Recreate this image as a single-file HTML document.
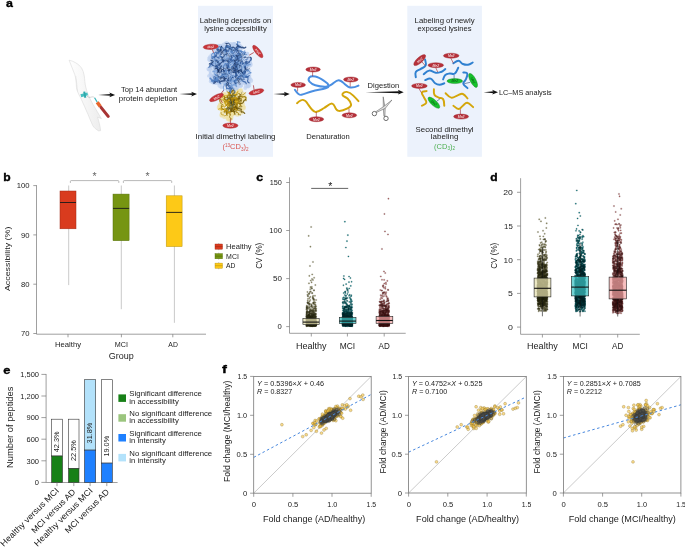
<!DOCTYPE html>
<html lang="en"><head><meta charset="utf-8"><title>Figure</title>
<style>html,body{margin:0;padding:0;background:#fff}svg{display:block}text{font-family:"Liberation Sans",Arial,sans-serif}</style>
</head><body>
<svg width="685" height="547" viewBox="0 0 685 547">
<rect width="685" height="547" fill="#fff"/>
<g id="panelA">
<rect x="198" y="5.8" width="75" height="151" fill="#ECF2FC"/>
<rect x="407.3" y="5.8" width="74.6" height="151" fill="#ECF2FC"/>
<text x="6.10" y="6.70" font-size="10.9" text-anchor="start" fill="#000" font-weight="bold" textLength="6.9" lengthAdjust="spacingAndGlyphs"  stroke="#000" stroke-width="0.35">a</text>
<defs><linearGradient id="armg" x1="0" y1="0" x2="1" y2="0"><stop offset="0" stop-color="#FFFFFF"/><stop offset="1" stop-color="#EDEDED"/></linearGradient></defs>
<path d="M69.1,60.2 C73,61 78.5,63.5 81.6,68 C84.2,72.5 84.6,78 84.8,81.3 C85.4,86 86.2,89.5 87.4,92.8 C89,97 91,101 93,104.4 C95,108 97.5,112 99.6,115.6 L101.4,118.6 L97.6,117.2 C98.8,121 100.2,126 100.6,130.6 L98.7,130.9 C96,129.5 94.5,128 92.9,125.8 C91,122 89.5,118 88,114.3 C85.5,109 83.5,104 81.4,99.4 C79,95 77,91 76.5,87.9 C76.3,83 76,78.5 74.8,74.7 C73,70 71,65 69.1,60.2 Z" fill="url(#armg)" stroke="#D6D6D6" stroke-width="0.55"/>
<path d="M75.8,76 C76.8,81 76.8,86 77.6,91.5" fill="none" stroke="#DDDDDD" stroke-width="0.5"/>
<path d="M80.4,94.2 L87.3,92.4 L88,95.2 L81.2,97.2 Z" fill="#45BFC0"/>
<path d="M83.2,91.8 L85.2,91.4 L86.3,97.6 L84.4,98 Z" fill="#2FA9AC"/>
<path d="M87,96 C90,99.5 92,95 94.6,97.8" fill="none" stroke="#9A9A9A" stroke-width="0.4"/>
<line x1="94.6" y1="97.8" x2="97.3" y2="102.2" stroke="#38B5B8" stroke-width="1.2"/>
<line x1="97.2" y1="102.3" x2="100.3" y2="106.5" stroke="#E8652B" stroke-width="3.6"/>
<line x1="101" y1="107.4" x2="108.2" y2="116.4" stroke="#A83434" stroke-width="3.1" stroke-linecap="round"/>
<path d="M98.2,94.90 L110.9,93.95 L110.9,95.85 Z" fill="#111"/>
<path d="M115.1,94.90 L109.3,92.50 L110.7,94.90 L109.3,97.30 Z" fill="#111"/>
<path d="M179.3,94.10 L192.8,93.15 L192.8,95.05 Z" fill="#111"/>
<path d="M197.0,94.10 L191.2,91.70 L192.6,94.10 L191.2,96.50 Z" fill="#111"/>
<path d="M273.3,94.10 L285.5,93.15 L285.5,95.05 Z" fill="#111"/>
<path d="M289.7,94.10 L283.9,91.70 L285.3,94.10 L283.9,96.50 Z" fill="#111"/>
<path d="M365.3,92.20 L399.5,91.25 L399.5,93.15 Z" fill="#111"/>
<path d="M403.7,92.20 L397.9,89.80 L399.3,92.20 L397.9,94.60 Z" fill="#111"/>
<path d="M483.6,92.20 L493.8,91.25 L493.8,93.15 Z" fill="#111"/>
<path d="M498.0,92.20 L492.2,89.80 L493.6,92.20 L492.2,94.60 Z" fill="#111"/>
<text x="149.10" y="91.70" font-size="7.5" text-anchor="middle" fill="#222" textLength="56.2" lengthAdjust="spacingAndGlyphs" >Top 14 abundant</text>
<text x="148.10" y="100.50" font-size="7.5" text-anchor="middle" fill="#222" textLength="58.6" lengthAdjust="spacingAndGlyphs" >protein depletion</text>
<text x="235.50" y="22.70" font-size="7.5" text-anchor="middle" fill="#222" textLength="71.5" lengthAdjust="spacingAndGlyphs" >Labeling depends on</text>
<text x="235.50" y="30.80" font-size="7.5" text-anchor="middle" fill="#222" textLength="62.5" lengthAdjust="spacingAndGlyphs" >lysine accessibility</text>
<text x="235.50" y="138.80" font-size="7.5" text-anchor="middle" fill="#222" textLength="80.0" lengthAdjust="spacingAndGlyphs" >Initial dimethyl labeling</text>
<text x="235.5" y="149.2" font-size="7.5" text-anchor="middle" fill="#D9534F">(<tspan font-size="4.6" dy="-2.6">13</tspan><tspan dy="2.6">CD</tspan><tspan font-size="4.6" dy="1.6">3</tspan><tspan dy="-1.6">)</tspan><tspan font-size="4.6" dy="1.6">2</tspan></text>
<text x="328.00" y="139.00" font-size="7.5" text-anchor="middle" fill="#222" textLength="43.5" lengthAdjust="spacingAndGlyphs" >Denaturation</text>
<text x="383.40" y="87.50" font-size="7.5" text-anchor="middle" fill="#222" textLength="31.6" lengthAdjust="spacingAndGlyphs" >Digestion</text>
<text x="444.60" y="22.70" font-size="7.5" text-anchor="middle" fill="#222" textLength="60.0" lengthAdjust="spacingAndGlyphs" >Labeling of newly</text>
<text x="444.60" y="30.80" font-size="7.5" text-anchor="middle" fill="#222" textLength="54.0" lengthAdjust="spacingAndGlyphs" >exposed lysines</text>
<text x="444.60" y="132.00" font-size="7.5" text-anchor="middle" fill="#222" textLength="58.0" lengthAdjust="spacingAndGlyphs" >Second dimethyl</text>
<text x="444.60" y="138.60" font-size="7.5" text-anchor="middle" fill="#222" textLength="27.5" lengthAdjust="spacingAndGlyphs" >labeling</text>
<text x="444.6" y="148.6" font-size="7.5" text-anchor="middle" fill="#4CAF50">(CD<tspan font-size="4.6" dy="1.6">3</tspan><tspan dy="-1.6">)</tspan><tspan font-size="4.6" dy="1.6">2</tspan></text>
<text x="498.90" y="95.00" font-size="7.5" text-anchor="start" fill="#222" textLength="52.8" lengthAdjust="spacingAndGlyphs" >LC–MS analysis</text>
<circle cx="222.7" cy="103.7" r="2.8" fill="#EFE2A6" fill-opacity="0.75"/>
<circle cx="223.3" cy="102.7" r="2.4" fill="#EFE2A6" fill-opacity="0.75"/>
<circle cx="231.1" cy="114.8" r="2.4" fill="#EFE2A6" fill-opacity="0.75"/>
<circle cx="234.7" cy="99.3" r="2.0" fill="#EFE2A6" fill-opacity="0.75"/>
<circle cx="237.4" cy="114.3" r="2.5" fill="#EFE2A6" fill-opacity="0.75"/>
<circle cx="241.1" cy="111.7" r="2.9" fill="#EFE2A6" fill-opacity="0.75"/>
<circle cx="231.0" cy="91.6" r="1.8" fill="#EFE2A6" fill-opacity="0.75"/>
<circle cx="239.6" cy="107.8" r="1.7" fill="#EFE2A6" fill-opacity="0.75"/>
<circle cx="231.2" cy="111.3" r="1.6" fill="#EFE2A6" fill-opacity="0.75"/>
<circle cx="223.9" cy="102.9" r="2.7" fill="#EFE2A6" fill-opacity="0.75"/>
<circle cx="223.8" cy="98.5" r="2.2" fill="#EFE2A6" fill-opacity="0.75"/>
<circle cx="231.6" cy="93.1" r="2.0" fill="#EFE2A6" fill-opacity="0.75"/>
<circle cx="243.2" cy="107.8" r="2.7" fill="#EFE2A6" fill-opacity="0.75"/>
<circle cx="233.7" cy="94.5" r="1.9" fill="#EFE2A6" fill-opacity="0.75"/>
<circle cx="229.7" cy="107.1" r="2.6" fill="#EFE2A6" fill-opacity="0.75"/>
<circle cx="220.4" cy="108.4" r="2.1" fill="#EFE2A6" fill-opacity="0.75"/>
<circle cx="243.4" cy="103.8" r="1.6" fill="#EFE2A6" fill-opacity="0.75"/>
<circle cx="228.9" cy="118.7" r="2.2" fill="#EFE2A6" fill-opacity="0.75"/>
<circle cx="239.4" cy="105.1" r="1.7" fill="#EFE2A6" fill-opacity="0.75"/>
<circle cx="229.2" cy="91.0" r="2.0" fill="#EFE2A6" fill-opacity="0.75"/>
<circle cx="235.6" cy="110.3" r="2.9" fill="#EFE2A6" fill-opacity="0.75"/>
<circle cx="234.3" cy="98.3" r="1.9" fill="#EFE2A6" fill-opacity="0.75"/>
<circle cx="233.3" cy="106.6" r="2.6" fill="#EFE2A6" fill-opacity="0.75"/>
<circle cx="231.5" cy="115.3" r="2.2" fill="#EFE2A6" fill-opacity="0.75"/>
<circle cx="230.5" cy="117.1" r="1.8" fill="#EFE2A6" fill-opacity="0.75"/>
<circle cx="231.3" cy="98.4" r="2.1" fill="#EFE2A6" fill-opacity="0.75"/>
<circle cx="230.2" cy="111.8" r="2.9" fill="#EFE2A6" fill-opacity="0.75"/>
<circle cx="237.2" cy="96.4" r="2.8" fill="#EFE2A6" fill-opacity="0.75"/>
<circle cx="229.9" cy="113.5" r="2.7" fill="#EFE2A6" fill-opacity="0.75"/>
<circle cx="231.3" cy="98.8" r="2.9" fill="#EFE2A6" fill-opacity="0.75"/>
<circle cx="230.2" cy="111.6" r="2.6" fill="#EFE2A6" fill-opacity="0.75"/>
<circle cx="226.2" cy="109.7" r="1.7" fill="#EFE2A6" fill-opacity="0.75"/>
<circle cx="236.6" cy="112.7" r="1.9" fill="#EFE2A6" fill-opacity="0.75"/>
<circle cx="228.8" cy="95.8" r="2.2" fill="#EFE2A6" fill-opacity="0.75"/>
<circle cx="240.6" cy="103.8" r="2.3" fill="#EFE2A6" fill-opacity="0.75"/>
<circle cx="237.1" cy="99.9" r="1.8" fill="#EFE2A6" fill-opacity="0.75"/>
<circle cx="243.5" cy="99.4" r="1.9" fill="#EFE2A6" fill-opacity="0.75"/>
<circle cx="230.6" cy="117.2" r="2.8" fill="#EFE2A6" fill-opacity="0.75"/>
<circle cx="229.9" cy="119.0" r="2.7" fill="#EFE2A6" fill-opacity="0.75"/>
<circle cx="228.7" cy="95.2" r="1.7" fill="#EFE2A6" fill-opacity="0.75"/>
<circle cx="241.1" cy="111.4" r="1.9" fill="#EFE2A6" fill-opacity="0.75"/>
<circle cx="233.4" cy="95.4" r="2.7" fill="#EFE2A6" fill-opacity="0.75"/>
<circle cx="229.0" cy="96.8" r="1.8" fill="#EFE2A6" fill-opacity="0.75"/>
<circle cx="233.1" cy="99.3" r="1.9" fill="#EFE2A6" fill-opacity="0.75"/>
<circle cx="224.5" cy="94.5" r="2.4" fill="#EFE2A6" fill-opacity="0.75"/>
<circle cx="224.2" cy="117.1" r="1.9" fill="#EFE2A6" fill-opacity="0.75"/>
<circle cx="237.4" cy="106.6" r="2.2" fill="#EFE2A6" fill-opacity="0.75"/>
<circle cx="235.4" cy="107.6" r="2.1" fill="#EFE2A6" fill-opacity="0.75"/>
<circle cx="229.4" cy="99.6" r="2.1" fill="#EFE2A6" fill-opacity="0.75"/>
<circle cx="244.4" cy="97.4" r="2.5" fill="#EFE2A6" fill-opacity="0.75"/>
<circle cx="233.3" cy="91.4" r="1.8" fill="#EFE2A6" fill-opacity="0.75"/>
<circle cx="233.3" cy="104.5" r="2.8" fill="#EFE2A6" fill-opacity="0.75"/>
<circle cx="234.5" cy="87.9" r="1.6" fill="#EFE2A6" fill-opacity="0.75"/>
<circle cx="230.2" cy="93.4" r="2.5" fill="#EFE2A6" fill-opacity="0.75"/>
<circle cx="221.7" cy="115.5" r="1.7" fill="#EFE2A6" fill-opacity="0.75"/>
<circle cx="224.4" cy="96.1" r="2.8" fill="#EFE2A6" fill-opacity="0.75"/>
<circle cx="236.4" cy="90.4" r="2.6" fill="#EFE2A6" fill-opacity="0.75"/>
<circle cx="239.5" cy="101.2" r="2.5" fill="#EFE2A6" fill-opacity="0.75"/>
<circle cx="243.8" cy="98.6" r="2.1" fill="#EFE2A6" fill-opacity="0.75"/>
<circle cx="240.2" cy="90.8" r="2.3" fill="#EFE2A6" fill-opacity="0.75"/>
<circle cx="229.8" cy="94.8" r="2.4" fill="#EFE2A6" fill-opacity="0.75"/>
<circle cx="230.7" cy="99.8" r="2.4" fill="#EFE2A6" fill-opacity="0.75"/>
<circle cx="242.7" cy="107.1" r="2.5" fill="#EFE2A6" fill-opacity="0.75"/>
<circle cx="221.3" cy="109.0" r="2.4" fill="#EFE2A6" fill-opacity="0.75"/>
<circle cx="220.4" cy="104.8" r="1.7" fill="#EFE2A6" fill-opacity="0.75"/>
<circle cx="233.1" cy="100.9" r="2.4" fill="#EFE2A6" fill-opacity="0.75"/>
<circle cx="226.3" cy="102.2" r="2.5" fill="#EFE2A6" fill-opacity="0.75"/>
<circle cx="223.2" cy="100.2" r="2.8" fill="#EFE2A6" fill-opacity="0.75"/>
<circle cx="231.3" cy="105.1" r="2.0" fill="#EFE2A6" fill-opacity="0.75"/>
<circle cx="232.3" cy="96.4" r="1.8" fill="#EFE2A6" fill-opacity="0.75"/>
<circle cx="242.3" cy="99.6" r="2.2" fill="#EFE2A6" fill-opacity="0.75"/>
<circle cx="239.2" cy="100.0" r="2.5" fill="#EFE2A6" fill-opacity="0.75"/>
<circle cx="230.5" cy="114.0" r="2.6" fill="#EFE2A6" fill-opacity="0.75"/>
<circle cx="243.9" cy="99.8" r="2.1" fill="#EFE2A6" fill-opacity="0.75"/>
<circle cx="228.3" cy="97.0" r="1.8" fill="#EFE2A6" fill-opacity="0.75"/>
<circle cx="221.7" cy="99.7" r="2.7" fill="#EFE2A6" fill-opacity="0.75"/>
<circle cx="235.2" cy="88.0" r="2.0" fill="#EFE2A6" fill-opacity="0.75"/>
<circle cx="232.0" cy="113.9" r="2.0" fill="#EFE2A6" fill-opacity="0.75"/>
<circle cx="229.7" cy="113.7" r="2.4" fill="#EFE2A6" fill-opacity="0.75"/>
<circle cx="225.6" cy="101.3" r="2.7" fill="#EFE2A6" fill-opacity="0.75"/>
<circle cx="239.9" cy="105.3" r="1.7" fill="#EFE2A6" fill-opacity="0.75"/>
<circle cx="241.1" cy="110.4" r="1.7" fill="#EFE2A6" fill-opacity="0.75"/>
<circle cx="234.4" cy="91.5" r="2.0" fill="#EFE2A6" fill-opacity="0.75"/>
<circle cx="233.2" cy="101.6" r="1.8" fill="#EFE2A6" fill-opacity="0.75"/>
<circle cx="230.0" cy="103.5" r="2.7" fill="#EFE2A6" fill-opacity="0.75"/>
<circle cx="230.0" cy="109.4" r="1.7" fill="#EFE2A6" fill-opacity="0.75"/>
<circle cx="229.9" cy="94.0" r="2.4" fill="#EFE2A6" fill-opacity="0.75"/>
<circle cx="231.0" cy="89.9" r="2.8" fill="#EFE2A6" fill-opacity="0.75"/>
<circle cx="232.5" cy="96.4" r="2.2" fill="#EFE2A6" fill-opacity="0.75"/>
<circle cx="231.9" cy="105.1" r="2.2" fill="#EFE2A6" fill-opacity="0.75"/>
<circle cx="233.5" cy="96.8" r="2.0" fill="#EFE2A6" fill-opacity="0.75"/>
<circle cx="222.5" cy="111.9" r="2.3" fill="#EFE2A6" fill-opacity="0.75"/>
<circle cx="228.3" cy="91.8" r="2.1" fill="#EFE2A6" fill-opacity="0.75"/>
<circle cx="240.4" cy="90.6" r="1.7" fill="#EFE2A6" fill-opacity="0.75"/>
<circle cx="242.8" cy="101.6" r="1.8" fill="#EFE2A6" fill-opacity="0.75"/>
<circle cx="222.2" cy="103.6" r="2.8" fill="#EFE2A6" fill-opacity="0.75"/>
<circle cx="222.7" cy="109.1" r="2.7" fill="#EFE2A6" fill-opacity="0.75"/>
<circle cx="240.9" cy="90.5" r="2.2" fill="#EFE2A6" fill-opacity="0.75"/>
<circle cx="231.4" cy="96.7" r="2.5" fill="#EFE2A6" fill-opacity="0.75"/>
<circle cx="240.2" cy="93.9" r="2.5" fill="#EFE2A6" fill-opacity="0.75"/>
<circle cx="228.7" cy="118.6" r="2.9" fill="#EFE2A6" fill-opacity="0.75"/>
<circle cx="240.7" cy="105.2" r="2.6" fill="#EFE2A6" fill-opacity="0.75"/>
<circle cx="222.1" cy="114.9" r="2.7" fill="#EFE2A6" fill-opacity="0.75"/>
<circle cx="228.7" cy="106.3" r="2.2" fill="#EFE2A6" fill-opacity="0.75"/>
<circle cx="224.4" cy="95.6" r="2.2" fill="#EFE2A6" fill-opacity="0.75"/>
<circle cx="240.9" cy="109.9" r="1.7" fill="#EFE2A6" fill-opacity="0.75"/>
<circle cx="235.9" cy="98.0" r="2.0" fill="#EFE2A6" fill-opacity="0.75"/>
<circle cx="235.2" cy="98.3" r="1.8" fill="#EFE2A6" fill-opacity="0.75"/>
<circle cx="223.1" cy="98.3" r="2.7" fill="#EFE2A6" fill-opacity="0.75"/>
<circle cx="233.6" cy="88.1" r="2.2" fill="#EFE2A6" fill-opacity="0.75"/>
<circle cx="235.7" cy="103.3" r="1.9" fill="#EFE2A6" fill-opacity="0.75"/>
<circle cx="226.6" cy="99.7" r="2.5" fill="#EFE2A6" fill-opacity="0.75"/>
<circle cx="230.3" cy="92.9" r="2.7" fill="#EFE2A6" fill-opacity="0.75"/>
<circle cx="227.5" cy="98.0" r="2.1" fill="#EFE2A6" fill-opacity="0.75"/>
<circle cx="242.8" cy="93.9" r="1.9" fill="#EFE2A6" fill-opacity="0.75"/>
<circle cx="243.4" cy="94.0" r="2.3" fill="#EFE2A6" fill-opacity="0.75"/>
<circle cx="228.8" cy="98.7" r="2.3" fill="#EFE2A6" fill-opacity="0.75"/>
<circle cx="223.4" cy="99.8" r="1.6" fill="#EFE2A6" fill-opacity="0.75"/>
<circle cx="240.7" cy="104.6" r="2.1" fill="#EFE2A6" fill-opacity="0.75"/>
<circle cx="239.0" cy="93.7" r="2.2" fill="#EFE2A6" fill-opacity="0.75"/>
<circle cx="232.4" cy="99.4" r="2.3" fill="#EFE2A6" fill-opacity="0.75"/>
<circle cx="219.6" cy="107.4" r="2.8" fill="#EFE2A6" fill-opacity="0.75"/>
<circle cx="226.9" cy="113.6" r="1.8" fill="#EFE2A6" fill-opacity="0.75"/>
<circle cx="220.6" cy="105.4" r="2.8" fill="#EFE2A6" fill-opacity="0.75"/>
<circle cx="225.3" cy="102.3" r="1.8" fill="#EFE2A6" fill-opacity="0.75"/>
<circle cx="228.1" cy="90.4" r="1.8" fill="#EFE2A6" fill-opacity="0.75"/>
<circle cx="233.2" cy="101.4" r="1.9" fill="#EFE2A6" fill-opacity="0.75"/>
<circle cx="228.2" cy="116.6" r="2.0" fill="#EFE2A6" fill-opacity="0.75"/>
<circle cx="222.8" cy="110.8" r="1.7" fill="#EFE2A6" fill-opacity="0.75"/>
<circle cx="233.7" cy="98.0" r="2.3" fill="#EFE2A6" fill-opacity="0.75"/>
<circle cx="229.2" cy="110.3" r="2.3" fill="#EFE2A6" fill-opacity="0.75"/>
<circle cx="224.2" cy="104.6" r="2.1" fill="#EFE2A6" fill-opacity="0.75"/>
<circle cx="228.1" cy="100.6" r="1.9" fill="#EFE2A6" fill-opacity="0.75"/>
<circle cx="229.6" cy="92.1" r="2.3" fill="#EFE2A6" fill-opacity="0.75"/>
<circle cx="241.1" cy="96.0" r="2.7" fill="#EFE2A6" fill-opacity="0.75"/>
<circle cx="227.8" cy="117.0" r="2.7" fill="#EFE2A6" fill-opacity="0.75"/>
<circle cx="239.1" cy="100.6" r="2.0" fill="#EFE2A6" fill-opacity="0.75"/>
<circle cx="237.9" cy="102.0" r="2.9" fill="#EFE2A6" fill-opacity="0.75"/>
<circle cx="236.6" cy="101.1" r="1.9" fill="#EFE2A6" fill-opacity="0.75"/>
<circle cx="234.3" cy="95.5" r="1.7" fill="#EFE2A6" fill-opacity="0.75"/>
<circle cx="239.1" cy="96.3" r="2.6" fill="#EFE2A6" fill-opacity="0.75"/>
<circle cx="234.2" cy="112.4" r="2.5" fill="#EFE2A6" fill-opacity="0.75"/>
<circle cx="236.6" cy="106.3" r="2.5" fill="#EFE2A6" fill-opacity="0.75"/>
<circle cx="244.5" cy="99.3" r="1.8" fill="#EFE2A6" fill-opacity="0.75"/>
<circle cx="222.5" cy="99.1" r="2.3" fill="#EFE2A6" fill-opacity="0.75"/>
<circle cx="232.6" cy="96.6" r="1.7" fill="#EFE2A6" fill-opacity="0.75"/>
<circle cx="233.0" cy="106.0" r="2.3" fill="#EFE2A6" fill-opacity="0.75"/>
<circle cx="224.1" cy="99.1" r="1.8" fill="#EFE2A6" fill-opacity="0.75"/>
<circle cx="231.5" cy="110.6" r="2.7" fill="#EFE2A6" fill-opacity="0.75"/>
<circle cx="243.1" cy="106.9" r="1.7" fill="#EFE2A6" fill-opacity="0.75"/>
<path d="M225.2,102.1 Q223.5,100.4 222.4,99.9 Q220.4,100.8 219.5,98.2" fill="none" stroke="#A27C07" stroke-width="0.78" stroke-linecap="round" stroke-opacity="0.9"/>
<path d="M228.4,103.7 Q229.5,104.0 230.2,103.0 Q231.8,104.7 233.3,103.8" fill="none" stroke="#A27C07" stroke-width="0.82" stroke-linecap="round" stroke-opacity="0.9"/>
<path d="M237.2,104.5 Q236.6,104.9 235.7,105.5 Q237.2,106.8 236.0,108.4 Q235.1,109.1 234.2,109.9 Q234.3,110.3 232.5,111.4" fill="none" stroke="#9A7808" stroke-width="1.24" stroke-linecap="round" stroke-opacity="0.9"/>
<path d="M232.2,95.7 Q232.4,97.0 231.5,97.7 Q230.7,99.0 231.6,100.4 Q233.6,100.8 233.1,103.4 Q233.5,104.3 232.9,105.0" fill="none" stroke="#A27C07" stroke-width="0.82" stroke-linecap="round" stroke-opacity="0.9"/>
<path d="M234.3,107.5 Q234.7,108.9 232.6,109.7 Q233.0,110.7 233.2,111.7 Q234.9,113.6 234.3,115.0" fill="none" stroke="#D1A512" stroke-width="0.80" stroke-linecap="round" stroke-opacity="0.9"/>
<path d="M234.7,97.4 Q234.3,96.4 236.0,94.5 Q235.6,93.3 236.9,92.7 Q238.0,92.4 237.9,91.1" fill="none" stroke="#D1A512" stroke-width="1.05" stroke-linecap="round" stroke-opacity="0.9"/>
<path d="M229.1,112.2 Q227.8,112.4 226.7,113.9 Q226.9,115.4 224.7,115.8 Q223.1,114.4 222.1,114.8 Q220.5,114.5 221.0,112.4" fill="none" stroke="#B8900A" stroke-width="0.77" stroke-linecap="round" stroke-opacity="0.9"/>
<path d="M237.9,99.3 Q237.9,100.2 238.1,100.9 Q237.7,101.4 236.2,101.5 Q237.0,102.9 236.3,103.9" fill="none" stroke="#D1A512" stroke-width="1.05" stroke-linecap="round" stroke-opacity="0.9"/>
<path d="M228.4,105.3 Q230.3,105.6 230.9,103.4 Q232.2,101.5 233.6,101.7" fill="none" stroke="#D1A512" stroke-width="0.80" stroke-linecap="round" stroke-opacity="0.9"/>
<path d="M226.7,113.6 Q226.8,112.6 226.7,111.8 Q226.1,110.9 226.0,109.9 Q225.4,108.8 226.4,108.2" fill="none" stroke="#9A7808" stroke-width="1.12" stroke-linecap="round" stroke-opacity="0.9"/>
<path d="M232.1,91.3 Q232.5,92.1 232.6,94.1 Q231.5,95.2 232.4,96.5" fill="none" stroke="#9A7808" stroke-width="0.70" stroke-linecap="round" stroke-opacity="0.9"/>
<path d="M227.4,107.0 Q228.9,108.5 229.5,108.5 Q231.0,108.6 232.0,108.7 Q232.4,108.4 233.9,110.3" fill="none" stroke="#9A7808" stroke-width="0.92" stroke-linecap="round" stroke-opacity="0.9"/>
<path d="M234.1,91.7 Q232.5,89.9 231.3,89.5 Q229.5,89.2 228.3,89.0 Q227.6,89.9 226.2,89.6" fill="none" stroke="#A27C07" stroke-width="0.77" stroke-linecap="round" stroke-opacity="0.9"/>
<path d="M226.9,101.2 Q225.3,99.7 224.5,99.8 Q223.9,98.7 225.0,97.7 Q226.6,97.0 227.7,97.1" fill="none" stroke="#A27C07" stroke-width="1.06" stroke-linecap="round" stroke-opacity="0.9"/>
<path d="M224.7,110.7 Q224.7,109.6 223.6,109.2 Q222.5,108.6 221.6,109.8 Q220.2,108.1 218.6,109.1" fill="none" stroke="#D1A512" stroke-width="1.12" stroke-linecap="round" stroke-opacity="0.9"/>
<path d="M236.9,98.8 Q237.8,98.3 238.3,99.4 Q239.4,98.4 239.8,98.3 Q239.3,97.4 239.7,96.4 Q240.3,95.4 240.1,94.7" fill="none" stroke="#6E560A" stroke-width="0.75" stroke-linecap="round" stroke-opacity="0.9"/>
<path d="M234.7,104.3 Q233.2,104.9 232.3,104.9 Q230.7,106.1 230.0,106.1 Q230.0,104.7 228.3,104.2" fill="none" stroke="#6E560A" stroke-width="1.00" stroke-linecap="round" stroke-opacity="0.9"/>
<path d="M237.3,103.1 Q238.5,103.7 239.3,103.0 Q241.3,105.1 241.0,106.0" fill="none" stroke="#A27C07" stroke-width="1.04" stroke-linecap="round" stroke-opacity="0.9"/>
<path d="M240.4,103.4 Q241.7,102.0 241.1,100.7 Q241.7,99.8 241.5,98.6" fill="none" stroke="#9A7808" stroke-width="0.91" stroke-linecap="round" stroke-opacity="0.9"/>
<path d="M231.9,96.0 Q232.2,96.7 231.5,98.3 Q232.3,100.0 230.1,100.8 Q228.5,101.8 228.8,103.5 Q227.9,104.4 228.9,105.8" fill="none" stroke="#6E560A" stroke-width="0.89" stroke-linecap="round" stroke-opacity="0.9"/>
<path d="M239.3,98.6 Q237.9,99.6 237.0,98.8 Q235.1,99.8 233.5,98.8" fill="none" stroke="#6E560A" stroke-width="1.24" stroke-linecap="round" stroke-opacity="0.9"/>
<path d="M233.7,111.2 Q232.1,111.4 231.0,110.9 Q229.8,111.9 229.0,112.0 Q228.4,112.9 226.8,113.2" fill="none" stroke="#9A7808" stroke-width="1.22" stroke-linecap="round" stroke-opacity="0.9"/>
<path d="M230.3,94.6 Q230.8,93.3 230.4,92.4 Q229.2,90.8 230.6,89.5" fill="none" stroke="#B8900A" stroke-width="1.18" stroke-linecap="round" stroke-opacity="0.9"/>
<path d="M231.8,111.5 Q232.7,111.8 233.9,110.4 Q234.5,109.4 234.4,108.5 Q235.9,107.2 235.6,106.3" fill="none" stroke="#6E560A" stroke-width="0.92" stroke-linecap="round" stroke-opacity="0.9"/>
<path d="M226.9,102.8 Q226.0,102.0 224.6,101.5 Q224.4,100.4 223.2,99.1" fill="none" stroke="#D1A512" stroke-width="0.78" stroke-linecap="round" stroke-opacity="0.9"/>
<path d="M235.8,109.8 Q234.0,108.3 232.4,109.2 Q231.3,109.5 230.3,109.3 Q230.9,110.2 230.2,110.9 Q230.5,111.2 231.7,111.8" fill="none" stroke="#6E560A" stroke-width="0.87" stroke-linecap="round" stroke-opacity="0.9"/>
<path d="M233.6,107.1 Q234.7,107.5 237.0,107.6 Q238.0,107.9 238.8,107.1 Q240.4,107.0 241.9,106.7" fill="none" stroke="#6E560A" stroke-width="0.76" stroke-linecap="round" stroke-opacity="0.9"/>
<path d="M231.0,98.4 Q231.2,97.8 229.4,97.0 Q229.7,96.5 229.8,95.4 Q231.4,93.8 230.0,92.3 Q229.8,91.4 229.7,90.8" fill="none" stroke="#9A7808" stroke-width="0.71" stroke-linecap="round" stroke-opacity="0.9"/>
<path d="M237.1,95.0 Q235.8,94.5 234.7,95.3 Q232.9,94.1 231.6,95.5 Q230.3,96.0 229.6,94.5" fill="none" stroke="#B8900A" stroke-width="1.15" stroke-linecap="round" stroke-opacity="0.9"/>
<path d="M234.2,112.4 Q235.8,110.3 236.8,110.0 Q237.4,109.4 239.9,110.9" fill="none" stroke="#6E560A" stroke-width="0.71" stroke-linecap="round" stroke-opacity="0.9"/>
<path d="M232.5,110.9 Q231.5,110.7 229.7,109.3 Q228.6,108.7 229.2,106.9 Q228.4,105.6 229.6,104.7" fill="none" stroke="#6E560A" stroke-width="0.90" stroke-linecap="round" stroke-opacity="0.9"/>
<path d="M235.4,106.3 Q237.3,108.4 237.9,108.7 Q239.4,108.3 241.3,109.2 Q240.6,110.7 241.4,112.1 Q243.2,111.5 244.7,113.3" fill="none" stroke="#6E560A" stroke-width="1.25" stroke-linecap="round" stroke-opacity="0.9"/>
<path d="M236.7,104.2 Q237.6,105.3 237.0,107.6 Q235.0,108.1 233.7,108.2" fill="none" stroke="#9A7808" stroke-width="1.17" stroke-linecap="round" stroke-opacity="0.9"/>
<path d="M230.1,93.2 Q231.5,92.3 232.5,90.7 Q234.1,90.8 234.4,88.2 Q236.0,87.4 237.2,88.8" fill="none" stroke="#6E560A" stroke-width="1.09" stroke-linecap="round" stroke-opacity="0.9"/>
<path d="M234.7,103.7 Q233.2,102.4 231.9,103.9 Q230.5,103.5 229.7,102.7" fill="none" stroke="#9A7808" stroke-width="0.79" stroke-linecap="round" stroke-opacity="0.9"/>
<path d="M238.4,96.6 Q239.6,96.0 241.0,96.6 Q242.1,97.3 242.8,97.1 Q244.6,95.9 246.1,97.8 Q245.4,99.4 246.0,100.6" fill="none" stroke="#9A7808" stroke-width="1.21" stroke-linecap="round" stroke-opacity="0.9"/>
<path d="M239.6,103.6 Q241.2,103.9 242.3,103.3 Q243.2,103.1 243.7,101.4 Q243.4,100.5 245.6,99.5" fill="none" stroke="#6E560A" stroke-width="1.16" stroke-linecap="round" stroke-opacity="0.9"/>
<path d="M232.8,107.9 Q232.0,108.6 232.6,109.5 Q232.1,110.5 231.2,110.6 Q229.2,112.1 229.0,113.3 Q229.9,114.4 230.0,114.8" fill="none" stroke="#6E560A" stroke-width="0.71" stroke-linecap="round" stroke-opacity="0.9"/>
<path d="M224.0,111.9 Q225.2,110.4 226.5,110.1 Q227.8,108.2 228.1,107.1" fill="none" stroke="#B8900A" stroke-width="1.18" stroke-linecap="round" stroke-opacity="0.9"/>
<path d="M223.0,105.0 Q220.9,104.4 220.4,102.6 Q219.1,100.6 219.7,99.3 Q218.9,99.0 219.3,97.8" fill="none" stroke="#9A7808" stroke-width="0.94" stroke-linecap="round" stroke-opacity="0.9"/>
<path d="M226.3,100.8 Q228.2,99.9 229.3,101.8 Q228.8,103.5 229.2,105.4 Q227.2,105.1 225.9,105.3" fill="none" stroke="#9A7808" stroke-width="0.73" stroke-linecap="round" stroke-opacity="0.9"/>
<path d="M237.0,99.3 Q235.9,97.8 233.5,98.7 Q232.6,99.1 231.9,99.0 Q231.8,100.0 230.3,100.3" fill="none" stroke="#B8900A" stroke-width="0.76" stroke-linecap="round" stroke-opacity="0.9"/>
<path d="M227.3,104.5 Q229.0,103.9 229.9,102.8 Q228.3,102.6 228.2,100.0" fill="none" stroke="#9A7808" stroke-width="0.71" stroke-linecap="round" stroke-opacity="0.9"/>
<path d="M223.8,109.4 Q222.1,109.7 221.6,107.7 Q221.4,106.8 221.3,105.5" fill="none" stroke="#9A7808" stroke-width="1.10" stroke-linecap="round" stroke-opacity="0.9"/>
<path d="M229.4,105.8 Q228.4,104.8 228.9,104.2 Q227.3,103.6 225.9,104.5 Q225.5,103.5 225.5,102.7" fill="none" stroke="#B8900A" stroke-width="0.88" stroke-linecap="round" stroke-opacity="0.9"/>
<path d="M233.3,110.6 Q233.5,111.6 234.7,111.5 Q234.4,113.1 235.0,114.2" fill="none" stroke="#6E560A" stroke-width="1.02" stroke-linecap="round" stroke-opacity="0.9"/>
<path d="M228.3,98.8 Q226.8,100.3 226.5,100.5 Q224.7,99.0 224.1,98.4 Q224.9,97.5 224.3,96.4 Q223.1,95.8 221.7,96.1" fill="none" stroke="#9A7808" stroke-width="1.24" stroke-linecap="round" stroke-opacity="0.9"/>
<path d="M233.8,92.7 Q232.3,94.6 231.6,95.2 Q232.8,96.5 232.4,97.5 Q233.7,99.5 233.1,100.8 Q232.0,101.6 230.8,101.5" fill="none" stroke="#6E560A" stroke-width="0.94" stroke-linecap="round" stroke-opacity="0.9"/>
<path d="M236.0,109.2 Q236.1,111.2 236.4,112.5 Q237.0,111.8 238.3,113.0 Q238.5,114.0 238.3,114.8 Q239.4,114.5 240.7,114.9" fill="none" stroke="#9A7808" stroke-width="0.89" stroke-linecap="round" stroke-opacity="0.9"/>
<path d="M230.5,111.0 Q231.0,112.4 229.9,113.2 Q230.7,114.3 230.4,114.9 Q228.7,116.6 230.2,118.2 Q231.2,119.1 231.8,119.1" fill="none" stroke="#9A7808" stroke-width="0.94" stroke-linecap="round" stroke-opacity="0.9"/>
<path d="M235.2,95.5 Q235.7,96.8 236.5,97.8 Q235.8,98.9 236.3,99.6 Q235.9,101.5 234.4,102.2" fill="none" stroke="#A27C07" stroke-width="0.93" stroke-linecap="round" stroke-opacity="0.9"/>
<path d="M231.1,99.3 Q231.0,100.6 231.6,101.8 Q232.0,102.6 233.1,102.2 Q234.8,102.9 235.9,102.4" fill="none" stroke="#B8900A" stroke-width="1.05" stroke-linecap="round" stroke-opacity="0.9"/>
<path d="M235.9,105.1 Q236.1,104.7 236.4,103.3 Q237.3,103.1 237.2,102.0 Q238.8,100.3 237.7,99.0 Q239.0,99.5 240.4,98.8" fill="none" stroke="#D1A512" stroke-width="0.76" stroke-linecap="round" stroke-opacity="0.9"/>
<path d="M229.4,107.0 Q230.7,108.4 232.2,107.0 Q231.0,105.3 232.7,103.9 Q230.9,103.5 230.0,102.1" fill="none" stroke="#B8900A" stroke-width="1.08" stroke-linecap="round" stroke-opacity="0.9"/>
<path d="M234.5,100.1 Q232.8,100.1 231.7,99.7 Q230.4,97.9 231.3,96.7 Q232.9,95.2 233.6,95.2 Q233.3,93.4 234.7,92.0" fill="none" stroke="#9A7808" stroke-width="1.18" stroke-linecap="round" stroke-opacity="0.9"/>
<path d="M238.4,97.7 Q238.8,98.8 236.6,99.9 Q235.1,101.0 234.0,100.0" fill="none" stroke="#6E560A" stroke-width="1.25" stroke-linecap="round" stroke-opacity="0.9"/>
<path d="M231.4,111.5 Q230.9,110.2 231.8,108.5 Q233.2,107.7 233.9,107.5 Q235.2,106.8 236.1,107.1 Q236.5,108.6 237.4,109.6" fill="none" stroke="#6E560A" stroke-width="1.22" stroke-linecap="round" stroke-opacity="0.9"/>
<path d="M229.6,98.6 Q230.5,99.3 231.3,98.9 Q232.1,99.0 233.1,98.5 Q233.9,97.5 234.3,97.3 Q236.1,97.8 237.0,98.7" fill="none" stroke="#B8900A" stroke-width="1.23" stroke-linecap="round" stroke-opacity="0.9"/>
<path d="M239.2,93.7 Q240.4,94.8 241.0,94.7 Q242.2,95.1 243.1,94.9 Q243.9,94.4 244.3,93.7 Q245.4,92.9 245.8,92.6" fill="none" stroke="#A27C07" stroke-width="0.72" stroke-linecap="round" stroke-opacity="0.9"/>
<path d="M227.0,100.2 Q227.7,99.3 228.8,99.5 Q229.9,100.2 230.9,99.1 Q231.5,100.0 233.0,100.3 Q234.6,102.2 233.5,103.7" fill="none" stroke="#6E560A" stroke-width="0.91" stroke-linecap="round" stroke-opacity="0.9"/>
<path d="M230.2,92.5 Q229.2,92.4 228.6,92.9 Q226.9,91.3 227.1,90.5" fill="none" stroke="#A27C07" stroke-width="1.14" stroke-linecap="round" stroke-opacity="0.9"/>
<path d="M240.4,98.7 Q239.9,99.7 237.0,100.0 Q235.7,100.2 234.5,100.3 Q234.7,101.8 232.4,102.3 Q231.8,102.8 230.0,102.9" fill="none" stroke="#6E560A" stroke-width="0.99" stroke-linecap="round" stroke-opacity="0.9"/>
<path d="M234.5,95.2 Q235.8,95.8 237.0,94.3 Q238.4,93.1 239.3,93.6 Q240.1,95.0 241.2,95.4 Q241.8,96.0 242.5,96.7" fill="none" stroke="#9A7808" stroke-width="0.73" stroke-linecap="round" stroke-opacity="0.9"/>
<path d="M228.8,100.6 Q228.2,101.5 227.8,101.8 Q228.9,103.1 228.0,104.1" fill="none" stroke="#A27C07" stroke-width="1.02" stroke-linecap="round" stroke-opacity="0.9"/>
<path d="M227.1,115.2 Q226.5,113.5 226.3,112.5 Q227.0,111.4 227.9,110.5" fill="none" stroke="#9A7808" stroke-width="1.22" stroke-linecap="round" stroke-opacity="0.9"/>
<path d="M230.2,105.2 Q231.2,104.9 232.2,103.4 Q233.0,103.4 233.6,102.9 Q235.4,102.9 235.8,100.6 Q236.2,98.9 236.1,97.7" fill="none" stroke="#D1A512" stroke-width="0.93" stroke-linecap="round" stroke-opacity="0.9"/>
<path d="M224.6,106.8 Q223.1,105.5 222.0,106.4 Q220.8,107.1 221.2,108.4" fill="none" stroke="#B8900A" stroke-width="0.98" stroke-linecap="round" stroke-opacity="0.9"/>
<path d="M232.3,102.4 Q231.0,101.1 231.3,100.4 Q229.2,99.2 227.7,100.7 Q225.8,102.2 224.4,101.3 Q224.3,102.0 224.6,103.2" fill="none" stroke="#B8900A" stroke-width="0.90" stroke-linecap="round" stroke-opacity="0.9"/>
<path d="M232.6,99.1 Q232.7,101.0 231.3,102.0 Q232.8,103.5 231.0,105.3 Q232.9,106.9 234.3,106.6" fill="none" stroke="#A27C07" stroke-width="1.10" stroke-linecap="round" stroke-opacity="0.9"/>
<path d="M224.8,112.8 Q224.6,111.8 225.5,111.0 Q225.8,111.5 228.3,109.6 Q228.1,108.3 227.9,107.0 Q227.7,106.5 226.3,105.1" fill="none" stroke="#9A7808" stroke-width="0.98" stroke-linecap="round" stroke-opacity="0.9"/>
<path d="M236.0,98.5 Q237.1,99.3 237.9,98.5 Q237.9,97.2 239.8,97.3" fill="none" stroke="#A27C07" stroke-width="0.72" stroke-linecap="round" stroke-opacity="0.9"/>
<path d="M228.0,106.3 Q228.7,104.7 227.7,103.6 Q227.1,102.9 228.5,100.8 Q229.1,99.8 228.0,99.1" fill="none" stroke="#D1A512" stroke-width="1.04" stroke-linecap="round" stroke-opacity="0.9"/>
<path d="M228.9,98.5 Q228.7,97.6 227.3,97.5 Q227.1,96.4 227.9,95.5 Q229.1,95.5 229.2,94.1 Q230.1,93.8 230.1,92.6" fill="none" stroke="#9A7808" stroke-width="1.22" stroke-linecap="round" stroke-opacity="0.9"/>
<path d="M227.9,95.0 Q227.3,95.6 226.2,95.5 Q225.1,95.9 224.4,95.7 Q222.5,97.2 222.0,98.0" fill="none" stroke="#D1A512" stroke-width="0.87" stroke-linecap="round" stroke-opacity="0.9"/>
<path d="M235.3,109.4 Q235.7,109.8 237.1,109.9 Q237.8,110.7 238.8,110.4" fill="none" stroke="#D1A512" stroke-width="0.78" stroke-linecap="round" stroke-opacity="0.9"/>
<path d="M238.3,97.8 Q238.9,98.6 238.2,99.4 Q236.2,100.4 235.1,101.0" fill="none" stroke="#D1A512" stroke-width="0.78" stroke-linecap="round" stroke-opacity="0.9"/>
<path d="M232.2,100.2 Q230.8,98.7 229.5,99.6 Q228.5,98.1 229.9,96.6 Q230.1,95.7 230.3,94.8 Q229.4,94.5 228.6,93.9" fill="none" stroke="#B8900A" stroke-width="0.80" stroke-linecap="round" stroke-opacity="0.9"/>
<path d="M241.1,100.4 Q240.4,99.8 238.4,102.2 Q236.4,103.1 236.6,104.9" fill="none" stroke="#9A7808" stroke-width="1.12" stroke-linecap="round" stroke-opacity="0.9"/>
<path d="M232.6,97.1 Q231.4,96.3 230.5,96.9 Q229.5,98.5 229.8,99.6" fill="none" stroke="#A27C07" stroke-width="1.21" stroke-linecap="round" stroke-opacity="0.9"/>
<path d="M239.0,106.8 Q239.9,106.2 240.4,106.1 Q239.3,104.1 240.1,102.7 Q239.1,101.8 238.9,101.4 Q237.4,100.0 238.1,98.4" fill="none" stroke="#9A7808" stroke-width="0.99" stroke-linecap="round" stroke-opacity="0.9"/>
<path d="M235.0,94.5 Q234.4,94.2 233.5,94.7 Q232.1,95.8 232.1,96.6" fill="none" stroke="#D1A512" stroke-width="1.16" stroke-linecap="round" stroke-opacity="0.9"/>
<path d="M229.7,100.0 Q227.7,100.3 226.3,100.3 Q226.9,101.7 225.4,102.9 Q225.0,104.1 225.8,104.9 Q225.8,105.9 225.3,106.9" fill="none" stroke="#D1A512" stroke-width="0.82" stroke-linecap="round" stroke-opacity="0.9"/>
<path d="M227.1,104.4 Q227.8,102.6 228.1,101.4 Q227.6,100.5 226.6,100.7" fill="none" stroke="#A27C07" stroke-width="0.78" stroke-linecap="round" stroke-opacity="0.9"/>
<path d="M231.6,102.2 Q230.8,103.9 232.9,105.4 Q233.8,104.8 234.7,105.0 Q235.6,104.1 234.8,102.8 Q233.7,102.8 233.7,101.1" fill="none" stroke="#6E560A" stroke-width="1.09" stroke-linecap="round" stroke-opacity="0.9"/>
<path d="M229.8,112.6 Q228.5,112.7 228.0,111.2 Q226.7,109.9 226.8,109.4 Q225.6,109.7 224.8,108.5" fill="none" stroke="#D1A512" stroke-width="1.22" stroke-linecap="round" stroke-opacity="0.9"/>
<path d="M228.0,112.0 Q229.2,110.4 228.2,109.1 Q228.0,108.2 226.9,108.2" fill="none" stroke="#1F4C66" stroke-width="0.49" stroke-linecap="round" stroke-opacity="0.7"/>
<path d="M237.8,96.8 Q237.6,97.7 238.4,98.3 Q239.8,97.8 240.7,99.2 Q241.3,100.2 240.6,101.5" fill="none" stroke="#3A3420" stroke-width="0.53" stroke-linecap="round" stroke-opacity="0.7"/>
<path d="M238.5,99.0 Q240.4,97.7 239.8,96.1 Q239.6,95.0 241.5,93.6 Q241.3,92.6 242.3,91.8" fill="none" stroke="#3A3420" stroke-width="0.47" stroke-linecap="round" stroke-opacity="0.7"/>
<path d="M229.4,108.7 Q229.7,107.6 230.9,107.4 Q231.5,107.2 231.5,105.9 Q233.0,104.7 231.7,102.9 Q231.0,101.6 228.9,101.4" fill="none" stroke="#1F4C66" stroke-width="0.55" stroke-linecap="round" stroke-opacity="0.7"/>
<path d="M233.9,97.3 Q232.1,95.6 231.4,95.3 Q229.3,95.3 228.2,96.9 Q227.7,98.5 227.8,99.6" fill="none" stroke="#3A3420" stroke-width="0.52" stroke-linecap="round" stroke-opacity="0.7"/>
<path d="M230.2,99.9 Q231.7,101.9 230.8,103.3 Q229.9,104.2 230.4,106.4 Q228.8,108.0 227.8,107.6 Q226.4,108.7 226.5,109.6" fill="none" stroke="#1F4C66" stroke-width="0.59" stroke-linecap="round" stroke-opacity="0.7"/>
<path d="M226.3,99.1 Q227.6,98.7 228.8,98.3 Q230.0,96.6 231.5,97.2 Q233.5,95.7 234.6,95.9" fill="none" stroke="#1F4C66" stroke-width="0.45" stroke-linecap="round" stroke-opacity="0.7"/>
<path d="M229.9,98.1 Q230.6,99.5 230.7,100.9 Q231.6,101.8 231.3,102.4 Q231.3,103.0 231.1,104.5" fill="none" stroke="#3A3420" stroke-width="0.47" stroke-linecap="round" stroke-opacity="0.7"/>
<path d="M228.0,109.6 Q229.2,108.3 231.0,108.4 Q231.1,107.6 232.2,107.4" fill="none" stroke="#3A3420" stroke-width="0.52" stroke-linecap="round" stroke-opacity="0.7"/>
<path d="M229.6,97.8 Q231.1,99.6 231.2,100.5 Q232.3,101.1 231.9,102.1 Q231.2,103.1 230.7,103.4" fill="none" stroke="#3A3420" stroke-width="0.45" stroke-linecap="round" stroke-opacity="0.7"/>
<path d="M233.5,101.1 Q233.8,103.1 233.6,104.5 Q231.8,106.3 232.4,107.6" fill="none" stroke="#1F4C66" stroke-width="0.59" stroke-linecap="round" stroke-opacity="0.7"/>
<path d="M235.0,96.4 Q233.7,96.5 233.5,94.8 Q233.3,95.2 231.2,96.7" fill="none" stroke="#1F4C66" stroke-width="0.60" stroke-linecap="round" stroke-opacity="0.7"/>
<circle cx="238.3" cy="83.3" r="2.4" fill="#BFD2EF" fill-opacity="0.7"/>
<circle cx="218.9" cy="67.9" r="2.6" fill="#BFD2EF" fill-opacity="0.7"/>
<circle cx="234.6" cy="50.8" r="2.3" fill="#BFD2EF" fill-opacity="0.7"/>
<circle cx="229.1" cy="67.8" r="2.1" fill="#BFD2EF" fill-opacity="0.7"/>
<circle cx="224.0" cy="63.3" r="2.6" fill="#BFD2EF" fill-opacity="0.7"/>
<circle cx="230.2" cy="77.8" r="1.7" fill="#BFD2EF" fill-opacity="0.7"/>
<circle cx="247.9" cy="66.2" r="2.7" fill="#BFD2EF" fill-opacity="0.7"/>
<circle cx="226.0" cy="63.6" r="2.0" fill="#BFD2EF" fill-opacity="0.7"/>
<circle cx="221.5" cy="66.6" r="2.8" fill="#BFD2EF" fill-opacity="0.7"/>
<circle cx="223.1" cy="73.3" r="2.7" fill="#BFD2EF" fill-opacity="0.7"/>
<circle cx="244.0" cy="82.5" r="2.2" fill="#BFD2EF" fill-opacity="0.7"/>
<circle cx="216.8" cy="62.1" r="2.2" fill="#BFD2EF" fill-opacity="0.7"/>
<circle cx="230.6" cy="70.7" r="2.7" fill="#BFD2EF" fill-opacity="0.7"/>
<circle cx="230.8" cy="87.2" r="1.9" fill="#BFD2EF" fill-opacity="0.7"/>
<circle cx="249.4" cy="62.2" r="2.6" fill="#BFD2EF" fill-opacity="0.7"/>
<circle cx="230.3" cy="48.6" r="2.5" fill="#BFD2EF" fill-opacity="0.7"/>
<circle cx="239.9" cy="77.8" r="2.7" fill="#BFD2EF" fill-opacity="0.7"/>
<circle cx="235.4" cy="88.0" r="2.8" fill="#BFD2EF" fill-opacity="0.7"/>
<circle cx="217.8" cy="74.1" r="2.2" fill="#BFD2EF" fill-opacity="0.7"/>
<circle cx="212.5" cy="81.9" r="2.1" fill="#BFD2EF" fill-opacity="0.7"/>
<circle cx="235.6" cy="67.7" r="2.5" fill="#BFD2EF" fill-opacity="0.7"/>
<circle cx="244.5" cy="65.8" r="2.2" fill="#BFD2EF" fill-opacity="0.7"/>
<circle cx="210.9" cy="60.2" r="1.9" fill="#BFD2EF" fill-opacity="0.7"/>
<circle cx="216.3" cy="55.4" r="2.4" fill="#BFD2EF" fill-opacity="0.7"/>
<circle cx="232.8" cy="75.3" r="2.1" fill="#BFD2EF" fill-opacity="0.7"/>
<circle cx="240.6" cy="60.4" r="2.4" fill="#BFD2EF" fill-opacity="0.7"/>
<circle cx="226.5" cy="73.6" r="1.7" fill="#BFD2EF" fill-opacity="0.7"/>
<circle cx="236.6" cy="47.4" r="2.1" fill="#BFD2EF" fill-opacity="0.7"/>
<circle cx="221.6" cy="48.8" r="2.8" fill="#BFD2EF" fill-opacity="0.7"/>
<circle cx="242.6" cy="62.6" r="2.9" fill="#BFD2EF" fill-opacity="0.7"/>
<circle cx="245.4" cy="62.2" r="2.7" fill="#BFD2EF" fill-opacity="0.7"/>
<circle cx="215.5" cy="67.3" r="1.9" fill="#BFD2EF" fill-opacity="0.7"/>
<circle cx="235.3" cy="59.9" r="1.7" fill="#BFD2EF" fill-opacity="0.7"/>
<circle cx="235.6" cy="47.1" r="2.2" fill="#BFD2EF" fill-opacity="0.7"/>
<circle cx="231.6" cy="61.9" r="1.9" fill="#BFD2EF" fill-opacity="0.7"/>
<circle cx="225.5" cy="81.2" r="1.8" fill="#BFD2EF" fill-opacity="0.7"/>
<circle cx="240.6" cy="72.3" r="2.8" fill="#BFD2EF" fill-opacity="0.7"/>
<circle cx="247.9" cy="64.4" r="2.2" fill="#BFD2EF" fill-opacity="0.7"/>
<circle cx="228.7" cy="89.5" r="2.3" fill="#BFD2EF" fill-opacity="0.7"/>
<circle cx="228.5" cy="62.6" r="1.9" fill="#BFD2EF" fill-opacity="0.7"/>
<circle cx="239.3" cy="48.7" r="2.7" fill="#BFD2EF" fill-opacity="0.7"/>
<circle cx="217.5" cy="57.4" r="2.4" fill="#BFD2EF" fill-opacity="0.7"/>
<circle cx="236.1" cy="55.9" r="2.3" fill="#BFD2EF" fill-opacity="0.7"/>
<circle cx="225.9" cy="86.8" r="1.6" fill="#BFD2EF" fill-opacity="0.7"/>
<circle cx="220.5" cy="45.4" r="1.6" fill="#BFD2EF" fill-opacity="0.7"/>
<circle cx="214.3" cy="56.0" r="2.7" fill="#BFD2EF" fill-opacity="0.7"/>
<circle cx="219.4" cy="60.5" r="2.1" fill="#BFD2EF" fill-opacity="0.7"/>
<circle cx="249.2" cy="60.8" r="1.8" fill="#BFD2EF" fill-opacity="0.7"/>
<circle cx="234.6" cy="70.5" r="1.6" fill="#BFD2EF" fill-opacity="0.7"/>
<circle cx="221.2" cy="69.4" r="2.7" fill="#BFD2EF" fill-opacity="0.7"/>
<circle cx="224.6" cy="59.6" r="2.3" fill="#BFD2EF" fill-opacity="0.7"/>
<circle cx="222.0" cy="81.2" r="1.9" fill="#BFD2EF" fill-opacity="0.7"/>
<circle cx="233.7" cy="75.2" r="2.1" fill="#BFD2EF" fill-opacity="0.7"/>
<circle cx="224.9" cy="49.6" r="1.7" fill="#BFD2EF" fill-opacity="0.7"/>
<circle cx="224.0" cy="45.2" r="2.6" fill="#BFD2EF" fill-opacity="0.7"/>
<circle cx="229.5" cy="64.5" r="2.2" fill="#BFD2EF" fill-opacity="0.7"/>
<circle cx="246.7" cy="74.5" r="1.8" fill="#BFD2EF" fill-opacity="0.7"/>
<circle cx="226.3" cy="55.0" r="2.5" fill="#BFD2EF" fill-opacity="0.7"/>
<circle cx="227.2" cy="70.9" r="2.1" fill="#BFD2EF" fill-opacity="0.7"/>
<circle cx="221.4" cy="87.3" r="2.0" fill="#BFD2EF" fill-opacity="0.7"/>
<circle cx="212.7" cy="66.2" r="2.8" fill="#BFD2EF" fill-opacity="0.7"/>
<circle cx="242.9" cy="77.1" r="2.3" fill="#BFD2EF" fill-opacity="0.7"/>
<circle cx="226.9" cy="43.5" r="2.0" fill="#BFD2EF" fill-opacity="0.7"/>
<circle cx="224.0" cy="50.3" r="2.3" fill="#BFD2EF" fill-opacity="0.7"/>
<circle cx="247.3" cy="74.8" r="2.9" fill="#BFD2EF" fill-opacity="0.7"/>
<circle cx="221.4" cy="77.0" r="2.9" fill="#BFD2EF" fill-opacity="0.7"/>
<circle cx="233.7" cy="70.6" r="1.7" fill="#BFD2EF" fill-opacity="0.7"/>
<circle cx="236.5" cy="47.7" r="2.2" fill="#BFD2EF" fill-opacity="0.7"/>
<circle cx="226.8" cy="64.2" r="2.4" fill="#BFD2EF" fill-opacity="0.7"/>
<circle cx="214.2" cy="72.5" r="2.1" fill="#BFD2EF" fill-opacity="0.7"/>
<circle cx="220.5" cy="73.0" r="1.7" fill="#BFD2EF" fill-opacity="0.7"/>
<circle cx="219.0" cy="71.2" r="2.5" fill="#BFD2EF" fill-opacity="0.7"/>
<circle cx="236.7" cy="48.3" r="2.2" fill="#BFD2EF" fill-opacity="0.7"/>
<circle cx="230.2" cy="81.0" r="2.2" fill="#BFD2EF" fill-opacity="0.7"/>
<circle cx="214.4" cy="49.5" r="1.7" fill="#BFD2EF" fill-opacity="0.7"/>
<circle cx="213.7" cy="68.6" r="2.5" fill="#BFD2EF" fill-opacity="0.7"/>
<circle cx="244.0" cy="53.3" r="2.4" fill="#BFD2EF" fill-opacity="0.7"/>
<circle cx="230.0" cy="47.3" r="2.7" fill="#BFD2EF" fill-opacity="0.7"/>
<circle cx="223.3" cy="48.1" r="1.9" fill="#BFD2EF" fill-opacity="0.7"/>
<circle cx="240.8" cy="59.2" r="2.4" fill="#BFD2EF" fill-opacity="0.7"/>
<circle cx="238.8" cy="45.9" r="2.9" fill="#BFD2EF" fill-opacity="0.7"/>
<circle cx="241.3" cy="67.0" r="2.0" fill="#BFD2EF" fill-opacity="0.7"/>
<circle cx="222.5" cy="72.2" r="2.3" fill="#BFD2EF" fill-opacity="0.7"/>
<circle cx="239.6" cy="72.7" r="2.8" fill="#BFD2EF" fill-opacity="0.7"/>
<circle cx="228.3" cy="50.5" r="1.7" fill="#BFD2EF" fill-opacity="0.7"/>
<circle cx="246.8" cy="61.1" r="1.9" fill="#BFD2EF" fill-opacity="0.7"/>
<circle cx="220.0" cy="82.7" r="2.5" fill="#BFD2EF" fill-opacity="0.7"/>
<circle cx="227.5" cy="89.4" r="2.0" fill="#BFD2EF" fill-opacity="0.7"/>
<circle cx="228.5" cy="88.1" r="1.8" fill="#BFD2EF" fill-opacity="0.7"/>
<circle cx="224.9" cy="57.0" r="2.4" fill="#BFD2EF" fill-opacity="0.7"/>
<circle cx="226.7" cy="80.8" r="2.8" fill="#BFD2EF" fill-opacity="0.7"/>
<circle cx="214.8" cy="69.7" r="2.4" fill="#BFD2EF" fill-opacity="0.7"/>
<circle cx="227.2" cy="76.1" r="2.1" fill="#BFD2EF" fill-opacity="0.7"/>
<circle cx="227.7" cy="76.6" r="2.8" fill="#BFD2EF" fill-opacity="0.7"/>
<circle cx="248.3" cy="71.0" r="2.8" fill="#BFD2EF" fill-opacity="0.7"/>
<circle cx="228.1" cy="63.4" r="2.3" fill="#BFD2EF" fill-opacity="0.7"/>
<circle cx="245.6" cy="71.0" r="2.5" fill="#BFD2EF" fill-opacity="0.7"/>
<circle cx="229.1" cy="68.5" r="2.3" fill="#BFD2EF" fill-opacity="0.7"/>
<circle cx="239.1" cy="73.8" r="2.2" fill="#BFD2EF" fill-opacity="0.7"/>
<circle cx="239.5" cy="57.7" r="1.8" fill="#BFD2EF" fill-opacity="0.7"/>
<circle cx="234.2" cy="45.9" r="2.3" fill="#BFD2EF" fill-opacity="0.7"/>
<circle cx="238.1" cy="69.6" r="2.1" fill="#BFD2EF" fill-opacity="0.7"/>
<circle cx="219.1" cy="62.9" r="2.6" fill="#BFD2EF" fill-opacity="0.7"/>
<circle cx="240.7" cy="47.7" r="2.7" fill="#BFD2EF" fill-opacity="0.7"/>
<circle cx="245.7" cy="68.5" r="1.7" fill="#BFD2EF" fill-opacity="0.7"/>
<circle cx="244.4" cy="54.5" r="2.6" fill="#BFD2EF" fill-opacity="0.7"/>
<circle cx="231.0" cy="71.8" r="2.7" fill="#BFD2EF" fill-opacity="0.7"/>
<circle cx="215.4" cy="55.0" r="2.2" fill="#BFD2EF" fill-opacity="0.7"/>
<circle cx="233.0" cy="53.5" r="2.0" fill="#BFD2EF" fill-opacity="0.7"/>
<circle cx="221.8" cy="76.7" r="2.4" fill="#BFD2EF" fill-opacity="0.7"/>
<circle cx="233.5" cy="62.5" r="1.7" fill="#BFD2EF" fill-opacity="0.7"/>
<circle cx="210.9" cy="65.1" r="1.8" fill="#BFD2EF" fill-opacity="0.7"/>
<circle cx="228.3" cy="72.2" r="1.6" fill="#BFD2EF" fill-opacity="0.7"/>
<circle cx="210.9" cy="67.1" r="2.4" fill="#BFD2EF" fill-opacity="0.7"/>
<circle cx="232.9" cy="72.9" r="2.8" fill="#BFD2EF" fill-opacity="0.7"/>
<circle cx="215.4" cy="62.9" r="2.5" fill="#BFD2EF" fill-opacity="0.7"/>
<circle cx="226.8" cy="49.6" r="1.7" fill="#BFD2EF" fill-opacity="0.7"/>
<circle cx="233.7" cy="56.9" r="1.7" fill="#BFD2EF" fill-opacity="0.7"/>
<circle cx="219.4" cy="80.2" r="2.4" fill="#BFD2EF" fill-opacity="0.7"/>
<circle cx="237.5" cy="84.1" r="2.2" fill="#BFD2EF" fill-opacity="0.7"/>
<circle cx="239.7" cy="84.9" r="2.6" fill="#BFD2EF" fill-opacity="0.7"/>
<circle cx="244.1" cy="55.7" r="1.9" fill="#BFD2EF" fill-opacity="0.7"/>
<circle cx="232.6" cy="44.5" r="2.3" fill="#BFD2EF" fill-opacity="0.7"/>
<circle cx="247.2" cy="53.9" r="2.1" fill="#BFD2EF" fill-opacity="0.7"/>
<circle cx="248.9" cy="58.4" r="2.6" fill="#BFD2EF" fill-opacity="0.7"/>
<circle cx="242.0" cy="67.5" r="2.4" fill="#BFD2EF" fill-opacity="0.7"/>
<circle cx="214.1" cy="53.8" r="2.4" fill="#BFD2EF" fill-opacity="0.7"/>
<circle cx="240.2" cy="85.8" r="2.3" fill="#BFD2EF" fill-opacity="0.7"/>
<circle cx="236.4" cy="59.3" r="2.9" fill="#BFD2EF" fill-opacity="0.7"/>
<circle cx="210.8" cy="59.5" r="2.6" fill="#BFD2EF" fill-opacity="0.7"/>
<circle cx="238.8" cy="57.0" r="1.7" fill="#BFD2EF" fill-opacity="0.7"/>
<circle cx="221.3" cy="72.0" r="2.3" fill="#BFD2EF" fill-opacity="0.7"/>
<circle cx="234.3" cy="53.5" r="1.8" fill="#BFD2EF" fill-opacity="0.7"/>
<circle cx="243.1" cy="69.1" r="2.4" fill="#BFD2EF" fill-opacity="0.7"/>
<circle cx="246.7" cy="69.7" r="1.9" fill="#BFD2EF" fill-opacity="0.7"/>
<circle cx="245.6" cy="80.6" r="2.3" fill="#BFD2EF" fill-opacity="0.7"/>
<circle cx="241.5" cy="56.2" r="1.8" fill="#BFD2EF" fill-opacity="0.7"/>
<circle cx="229.9" cy="81.8" r="2.4" fill="#BFD2EF" fill-opacity="0.7"/>
<circle cx="231.5" cy="46.3" r="2.4" fill="#BFD2EF" fill-opacity="0.7"/>
<circle cx="228.7" cy="81.9" r="2.1" fill="#BFD2EF" fill-opacity="0.7"/>
<circle cx="217.7" cy="67.3" r="2.3" fill="#BFD2EF" fill-opacity="0.7"/>
<circle cx="225.0" cy="67.6" r="2.7" fill="#BFD2EF" fill-opacity="0.7"/>
<circle cx="212.1" cy="55.6" r="2.6" fill="#BFD2EF" fill-opacity="0.7"/>
<circle cx="226.4" cy="43.2" r="2.1" fill="#BFD2EF" fill-opacity="0.7"/>
<circle cx="227.9" cy="67.4" r="2.5" fill="#BFD2EF" fill-opacity="0.7"/>
<circle cx="214.4" cy="57.8" r="2.9" fill="#BFD2EF" fill-opacity="0.7"/>
<circle cx="232.4" cy="77.1" r="2.6" fill="#BFD2EF" fill-opacity="0.7"/>
<circle cx="234.8" cy="51.4" r="1.7" fill="#BFD2EF" fill-opacity="0.7"/>
<circle cx="215.3" cy="82.0" r="2.2" fill="#BFD2EF" fill-opacity="0.7"/>
<circle cx="215.7" cy="70.0" r="2.4" fill="#BFD2EF" fill-opacity="0.7"/>
<circle cx="214.1" cy="55.2" r="2.7" fill="#BFD2EF" fill-opacity="0.7"/>
<circle cx="229.1" cy="52.1" r="1.9" fill="#BFD2EF" fill-opacity="0.7"/>
<circle cx="232.9" cy="46.0" r="2.8" fill="#BFD2EF" fill-opacity="0.7"/>
<circle cx="235.4" cy="87.0" r="2.8" fill="#BFD2EF" fill-opacity="0.7"/>
<circle cx="239.8" cy="72.6" r="2.4" fill="#BFD2EF" fill-opacity="0.7"/>
<circle cx="241.2" cy="83.5" r="1.9" fill="#BFD2EF" fill-opacity="0.7"/>
<circle cx="224.1" cy="54.9" r="1.9" fill="#BFD2EF" fill-opacity="0.7"/>
<circle cx="233.1" cy="82.5" r="2.5" fill="#BFD2EF" fill-opacity="0.7"/>
<circle cx="232.7" cy="85.6" r="2.0" fill="#BFD2EF" fill-opacity="0.7"/>
<circle cx="221.1" cy="55.0" r="1.9" fill="#BFD2EF" fill-opacity="0.7"/>
<circle cx="232.3" cy="70.9" r="2.5" fill="#BFD2EF" fill-opacity="0.7"/>
<circle cx="222.4" cy="70.8" r="2.7" fill="#BFD2EF" fill-opacity="0.7"/>
<circle cx="227.2" cy="63.7" r="2.5" fill="#BFD2EF" fill-opacity="0.7"/>
<circle cx="216.9" cy="57.7" r="2.3" fill="#BFD2EF" fill-opacity="0.7"/>
<circle cx="242.1" cy="63.1" r="2.4" fill="#BFD2EF" fill-opacity="0.7"/>
<circle cx="220.2" cy="55.8" r="2.1" fill="#BFD2EF" fill-opacity="0.7"/>
<circle cx="229.5" cy="47.8" r="2.2" fill="#BFD2EF" fill-opacity="0.7"/>
<circle cx="218.6" cy="65.5" r="2.6" fill="#BFD2EF" fill-opacity="0.7"/>
<circle cx="246.5" cy="68.8" r="2.2" fill="#BFD2EF" fill-opacity="0.7"/>
<circle cx="232.0" cy="84.2" r="2.4" fill="#BFD2EF" fill-opacity="0.7"/>
<circle cx="242.2" cy="75.0" r="1.8" fill="#BFD2EF" fill-opacity="0.7"/>
<circle cx="232.8" cy="53.7" r="2.0" fill="#BFD2EF" fill-opacity="0.7"/>
<circle cx="230.0" cy="71.5" r="1.8" fill="#BFD2EF" fill-opacity="0.7"/>
<circle cx="239.1" cy="81.6" r="2.7" fill="#BFD2EF" fill-opacity="0.7"/>
<circle cx="230.3" cy="74.2" r="2.3" fill="#BFD2EF" fill-opacity="0.7"/>
<circle cx="239.5" cy="76.4" r="2.6" fill="#BFD2EF" fill-opacity="0.7"/>
<circle cx="234.3" cy="85.3" r="2.3" fill="#BFD2EF" fill-opacity="0.7"/>
<circle cx="238.3" cy="72.4" r="2.4" fill="#BFD2EF" fill-opacity="0.7"/>
<circle cx="237.2" cy="72.5" r="2.3" fill="#BFD2EF" fill-opacity="0.7"/>
<circle cx="235.6" cy="51.1" r="2.5" fill="#BFD2EF" fill-opacity="0.7"/>
<circle cx="241.1" cy="67.2" r="2.0" fill="#BFD2EF" fill-opacity="0.7"/>
<circle cx="240.3" cy="59.2" r="2.6" fill="#BFD2EF" fill-opacity="0.7"/>
<circle cx="244.2" cy="70.0" r="2.8" fill="#BFD2EF" fill-opacity="0.7"/>
<circle cx="231.2" cy="48.8" r="1.8" fill="#BFD2EF" fill-opacity="0.7"/>
<circle cx="234.6" cy="63.5" r="2.9" fill="#BFD2EF" fill-opacity="0.7"/>
<circle cx="232.1" cy="46.8" r="2.3" fill="#BFD2EF" fill-opacity="0.7"/>
<circle cx="235.6" cy="78.3" r="2.5" fill="#BFD2EF" fill-opacity="0.7"/>
<circle cx="221.4" cy="54.3" r="2.6" fill="#BFD2EF" fill-opacity="0.7"/>
<circle cx="240.1" cy="70.6" r="1.7" fill="#BFD2EF" fill-opacity="0.7"/>
<circle cx="220.1" cy="85.2" r="2.6" fill="#BFD2EF" fill-opacity="0.7"/>
<circle cx="236.2" cy="77.0" r="1.7" fill="#BFD2EF" fill-opacity="0.7"/>
<circle cx="221.3" cy="53.2" r="1.9" fill="#BFD2EF" fill-opacity="0.7"/>
<circle cx="214.6" cy="82.0" r="2.2" fill="#BFD2EF" fill-opacity="0.7"/>
<circle cx="222.7" cy="49.2" r="2.2" fill="#BFD2EF" fill-opacity="0.7"/>
<circle cx="216.6" cy="61.6" r="1.9" fill="#BFD2EF" fill-opacity="0.7"/>
<circle cx="216.9" cy="67.0" r="2.0" fill="#BFD2EF" fill-opacity="0.7"/>
<circle cx="237.2" cy="87.2" r="2.2" fill="#BFD2EF" fill-opacity="0.7"/>
<circle cx="230.2" cy="70.5" r="1.9" fill="#BFD2EF" fill-opacity="0.7"/>
<circle cx="237.7" cy="56.5" r="2.5" fill="#BFD2EF" fill-opacity="0.7"/>
<circle cx="231.2" cy="85.3" r="2.2" fill="#BFD2EF" fill-opacity="0.7"/>
<circle cx="227.6" cy="49.5" r="2.1" fill="#BFD2EF" fill-opacity="0.7"/>
<circle cx="225.8" cy="84.3" r="2.7" fill="#BFD2EF" fill-opacity="0.7"/>
<circle cx="223.5" cy="51.3" r="2.0" fill="#BFD2EF" fill-opacity="0.7"/>
<circle cx="244.7" cy="52.9" r="1.8" fill="#BFD2EF" fill-opacity="0.7"/>
<circle cx="220.7" cy="47.9" r="2.5" fill="#BFD2EF" fill-opacity="0.7"/>
<circle cx="249.1" cy="61.6" r="1.9" fill="#BFD2EF" fill-opacity="0.7"/>
<circle cx="241.6" cy="66.2" r="2.1" fill="#BFD2EF" fill-opacity="0.7"/>
<circle cx="237.9" cy="65.1" r="2.1" fill="#BFD2EF" fill-opacity="0.7"/>
<circle cx="220.9" cy="57.8" r="1.9" fill="#BFD2EF" fill-opacity="0.7"/>
<circle cx="233.7" cy="48.8" r="2.6" fill="#BFD2EF" fill-opacity="0.7"/>
<circle cx="234.1" cy="45.2" r="2.8" fill="#BFD2EF" fill-opacity="0.7"/>
<circle cx="238.7" cy="45.7" r="2.2" fill="#BFD2EF" fill-opacity="0.7"/>
<circle cx="224.3" cy="50.4" r="2.9" fill="#BFD2EF" fill-opacity="0.7"/>
<circle cx="220.9" cy="53.7" r="2.5" fill="#BFD2EF" fill-opacity="0.7"/>
<circle cx="226.8" cy="74.6" r="2.1" fill="#BFD2EF" fill-opacity="0.7"/>
<circle cx="229.9" cy="67.6" r="1.7" fill="#BFD2EF" fill-opacity="0.7"/>
<circle cx="210.6" cy="72.3" r="1.7" fill="#BFD2EF" fill-opacity="0.7"/>
<circle cx="224.2" cy="60.6" r="2.3" fill="#BFD2EF" fill-opacity="0.7"/>
<circle cx="224.8" cy="81.5" r="2.5" fill="#BFD2EF" fill-opacity="0.7"/>
<circle cx="217.2" cy="74.1" r="2.5" fill="#BFD2EF" fill-opacity="0.7"/>
<circle cx="238.7" cy="75.7" r="2.5" fill="#BFD2EF" fill-opacity="0.7"/>
<circle cx="240.1" cy="46.5" r="1.9" fill="#BFD2EF" fill-opacity="0.7"/>
<circle cx="220.3" cy="57.2" r="2.5" fill="#BFD2EF" fill-opacity="0.7"/>
<circle cx="233.6" cy="59.4" r="2.0" fill="#BFD2EF" fill-opacity="0.7"/>
<circle cx="241.0" cy="61.1" r="2.4" fill="#BFD2EF" fill-opacity="0.7"/>
<circle cx="233.8" cy="55.2" r="2.6" fill="#BFD2EF" fill-opacity="0.7"/>
<circle cx="241.8" cy="66.8" r="1.8" fill="#BFD2EF" fill-opacity="0.7"/>
<circle cx="223.2" cy="75.4" r="1.6" fill="#BFD2EF" fill-opacity="0.7"/>
<circle cx="232.0" cy="57.3" r="2.3" fill="#BFD2EF" fill-opacity="0.7"/>
<circle cx="209.9" cy="59.3" r="2.7" fill="#BFD2EF" fill-opacity="0.7"/>
<circle cx="222.5" cy="59.8" r="2.6" fill="#BFD2EF" fill-opacity="0.7"/>
<circle cx="246.3" cy="79.5" r="2.0" fill="#BFD2EF" fill-opacity="0.7"/>
<circle cx="228.8" cy="77.4" r="2.1" fill="#BFD2EF" fill-opacity="0.7"/>
<circle cx="234.2" cy="45.5" r="2.6" fill="#BFD2EF" fill-opacity="0.7"/>
<circle cx="227.6" cy="55.0" r="2.0" fill="#BFD2EF" fill-opacity="0.7"/>
<circle cx="224.2" cy="81.1" r="2.7" fill="#BFD2EF" fill-opacity="0.7"/>
<circle cx="235.4" cy="66.3" r="2.9" fill="#BFD2EF" fill-opacity="0.7"/>
<circle cx="242.0" cy="58.7" r="2.5" fill="#BFD2EF" fill-opacity="0.7"/>
<circle cx="231.0" cy="56.6" r="2.4" fill="#BFD2EF" fill-opacity="0.7"/>
<circle cx="249.5" cy="64.0" r="2.8" fill="#BFD2EF" fill-opacity="0.7"/>
<circle cx="245.0" cy="76.6" r="2.2" fill="#BFD2EF" fill-opacity="0.7"/>
<circle cx="236.6" cy="61.3" r="2.3" fill="#BFD2EF" fill-opacity="0.7"/>
<circle cx="243.3" cy="81.0" r="2.5" fill="#BFD2EF" fill-opacity="0.7"/>
<circle cx="241.0" cy="69.0" r="1.8" fill="#BFD2EF" fill-opacity="0.7"/>
<circle cx="217.5" cy="52.5" r="1.7" fill="#BFD2EF" fill-opacity="0.7"/>
<circle cx="249.6" cy="59.5" r="2.2" fill="#BFD2EF" fill-opacity="0.7"/>
<circle cx="217.2" cy="60.1" r="2.4" fill="#BFD2EF" fill-opacity="0.7"/>
<circle cx="217.3" cy="75.8" r="2.6" fill="#BFD2EF" fill-opacity="0.7"/>
<circle cx="233.7" cy="78.3" r="2.6" fill="#BFD2EF" fill-opacity="0.7"/>
<circle cx="229.9" cy="72.6" r="2.8" fill="#BFD2EF" fill-opacity="0.7"/>
<circle cx="236.6" cy="79.2" r="2.0" fill="#BFD2EF" fill-opacity="0.7"/>
<circle cx="228.0" cy="80.4" r="2.3" fill="#BFD2EF" fill-opacity="0.7"/>
<circle cx="241.0" cy="77.9" r="1.7" fill="#BFD2EF" fill-opacity="0.7"/>
<circle cx="237.7" cy="71.5" r="1.9" fill="#BFD2EF" fill-opacity="0.7"/>
<circle cx="222.5" cy="77.1" r="2.7" fill="#BFD2EF" fill-opacity="0.7"/>
<circle cx="220.7" cy="53.0" r="2.6" fill="#BFD2EF" fill-opacity="0.7"/>
<circle cx="224.2" cy="54.4" r="2.4" fill="#BFD2EF" fill-opacity="0.7"/>
<circle cx="228.5" cy="49.3" r="2.6" fill="#BFD2EF" fill-opacity="0.7"/>
<circle cx="214.8" cy="49.7" r="1.9" fill="#BFD2EF" fill-opacity="0.7"/>
<circle cx="218.7" cy="46.0" r="2.3" fill="#BFD2EF" fill-opacity="0.7"/>
<circle cx="234.6" cy="62.4" r="2.5" fill="#BFD2EF" fill-opacity="0.7"/>
<circle cx="227.2" cy="86.8" r="2.2" fill="#BFD2EF" fill-opacity="0.7"/>
<circle cx="218.3" cy="63.9" r="1.9" fill="#BFD2EF" fill-opacity="0.7"/>
<circle cx="240.7" cy="52.4" r="2.4" fill="#BFD2EF" fill-opacity="0.7"/>
<circle cx="237.9" cy="75.0" r="2.9" fill="#BFD2EF" fill-opacity="0.7"/>
<circle cx="233.7" cy="83.0" r="2.5" fill="#BFD2EF" fill-opacity="0.7"/>
<circle cx="212.7" cy="65.3" r="2.9" fill="#BFD2EF" fill-opacity="0.7"/>
<circle cx="231.1" cy="55.3" r="2.2" fill="#BFD2EF" fill-opacity="0.7"/>
<circle cx="213.1" cy="75.9" r="2.5" fill="#BFD2EF" fill-opacity="0.7"/>
<circle cx="227.7" cy="86.0" r="2.2" fill="#BFD2EF" fill-opacity="0.7"/>
<circle cx="240.8" cy="67.7" r="2.1" fill="#BFD2EF" fill-opacity="0.7"/>
<circle cx="234.9" cy="84.7" r="2.9" fill="#BFD2EF" fill-opacity="0.7"/>
<circle cx="244.9" cy="58.7" r="2.7" fill="#BFD2EF" fill-opacity="0.7"/>
<circle cx="212.2" cy="67.4" r="2.8" fill="#BFD2EF" fill-opacity="0.7"/>
<circle cx="241.3" cy="71.7" r="2.1" fill="#BFD2EF" fill-opacity="0.7"/>
<circle cx="221.2" cy="79.4" r="1.7" fill="#BFD2EF" fill-opacity="0.7"/>
<circle cx="219.7" cy="45.8" r="1.9" fill="#BFD2EF" fill-opacity="0.7"/>
<circle cx="234.0" cy="79.0" r="2.6" fill="#BFD2EF" fill-opacity="0.7"/>
<circle cx="231.8" cy="86.9" r="1.8" fill="#BFD2EF" fill-opacity="0.7"/>
<circle cx="213.6" cy="55.3" r="2.5" fill="#BFD2EF" fill-opacity="0.7"/>
<circle cx="247.6" cy="78.1" r="2.7" fill="#BFD2EF" fill-opacity="0.7"/>
<circle cx="208.8" cy="69.1" r="2.4" fill="#BFD2EF" fill-opacity="0.7"/>
<circle cx="235.8" cy="79.4" r="2.7" fill="#BFD2EF" fill-opacity="0.7"/>
<circle cx="224.6" cy="67.6" r="1.8" fill="#BFD2EF" fill-opacity="0.7"/>
<circle cx="235.6" cy="83.1" r="2.4" fill="#BFD2EF" fill-opacity="0.7"/>
<circle cx="215.8" cy="71.3" r="2.9" fill="#BFD2EF" fill-opacity="0.7"/>
<circle cx="219.1" cy="82.6" r="1.9" fill="#BFD2EF" fill-opacity="0.7"/>
<circle cx="219.7" cy="65.6" r="1.7" fill="#BFD2EF" fill-opacity="0.7"/>
<circle cx="225.1" cy="73.3" r="2.1" fill="#BFD2EF" fill-opacity="0.7"/>
<circle cx="219.7" cy="52.2" r="2.6" fill="#BFD2EF" fill-opacity="0.7"/>
<circle cx="222.7" cy="67.5" r="2.5" fill="#BFD2EF" fill-opacity="0.7"/>
<circle cx="213.4" cy="78.3" r="2.9" fill="#BFD2EF" fill-opacity="0.7"/>
<circle cx="218.1" cy="64.7" r="2.1" fill="#BFD2EF" fill-opacity="0.7"/>
<circle cx="216.6" cy="66.6" r="1.7" fill="#BFD2EF" fill-opacity="0.7"/>
<circle cx="214.7" cy="77.8" r="2.7" fill="#BFD2EF" fill-opacity="0.7"/>
<circle cx="230.5" cy="44.5" r="2.6" fill="#BFD2EF" fill-opacity="0.7"/>
<circle cx="214.0" cy="76.5" r="1.7" fill="#BFD2EF" fill-opacity="0.7"/>
<circle cx="234.1" cy="47.5" r="1.9" fill="#BFD2EF" fill-opacity="0.7"/>
<circle cx="217.7" cy="68.6" r="2.6" fill="#BFD2EF" fill-opacity="0.7"/>
<circle cx="211.6" cy="75.7" r="2.8" fill="#BFD2EF" fill-opacity="0.7"/>
<circle cx="231.3" cy="52.2" r="2.0" fill="#BFD2EF" fill-opacity="0.7"/>
<circle cx="248.7" cy="59.0" r="1.8" fill="#BFD2EF" fill-opacity="0.7"/>
<circle cx="216.3" cy="82.4" r="2.6" fill="#BFD2EF" fill-opacity="0.7"/>
<circle cx="226.0" cy="81.9" r="2.9" fill="#BFD2EF" fill-opacity="0.7"/>
<circle cx="238.7" cy="73.1" r="2.5" fill="#BFD2EF" fill-opacity="0.7"/>
<circle cx="246.9" cy="53.9" r="2.2" fill="#BFD2EF" fill-opacity="0.7"/>
<circle cx="234.4" cy="44.1" r="2.0" fill="#BFD2EF" fill-opacity="0.7"/>
<circle cx="230.6" cy="78.4" r="2.6" fill="#BFD2EF" fill-opacity="0.7"/>
<circle cx="239.4" cy="79.9" r="2.8" fill="#BFD2EF" fill-opacity="0.7"/>
<circle cx="234.3" cy="84.3" r="2.3" fill="#BFD2EF" fill-opacity="0.7"/>
<circle cx="244.4" cy="63.0" r="2.2" fill="#BFD2EF" fill-opacity="0.7"/>
<circle cx="244.7" cy="54.9" r="1.8" fill="#BFD2EF" fill-opacity="0.7"/>
<circle cx="233.6" cy="52.5" r="2.9" fill="#BFD2EF" fill-opacity="0.7"/>
<circle cx="244.0" cy="62.7" r="2.1" fill="#BFD2EF" fill-opacity="0.7"/>
<circle cx="230.7" cy="78.7" r="1.9" fill="#BFD2EF" fill-opacity="0.7"/>
<circle cx="238.2" cy="84.0" r="1.7" fill="#BFD2EF" fill-opacity="0.7"/>
<circle cx="215.2" cy="55.9" r="2.6" fill="#BFD2EF" fill-opacity="0.7"/>
<circle cx="209.7" cy="57.2" r="2.0" fill="#BFD2EF" fill-opacity="0.7"/>
<circle cx="243.0" cy="76.4" r="2.0" fill="#BFD2EF" fill-opacity="0.7"/>
<circle cx="250.1" cy="64.8" r="2.5" fill="#BFD2EF" fill-opacity="0.7"/>
<circle cx="234.5" cy="56.5" r="2.2" fill="#BFD2EF" fill-opacity="0.7"/>
<circle cx="219.4" cy="75.8" r="2.1" fill="#BFD2EF" fill-opacity="0.7"/>
<circle cx="211.4" cy="69.1" r="1.6" fill="#BFD2EF" fill-opacity="0.7"/>
<circle cx="221.4" cy="64.4" r="2.9" fill="#BFD2EF" fill-opacity="0.7"/>
<circle cx="213.0" cy="60.7" r="2.0" fill="#BFD2EF" fill-opacity="0.7"/>
<circle cx="223.9" cy="47.5" r="2.8" fill="#BFD2EF" fill-opacity="0.7"/>
<circle cx="219.0" cy="60.6" r="2.4" fill="#BFD2EF" fill-opacity="0.7"/>
<circle cx="247.0" cy="72.8" r="2.0" fill="#BFD2EF" fill-opacity="0.7"/>
<circle cx="227.5" cy="58.1" r="2.4" fill="#BFD2EF" fill-opacity="0.7"/>
<circle cx="231.0" cy="70.4" r="1.9" fill="#BFD2EF" fill-opacity="0.7"/>
<circle cx="237.0" cy="54.6" r="2.3" fill="#BFD2EF" fill-opacity="0.7"/>
<circle cx="234.5" cy="44.0" r="1.9" fill="#BFD2EF" fill-opacity="0.7"/>
<circle cx="222.3" cy="47.0" r="2.6" fill="#BFD2EF" fill-opacity="0.7"/>
<circle cx="220.3" cy="79.8" r="2.6" fill="#BFD2EF" fill-opacity="0.7"/>
<circle cx="228.9" cy="82.9" r="2.4" fill="#BFD2EF" fill-opacity="0.7"/>
<circle cx="235.5" cy="57.2" r="2.5" fill="#BFD2EF" fill-opacity="0.7"/>
<circle cx="230.8" cy="75.6" r="2.2" fill="#BFD2EF" fill-opacity="0.7"/>
<circle cx="218.5" cy="51.4" r="2.8" fill="#BFD2EF" fill-opacity="0.7"/>
<circle cx="237.2" cy="81.2" r="2.2" fill="#BFD2EF" fill-opacity="0.7"/>
<circle cx="227.8" cy="89.0" r="1.8" fill="#BFD2EF" fill-opacity="0.7"/>
<circle cx="242.9" cy="75.9" r="1.8" fill="#BFD2EF" fill-opacity="0.7"/>
<circle cx="241.5" cy="78.7" r="2.5" fill="#BFD2EF" fill-opacity="0.7"/>
<circle cx="243.1" cy="78.2" r="2.4" fill="#BFD2EF" fill-opacity="0.7"/>
<circle cx="236.6" cy="79.9" r="2.7" fill="#BFD2EF" fill-opacity="0.7"/>
<circle cx="248.1" cy="79.5" r="2.6" fill="#BFD2EF" fill-opacity="0.7"/>
<circle cx="244.8" cy="71.4" r="1.6" fill="#BFD2EF" fill-opacity="0.7"/>
<circle cx="246.5" cy="78.4" r="1.8" fill="#BFD2EF" fill-opacity="0.7"/>
<circle cx="237.0" cy="75.3" r="2.7" fill="#BFD2EF" fill-opacity="0.7"/>
<circle cx="238.2" cy="86.2" r="1.6" fill="#BFD2EF" fill-opacity="0.7"/>
<circle cx="247.2" cy="79.0" r="2.3" fill="#BFD2EF" fill-opacity="0.7"/>
<circle cx="244.2" cy="81.3" r="1.6" fill="#BFD2EF" fill-opacity="0.7"/>
<circle cx="238.2" cy="76.0" r="2.6" fill="#BFD2EF" fill-opacity="0.7"/>
<circle cx="246.1" cy="75.3" r="2.6" fill="#BFD2EF" fill-opacity="0.7"/>
<circle cx="245.3" cy="88.0" r="1.9" fill="#BFD2EF" fill-opacity="0.7"/>
<circle cx="247.6" cy="77.9" r="2.1" fill="#BFD2EF" fill-opacity="0.7"/>
<circle cx="241.1" cy="79.7" r="1.7" fill="#BFD2EF" fill-opacity="0.7"/>
<circle cx="236.5" cy="77.9" r="1.7" fill="#BFD2EF" fill-opacity="0.7"/>
<circle cx="238.9" cy="83.0" r="2.5" fill="#BFD2EF" fill-opacity="0.7"/>
<circle cx="245.4" cy="79.8" r="2.3" fill="#BFD2EF" fill-opacity="0.7"/>
<circle cx="248.6" cy="84.9" r="2.7" fill="#BFD2EF" fill-opacity="0.7"/>
<circle cx="241.4" cy="73.4" r="1.6" fill="#BFD2EF" fill-opacity="0.7"/>
<circle cx="246.2" cy="82.5" r="1.7" fill="#BFD2EF" fill-opacity="0.7"/>
<circle cx="248.2" cy="86.6" r="2.0" fill="#BFD2EF" fill-opacity="0.7"/>
<circle cx="248.8" cy="75.7" r="2.5" fill="#BFD2EF" fill-opacity="0.7"/>
<circle cx="248.7" cy="76.1" r="2.0" fill="#BFD2EF" fill-opacity="0.7"/>
<circle cx="238.1" cy="81.1" r="1.6" fill="#BFD2EF" fill-opacity="0.7"/>
<circle cx="248.8" cy="81.9" r="2.2" fill="#BFD2EF" fill-opacity="0.7"/>
<circle cx="249.2" cy="78.8" r="2.6" fill="#BFD2EF" fill-opacity="0.7"/>
<circle cx="237.0" cy="81.0" r="2.6" fill="#BFD2EF" fill-opacity="0.7"/>
<circle cx="244.1" cy="80.3" r="2.1" fill="#BFD2EF" fill-opacity="0.7"/>
<circle cx="241.6" cy="85.7" r="1.7" fill="#BFD2EF" fill-opacity="0.7"/>
<circle cx="244.2" cy="82.5" r="2.3" fill="#BFD2EF" fill-opacity="0.7"/>
<circle cx="244.1" cy="80.3" r="2.4" fill="#BFD2EF" fill-opacity="0.7"/>
<circle cx="241.9" cy="80.6" r="2.7" fill="#BFD2EF" fill-opacity="0.7"/>
<circle cx="235.3" cy="80.5" r="2.4" fill="#BFD2EF" fill-opacity="0.7"/>
<circle cx="238.2" cy="78.4" r="1.7" fill="#BFD2EF" fill-opacity="0.7"/>
<circle cx="248.2" cy="78.7" r="2.0" fill="#BFD2EF" fill-opacity="0.7"/>
<circle cx="246.8" cy="85.5" r="2.8" fill="#BFD2EF" fill-opacity="0.7"/>
<circle cx="237.1" cy="84.7" r="2.4" fill="#BFD2EF" fill-opacity="0.7"/>
<circle cx="236.6" cy="79.3" r="2.5" fill="#BFD2EF" fill-opacity="0.7"/>
<circle cx="244.5" cy="79.2" r="1.8" fill="#BFD2EF" fill-opacity="0.7"/>
<circle cx="243.1" cy="82.3" r="1.9" fill="#BFD2EF" fill-opacity="0.7"/>
<circle cx="239.6" cy="81.7" r="2.2" fill="#BFD2EF" fill-opacity="0.7"/>
<circle cx="250.6" cy="80.4" r="2.5" fill="#BFD2EF" fill-opacity="0.7"/>
<circle cx="245.9" cy="82.5" r="2.5" fill="#BFD2EF" fill-opacity="0.7"/>
<circle cx="247.3" cy="86.0" r="1.6" fill="#BFD2EF" fill-opacity="0.7"/>
<circle cx="238.2" cy="74.9" r="2.2" fill="#BFD2EF" fill-opacity="0.7"/>
<circle cx="245.1" cy="71.6" r="2.8" fill="#BFD2EF" fill-opacity="0.7"/>
<circle cx="248.3" cy="82.1" r="1.7" fill="#BFD2EF" fill-opacity="0.7"/>
<circle cx="242.9" cy="75.9" r="1.8" fill="#BFD2EF" fill-opacity="0.7"/>
<circle cx="211.0" cy="67.9" r="2.7" fill="#BFD2EF" fill-opacity="0.7"/>
<circle cx="214.5" cy="76.2" r="2.6" fill="#BFD2EF" fill-opacity="0.7"/>
<circle cx="212.2" cy="78.8" r="2.6" fill="#BFD2EF" fill-opacity="0.7"/>
<circle cx="216.3" cy="81.8" r="2.2" fill="#BFD2EF" fill-opacity="0.7"/>
<circle cx="219.2" cy="77.7" r="2.3" fill="#BFD2EF" fill-opacity="0.7"/>
<circle cx="218.8" cy="77.9" r="2.5" fill="#BFD2EF" fill-opacity="0.7"/>
<circle cx="213.7" cy="66.7" r="2.8" fill="#BFD2EF" fill-opacity="0.7"/>
<circle cx="219.9" cy="74.7" r="2.4" fill="#BFD2EF" fill-opacity="0.7"/>
<circle cx="213.9" cy="81.0" r="2.0" fill="#BFD2EF" fill-opacity="0.7"/>
<circle cx="211.0" cy="67.9" r="2.2" fill="#BFD2EF" fill-opacity="0.7"/>
<circle cx="217.1" cy="77.3" r="2.0" fill="#BFD2EF" fill-opacity="0.7"/>
<circle cx="214.0" cy="65.3" r="2.5" fill="#BFD2EF" fill-opacity="0.7"/>
<circle cx="211.6" cy="73.3" r="2.4" fill="#BFD2EF" fill-opacity="0.7"/>
<circle cx="213.4" cy="82.9" r="1.8" fill="#BFD2EF" fill-opacity="0.7"/>
<circle cx="214.7" cy="73.8" r="2.5" fill="#BFD2EF" fill-opacity="0.7"/>
<circle cx="211.4" cy="79.6" r="2.1" fill="#BFD2EF" fill-opacity="0.7"/>
<circle cx="212.6" cy="79.6" r="2.6" fill="#BFD2EF" fill-opacity="0.7"/>
<circle cx="211.8" cy="78.3" r="2.5" fill="#BFD2EF" fill-opacity="0.7"/>
<circle cx="215.6" cy="78.8" r="2.2" fill="#BFD2EF" fill-opacity="0.7"/>
<circle cx="211.5" cy="73.6" r="2.5" fill="#BFD2EF" fill-opacity="0.7"/>
<circle cx="212.2" cy="74.2" r="2.0" fill="#BFD2EF" fill-opacity="0.7"/>
<circle cx="217.3" cy="75.9" r="1.7" fill="#BFD2EF" fill-opacity="0.7"/>
<circle cx="213.9" cy="80.7" r="2.4" fill="#BFD2EF" fill-opacity="0.7"/>
<circle cx="212.7" cy="79.8" r="2.2" fill="#BFD2EF" fill-opacity="0.7"/>
<circle cx="209.1" cy="69.6" r="1.9" fill="#BFD2EF" fill-opacity="0.7"/>
<circle cx="214.7" cy="67.4" r="2.7" fill="#BFD2EF" fill-opacity="0.7"/>
<circle cx="213.9" cy="73.5" r="1.7" fill="#BFD2EF" fill-opacity="0.7"/>
<circle cx="215.0" cy="69.3" r="2.3" fill="#BFD2EF" fill-opacity="0.7"/>
<circle cx="217.7" cy="77.9" r="2.1" fill="#BFD2EF" fill-opacity="0.7"/>
<circle cx="213.7" cy="74.1" r="2.7" fill="#BFD2EF" fill-opacity="0.7"/>
<circle cx="216.9" cy="67.6" r="2.3" fill="#BFD2EF" fill-opacity="0.7"/>
<circle cx="214.4" cy="77.9" r="2.6" fill="#BFD2EF" fill-opacity="0.7"/>
<circle cx="212.2" cy="78.9" r="2.7" fill="#BFD2EF" fill-opacity="0.7"/>
<circle cx="210.6" cy="81.4" r="1.8" fill="#BFD2EF" fill-opacity="0.7"/>
<circle cx="215.9" cy="70.1" r="1.8" fill="#BFD2EF" fill-opacity="0.7"/>
<circle cx="208.7" cy="75.9" r="1.7" fill="#BFD2EF" fill-opacity="0.7"/>
<circle cx="209.4" cy="69.3" r="1.6" fill="#BFD2EF" fill-opacity="0.7"/>
<circle cx="210.7" cy="74.3" r="2.2" fill="#BFD2EF" fill-opacity="0.7"/>
<circle cx="215.9" cy="68.8" r="2.0" fill="#BFD2EF" fill-opacity="0.7"/>
<circle cx="215.6" cy="81.8" r="1.8" fill="#BFD2EF" fill-opacity="0.7"/>
<circle cx="218.0" cy="78.6" r="3.8" fill="#9DBAE3" fill-opacity="0.5"/>
<circle cx="232.3" cy="82.9" r="3.5" fill="#9DBAE3" fill-opacity="0.5"/>
<circle cx="244.1" cy="71.1" r="2.9" fill="#9DBAE3" fill-opacity="0.5"/>
<circle cx="225.4" cy="77.5" r="3.4" fill="#9DBAE3" fill-opacity="0.5"/>
<circle cx="238.4" cy="77.0" r="3.7" fill="#9DBAE3" fill-opacity="0.5"/>
<circle cx="214.8" cy="65.3" r="3.4" fill="#9DBAE3" fill-opacity="0.5"/>
<circle cx="232.1" cy="59.7" r="3.0" fill="#9DBAE3" fill-opacity="0.5"/>
<circle cx="223.9" cy="67.6" r="4.0" fill="#9DBAE3" fill-opacity="0.5"/>
<circle cx="225.7" cy="62.2" r="3.4" fill="#9DBAE3" fill-opacity="0.5"/>
<circle cx="223.0" cy="70.5" r="2.7" fill="#9DBAE3" fill-opacity="0.5"/>
<circle cx="224.9" cy="67.7" r="3.3" fill="#9DBAE3" fill-opacity="0.5"/>
<circle cx="223.3" cy="65.9" r="3.8" fill="#9DBAE3" fill-opacity="0.5"/>
<circle cx="235.4" cy="68.4" r="3.7" fill="#9DBAE3" fill-opacity="0.5"/>
<circle cx="230.9" cy="78.0" r="3.3" fill="#9DBAE3" fill-opacity="0.5"/>
<circle cx="218.7" cy="71.5" r="3.3" fill="#9DBAE3" fill-opacity="0.5"/>
<circle cx="225.2" cy="67.0" r="3.7" fill="#9DBAE3" fill-opacity="0.5"/>
<circle cx="228.3" cy="70.3" r="3.1" fill="#9DBAE3" fill-opacity="0.5"/>
<circle cx="234.0" cy="53.4" r="3.2" fill="#9DBAE3" fill-opacity="0.5"/>
<circle cx="221.6" cy="67.7" r="3.4" fill="#9DBAE3" fill-opacity="0.5"/>
<circle cx="226.6" cy="70.2" r="2.7" fill="#9DBAE3" fill-opacity="0.5"/>
<circle cx="240.1" cy="74.7" r="3.8" fill="#9DBAE3" fill-opacity="0.5"/>
<circle cx="229.3" cy="58.1" r="2.7" fill="#9DBAE3" fill-opacity="0.5"/>
<circle cx="238.3" cy="63.1" r="2.8" fill="#9DBAE3" fill-opacity="0.5"/>
<circle cx="217.7" cy="60.4" r="3.3" fill="#9DBAE3" fill-opacity="0.5"/>
<circle cx="220.6" cy="69.5" r="3.2" fill="#9DBAE3" fill-opacity="0.5"/>
<circle cx="216.3" cy="70.4" r="3.2" fill="#9DBAE3" fill-opacity="0.5"/>
<circle cx="219.3" cy="80.6" r="2.7" fill="#9DBAE3" fill-opacity="0.5"/>
<circle cx="229.4" cy="54.9" r="3.7" fill="#9DBAE3" fill-opacity="0.5"/>
<circle cx="225.9" cy="53.4" r="3.4" fill="#9DBAE3" fill-opacity="0.5"/>
<circle cx="229.3" cy="68.8" r="3.6" fill="#9DBAE3" fill-opacity="0.5"/>
<circle cx="228.7" cy="72.5" r="3.7" fill="#9DBAE3" fill-opacity="0.5"/>
<circle cx="226.6" cy="64.7" r="3.3" fill="#9DBAE3" fill-opacity="0.5"/>
<circle cx="236.7" cy="80.8" r="2.9" fill="#9DBAE3" fill-opacity="0.5"/>
<circle cx="240.6" cy="61.3" r="2.6" fill="#9DBAE3" fill-opacity="0.5"/>
<circle cx="215.8" cy="76.1" r="3.6" fill="#9DBAE3" fill-opacity="0.5"/>
<circle cx="234.5" cy="75.5" r="2.9" fill="#9DBAE3" fill-opacity="0.5"/>
<circle cx="239.3" cy="74.2" r="3.5" fill="#9DBAE3" fill-opacity="0.5"/>
<circle cx="231.5" cy="79.6" r="3.8" fill="#9DBAE3" fill-opacity="0.5"/>
<circle cx="234.2" cy="61.8" r="2.6" fill="#9DBAE3" fill-opacity="0.5"/>
<circle cx="236.8" cy="61.1" r="2.7" fill="#9DBAE3" fill-opacity="0.5"/>
<circle cx="231.5" cy="57.7" r="3.6" fill="#9DBAE3" fill-opacity="0.5"/>
<circle cx="225.9" cy="57.4" r="3.2" fill="#9DBAE3" fill-opacity="0.5"/>
<circle cx="225.5" cy="82.2" r="2.9" fill="#9DBAE3" fill-opacity="0.5"/>
<circle cx="226.8" cy="83.0" r="2.9" fill="#9DBAE3" fill-opacity="0.5"/>
<circle cx="218.4" cy="71.5" r="2.5" fill="#9DBAE3" fill-opacity="0.5"/>
<circle cx="225.8" cy="81.6" r="4.0" fill="#9DBAE3" fill-opacity="0.5"/>
<circle cx="223.0" cy="76.9" r="2.6" fill="#9DBAE3" fill-opacity="0.5"/>
<circle cx="219.4" cy="67.3" r="3.3" fill="#9DBAE3" fill-opacity="0.5"/>
<circle cx="226.3" cy="76.1" r="3.9" fill="#9DBAE3" fill-opacity="0.5"/>
<circle cx="230.6" cy="55.9" r="2.6" fill="#9DBAE3" fill-opacity="0.5"/>
<circle cx="233.7" cy="68.3" r="2.7" fill="#9DBAE3" fill-opacity="0.5"/>
<circle cx="219.0" cy="60.1" r="2.7" fill="#9DBAE3" fill-opacity="0.5"/>
<circle cx="238.4" cy="56.3" r="3.6" fill="#9DBAE3" fill-opacity="0.5"/>
<circle cx="236.1" cy="60.3" r="3.9" fill="#9DBAE3" fill-opacity="0.5"/>
<circle cx="244.1" cy="63.9" r="2.6" fill="#9DBAE3" fill-opacity="0.5"/>
<circle cx="238.4" cy="52.1" r="2.7" fill="#9DBAE3" fill-opacity="0.5"/>
<circle cx="238.6" cy="54.3" r="2.5" fill="#9DBAE3" fill-opacity="0.5"/>
<circle cx="225.3" cy="51.4" r="3.6" fill="#9DBAE3" fill-opacity="0.5"/>
<circle cx="243.7" cy="72.8" r="2.6" fill="#9DBAE3" fill-opacity="0.5"/>
<circle cx="242.4" cy="75.4" r="3.2" fill="#9DBAE3" fill-opacity="0.5"/>
<path d="M235.8,64.0 Q236.7,63.1 237.0,62.7 Q237.3,62.7 238.8,63.4 Q239.8,65.5 241.4,65.7" fill="none" stroke="#3B66A8" stroke-width="1.37" stroke-linecap="round" stroke-opacity="0.9"/>
<path d="M226.6,64.6 Q227.9,66.6 229.1,66.7 Q228.9,68.6 229.2,70.2 Q228.1,71.4 228.6,72.1" fill="none" stroke="#3B66A8" stroke-width="1.13" stroke-linecap="round" stroke-opacity="0.9"/>
<path d="M227.2,76.3 Q226.6,75.4 224.6,77.0 Q223.2,76.8 222.1,77.5 Q221.3,76.3 221.2,75.6" fill="none" stroke="#5585C6" stroke-width="1.17" stroke-linecap="round" stroke-opacity="0.9"/>
<path d="M216.3,60.5 Q216.0,59.9 216.0,58.8 Q217.0,57.8 217.1,57.6 Q216.9,56.9 216.9,56.1 Q215.8,55.1 214.6,56.2" fill="none" stroke="#3B66A8" stroke-width="0.92" stroke-linecap="round" stroke-opacity="0.9"/>
<path d="M242.4,69.4 Q242.9,67.9 244.9,68.0 Q244.9,67.5 244.6,66.2 Q243.1,66.6 241.7,65.6 Q240.3,65.8 239.4,63.3" fill="none" stroke="#3B66A8" stroke-width="1.03" stroke-linecap="round" stroke-opacity="0.9"/>
<path d="M232.6,48.1 Q231.4,49.5 231.0,50.0 Q231.8,51.3 232.0,52.8" fill="none" stroke="#4270B3" stroke-width="0.85" stroke-linecap="round" stroke-opacity="0.9"/>
<path d="M234.7,81.5 Q234.9,79.6 236.9,79.1 Q235.6,78.1 235.6,77.0 Q237.2,75.4 236.3,73.6 Q234.6,72.2 235.7,70.4" fill="none" stroke="#25457C" stroke-width="1.21" stroke-linecap="round" stroke-opacity="0.9"/>
<path d="M243.9,71.1 Q244.2,72.1 243.4,73.0 Q242.3,73.5 242.1,74.3 Q242.7,74.4 243.6,76.4" fill="none" stroke="#25457C" stroke-width="1.26" stroke-linecap="round" stroke-opacity="0.9"/>
<path d="M226.2,83.5 Q225.2,84.7 224.7,84.7 Q223.0,86.4 223.4,87.8 Q224.4,89.2 223.4,90.7" fill="none" stroke="#7AA2D8" stroke-width="1.16" stroke-linecap="round" stroke-opacity="0.9"/>
<path d="M217.8,80.2 Q216.9,80.4 215.7,81.9 Q215.5,82.8 213.8,83.5" fill="none" stroke="#25457C" stroke-width="1.06" stroke-linecap="round" stroke-opacity="0.9"/>
<path d="M240.6,53.4 Q240.4,53.1 238.2,55.2 Q237.7,55.6 237.5,56.7 Q237.0,56.7 238.7,58.6 Q240.4,59.4 241.5,60.0" fill="none" stroke="#4270B3" stroke-width="1.32" stroke-linecap="round" stroke-opacity="0.9"/>
<path d="M231.7,60.3 Q232.6,60.9 233.7,59.6 Q235.3,58.9 236.3,59.3" fill="none" stroke="#3B66A8" stroke-width="1.41" stroke-linecap="round" stroke-opacity="0.9"/>
<path d="M226.4,47.0 Q227.6,46.4 229.3,47.6 Q230.5,47.4 230.4,45.7 Q230.3,43.7 228.2,43.1 Q227.1,44.1 226.2,43.5" fill="none" stroke="#25457C" stroke-width="1.00" stroke-linecap="round" stroke-opacity="0.9"/>
<path d="M211.9,61.1 Q213.1,62.5 213.2,63.3 Q215.1,63.0 216.3,62.4 Q217.0,61.3 218.1,61.5" fill="none" stroke="#7AA2D8" stroke-width="1.11" stroke-linecap="round" stroke-opacity="0.9"/>
<path d="M233.3,52.4 Q234.3,52.7 234.8,51.5 Q235.8,50.4 236.8,49.8 Q238.2,50.8 239.0,50.7" fill="none" stroke="#4270B3" stroke-width="0.87" stroke-linecap="round" stroke-opacity="0.9"/>
<path d="M238.1,51.4 Q239.4,50.5 240.7,52.5 Q241.0,54.0 240.1,55.2 Q239.2,56.9 237.7,57.6 Q236.9,57.3 236.1,58.7" fill="none" stroke="#7AA2D8" stroke-width="1.32" stroke-linecap="round" stroke-opacity="0.9"/>
<path d="M214.2,74.1 Q215.3,74.9 216.5,75.2 Q217.3,75.7 218.0,76.5" fill="none" stroke="#5585C6" stroke-width="1.44" stroke-linecap="round" stroke-opacity="0.9"/>
<path d="M240.7,78.3 Q242.5,80.0 242.3,80.8 Q244.1,82.1 245.2,82.0 Q246.3,82.9 246.2,83.7" fill="none" stroke="#3B66A8" stroke-width="1.28" stroke-linecap="round" stroke-opacity="0.9"/>
<path d="M236.7,66.7 Q237.6,64.6 238.2,63.5 Q237.1,63.4 236.5,62.0 Q235.8,63.0 234.4,63.4" fill="none" stroke="#25457C" stroke-width="1.01" stroke-linecap="round" stroke-opacity="0.9"/>
<path d="M231.3,54.8 Q232.1,54.2 232.9,55.1 Q232.1,56.7 233.7,57.6 Q234.3,57.8 235.6,59.1 Q236.6,60.5 235.3,61.5" fill="none" stroke="#7AA2D8" stroke-width="0.98" stroke-linecap="round" stroke-opacity="0.9"/>
<path d="M227.3,54.5 Q226.0,54.6 225.0,52.7 Q225.9,50.8 226.7,49.8" fill="none" stroke="#4270B3" stroke-width="1.03" stroke-linecap="round" stroke-opacity="0.9"/>
<path d="M241.9,68.4 Q242.8,70.2 241.5,71.6 Q240.6,72.5 240.6,72.9" fill="none" stroke="#335B9C" stroke-width="1.10" stroke-linecap="round" stroke-opacity="0.9"/>
<path d="M230.3,68.4 Q231.9,68.5 232.9,69.7 Q234.2,70.3 234.4,71.3 Q236.5,72.9 236.4,74.3" fill="none" stroke="#335B9C" stroke-width="0.85" stroke-linecap="round" stroke-opacity="0.9"/>
<path d="M237.0,59.6 Q237.1,60.7 239.5,61.6 Q240.9,62.4 240.7,63.9 Q241.3,64.8 240.4,65.4 Q239.6,65.7 239.6,67.3" fill="none" stroke="#25457C" stroke-width="0.91" stroke-linecap="round" stroke-opacity="0.9"/>
<path d="M228.0,85.3 Q228.9,83.9 228.3,82.9 Q227.4,82.5 227.3,81.5 Q227.9,80.2 227.5,79.3 Q226.2,78.1 225.5,78.6" fill="none" stroke="#335B9C" stroke-width="1.21" stroke-linecap="round" stroke-opacity="0.9"/>
<path d="M236.1,74.5 Q236.4,75.5 235.0,76.1 Q234.2,76.2 233.6,77.1" fill="none" stroke="#4270B3" stroke-width="1.28" stroke-linecap="round" stroke-opacity="0.9"/>
<path d="M243.9,68.1 Q242.9,66.6 241.3,66.8 Q240.5,68.1 239.6,68.0 Q238.6,67.6 237.2,67.4" fill="none" stroke="#5585C6" stroke-width="0.95" stroke-linecap="round" stroke-opacity="0.9"/>
<path d="M239.2,77.2 Q238.2,78.1 237.6,77.7 Q236.6,76.6 236.4,75.5 Q235.4,74.1 235.3,73.2 Q234.5,71.8 235.1,70.9" fill="none" stroke="#335B9C" stroke-width="0.86" stroke-linecap="round" stroke-opacity="0.9"/>
<path d="M224.9,81.0 Q224.6,80.1 225.0,79.0 Q225.6,78.2 223.1,76.5 Q221.5,76.3 220.4,77.9" fill="none" stroke="#25457C" stroke-width="1.16" stroke-linecap="round" stroke-opacity="0.9"/>
<path d="M237.0,82.1 Q236.8,83.7 235.1,84.6 Q235.1,85.6 236.5,86.4" fill="none" stroke="#7AA2D8" stroke-width="1.43" stroke-linecap="round" stroke-opacity="0.9"/>
<path d="M212.9,71.3 Q214.4,71.8 215.7,70.4 Q217.4,71.7 218.6,70.0" fill="none" stroke="#7AA2D8" stroke-width="1.35" stroke-linecap="round" stroke-opacity="0.9"/>
<path d="M240.6,62.7 Q240.6,64.5 242.1,65.7 Q242.2,66.9 241.5,68.4 Q239.8,69.0 239.5,70.7" fill="none" stroke="#4270B3" stroke-width="1.11" stroke-linecap="round" stroke-opacity="0.9"/>
<path d="M244.8,60.2 Q245.4,59.1 247.2,59.6 Q247.7,58.6 248.0,57.8" fill="none" stroke="#4270B3" stroke-width="0.82" stroke-linecap="round" stroke-opacity="0.9"/>
<path d="M229.4,52.9 Q229.1,53.0 228.0,51.8 Q226.5,53.2 226.1,53.5 Q225.8,52.5 224.1,52.6 Q225.4,50.8 224.3,49.0" fill="none" stroke="#7AA2D8" stroke-width="0.91" stroke-linecap="round" stroke-opacity="0.9"/>
<path d="M213.3,66.0 Q214.4,66.5 215.2,65.8 Q216.4,65.5 217.4,66.0" fill="none" stroke="#25457C" stroke-width="1.24" stroke-linecap="round" stroke-opacity="0.9"/>
<path d="M229.1,85.5 Q229.8,87.1 230.9,87.6 Q231.3,88.6 231.2,89.3 Q231.6,90.7 229.7,91.5" fill="none" stroke="#3B66A8" stroke-width="1.42" stroke-linecap="round" stroke-opacity="0.9"/>
<path d="M211.2,62.2 Q212.1,63.9 210.3,65.1 Q210.2,66.7 208.8,67.4" fill="none" stroke="#4270B3" stroke-width="1.05" stroke-linecap="round" stroke-opacity="0.9"/>
<path d="M238.3,62.7 Q238.3,64.3 237.9,65.4 Q237.2,64.8 235.8,66.1" fill="none" stroke="#3B66A8" stroke-width="0.83" stroke-linecap="round" stroke-opacity="0.9"/>
<path d="M227.8,70.1 Q229.1,70.9 230.3,70.4 Q231.7,70.5 232.9,69.3 Q233.6,68.0 233.3,66.4 Q235.4,64.4 235.8,64.1" fill="none" stroke="#25457C" stroke-width="1.38" stroke-linecap="round" stroke-opacity="0.9"/>
<path d="M216.9,67.1 Q215.6,66.2 215.7,63.9 Q217.1,62.8 218.4,61.8 Q218.6,60.7 218.6,59.6 Q218.2,58.3 217.0,57.9" fill="none" stroke="#3B66A8" stroke-width="1.25" stroke-linecap="round" stroke-opacity="0.9"/>
<path d="M215.2,77.3 Q215.5,78.7 215.3,80.1 Q216.1,80.0 216.9,80.6 Q217.6,81.0 219.3,80.7 Q218.7,82.4 220.7,83.6" fill="none" stroke="#5585C6" stroke-width="1.25" stroke-linecap="round" stroke-opacity="0.9"/>
<path d="M225.3,56.8 Q227.2,58.5 227.2,59.2 Q227.2,60.0 226.8,60.7" fill="none" stroke="#7AA2D8" stroke-width="0.85" stroke-linecap="round" stroke-opacity="0.9"/>
<path d="M239.7,61.0 Q241.2,59.9 242.0,60.1 Q243.6,60.2 244.1,58.6 Q244.7,57.4 243.8,56.0" fill="none" stroke="#7AA2D8" stroke-width="1.01" stroke-linecap="round" stroke-opacity="0.9"/>
<path d="M224.5,71.6 Q224.8,71.1 227.3,69.3 Q227.0,69.1 228.4,67.6 Q229.9,67.0 230.9,68.1" fill="none" stroke="#335B9C" stroke-width="0.91" stroke-linecap="round" stroke-opacity="0.9"/>
<path d="M212.2,56.9 Q213.0,57.4 213.7,57.1 Q215.1,55.4 214.5,54.2 Q214.0,53.7 215.7,52.2" fill="none" stroke="#5585C6" stroke-width="1.30" stroke-linecap="round" stroke-opacity="0.9"/>
<path d="M228.9,66.6 Q229.5,65.4 230.3,65.2 Q232.2,63.6 233.5,64.2 Q235.2,66.1 235.1,66.9 Q233.2,67.1 232.7,69.2" fill="none" stroke="#7AA2D8" stroke-width="1.17" stroke-linecap="round" stroke-opacity="0.9"/>
<path d="M232.3,66.4 Q232.2,66.2 234.7,68.8 Q235.3,68.8 236.8,66.8" fill="none" stroke="#25457C" stroke-width="1.44" stroke-linecap="round" stroke-opacity="0.9"/>
<path d="M212.3,56.7 Q213.7,56.0 214.8,56.7 Q215.4,55.9 216.4,56.4" fill="none" stroke="#5585C6" stroke-width="0.84" stroke-linecap="round" stroke-opacity="0.9"/>
<path d="M234.1,55.4 Q235.1,56.7 235.9,57.6 Q237.1,58.7 237.8,58.3 Q237.7,57.2 238.7,56.5" fill="none" stroke="#4270B3" stroke-width="1.06" stroke-linecap="round" stroke-opacity="0.9"/>
<path d="M228.6,67.6 Q229.3,67.9 230.3,67.5 Q232.4,68.7 231.9,70.5" fill="none" stroke="#5585C6" stroke-width="1.42" stroke-linecap="round" stroke-opacity="0.9"/>
<path d="M214.0,72.1 Q215.2,72.1 215.8,70.9 Q216.2,72.1 217.2,72.4 Q218.2,72.4 218.9,72.0 Q219.0,71.0 220.8,70.0" fill="none" stroke="#7AA2D8" stroke-width="1.29" stroke-linecap="round" stroke-opacity="0.9"/>
<path d="M211.5,63.6 Q212.8,62.8 213.0,61.5 Q211.4,60.5 210.8,60.0" fill="none" stroke="#25457C" stroke-width="1.17" stroke-linecap="round" stroke-opacity="0.9"/>
<path d="M238.1,77.2 Q237.3,79.0 236.8,80.2 Q235.1,81.5 233.9,80.7" fill="none" stroke="#4270B3" stroke-width="0.99" stroke-linecap="round" stroke-opacity="0.9"/>
<path d="M227.7,63.9 Q226.4,63.8 225.3,63.5 Q224.5,65.3 223.5,66.1 Q223.5,67.5 222.1,68.4 Q221.5,69.2 221.6,69.8" fill="none" stroke="#5585C6" stroke-width="1.06" stroke-linecap="round" stroke-opacity="0.9"/>
<path d="M240.8,81.5 Q241.0,80.5 241.7,80.1 Q242.2,80.6 244.6,79.2" fill="none" stroke="#7AA2D8" stroke-width="1.10" stroke-linecap="round" stroke-opacity="0.9"/>
<path d="M215.1,55.8 Q215.5,55.6 216.3,54.4 Q215.9,53.4 217.0,52.9" fill="none" stroke="#3B66A8" stroke-width="0.82" stroke-linecap="round" stroke-opacity="0.9"/>
<path d="M212.0,58.7 Q213.7,57.2 214.5,57.5 Q213.9,59.5 216.4,60.4" fill="none" stroke="#3B66A8" stroke-width="1.15" stroke-linecap="round" stroke-opacity="0.9"/>
<path d="M231.1,56.4 Q230.2,58.0 228.8,58.2 Q227.3,57.0 226.3,58.5 Q224.5,57.9 223.2,59.2 Q221.5,58.8 220.1,60.7" fill="none" stroke="#7AA2D8" stroke-width="0.98" stroke-linecap="round" stroke-opacity="0.9"/>
<path d="M217.7,71.1 Q219.1,69.0 218.1,67.7 Q216.5,66.1 215.5,66.3" fill="none" stroke="#25457C" stroke-width="1.39" stroke-linecap="round" stroke-opacity="0.9"/>
<path d="M233.0,75.1 Q232.1,76.8 232.6,78.2 Q233.5,79.4 233.4,80.1 Q233.5,81.8 235.5,82.1" fill="none" stroke="#4270B3" stroke-width="1.30" stroke-linecap="round" stroke-opacity="0.9"/>
<path d="M230.3,81.3 Q231.5,80.3 232.2,80.8 Q233.5,81.3 234.3,79.9 Q234.9,81.3 236.2,81.7" fill="none" stroke="#7AA2D8" stroke-width="1.44" stroke-linecap="round" stroke-opacity="0.9"/>
<path d="M224.0,57.2 Q224.6,58.4 223.4,59.4 Q224.5,60.7 223.6,61.5 Q222.3,62.3 221.2,62.2 Q221.3,63.4 220.1,64.1" fill="none" stroke="#3B66A8" stroke-width="1.04" stroke-linecap="round" stroke-opacity="0.9"/>
<path d="M238.7,56.2 Q238.1,55.3 239.6,54.2 Q240.2,53.2 239.9,52.5 Q241.1,51.8 241.7,51.6" fill="none" stroke="#5585C6" stroke-width="1.36" stroke-linecap="round" stroke-opacity="0.9"/>
<path d="M234.6,61.3 Q233.6,60.7 232.9,61.1 Q232.0,59.8 230.8,58.9 Q229.8,58.9 228.3,61.2 Q227.2,60.0 225.9,60.2" fill="none" stroke="#4270B3" stroke-width="1.16" stroke-linecap="round" stroke-opacity="0.9"/>
<path d="M237.5,56.5 Q236.5,55.7 235.1,56.3 Q234.9,56.5 233.8,55.5 Q233.8,56.8 232.6,57.3 Q231.4,57.8 231.3,59.6" fill="none" stroke="#3B66A8" stroke-width="1.35" stroke-linecap="round" stroke-opacity="0.9"/>
<path d="M243.3,77.6 Q244.1,76.5 244.2,76.0 Q245.1,76.2 245.6,76.7 Q246.7,76.0 248.7,76.9" fill="none" stroke="#5585C6" stroke-width="1.10" stroke-linecap="round" stroke-opacity="0.9"/>
<path d="M243.8,67.4 Q244.1,65.4 245.9,64.6 Q247.0,63.3 248.0,63.9" fill="none" stroke="#335B9C" stroke-width="1.24" stroke-linecap="round" stroke-opacity="0.9"/>
<path d="M227.8,67.3 Q228.1,66.5 228.7,65.9 Q230.0,65.3 230.8,64.0" fill="none" stroke="#4270B3" stroke-width="0.80" stroke-linecap="round" stroke-opacity="0.9"/>
<path d="M240.8,60.1 Q241.2,59.1 241.7,57.4 Q240.6,55.9 240.4,55.3 Q239.0,54.3 236.9,54.9" fill="none" stroke="#7AA2D8" stroke-width="0.90" stroke-linecap="round" stroke-opacity="0.9"/>
<path d="M237.7,63.8 Q237.0,64.7 236.5,64.8 Q236.8,65.7 237.3,66.3" fill="none" stroke="#5585C6" stroke-width="0.91" stroke-linecap="round" stroke-opacity="0.9"/>
<path d="M217.5,61.0 Q217.7,62.3 218.5,63.3 Q219.4,64.2 220.0,63.5" fill="none" stroke="#335B9C" stroke-width="1.35" stroke-linecap="round" stroke-opacity="0.9"/>
<path d="M236.6,49.6 Q237.1,49.6 238.4,47.4 Q239.4,45.6 237.1,44.3 Q238.0,43.1 237.5,41.8 Q238.6,42.2 240.0,42.2" fill="none" stroke="#5585C6" stroke-width="1.08" stroke-linecap="round" stroke-opacity="0.9"/>
<path d="M218.1,49.9 Q216.5,48.4 216.4,47.9 Q215.2,46.9 215.1,46.2 Q213.4,46.4 212.1,47.6 Q211.7,48.7 211.1,49.1" fill="none" stroke="#3B66A8" stroke-width="0.82" stroke-linecap="round" stroke-opacity="0.9"/>
<path d="M242.9,78.0 Q244.3,77.7 245.2,77.1 Q246.5,77.9 247.4,76.9 Q248.3,77.5 247.9,79.7 Q246.7,81.8 249.3,82.9" fill="none" stroke="#335B9C" stroke-width="1.04" stroke-linecap="round" stroke-opacity="0.9"/>
<path d="M227.6,51.0 Q229.5,50.4 230.8,51.5 Q231.7,52.2 232.4,51.5 Q233.6,49.9 235.4,49.7" fill="none" stroke="#3B66A8" stroke-width="1.00" stroke-linecap="round" stroke-opacity="0.9"/>
<path d="M226.6,76.9 Q227.7,76.7 228.3,77.7 Q230.0,77.0 230.6,76.0 Q231.9,74.5 230.8,73.4" fill="none" stroke="#3B66A8" stroke-width="1.35" stroke-linecap="round" stroke-opacity="0.9"/>
<path d="M237.8,62.1 Q236.4,62.1 235.1,62.1 Q233.9,61.9 233.1,62.9 Q234.8,64.6 234.0,65.6 Q232.7,67.2 232.7,68.8" fill="none" stroke="#3B66A8" stroke-width="0.97" stroke-linecap="round" stroke-opacity="0.9"/>
<path d="M236.5,69.3 Q238.6,69.3 238.8,72.0 Q240.3,70.5 241.0,70.7 Q241.8,70.7 243.0,72.3 Q242.7,73.2 241.4,74.2" fill="none" stroke="#4270B3" stroke-width="1.04" stroke-linecap="round" stroke-opacity="0.9"/>
<path d="M235.4,56.7 Q234.7,54.9 233.4,54.5 Q232.1,55.3 231.2,55.5 Q229.7,53.6 229.6,52.5" fill="none" stroke="#7AA2D8" stroke-width="1.01" stroke-linecap="round" stroke-opacity="0.9"/>
<path d="M240.3,75.2 Q241.5,75.0 242.1,74.3 Q242.2,73.1 244.4,72.7 Q245.6,71.0 246.3,70.6 Q247.0,71.3 248.1,70.7" fill="none" stroke="#3B66A8" stroke-width="1.07" stroke-linecap="round" stroke-opacity="0.9"/>
<path d="M229.6,53.3 Q231.1,51.4 229.6,50.1 Q228.8,49.2 229.6,48.5" fill="none" stroke="#5585C6" stroke-width="1.35" stroke-linecap="round" stroke-opacity="0.9"/>
<path d="M218.4,76.2 Q219.4,77.6 220.3,77.7 Q221.3,76.6 221.7,76.5 Q221.7,75.0 222.9,74.2 Q221.2,72.3 221.1,71.5" fill="none" stroke="#25457C" stroke-width="1.18" stroke-linecap="round" stroke-opacity="0.9"/>
<path d="M238.8,64.7 Q239.0,63.8 239.5,63.3 Q240.7,62.2 240.9,61.8" fill="none" stroke="#335B9C" stroke-width="1.10" stroke-linecap="round" stroke-opacity="0.9"/>
<path d="M245.8,66.6 Q244.6,66.9 244.6,68.4 Q244.7,69.2 246.5,70.2 Q247.4,69.1 248.9,70.8 Q248.8,72.3 251.1,72.8" fill="none" stroke="#5585C6" stroke-width="1.01" stroke-linecap="round" stroke-opacity="0.9"/>
<path d="M216.3,60.3 Q214.8,59.8 213.6,60.2 Q214.1,61.3 212.7,61.8 Q214.2,62.5 213.8,64.3 Q214.5,64.9 214.9,67.3" fill="none" stroke="#7AA2D8" stroke-width="0.87" stroke-linecap="round" stroke-opacity="0.9"/>
<path d="M231.9,67.4 Q230.1,67.0 229.6,69.7 Q228.6,68.6 228.0,68.7 Q227.0,68.2 226.8,66.2 Q225.9,65.5 225.9,65.0" fill="none" stroke="#25457C" stroke-width="0.92" stroke-linecap="round" stroke-opacity="0.9"/>
<path d="M228.0,69.2 Q227.5,68.4 227.3,67.9 Q229.1,66.1 228.2,64.7 Q228.0,62.8 229.0,61.5" fill="none" stroke="#335B9C" stroke-width="1.37" stroke-linecap="round" stroke-opacity="0.9"/>
<path d="M220.7,68.7 Q222.3,69.0 223.3,67.8 Q224.0,66.9 225.5,66.6" fill="none" stroke="#7AA2D8" stroke-width="0.82" stroke-linecap="round" stroke-opacity="0.9"/>
<path d="M237.0,63.0 Q237.1,63.3 236.2,65.0 Q234.7,66.2 233.7,65.6 Q231.8,66.4 231.3,67.9" fill="none" stroke="#3B66A8" stroke-width="1.14" stroke-linecap="round" stroke-opacity="0.9"/>
<path d="M231.4,85.7 Q231.7,86.5 233.0,88.0 Q232.3,87.8 230.0,89.9 Q230.4,91.4 230.6,93.3" fill="none" stroke="#5585C6" stroke-width="1.02" stroke-linecap="round" stroke-opacity="0.9"/>
<path d="M241.8,76.0 Q242.4,76.9 243.4,76.6 Q245.2,74.8 246.2,75.0" fill="none" stroke="#3B66A8" stroke-width="0.83" stroke-linecap="round" stroke-opacity="0.9"/>
<path d="M228.9,46.0 Q229.9,47.0 229.7,47.9 Q231.0,47.2 232.5,47.3 Q233.2,46.6 235.5,48.9" fill="none" stroke="#25457C" stroke-width="1.18" stroke-linecap="round" stroke-opacity="0.9"/>
<path d="M215.2,57.9 Q216.6,57.3 217.7,58.6 Q217.6,58.5 219.0,57.2 Q218.8,55.5 220.0,54.5 Q220.7,53.0 218.7,52.3" fill="none" stroke="#5585C6" stroke-width="1.44" stroke-linecap="round" stroke-opacity="0.9"/>
<path d="M238.0,53.4 Q237.9,53.7 236.6,54.2 Q235.9,54.5 235.1,53.5 Q234.1,51.9 235.0,50.7" fill="none" stroke="#3B66A8" stroke-width="0.82" stroke-linecap="round" stroke-opacity="0.9"/>
<path d="M223.2,68.9 Q223.6,70.4 224.5,71.0 Q223.0,72.3 224.2,73.8 Q225.8,74.0 226.9,74.0" fill="none" stroke="#3B66A8" stroke-width="1.22" stroke-linecap="round" stroke-opacity="0.9"/>
<path d="M235.9,83.8 Q234.7,83.1 234.6,81.3 Q234.7,79.9 236.0,78.8 Q237.7,77.6 239.2,79.3" fill="none" stroke="#3B66A8" stroke-width="1.34" stroke-linecap="round" stroke-opacity="0.9"/>
<path d="M234.5,50.1 Q234.7,49.2 236.0,49.1 Q236.9,49.5 237.4,48.2 Q238.3,47.5 239.0,48.3 Q240.3,46.7 239.7,45.6" fill="none" stroke="#5585C6" stroke-width="0.85" stroke-linecap="round" stroke-opacity="0.9"/>
<path d="M216.1,77.5 Q215.1,79.2 214.6,80.2 Q214.8,81.3 213.9,82.2" fill="none" stroke="#25457C" stroke-width="1.37" stroke-linecap="round" stroke-opacity="0.9"/>
<path d="M216.0,52.1 Q217.3,52.2 217.9,53.3 Q218.4,52.6 218.9,52.2 Q220.6,50.2 221.3,49.9 Q220.8,49.0 222.0,48.5" fill="none" stroke="#4270B3" stroke-width="1.24" stroke-linecap="round" stroke-opacity="0.9"/>
<path d="M224.1,78.8 Q224.4,79.8 223.9,80.8 Q222.3,81.1 221.2,81.2 Q219.9,82.3 219.2,81.9" fill="none" stroke="#25457C" stroke-width="1.41" stroke-linecap="round" stroke-opacity="0.9"/>
<path d="M226.8,53.0 Q227.7,53.9 228.2,53.4 Q229.1,53.6 230.3,53.7" fill="none" stroke="#3B66A8" stroke-width="0.91" stroke-linecap="round" stroke-opacity="0.9"/>
<path d="M210.4,67.1 Q211.8,67.1 211.9,65.3 Q212.3,66.1 213.2,66.4" fill="none" stroke="#7AA2D8" stroke-width="0.93" stroke-linecap="round" stroke-opacity="0.9"/>
<path d="M243.6,64.7 Q245.5,66.6 245.7,67.3 Q245.3,68.0 245.5,69.7 Q245.4,71.2 245.3,72.8 Q243.5,74.5 243.7,75.4" fill="none" stroke="#335B9C" stroke-width="1.34" stroke-linecap="round" stroke-opacity="0.9"/>
<path d="M227.9,81.2 Q228.8,80.0 229.0,79.0 Q228.0,77.6 228.4,76.3" fill="none" stroke="#25457C" stroke-width="1.12" stroke-linecap="round" stroke-opacity="0.9"/>
<path d="M237.4,63.9 Q238.8,64.0 239.5,64.8 Q238.3,65.8 238.8,68.0 Q237.9,69.0 237.3,68.9" fill="none" stroke="#335B9C" stroke-width="1.31" stroke-linecap="round" stroke-opacity="0.9"/>
<path d="M228.7,61.8 Q228.1,60.5 227.8,59.0 Q226.3,59.5 225.2,59.4 Q224.5,58.5 223.4,58.8 Q222.6,58.7 221.7,58.3" fill="none" stroke="#335B9C" stroke-width="0.90" stroke-linecap="round" stroke-opacity="0.9"/>
<path d="M220.1,54.5 Q220.3,53.0 221.4,52.5 Q222.7,51.1 223.5,50.4 Q224.6,50.7 225.2,49.5" fill="none" stroke="#335B9C" stroke-width="1.29" stroke-linecap="round" stroke-opacity="0.9"/>
<path d="M229.5,71.7 Q230.4,70.6 231.0,70.6 Q230.2,68.9 230.4,67.6 Q231.6,65.8 233.3,66.2" fill="none" stroke="#4270B3" stroke-width="1.17" stroke-linecap="round" stroke-opacity="0.9"/>
<path d="M229.4,60.6 Q229.5,62.5 229.7,63.8 Q229.9,65.0 231.0,65.9 Q230.4,67.3 230.5,68.1" fill="none" stroke="#7AA2D8" stroke-width="1.35" stroke-linecap="round" stroke-opacity="0.9"/>
<path d="M217.7,68.1 Q218.8,69.4 218.6,70.1 Q218.6,71.0 218.4,71.6" fill="none" stroke="#335B9C" stroke-width="0.97" stroke-linecap="round" stroke-opacity="0.9"/>
<path d="M229.4,47.3 Q230.4,47.0 230.9,48.8 Q231.8,50.4 232.3,50.9 Q231.9,52.4 232.1,53.6" fill="none" stroke="#5585C6" stroke-width="1.44" stroke-linecap="round" stroke-opacity="0.9"/>
<path d="M218.7,71.9 Q218.2,70.4 219.0,69.4 Q219.6,68.6 219.8,68.0 Q221.1,66.7 219.8,65.3 Q218.1,64.1 217.2,64.2" fill="none" stroke="#25457C" stroke-width="0.86" stroke-linecap="round" stroke-opacity="0.9"/>
<path d="M242.5,74.3 Q242.8,73.2 243.7,72.7 Q243.7,72.1 244.6,69.8" fill="none" stroke="#5585C6" stroke-width="0.97" stroke-linecap="round" stroke-opacity="0.9"/>
<path d="M239.4,50.4 Q240.4,50.7 240.9,51.0 Q241.1,52.9 239.8,54.1 Q241.7,55.5 240.5,57.5 Q239.1,57.7 238.3,57.9" fill="none" stroke="#7AA2D8" stroke-width="1.01" stroke-linecap="round" stroke-opacity="0.9"/>
<path d="M217.4,81.9 Q217.1,81.3 215.6,80.9 Q214.6,81.5 213.7,80.7 Q213.4,80.5 212.1,80.0" fill="none" stroke="#335B9C" stroke-width="1.20" stroke-linecap="round" stroke-opacity="0.9"/>
<path d="M240.2,72.7 Q238.5,72.8 237.5,71.7 Q235.8,72.0 234.9,70.8" fill="none" stroke="#25457C" stroke-width="1.11" stroke-linecap="round" stroke-opacity="0.9"/>
<path d="M218.1,77.3 Q217.4,77.5 216.5,77.2 Q215.6,78.3 216.3,79.1 Q216.7,80.4 218.3,79.9" fill="none" stroke="#5585C6" stroke-width="1.40" stroke-linecap="round" stroke-opacity="0.9"/>
<path d="M238.5,56.6 Q238.2,57.2 237.3,57.9 Q236.4,59.2 237.6,60.2 Q236.1,62.0 236.0,62.6 Q234.9,61.8 233.1,63.5" fill="none" stroke="#7AA2D8" stroke-width="1.38" stroke-linecap="round" stroke-opacity="0.9"/>
<path d="M238.0,61.8 Q239.1,61.8 239.3,63.1 Q239.2,65.0 241.7,65.5 Q242.5,63.8 244.1,64.0" fill="none" stroke="#4270B3" stroke-width="1.02" stroke-linecap="round" stroke-opacity="0.9"/>
<path d="M225.3,69.3 Q226.9,71.2 226.2,72.6 Q225.7,74.3 224.1,74.5 Q223.5,75.0 221.4,73.6" fill="none" stroke="#5585C6" stroke-width="1.22" stroke-linecap="round" stroke-opacity="0.9"/>
<path d="M221.3,59.2 Q221.0,60.3 219.1,60.6 Q217.8,59.0 217.2,58.5" fill="none" stroke="#7AA2D8" stroke-width="0.84" stroke-linecap="round" stroke-opacity="0.9"/>
<path d="M246.3,61.0 Q246.1,62.1 245.1,62.5 Q244.3,63.4 243.5,63.0" fill="none" stroke="#25457C" stroke-width="1.09" stroke-linecap="round" stroke-opacity="0.9"/>
<path d="M239.4,53.0 Q240.6,52.4 240.9,51.3 Q241.9,51.4 242.6,51.7 Q244.6,53.1 244.4,54.6 Q245.1,53.9 246.6,55.0" fill="none" stroke="#5585C6" stroke-width="1.13" stroke-linecap="round" stroke-opacity="0.9"/>
<path d="M241.8,68.9 Q241.6,70.6 239.1,70.6 Q238.2,70.8 237.9,71.7" fill="none" stroke="#25457C" stroke-width="1.39" stroke-linecap="round" stroke-opacity="0.9"/>
<path d="M218.3,52.6 Q218.1,51.8 218.7,50.8 Q217.8,50.5 217.3,50.2 Q218.1,49.3 217.4,48.6" fill="none" stroke="#4270B3" stroke-width="1.37" stroke-linecap="round" stroke-opacity="0.9"/>
<path d="M230.6,85.9 Q230.4,86.9 229.3,89.0 Q228.0,88.0 226.6,88.6 Q226.9,86.7 226.3,85.4 Q225.4,84.7 226.6,83.4" fill="none" stroke="#4270B3" stroke-width="1.04" stroke-linecap="round" stroke-opacity="0.9"/>
<path d="M212.3,58.6 Q214.3,57.4 215.2,56.9 Q215.5,55.8 216.4,53.6 Q218.0,54.8 219.4,53.6 Q220.9,53.1 222.0,52.5" fill="none" stroke="#3B66A8" stroke-width="0.99" stroke-linecap="round" stroke-opacity="0.9"/>
<path d="M238.0,73.9 Q239.8,72.0 240.3,71.3 Q239.8,71.1 241.3,69.3 Q243.4,67.7 244.8,69.4" fill="none" stroke="#4270B3" stroke-width="0.92" stroke-linecap="round" stroke-opacity="0.9"/>
<path d="M235.8,75.1 Q235.5,73.7 236.3,72.7 Q235.2,71.6 236.3,70.3 Q236.9,68.5 238.6,67.5" fill="none" stroke="#4270B3" stroke-width="1.07" stroke-linecap="round" stroke-opacity="0.9"/>
<path d="M241.5,54.9 Q240.6,55.1 239.8,54.6 Q239.6,54.9 237.5,57.2 Q236.5,57.6 236.0,58.2 Q235.0,59.4 235.8,60.3" fill="none" stroke="#4270B3" stroke-width="0.84" stroke-linecap="round" stroke-opacity="0.9"/>
<path d="M214.8,53.1 Q213.7,53.2 212.9,53.3 Q211.7,53.6 211.6,55.1 Q212.0,56.1 211.7,57.9" fill="none" stroke="#5585C6" stroke-width="0.85" stroke-linecap="round" stroke-opacity="0.9"/>
<path d="M230.0,48.9 Q228.6,50.7 228.6,51.6 Q227.4,50.9 226.6,51.4 Q225.7,51.2 225.2,50.5 Q223.6,50.9 222.8,48.6" fill="none" stroke="#4270B3" stroke-width="1.05" stroke-linecap="round" stroke-opacity="0.9"/>
<path d="M215.4,68.2 Q216.3,67.9 217.0,68.5 Q217.7,69.8 219.4,70.8 Q220.7,71.2 221.6,70.9" fill="none" stroke="#25457C" stroke-width="1.22" stroke-linecap="round" stroke-opacity="0.9"/>
<path d="M243.2,75.6 Q243.4,75.7 241.5,73.9 Q240.9,73.0 240.7,70.4 Q239.7,69.4 239.7,68.7" fill="none" stroke="#25457C" stroke-width="1.25" stroke-linecap="round" stroke-opacity="0.9"/>
<path d="M224.8,84.4 Q225.7,84.4 227.1,84.2 Q227.1,85.9 229.1,86.5 Q230.9,86.7 232.1,85.8 Q233.8,84.3 234.4,84.1" fill="none" stroke="#7AA2D8" stroke-width="0.83" stroke-linecap="round" stroke-opacity="0.9"/>
<path d="M231.6,49.3 Q231.2,48.4 230.0,48.8 Q230.1,48.1 228.5,46.5 Q227.4,47.9 226.2,47.6 Q224.4,49.5 224.5,50.7" fill="none" stroke="#5585C6" stroke-width="1.42" stroke-linecap="round" stroke-opacity="0.9"/>
<path d="M218.2,61.5 Q218.4,61.1 217.2,60.3 Q215.7,61.3 214.7,60.3" fill="none" stroke="#335B9C" stroke-width="1.13" stroke-linecap="round" stroke-opacity="0.9"/>
<path d="M213.6,57.4 Q215.6,57.1 216.6,55.9 Q217.6,57.3 218.6,57.9 Q220.3,59.7 221.3,59.4 Q223.3,61.4 223.6,61.9" fill="none" stroke="#335B9C" stroke-width="1.36" stroke-linecap="round" stroke-opacity="0.9"/>
<path d="M241.6,75.3 Q242.5,75.0 242.8,73.5 Q242.8,72.3 241.5,71.8" fill="none" stroke="#25457C" stroke-width="1.01" stroke-linecap="round" stroke-opacity="0.9"/>
<path d="M228.0,74.2 Q227.7,73.4 228.9,72.9 Q228.9,70.9 230.8,70.0" fill="none" stroke="#5585C6" stroke-width="0.93" stroke-linecap="round" stroke-opacity="0.9"/>
<path d="M232.9,77.9 Q230.8,77.4 230.2,80.2 Q229.2,81.2 229.3,81.6" fill="none" stroke="#25457C" stroke-width="1.04" stroke-linecap="round" stroke-opacity="0.9"/>
<path d="M225.5,59.5 Q224.5,60.4 224.5,61.0 Q224.3,60.4 223.0,60.2 Q222.1,59.8 221.8,59.1" fill="none" stroke="#335B9C" stroke-width="1.20" stroke-linecap="round" stroke-opacity="0.9"/>
<path d="M236.3,47.7 Q237.8,46.2 237.6,45.6 Q239.4,47.2 240.5,46.9 Q241.5,47.9 242.7,47.4 Q244.0,48.5 245.7,47.2" fill="none" stroke="#25457C" stroke-width="1.43" stroke-linecap="round" stroke-opacity="0.9"/>
<path d="M216.0,76.1 Q214.6,76.2 213.8,76.6 Q213.7,78.1 214.2,80.1" fill="none" stroke="#3B66A8" stroke-width="0.87" stroke-linecap="round" stroke-opacity="0.9"/>
<path d="M232.9,56.9 Q231.7,57.2 231.0,55.9 Q230.8,55.0 231.6,53.9 Q232.6,53.9 233.5,53.7" fill="none" stroke="#25457C" stroke-width="0.96" stroke-linecap="round" stroke-opacity="0.9"/>
<path d="M237.4,68.8 Q236.7,68.9 236.0,69.5 Q233.9,69.7 233.5,72.0" fill="none" stroke="#3B66A8" stroke-width="1.13" stroke-linecap="round" stroke-opacity="0.9"/>
<path d="M236.0,79.5 Q238.0,77.6 238.7,77.6 Q240.0,77.2 239.9,74.8 Q241.9,73.6 243.0,75.8 Q244.8,77.1 246.1,75.9" fill="none" stroke="#5585C6" stroke-width="1.44" stroke-linecap="round" stroke-opacity="0.9"/>
<path d="M221.2,57.8 Q222.7,59.2 223.9,58.2 Q225.9,56.1 226.4,55.9 Q227.2,54.2 226.7,52.7" fill="none" stroke="#5585C6" stroke-width="1.14" stroke-linecap="round" stroke-opacity="0.9"/>
<path d="M222.9,76.0 Q221.9,75.5 220.8,76.2 Q218.8,78.2 218.2,78.4 Q217.0,79.2 216.2,79.8" fill="none" stroke="#5585C6" stroke-width="1.31" stroke-linecap="round" stroke-opacity="0.9"/>
<path d="M232.9,56.8 Q234.4,57.7 235.2,59.2 Q234.0,60.5 233.7,60.8 Q232.9,62.1 232.5,63.0 Q230.6,61.7 229.0,62.9" fill="none" stroke="#7AA2D8" stroke-width="1.43" stroke-linecap="round" stroke-opacity="0.9"/>
<path d="M236.0,55.2 Q236.8,56.6 237.1,57.3 Q238.0,58.9 236.4,60.5 Q235.1,61.5 234.2,60.6" fill="none" stroke="#25457C" stroke-width="0.89" stroke-linecap="round" stroke-opacity="0.9"/>
<path d="M244.1,72.2 Q245.1,71.4 245.9,70.8 Q245.0,69.6 245.5,68.8 Q244.6,67.2 244.5,66.3 Q244.1,65.9 245.3,64.8" fill="none" stroke="#335B9C" stroke-width="0.90" stroke-linecap="round" stroke-opacity="0.9"/>
<path d="M239.8,57.0 Q240.6,57.4 242.5,56.4 Q243.5,55.6 242.3,53.9 Q243.6,53.5 245.1,52.6" fill="none" stroke="#335B9C" stroke-width="1.30" stroke-linecap="round" stroke-opacity="0.9"/>
<path d="M245.8,64.4 Q244.5,63.5 243.6,65.0 Q243.1,63.1 242.0,62.2 Q242.5,61.2 241.7,60.5" fill="none" stroke="#335B9C" stroke-width="1.04" stroke-linecap="round" stroke-opacity="0.9"/>
<path d="M226.5,59.6 Q227.2,59.7 227.9,59.1 Q228.1,59.2 230.0,57.8" fill="none" stroke="#5585C6" stroke-width="1.01" stroke-linecap="round" stroke-opacity="0.9"/>
<path d="M239.3,53.4 Q237.8,52.1 236.6,53.1 Q237.4,52.0 235.9,51.0 Q236.6,49.1 235.4,47.8" fill="none" stroke="#3B66A8" stroke-width="0.92" stroke-linecap="round" stroke-opacity="0.9"/>
<path d="M219.0,70.0 Q219.1,70.2 218.3,71.7 Q220.0,73.2 220.8,73.1" fill="none" stroke="#25457C" stroke-width="0.91" stroke-linecap="round" stroke-opacity="0.9"/>
<path d="M238.0,54.2 Q238.7,52.8 238.1,51.8 Q237.5,50.3 236.8,49.4 Q237.7,48.4 237.0,47.6" fill="none" stroke="#335B9C" stroke-width="1.26" stroke-linecap="round" stroke-opacity="0.9"/>
<path d="M223.1,76.1 Q223.2,75.1 222.9,74.2 Q223.4,73.9 223.5,72.7 Q224.6,72.6 224.6,70.9" fill="none" stroke="#335B9C" stroke-width="0.97" stroke-linecap="round" stroke-opacity="0.9"/>
<path d="M213.2,57.9 Q213.0,59.2 214.8,60.9 Q215.6,62.7 216.5,63.4 Q217.6,64.2 218.4,63.1 Q219.4,62.4 220.1,62.5" fill="none" stroke="#7AA2D8" stroke-width="1.21" stroke-linecap="round" stroke-opacity="0.9"/>
<path d="M241.2,61.1 Q242.5,62.0 242.4,63.4 Q243.8,64.2 244.5,64.7 Q244.7,64.0 245.9,63.8 Q245.2,62.6 246.0,61.8" fill="none" stroke="#3B66A8" stroke-width="1.27" stroke-linecap="round" stroke-opacity="0.9"/>
<path d="M240.5,72.3 Q241.4,73.3 241.7,73.5 Q241.8,74.7 241.6,75.5" fill="none" stroke="#7AA2D8" stroke-width="1.29" stroke-linecap="round" stroke-opacity="0.9"/>
<path d="M224.0,72.6 Q224.8,71.6 224.2,70.8 Q222.6,69.5 223.4,68.0" fill="none" stroke="#335B9C" stroke-width="1.35" stroke-linecap="round" stroke-opacity="0.9"/>
<path d="M220.6,56.6 Q221.9,57.8 222.3,57.8 Q221.5,59.5 222.1,60.9" fill="none" stroke="#4270B3" stroke-width="1.32" stroke-linecap="round" stroke-opacity="0.9"/>
<path d="M233.3,49.4 Q231.7,48.8 230.9,47.8 Q229.4,48.6 228.5,47.7 Q227.7,47.6 227.5,46.0" fill="none" stroke="#5585C6" stroke-width="1.35" stroke-linecap="round" stroke-opacity="0.9"/>
<path d="M219.8,64.7 Q217.7,65.4 217.3,67.2 Q215.6,65.4 214.5,65.7 Q213.2,66.1 212.4,64.8 Q210.5,63.5 209.5,63.8" fill="none" stroke="#335B9C" stroke-width="1.31" stroke-linecap="round" stroke-opacity="0.9"/>
<path d="M225.2,72.4 Q226.8,74.1 227.4,74.2 Q228.3,75.7 227.3,77.0 Q228.3,76.8 229.3,77.3" fill="none" stroke="#7AA2D8" stroke-width="1.28" stroke-linecap="round" stroke-opacity="0.9"/>
<path d="M230.1,62.6 Q230.7,62.2 231.9,61.3 Q233.4,60.1 234.4,60.8 Q235.6,61.5 236.0,63.0 Q237.4,61.9 238.0,61.7" fill="none" stroke="#335B9C" stroke-width="0.91" stroke-linecap="round" stroke-opacity="0.9"/>
<path d="M221.6,65.9 Q220.3,67.3 220.0,67.5 Q219.4,68.8 221.3,69.5 Q221.8,70.5 220.7,71.8 Q219.3,72.1 219.2,73.7" fill="none" stroke="#25457C" stroke-width="1.32" stroke-linecap="round" stroke-opacity="0.9"/>
<path d="M231.2,81.5 Q231.7,82.6 230.8,83.3 Q231.5,83.9 231.5,85.3 Q232.5,85.3 233.3,84.9 Q234.9,84.0 236.4,85.7" fill="none" stroke="#7AA2D8" stroke-width="1.24" stroke-linecap="round" stroke-opacity="0.9"/>
<path d="M216.9,80.7 Q215.4,80.1 214.6,79.6 Q214.3,79.9 213.2,81.8 Q212.4,81.8 211.6,81.1 Q212.4,79.9 210.1,78.1" fill="none" stroke="#5585C6" stroke-width="1.35" stroke-linecap="round" stroke-opacity="0.9"/>
<path d="M235.7,78.6 Q235.0,77.0 235.1,75.9 Q235.6,75.4 237.3,74.8 Q237.3,76.3 239.8,76.6 Q241.9,76.0 243.3,75.8" fill="none" stroke="#4270B3" stroke-width="0.83" stroke-linecap="round" stroke-opacity="0.9"/>
<path d="M218.3,60.7 Q219.5,60.5 220.1,59.5 Q221.7,60.7 222.8,59.8" fill="none" stroke="#7AA2D8" stroke-width="1.12" stroke-linecap="round" stroke-opacity="0.9"/>
<path d="M220.7,50.0 Q222.0,51.0 222.0,52.4 Q222.1,53.2 221.4,53.9" fill="none" stroke="#25457C" stroke-width="1.43" stroke-linecap="round" stroke-opacity="0.9"/>
<path d="M241.7,52.5 Q240.6,53.2 239.7,54.1 Q240.8,55.6 241.0,56.4 Q239.9,58.1 238.9,58.3" fill="none" stroke="#3B66A8" stroke-width="0.83" stroke-linecap="round" stroke-opacity="0.9"/>
<path d="M241.0,50.6 Q239.1,51.6 239.2,53.5 Q240.4,55.6 241.1,56.4" fill="none" stroke="#5585C6" stroke-width="1.07" stroke-linecap="round" stroke-opacity="0.9"/>
<path d="M239.3,68.9 Q238.7,67.3 238.1,65.6 Q239.2,65.0 239.3,62.5 Q240.4,61.8 239.9,60.4 Q241.5,59.9 241.9,58.6" fill="none" stroke="#7AA2D8" stroke-width="1.12" stroke-linecap="round" stroke-opacity="0.9"/>
<path d="M244.9,64.6 Q246.0,62.9 247.0,61.8 Q247.9,62.0 249.1,62.4 Q249.5,61.0 250.5,60.5 Q252.0,58.6 250.6,57.4" fill="none" stroke="#335B9C" stroke-width="1.37" stroke-linecap="round" stroke-opacity="0.9"/>
<path d="M227.3,51.2 Q225.7,49.6 225.2,49.2 Q225.6,47.7 226.0,46.0 Q227.1,45.2 227.9,45.9" fill="none" stroke="#3B66A8" stroke-width="1.38" stroke-linecap="round" stroke-opacity="0.9"/>
<path d="M230.2,58.8 Q230.9,59.8 230.3,61.1 Q229.2,61.4 228.3,61.3 Q226.4,60.4 225.1,61.1 Q223.7,59.8 222.7,60.6" fill="none" stroke="#335B9C" stroke-width="1.01" stroke-linecap="round" stroke-opacity="0.9"/>
<path d="M239.6,66.2 Q238.6,67.1 238.0,66.8 Q237.7,67.0 236.2,69.5" fill="none" stroke="#7AA2D8" stroke-width="0.81" stroke-linecap="round" stroke-opacity="0.9"/>
<path d="M227.8,84.4 Q229.0,85.0 229.0,87.5 Q231.0,89.3 232.1,88.6 Q234.2,89.7 234.9,90.7 Q235.6,92.6 233.8,94.0" fill="none" stroke="#3B66A8" stroke-width="0.95" stroke-linecap="round" stroke-opacity="0.9"/>
<path d="M227.6,53.2 Q225.9,54.3 225.1,54.4 Q224.9,55.3 224.7,56.0 Q224.3,57.4 223.2,57.7 Q221.5,56.8 220.4,56.1" fill="none" stroke="#4270B3" stroke-width="1.43" stroke-linecap="round" stroke-opacity="0.9"/>
<path d="M230.5,80.8 Q231.1,79.6 231.4,78.8 Q230.6,76.8 230.8,75.5" fill="none" stroke="#4270B3" stroke-width="1.36" stroke-linecap="round" stroke-opacity="0.9"/>
<path d="M231.5,57.3 Q231.7,56.2 232.9,55.2 Q234.3,56.3 235.0,56.0 Q236.6,55.7 237.7,57.6 Q237.6,58.8 238.6,60.2" fill="none" stroke="#335B9C" stroke-width="1.27" stroke-linecap="round" stroke-opacity="0.9"/>
<path d="M231.3,75.6 Q232.5,77.1 230.2,78.9 Q229.5,80.7 229.5,82.0 Q228.8,82.3 227.5,82.0 Q227.2,81.1 226.6,80.5" fill="none" stroke="#7AA2D8" stroke-width="0.97" stroke-linecap="round" stroke-opacity="0.9"/>
<path d="M227.0,76.2 Q225.1,75.4 223.4,75.8 Q222.5,75.7 222.0,74.6 Q222.3,73.1 222.3,71.6 Q223.2,72.1 224.0,71.1" fill="none" stroke="#5585C6" stroke-width="0.86" stroke-linecap="round" stroke-opacity="0.9"/>
<path d="M229.4,73.7 Q230.5,72.8 230.8,72.3 Q232.3,71.2 233.4,72.6 Q234.6,72.0 235.4,72.5" fill="none" stroke="#335B9C" stroke-width="1.07" stroke-linecap="round" stroke-opacity="0.9"/>
<path d="M218.3,68.5 Q219.7,67.0 220.4,66.9 Q221.3,68.2 222.6,67.9" fill="none" stroke="#7AA2D8" stroke-width="0.98" stroke-linecap="round" stroke-opacity="0.9"/>
<path d="M244.4,76.1 Q245.9,75.4 247.2,76.8 Q248.3,76.6 249.2,75.5" fill="none" stroke="#3B66A8" stroke-width="1.18" stroke-linecap="round" stroke-opacity="0.9"/>
<path d="M219.2,50.3 Q218.3,49.1 218.0,48.8 Q217.9,48.2 219.6,46.4 Q220.6,47.0 221.8,47.4 Q223.6,48.5 224.8,48.1" fill="none" stroke="#5585C6" stroke-width="1.13" stroke-linecap="round" stroke-opacity="0.9"/>
<path d="M236.5,63.7 Q237.2,65.1 235.8,66.7 Q236.4,67.8 235.4,69.4" fill="none" stroke="#335B9C" stroke-width="1.40" stroke-linecap="round" stroke-opacity="0.9"/>
<path d="M241.3,75.6 Q239.6,75.2 238.6,76.7 Q237.8,75.7 237.2,75.9 Q237.5,74.7 235.8,73.7" fill="none" stroke="#335B9C" stroke-width="0.85" stroke-linecap="round" stroke-opacity="0.9"/>
<path d="M224.9,50.1 Q223.8,49.3 221.8,50.2 Q220.0,50.5 218.5,49.5 Q217.5,50.2 216.7,49.7" fill="none" stroke="#25457C" stroke-width="0.84" stroke-linecap="round" stroke-opacity="0.9"/>
<path d="M243.4,54.1 Q243.3,53.8 244.0,52.5 Q243.8,51.7 244.7,50.9" fill="none" stroke="#7AA2D8" stroke-width="1.33" stroke-linecap="round" stroke-opacity="0.9"/>
<path d="M242.6,69.3 Q243.6,68.6 243.3,67.5 Q243.2,65.7 244.9,64.7 Q246.6,65.5 247.6,65.7 Q249.3,64.1 250.2,64.6" fill="none" stroke="#7AA2D8" stroke-width="1.44" stroke-linecap="round" stroke-opacity="0.9"/>
<path d="M245.8,57.1 Q244.8,57.2 244.0,56.6 Q242.9,56.5 242.9,54.9" fill="none" stroke="#3B66A8" stroke-width="1.32" stroke-linecap="round" stroke-opacity="0.9"/>
<path d="M243.9,78.2 Q244.6,77.2 243.9,75.8 Q245.0,76.3 245.5,74.9 Q247.3,75.8 248.2,73.7 Q248.9,72.7 250.4,73.4" fill="none" stroke="#7AA2D8" stroke-width="1.06" stroke-linecap="round" stroke-opacity="0.9"/>
<path d="M221.7,51.2 Q220.8,49.6 220.1,49.1 Q219.9,48.9 221.6,46.4" fill="none" stroke="#25457C" stroke-width="1.14" stroke-linecap="round" stroke-opacity="0.9"/>
<path d="M235.4,58.6 Q235.3,57.7 235.7,57.1 Q235.6,56.6 234.7,54.9 Q233.2,53.8 232.2,54.4 Q231.0,54.6 229.7,52.4" fill="none" stroke="#7AA2D8" stroke-width="1.45" stroke-linecap="round" stroke-opacity="0.9"/>
<path d="M244.2,57.9 Q243.2,57.1 242.9,56.1 Q241.9,55.0 243.0,54.1" fill="none" stroke="#DCE8F8" stroke-width="0.44" stroke-linecap="round" stroke-opacity="0.8"/>
<path d="M241.3,64.5 Q242.6,65.8 242.7,66.2 Q243.0,67.7 243.9,68.8 Q245.5,70.3 246.2,70.9 Q247.4,72.1 246.9,72.9" fill="none" stroke="#BFD3F0" stroke-width="0.64" stroke-linecap="round" stroke-opacity="0.8"/>
<path d="M215.7,70.8 Q216.2,72.5 216.7,73.5 Q218.1,74.6 219.0,73.3" fill="none" stroke="#BFD3F0" stroke-width="0.73" stroke-linecap="round" stroke-opacity="0.8"/>
<path d="M223.8,75.8 Q222.6,76.8 221.4,75.9 Q220.7,75.6 219.7,75.4 Q218.7,76.3 218.0,75.8" fill="none" stroke="#BFD3F0" stroke-width="0.47" stroke-linecap="round" stroke-opacity="0.8"/>
<path d="M233.1,65.3 Q234.1,66.3 233.2,67.3 Q232.2,68.1 232.1,68.5" fill="none" stroke="#DCE8F8" stroke-width="0.54" stroke-linecap="round" stroke-opacity="0.8"/>
<path d="M239.6,64.2 Q240.5,64.8 242.0,65.4 Q243.0,65.5 243.6,65.0" fill="none" stroke="#DCE8F8" stroke-width="0.50" stroke-linecap="round" stroke-opacity="0.8"/>
<path d="M214.4,74.2 Q213.1,73.7 212.0,73.9 Q212.5,73.0 211.4,72.4 Q211.7,70.8 212.3,69.9" fill="none" stroke="#DCE8F8" stroke-width="0.73" stroke-linecap="round" stroke-opacity="0.8"/>
<path d="M239.8,75.2 Q239.0,75.2 237.5,76.0 Q237.6,76.1 235.5,78.2 Q235.6,77.8 233.0,76.3 Q232.5,75.8 231.4,76.1" fill="none" stroke="#BFD3F0" stroke-width="0.48" stroke-linecap="round" stroke-opacity="0.8"/>
<path d="M225.9,59.0 Q224.8,57.7 224.9,56.9 Q225.8,56.2 227.7,55.6 Q227.3,53.7 229.0,52.3" fill="none" stroke="#BFD3F0" stroke-width="0.55" stroke-linecap="round" stroke-opacity="0.8"/>
<path d="M240.7,67.4 Q240.7,67.7 239.8,69.4 Q240.1,70.6 239.9,71.7 Q240.9,73.1 240.3,74.4 Q241.4,75.2 242.3,74.6" fill="none" stroke="#BFD3F0" stroke-width="0.44" stroke-linecap="round" stroke-opacity="0.8"/>
<path d="M223.1,67.5 Q222.3,68.4 222.5,68.9 Q221.0,69.7 219.9,69.8 Q219.9,70.9 220.1,71.7" fill="none" stroke="#DCE8F8" stroke-width="0.47" stroke-linecap="round" stroke-opacity="0.8"/>
<path d="M215.4,65.2 Q213.6,66.9 212.7,66.5 Q211.3,67.8 213.1,69.6" fill="none" stroke="#DCE8F8" stroke-width="0.77" stroke-linecap="round" stroke-opacity="0.8"/>
<path d="M224.4,82.7 Q222.8,83.7 221.8,83.5 Q221.0,84.4 221.5,85.1" fill="none" stroke="#BFD3F0" stroke-width="0.80" stroke-linecap="round" stroke-opacity="0.8"/>
<path d="M229.4,57.3 Q228.0,55.9 228.1,55.0 Q229.0,54.5 228.8,52.7 Q230.1,51.4 230.3,51.0" fill="none" stroke="#DCE8F8" stroke-width="0.60" stroke-linecap="round" stroke-opacity="0.8"/>
<path d="M224.3,72.8 Q223.4,73.3 221.9,72.8 Q220.0,73.5 218.8,73.4" fill="none" stroke="#DCE8F8" stroke-width="0.78" stroke-linecap="round" stroke-opacity="0.8"/>
<path d="M238.3,68.2 Q239.4,68.1 241.0,67.9 Q242.2,69.2 243.3,68.6 Q243.1,70.0 242.6,71.4" fill="none" stroke="#DCE8F8" stroke-width="0.56" stroke-linecap="round" stroke-opacity="0.8"/>
<path d="M225.9,69.0 Q228.0,70.3 229.3,68.0 Q231.0,69.8 231.1,70.5 Q230.9,72.0 230.5,73.6" fill="none" stroke="#DCE8F8" stroke-width="0.57" stroke-linecap="round" stroke-opacity="0.8"/>
<path d="M222.3,49.2 Q223.7,47.9 224.2,46.9 Q225.1,45.9 223.6,44.7" fill="none" stroke="#BFD3F0" stroke-width="0.57" stroke-linecap="round" stroke-opacity="0.8"/>
<path d="M243.4,56.7 Q244.1,55.8 243.7,55.1 Q244.7,55.9 245.5,54.9 Q245.8,56.0 247.1,55.6" fill="none" stroke="#DCE8F8" stroke-width="0.78" stroke-linecap="round" stroke-opacity="0.8"/>
<path d="M215.2,57.7 Q216.7,58.7 218.3,59.3 Q219.5,59.3 220.9,58.6" fill="none" stroke="#DCE8F8" stroke-width="0.77" stroke-linecap="round" stroke-opacity="0.8"/>
<path d="M221.3,53.2 Q220.6,52.9 219.3,53.3 Q220.6,54.5 218.0,56.6" fill="none" stroke="#DCE8F8" stroke-width="0.63" stroke-linecap="round" stroke-opacity="0.8"/>
<path d="M215.0,58.8 Q214.0,58.3 213.5,59.2 Q212.5,59.4 210.0,59.6" fill="none" stroke="#BFD3F0" stroke-width="0.53" stroke-linecap="round" stroke-opacity="0.8"/>
<path d="M222.5,53.4 Q221.0,52.0 222.1,50.1 Q222.4,50.2 224.4,48.4" fill="none" stroke="#DCE8F8" stroke-width="0.72" stroke-linecap="round" stroke-opacity="0.8"/>
<path d="M216.3,64.1 Q216.7,63.2 216.5,62.1 Q218.6,60.0 219.0,59.6" fill="none" stroke="#BFD3F0" stroke-width="0.54" stroke-linecap="round" stroke-opacity="0.8"/>
<path d="M232.4,78.5 Q233.2,79.0 234.0,79.5 Q235.5,78.5 236.5,78.6" fill="none" stroke="#DCE8F8" stroke-width="0.71" stroke-linecap="round" stroke-opacity="0.8"/>
<path d="M228.4,58.8 Q227.6,59.8 227.7,60.3 Q226.5,59.6 225.5,59.9 Q225.1,58.7 223.9,58.6 Q224.0,57.6 223.9,56.9" fill="none" stroke="#DCE8F8" stroke-width="0.47" stroke-linecap="round" stroke-opacity="0.8"/>
<path d="M241.4,53.8 Q241.7,54.8 242.6,55.0 Q241.6,57.1 244.0,58.2 Q243.4,58.8 242.5,59.2" fill="none" stroke="#BFD3F0" stroke-width="0.67" stroke-linecap="round" stroke-opacity="0.8"/>
<path d="M233.0,74.6 Q232.1,74.7 231.5,74.1 Q231.2,74.4 230.2,76.3 Q228.8,77.2 227.4,76.7 Q227.9,77.3 226.8,79.4" fill="none" stroke="#BFD3F0" stroke-width="0.76" stroke-linecap="round" stroke-opacity="0.8"/>
<path d="M235.7,53.6 Q236.9,54.1 237.4,52.5 Q238.6,51.2 241.0,52.7 Q241.6,53.5 243.2,54.9 Q243.1,54.9 244.8,57.0" fill="none" stroke="#BFD3F0" stroke-width="0.76" stroke-linecap="round" stroke-opacity="0.8"/>
<path d="M216.4,57.4 Q217.0,57.3 217.6,56.2 Q218.2,55.1 218.1,54.5" fill="none" stroke="#BFD3F0" stroke-width="0.77" stroke-linecap="round" stroke-opacity="0.8"/>
<path d="M236.9,66.0 Q236.4,64.1 237.3,62.9 Q239.2,63.1 239.9,61.2 Q241.1,60.5 242.3,62.4" fill="none" stroke="#BFD3F0" stroke-width="0.41" stroke-linecap="round" stroke-opacity="0.8"/>
<path d="M219.0,78.4 Q218.9,77.4 218.1,76.9 Q216.3,77.0 215.1,75.9" fill="none" stroke="#BFD3F0" stroke-width="0.63" stroke-linecap="round" stroke-opacity="0.8"/>
<path d="M229.9,49.5 Q228.2,51.4 229.9,52.8 Q230.1,54.6 232.4,54.4 Q231.8,55.5 232.1,56.2 Q233.8,56.2 233.8,58.9" fill="none" stroke="#BFD3F0" stroke-width="0.61" stroke-linecap="round" stroke-opacity="0.8"/>
<path d="M214.2,75.2 Q213.6,75.0 213.1,74.1 Q212.8,73.3 212.9,72.6" fill="none" stroke="#DCE8F8" stroke-width="0.61" stroke-linecap="round" stroke-opacity="0.8"/>
<path d="M224.9,52.7 Q225.9,53.9 226.6,53.6 Q226.3,53.5 227.3,52.1" fill="none" stroke="#DCE8F8" stroke-width="0.74" stroke-linecap="round" stroke-opacity="0.8"/>
<path d="M225.0,54.5 Q226.4,55.9 224.6,57.7 Q224.1,58.3 223.7,58.9 Q222.8,59.0 222.2,58.6" fill="none" stroke="#DCE8F8" stroke-width="0.53" stroke-linecap="round" stroke-opacity="0.8"/>
<path d="M240.4,60.3 Q242.3,59.1 243.6,60.8 Q243.8,62.0 245.1,63.7 Q244.1,63.6 242.7,65.1 Q241.7,66.0 242.4,67.1" fill="none" stroke="#BFD3F0" stroke-width="0.56" stroke-linecap="round" stroke-opacity="0.8"/>
<path d="M215.9,59.3 Q217.0,57.7 219.1,58.1 Q220.7,59.0 221.7,58.8" fill="none" stroke="#BFD3F0" stroke-width="0.51" stroke-linecap="round" stroke-opacity="0.8"/>
<path d="M224.9,69.7 Q223.0,68.2 222.0,68.4 Q220.1,70.2 220.3,70.9" fill="none" stroke="#DCE8F8" stroke-width="0.48" stroke-linecap="round" stroke-opacity="0.8"/>
<path d="M232.7,71.7 Q233.5,71.0 230.9,68.7 Q230.5,67.8 231.1,67.1 Q230.2,66.3 229.9,65.6" fill="none" stroke="#DCE8F8" stroke-width="0.63" stroke-linecap="round" stroke-opacity="0.8"/>
<path d="M225.2,49.6 Q226.6,50.7 228.1,50.1 Q229.7,49.4 229.9,47.7" fill="none" stroke="#1B2E52" stroke-width="0.47" stroke-linecap="round" stroke-opacity="0.75"/>
<path d="M226.5,51.6 Q226.5,53.3 226.3,54.6 Q225.4,54.0 224.6,54.7" fill="none" stroke="#16264A" stroke-width="0.52" stroke-linecap="round" stroke-opacity="0.75"/>
<path d="M233.6,64.8 Q234.1,64.4 235.6,62.0 Q235.2,61.0 234.5,60.7 Q236.3,58.6 235.4,57.3 Q235.9,56.2 238.4,55.5" fill="none" stroke="#16264A" stroke-width="0.51" stroke-linecap="round" stroke-opacity="0.75"/>
<path d="M225.5,73.3 Q224.5,73.3 223.8,72.2 Q223.1,71.3 223.7,70.5" fill="none" stroke="#16264A" stroke-width="0.45" stroke-linecap="round" stroke-opacity="0.75"/>
<path d="M232.1,54.8 Q231.3,55.8 231.1,56.4 Q229.8,57.1 229.1,55.9 Q227.8,55.2 226.9,55.8" fill="none" stroke="#16264A" stroke-width="0.37" stroke-linecap="round" stroke-opacity="0.75"/>
<path d="M223.7,76.4 Q222.7,77.6 221.7,77.6 Q221.6,78.0 220.9,79.5 Q220.2,80.6 218.1,80.1" fill="none" stroke="#16264A" stroke-width="0.52" stroke-linecap="round" stroke-opacity="0.75"/>
<path d="M216.8,73.1 Q217.8,73.1 219.0,71.1 Q217.5,69.1 216.6,68.6 Q216.0,68.6 214.7,69.1" fill="none" stroke="#16264A" stroke-width="0.59" stroke-linecap="round" stroke-opacity="0.75"/>
<path d="M239.6,78.5 Q241.3,77.8 242.2,76.2 Q242.2,75.8 240.3,73.3" fill="none" stroke="#16264A" stroke-width="0.38" stroke-linecap="round" stroke-opacity="0.75"/>
<path d="M231.8,50.2 Q230.0,48.8 229.3,48.5 Q227.7,46.8 226.7,47.3 Q226.1,45.7 226.7,44.0 Q226.5,44.0 225.1,43.2" fill="none" stroke="#16264A" stroke-width="0.51" stroke-linecap="round" stroke-opacity="0.75"/>
<path d="M232.6,70.4 Q234.7,69.9 236.0,71.2 Q237.2,70.2 236.8,69.4 Q237.8,68.4 237.6,67.4 Q236.6,66.4 236.5,66.2" fill="none" stroke="#16264A" stroke-width="0.35" stroke-linecap="round" stroke-opacity="0.75"/>
<path d="M227.0,78.5 Q225.9,77.6 224.9,78.7 Q222.9,77.9 221.4,78.4 Q219.3,78.8 218.1,77.3 Q217.6,75.5 217.3,73.9" fill="none" stroke="#16264A" stroke-width="0.44" stroke-linecap="round" stroke-opacity="0.75"/>
<path d="M235.4,55.6 Q236.2,55.6 237.4,55.6 Q238.4,57.4 237.8,58.9 Q236.8,60.4 235.6,60.5" fill="none" stroke="#16264A" stroke-width="0.44" stroke-linecap="round" stroke-opacity="0.75"/>
<path d="M242.3,61.3 Q240.9,62.1 239.6,60.8 Q238.8,61.4 237.2,60.2" fill="none" stroke="#16264A" stroke-width="0.45" stroke-linecap="round" stroke-opacity="0.75"/>
<path d="M245.0,67.7 Q244.9,69.5 247.4,69.7 Q248.2,69.4 249.7,68.6" fill="none" stroke="#16264A" stroke-width="0.50" stroke-linecap="round" stroke-opacity="0.75"/>
<path d="M223.0,57.3 Q224.7,55.5 223.7,54.2 Q223.8,53.9 221.9,52.6 Q220.6,51.7 220.1,51.2 Q218.8,50.6 217.6,51.1" fill="none" stroke="#16264A" stroke-width="0.60" stroke-linecap="round" stroke-opacity="0.75"/>
<path d="M237.1,80.3 Q238.0,80.7 238.9,80.8 Q238.5,81.8 239.8,82.6 Q240.7,83.2 240.1,84.7" fill="none" stroke="#1B2E52" stroke-width="0.50" stroke-linecap="round" stroke-opacity="0.75"/>
<path d="M233.9,71.3 Q234.1,70.0 236.1,69.5 Q236.3,70.4 238.0,70.4 Q239.1,70.0 239.8,71.1" fill="none" stroke="#16264A" stroke-width="0.53" stroke-linecap="round" stroke-opacity="0.75"/>
<path d="M219.9,64.7 Q218.7,63.3 218.3,62.5 Q216.7,60.9 215.8,61.2" fill="none" stroke="#16264A" stroke-width="0.56" stroke-linecap="round" stroke-opacity="0.75"/>
<path d="M236.8,64.3 Q237.2,65.0 236.9,66.1 Q234.9,65.7 233.7,67.8 Q232.8,69.1 231.2,68.1" fill="none" stroke="#1B2E52" stroke-width="0.60" stroke-linecap="round" stroke-opacity="0.75"/>
<path d="M218.0,72.6 Q219.2,70.5 219.4,69.3 Q220.5,70.6 222.8,69.5 Q224.0,68.8 223.6,67.2" fill="none" stroke="#16264A" stroke-width="0.49" stroke-linecap="round" stroke-opacity="0.75"/>
<path d="M243.6,57.6 Q244.3,57.7 245.1,57.2 Q246.7,58.6 248.5,57.2 Q250.0,57.2 251.2,57.9" fill="none" stroke="#1B2E52" stroke-width="0.54" stroke-linecap="round" stroke-opacity="0.75"/>
<path d="M223.0,52.7 Q222.1,51.9 224.0,49.3 Q223.0,48.8 223.0,47.8 Q222.9,47.8 221.3,46.2" fill="none" stroke="#1B2E52" stroke-width="0.45" stroke-linecap="round" stroke-opacity="0.75"/>
<path d="M244.7,71.3 Q244.2,70.5 245.1,69.2 Q246.3,69.0 247.1,68.6 Q247.2,67.6 247.8,66.9" fill="none" stroke="#16264A" stroke-width="0.37" stroke-linecap="round" stroke-opacity="0.75"/>
<path d="M240.3,55.2 Q241.3,55.1 242.2,54.9 Q243.8,55.8 244.9,54.1" fill="none" stroke="#1B2E52" stroke-width="0.52" stroke-linecap="round" stroke-opacity="0.75"/>
<path d="M233.9,82.8 Q233.9,82.7 235.3,83.7 Q237.1,82.0 238.1,82.3 Q239.0,81.4 237.9,80.1" fill="none" stroke="#1B2E52" stroke-width="0.37" stroke-linecap="round" stroke-opacity="0.75"/>
<path d="M231.9,69.3 Q230.6,68.5 229.1,70.6 Q229.0,70.3 227.4,67.7 Q225.7,69.4 224.3,68.7" fill="none" stroke="#16264A" stroke-width="0.50" stroke-linecap="round" stroke-opacity="0.75"/>
<path d="M228.0,83.5 Q228.2,84.5 226.8,84.8 Q226.0,85.0 225.8,86.2" fill="none" stroke="#1B2E52" stroke-width="0.56" stroke-linecap="round" stroke-opacity="0.75"/>
<path d="M221.1,57.3 Q221.9,58.3 222.0,58.9 Q221.9,59.3 223.6,61.3" fill="none" stroke="#1B2E52" stroke-width="0.42" stroke-linecap="round" stroke-opacity="0.75"/>
<path d="M224.7,74.4 Q226.3,73.1 227.5,74.3 Q228.3,75.2 228.3,75.6 Q227.3,76.7 228.1,77.5" fill="none" stroke="#16264A" stroke-width="0.41" stroke-linecap="round" stroke-opacity="0.75"/>
<path d="M229.8,63.1 Q229.2,62.6 228.3,62.4 Q226.8,62.1 226.8,60.1" fill="none" stroke="#16264A" stroke-width="0.49" stroke-linecap="round" stroke-opacity="0.75"/>
<path d="M240.0,67.6 Q241.1,66.8 238.9,64.6 Q237.9,64.1 237.4,64.0" fill="none" stroke="#1B2E52" stroke-width="0.53" stroke-linecap="round" stroke-opacity="0.75"/>
<path d="M239.2,80.1 Q238.3,81.1 238.8,82.1 Q238.8,83.2 239.1,84.1" fill="none" stroke="#1B2E52" stroke-width="0.59" stroke-linecap="round" stroke-opacity="0.75"/>
<path d="M230.2,48.4 Q231.6,48.9 232.9,50.7 Q233.6,50.4 235.5,49.6 Q237.5,51.3 239.1,49.6" fill="none" stroke="#1B2E52" stroke-width="0.43" stroke-linecap="round" stroke-opacity="0.75"/>
<path d="M234.0,61.4 Q234.8,62.4 234.9,62.8 Q234.5,64.5 233.9,65.5 Q232.6,67.0 233.6,68.1 Q233.5,69.5 235.0,70.4" fill="none" stroke="#16264A" stroke-width="0.50" stroke-linecap="round" stroke-opacity="0.75"/>
<path d="M239.0,60.8 Q240.3,61.0 241.1,60.1 Q242.7,58.3 242.1,56.9" fill="none" stroke="#1B2E52" stroke-width="0.48" stroke-linecap="round" stroke-opacity="0.75"/>
<path d="M226.9,53.4 Q227.7,53.4 228.2,54.1 Q229.3,55.4 229.1,56.1 Q229.7,57.1 228.8,58.9 Q227.3,60.4 227.5,61.1" fill="none" stroke="#1B2E52" stroke-width="0.43" stroke-linecap="round" stroke-opacity="0.75"/>
<path d="M220.6,63.3 Q221.7,63.1 223.2,60.9 Q223.0,60.0 222.6,59.3 Q221.7,58.4 222.3,57.3" fill="none" stroke="#16264A" stroke-width="0.60" stroke-linecap="round" stroke-opacity="0.75"/>
<path d="M227.6,82.0 Q226.6,82.9 226.4,84.0 Q226.8,85.3 227.9,85.9" fill="none" stroke="#1B2E52" stroke-width="0.54" stroke-linecap="round" stroke-opacity="0.75"/>
<path d="M237.6,70.9 Q238.6,71.8 239.6,70.5 Q240.8,71.3 241.6,71.1 Q241.8,72.0 242.4,73.1" fill="none" stroke="#16264A" stroke-width="0.38" stroke-linecap="round" stroke-opacity="0.75"/>
<path d="M236.0,75.6 Q234.7,77.5 236.7,78.8 Q238.5,77.6 239.8,79.4 Q241.0,80.1 242.5,79.9 Q242.8,79.0 244.1,79.2" fill="none" stroke="#1B2E52" stroke-width="0.54" stroke-linecap="round" stroke-opacity="0.75"/>
<path d="M223.6,70.5 Q223.0,68.8 221.1,69.0 Q221.5,68.0 220.1,66.6" fill="none" stroke="#1B2E52" stroke-width="0.54" stroke-linecap="round" stroke-opacity="0.75"/>
<path d="M238.8,50.8 Q237.7,52.5 239.7,53.6 Q240.2,54.7 238.8,56.0" fill="none" stroke="#1B2E52" stroke-width="0.58" stroke-linecap="round" stroke-opacity="0.75"/>
<path d="M224.3,79.3 Q226.0,80.6 226.6,81.0 Q226.5,82.1 227.9,82.7 Q229.7,82.9 230.9,83.6" fill="none" stroke="#1B2E52" stroke-width="0.38" stroke-linecap="round" stroke-opacity="0.75"/>
<path d="M230.1,69.4 Q231.4,70.7 232.0,71.0 Q233.3,72.2 233.6,72.7 Q234.8,72.6 236.0,72.8 Q236.5,72.0 237.0,71.5" fill="none" stroke="#16264A" stroke-width="0.52" stroke-linecap="round" stroke-opacity="0.75"/>
<path d="M212.6,59.7 Q212.4,61.1 213.8,61.7 Q212.5,61.5 212.1,63.1 Q211.2,62.3 209.8,63.1 Q208.5,64.2 209.6,65.6" fill="none" stroke="#1B2E52" stroke-width="0.37" stroke-linecap="round" stroke-opacity="0.75"/>
<line x1="212.1" y1="49.2" x2="213.7" y2="52.8" stroke="#A02328" stroke-width="0.7"/>
<g transform="translate(210.8 46.8) rotate(-4)"><ellipse rx="7.6" ry="2.6" fill="#C8353A" stroke="#A02328" stroke-width="0.4"/><text x="0" y="1.3" font-size="3.4" text-anchor="middle" fill="#fff" font-style="italic">Me2</text></g>
<line x1="253.8" y1="52.5" x2="249.2" y2="55.2" stroke="#A02328" stroke-width="0.7"/>
<g transform="translate(257.8 51.5) rotate(52)"><ellipse rx="7.6" ry="2.6" fill="#C8353A" stroke="#A02328" stroke-width="0.4"/><text x="0" y="1.3" font-size="3.4" text-anchor="middle" fill="#fff" font-style="italic">Me2</text></g>
<line x1="254.1" y1="89.8" x2="253.4" y2="85.3" stroke="#A02328" stroke-width="0.7"/>
<g transform="translate(256.4 91.9) rotate(-14)"><ellipse rx="7.6" ry="2.6" fill="#C8353A" stroke="#A02328" stroke-width="0.4"/><text x="0" y="1.3" font-size="3.4" text-anchor="middle" fill="#fff" font-style="italic">Me2</text></g>
<line x1="220" y1="95" x2="223.4" y2="90.5" stroke="#A02328" stroke-width="0.7"/>
<line x1="220.5" y1="99.6" x2="222.4" y2="102.9" stroke="#A02328" stroke-width="0.7"/>
<g transform="translate(216.5 97.5) rotate(-27)"><ellipse rx="7.6" ry="2.6" fill="#C8353A" stroke="#A02328" stroke-width="0.4"/><text x="0" y="1.3" font-size="3.4" text-anchor="middle" fill="#fff" font-style="italic">Me2</text></g>
<line x1="230.4" y1="122.9" x2="230.4" y2="118.8" stroke="#A02328" stroke-width="0.7"/>
<g transform="translate(230.4 125.6) rotate(0)"><ellipse rx="7.6" ry="2.6" fill="#C8353A" stroke="#A02328" stroke-width="0.4"/><text x="0" y="1.3" font-size="3.4" text-anchor="middle" fill="#fff" font-style="italic">Me2</text></g>
<path d="M294.9,89.7 C297,93 299,95.3 301.4,94.8 C305,94 308,92.3 312.4,91.2 C317,90 322,89.3 325.6,88.2 C328,87.5 329,87 328.5,85.6 C328,83.5 326.5,82.3 324.1,80.9 C321,78.8 318,77 315.3,76.5 C313,76.1 310.5,76.2 309.5,77.3 C308.3,78.6 308.5,80.4 309.5,81.7 C311,83.5 313,84.7 315.3,85.3 C319,86.4 322.5,86.9 325.6,86.8 C328,86.7 329.8,85.6 331.4,84.6 C334,83 336,80.2 338.7,80.2 C341,80.2 343,82.5 344.6,83.9 C346.5,85.6 348.4,87.2 350.4,87.5 C353.5,87.9 356,86.8 358.5,85.6" fill="none" stroke="#4A8FE2" stroke-width="1.95" stroke-linecap="round"/>
<path d="M297,103.2 C299,101.5 301,99.7 302.9,99.9 C305,100.1 306.8,102.3 308,104.3 C310.5,108 312.8,111.6 315.3,111.9 C318.5,112.2 321,109.8 324.1,108 C327,106.3 330,103.3 332.1,103.6 C333.8,103.9 334.4,105.8 335.1,107.3 C336,109.2 337,110.7 338.7,110.9 C342,111.2 345,109.7 347.5,108.4 C349.5,107.4 351.3,106.3 351.1,104.3 C350.8,102 349,100 347.5,98.5 C346,97 342.6,96.5 342.4,94.8 C342.2,93 344.8,91.7 346.8,91.9 C349.5,92.2 351.5,93.8 353.3,95.6 C355.2,97.5 357,99.4 358.5,101.1" fill="none" stroke="#D4A60A" stroke-width="1.95" stroke-linecap="round"/>
<line x1="312.6" y1="71.8" x2="312.6" y2="76.3" stroke="#98242C" stroke-width="0.6"/>
<line x1="297.6" y1="87.2" x2="297.6" y2="91.4" stroke="#98242C" stroke-width="0.6"/>
<line x1="350.2" y1="81.8" x2="350.2" y2="86.6" stroke="#98242C" stroke-width="0.6"/>
<line x1="349.0" y1="108.8" x2="349.0" y2="113.2" stroke="#98242C" stroke-width="0.6"/>
<line x1="316.3" y1="112" x2="316.3" y2="117" stroke="#98242C" stroke-width="0.6"/>
<g transform="translate(313.1 69.5) rotate(0)"><ellipse rx="7.3" ry="2.5" fill="#B5303A" stroke="#A02328" stroke-width="0.4"/><text x="0" y="1.3" font-size="3.4" text-anchor="middle" fill="#fff" font-style="italic">Me2</text></g>
<g transform="translate(298.2 84.9) rotate(0)"><ellipse rx="7.3" ry="2.5" fill="#B5303A" stroke="#A02328" stroke-width="0.4"/><text x="0" y="1.3" font-size="3.4" text-anchor="middle" fill="#fff" font-style="italic">Me2</text></g>
<g transform="translate(350.8 79.5) rotate(0)"><ellipse rx="7.3" ry="2.5" fill="#B5303A" stroke="#A02328" stroke-width="0.4"/><text x="0" y="1.3" font-size="3.4" text-anchor="middle" fill="#fff" font-style="italic">Me2</text></g>
<g transform="translate(349.4 115.3) rotate(0)"><ellipse rx="7.3" ry="2.5" fill="#B5303A" stroke="#A02328" stroke-width="0.4"/><text x="0" y="1.3" font-size="3.4" text-anchor="middle" fill="#fff" font-style="italic">Me2</text></g>
<g transform="translate(316.4 119.2) rotate(0)"><ellipse rx="7.3" ry="2.5" fill="#B5303A" stroke="#A02328" stroke-width="0.4"/><text x="0" y="1.3" font-size="3.4" text-anchor="middle" fill="#fff" font-style="italic">Me2</text></g>
<g stroke-linejoin="round"><path d="M383.2,96.8 L385.2,108.5 L384.9,116.2 L383.9,116.2 L383.3,108.5 Z" fill="#D8D8D8" stroke="#555" stroke-width="0.5"/><path d="M391.9,100 L385.3,108.3 L376.6,112.4 L376.1,111.5 L383.6,106.6 Z" fill="#E2E2E2" stroke="#555" stroke-width="0.5"/><circle cx="374.4" cy="113.6" r="2.2" fill="none" stroke="#444" stroke-width="0.75"/><circle cx="386" cy="118.4" r="2.2" fill="none" stroke="#444" stroke-width="0.75"/></g>
<path d="M425.1,59.6 C425.2,60.9 426.6,63.4 425.6,65.5 C424.6,67.6 422.6,67.7 420.5,69.1 C418.4,70.5 416.8,70.2 415.8,72 C414.8,73.8 415.8,76.1 415.8,77.2" fill="none" stroke="#2F80D0" stroke-width="1.95" stroke-linecap="round"/>
<path d="M423.7,74.2 C424.9,73.4 426.6,70.9 429.2,70.6 C431.8,70.3 433.3,72.5 435.8,72.8 C438.3,73.1 438.8,72.8 440.9,72 C443.0,71.2 444.3,69.7 445.3,69.1" fill="none" stroke="#2F80D0" stroke-width="1.95" stroke-linecap="round"/>
<path d="M425.1,80.1 C426.3,79.8 428.5,77.9 430.7,78.6 C432.9,79.3 433.2,82.0 435.1,83.3 C437.0,84.6 437.5,84.8 439.5,84.8 C441.5,84.8 443.3,83.6 444.3,83.3" fill="none" stroke="#2F80D0" stroke-width="1.95" stroke-linecap="round"/>
<path d="M453.4,63.3 C454.5,62.8 456.4,60.6 458.5,60.8 C460.6,61.0 460.8,63.2 462.9,64 C465.0,64.8 465.9,65.0 468,64.7 C470.1,64.4 471.7,63.0 472.7,62.5" fill="none" stroke="#2F80D0" stroke-width="1.95" stroke-linecap="round"/>
<path d="M443.1,79.4 C443.6,78.4 443.9,76.3 445.3,75 C446.7,73.7 447.6,73.8 449.7,73.5 C451.8,73.2 453.0,74.8 454.8,73.5 C456.6,72.2 457.5,69.0 458.2,67.7" fill="none" stroke="#2F80D0" stroke-width="1.95" stroke-linecap="round"/>
<path d="M463.3,72.5 C464.2,72.7 466.8,72.0 467.3,73.5 C467.8,75.0 466.7,77.2 465.8,79.4 C464.9,81.6 462.9,81.8 463.3,83.7 C463.7,85.6 466.6,87.1 467.5,88.1" fill="none" stroke="#2F80D0" stroke-width="1.95" stroke-linecap="round"/>
<path d="M426.6,91.1 C425.6,91.4 422.4,91.1 421.9,92.5 C421.4,93.9 423.1,95.4 424.1,97.6 C425.1,99.8 426.8,100.9 426.3,102.7 C425.8,104.5 422.9,105.0 421.9,105.7" fill="none" stroke="#D4A60A" stroke-width="1.95" stroke-linecap="round"/>
<path d="M433.9,89.3 C434.0,90.5 433.4,92.9 434.4,94.7 C435.4,96.5 436.8,96.6 438.7,97.6 C440.6,98.6 441.9,97.3 443.1,99.1 C444.3,100.9 444.0,104.3 444.3,105.7" fill="none" stroke="#D4A60A" stroke-width="1.95" stroke-linecap="round"/>
<path d="M445.6,93.2 C446.8,94.2 448.6,97.1 451.2,97.6 C453.8,98.1 455.2,96.2 457.7,95.4 C460.2,94.6 460.8,93.3 462.9,94 C465.0,94.7 466.5,97.4 467.5,98.4" fill="none" stroke="#D4A60A" stroke-width="1.95" stroke-linecap="round"/>
<path d="M453.4,105.7 C454.5,106.4 456.4,108.9 458.5,108.9 C460.6,108.9 461.0,107.0 462.9,105.7 C464.8,104.4 465.1,102.4 467.3,102.7 C469.5,103.0 471.8,106.1 473.1,107.1" fill="none" stroke="#D4A60A" stroke-width="1.95" stroke-linecap="round"/>
<line x1="421.9" y1="61.8" x2="425.1" y2="65.5" stroke="#98242C" stroke-width="0.6"/>
<line x1="435.8" y1="67.7" x2="437.7" y2="72" stroke="#98242C" stroke-width="0.6"/>
<line x1="450.9" y1="58.2" x2="453.4" y2="63.3" stroke="#98242C" stroke-width="0.6"/>
<line x1="419" y1="88.4" x2="421.2" y2="92.5" stroke="#98242C" stroke-width="0.6"/>
<line x1="460.4" y1="109.3" x2="460.4" y2="114.4" stroke="#98242C" stroke-width="0.6"/>
<line x1="454.1" y1="75" x2="454.1" y2="78.9" stroke="#274A7A" stroke-width="0.6"/>
<line x1="464.3" y1="83.7" x2="470.2" y2="82.3" stroke="#274A7A" stroke-width="0.6"/>
<line x1="436.5" y1="101.3" x2="439.8" y2="99.1" stroke="#274A7A" stroke-width="0.6"/>
<g transform="translate(419.7 60.1) rotate(-42)"><ellipse rx="7.6" ry="2.8" fill="#B5303A" stroke="#A02328" stroke-width="0.4"/><text x="0" y="1.3" font-size="3.4" text-anchor="middle" fill="#fff" font-style="italic">Me2</text></g>
<g transform="translate(435.8 65.2) rotate(0)"><ellipse rx="7.8" ry="2.5" fill="#B5303A" stroke="#A02328" stroke-width="0.4"/><text x="0" y="1.3" font-size="3.4" text-anchor="middle" fill="#fff" font-style="italic">Me2</text></g>
<g transform="translate(451.2 55.7) rotate(0)"><ellipse rx="7.8" ry="2.5" fill="#B5303A" stroke="#A02328" stroke-width="0.4"/><text x="0" y="1.3" font-size="3.4" text-anchor="middle" fill="#fff" font-style="italic">Me2</text></g>
<g transform="translate(419.4 85.9) rotate(0)"><ellipse rx="7.8" ry="2.5" fill="#B5303A" stroke="#A02328" stroke-width="0.4"/><text x="0" y="1.3" font-size="3.4" text-anchor="middle" fill="#fff" font-style="italic">Me2</text></g>
<g transform="translate(461.1 116.6) rotate(0)"><ellipse rx="7.5" ry="2.5" fill="#B5303A" stroke="#A02328" stroke-width="0.4"/><text x="0" y="1.3" font-size="3.4" text-anchor="middle" fill="#fff" font-style="italic">Me2</text></g>
<g transform="translate(454.8 81.1) rotate(0)"><ellipse rx="7.8" ry="2.5" fill="#16C22B" stroke="#0F7A1C" stroke-width="0.4"/><text x="0" y="1.3" font-size="3.4" text-anchor="middle" fill="#0A4A12" font-style="italic">Me2</text></g>
<g transform="translate(473.1 80.4) rotate(62)"><ellipse rx="7.8" ry="2.8" fill="#16C22B" stroke="#0F7A1C" stroke-width="0.4"/><text x="0" y="1.3" font-size="3.4" text-anchor="middle" fill="#0A4A12" font-style="italic">Me2</text></g>
<g transform="translate(433.9 102.7) rotate(43)"><ellipse rx="7.6" ry="2.8" fill="#16C22B" stroke="#0F7A1C" stroke-width="0.4"/><text x="0" y="1.3" font-size="3.4" text-anchor="middle" fill="#0A4A12" font-style="italic">Me2</text></g>
</g>
<g id="panelB">
<text x="3.30" y="181.10" font-size="10.9" text-anchor="start" fill="#000" font-weight="bold" textLength="7.4" lengthAdjust="spacingAndGlyphs"  stroke="#000" stroke-width="0.35">b</text>
<path d="M36.5,185.2 V334.2 H206" fill="none" stroke="#777" stroke-width="0.7"/>
<line x1="33.3" x2="36.5" y1="185.6" y2="185.6" stroke="#777" stroke-width="0.7"/>
<text x="29.50" y="188.20" font-size="7.7" text-anchor="end" fill="#222" >100</text>
<line x1="33.3" x2="36.5" y1="234.9" y2="234.9" stroke="#777" stroke-width="0.7"/>
<text x="29.50" y="237.50" font-size="7.7" text-anchor="end" fill="#222" >90</text>
<line x1="33.3" x2="36.5" y1="284.2" y2="284.2" stroke="#777" stroke-width="0.7"/>
<text x="29.50" y="286.80" font-size="7.7" text-anchor="end" fill="#222" >80</text>
<line x1="33.3" x2="36.5" y1="333.5" y2="333.5" stroke="#777" stroke-width="0.7"/>
<text x="29.50" y="336.10" font-size="7.7" text-anchor="end" fill="#222" >70</text>
<line x1="68.0" x2="68.0" y1="334.2" y2="337.3" stroke="#777" stroke-width="0.7"/>
<text x="68.00" y="346.80" font-size="7.1" text-anchor="middle" fill="#222" textLength="26.0" lengthAdjust="spacingAndGlyphs" >Healthy</text>
<line x1="121.4" x2="121.4" y1="334.2" y2="337.3" stroke="#777" stroke-width="0.7"/>
<text x="121.40" y="346.80" font-size="7.1" text-anchor="middle" fill="#222" textLength="13.2" lengthAdjust="spacingAndGlyphs" >MCI</text>
<line x1="172.8" x2="172.8" y1="334.2" y2="337.3" stroke="#777" stroke-width="0.7"/>
<text x="173.10" y="346.80" font-size="7.1" text-anchor="middle" fill="#222" textLength="9.5" lengthAdjust="spacingAndGlyphs" >AD</text>
<text x="121.30" y="358.60" font-size="8.3" text-anchor="middle" fill="#222" textLength="25.0" lengthAdjust="spacingAndGlyphs" >Group</text>
<text x="9.90" y="258.85" font-size="8.1" text-anchor="middle" fill="#222" transform="rotate(-90 9.90 258.85)" textLength="64.5" lengthAdjust="spacingAndGlyphs" >Accessibility (%)</text>
<line x1="68.7" x2="68.7" y1="185.5" y2="285.1" stroke="#BBBBBB" stroke-width="0.8"/>
<rect x="60" y="191" width="16.0" height="37.8" fill="#D93B1E" stroke="#A12A14" stroke-width="0.5"/>
<line x1="60" x2="76" y1="202.5" y2="202.5" stroke="#1a1a1a" stroke-width="0.9"/>
<line x1="121.3" x2="121.3" y1="185.5" y2="309.2" stroke="#BBBBBB" stroke-width="0.8"/>
<rect x="113" y="194.1" width="16.1" height="46.6" fill="#769512" stroke="#56700B" stroke-width="0.5"/>
<line x1="113" x2="129.1" y1="208.4" y2="208.4" stroke="#1a1a1a" stroke-width="0.9"/>
<line x1="174.4" x2="174.4" y1="185.5" y2="322.8" stroke="#BBBBBB" stroke-width="0.8"/>
<rect x="166.2" y="195.8" width="15.9" height="50.8" fill="#FDC917" stroke="#B8930F" stroke-width="0.5"/>
<line x1="166.2" x2="182.1" y1="212.4" y2="212.4" stroke="#1a1a1a" stroke-width="0.9"/>
<path d="M70.4,182.9 V181.4 Q70.4,180.6 71.2,180.6 H118 Q118.8,180.6 118.8,181.4 V182.9" fill="none" stroke="#888" stroke-width="0.6"/>
<path d="M123.4,182.9 V181.4 Q123.4,180.6 124.2,180.6 H170.9 Q171.7,180.6 171.7,181.4 V182.9" fill="none" stroke="#888" stroke-width="0.6"/>
<text x="94.60" y="180.40" font-size="10.5" text-anchor="middle" fill="#666" >*</text>
<text x="147.60" y="180.40" font-size="10.5" text-anchor="middle" fill="#666" >*</text>
<line x1="218.7" x2="218.7" y1="243.0" y2="250.2" stroke="#999" stroke-width="0.5"/>
<rect x="215" y="244.0" width="7.5" height="5.2" fill="#D93B1E" stroke="#A12A14" stroke-width="0.4"/>
<line x1="215" x2="222.5" y1="246.6" y2="246.6" stroke="#A12A14" stroke-width="0.6"/>
<text x="226.10" y="249.00" font-size="7.1" text-anchor="start" fill="#222" textLength="25.5" lengthAdjust="spacingAndGlyphs" >Healthy</text>
<line x1="218.7" x2="218.7" y1="252.6" y2="259.8" stroke="#999" stroke-width="0.5"/>
<rect x="215" y="253.6" width="7.5" height="5.2" fill="#769512" stroke="#56700B" stroke-width="0.4"/>
<line x1="215" x2="222.5" y1="256.2" y2="256.2" stroke="#56700B" stroke-width="0.6"/>
<text x="226.10" y="258.50" font-size="7.1" text-anchor="start" fill="#222" textLength="12.8" lengthAdjust="spacingAndGlyphs" >MCI</text>
<line x1="218.7" x2="218.7" y1="262.09999999999997" y2="269.3" stroke="#999" stroke-width="0.5"/>
<rect x="215" y="263.1" width="7.5" height="5.2" fill="#FDC917" stroke="#B8930F" stroke-width="0.4"/>
<line x1="215" x2="222.5" y1="265.7" y2="265.7" stroke="#B8930F" stroke-width="0.6"/>
<text x="226.10" y="267.90" font-size="7.1" text-anchor="start" fill="#222" textLength="9.4" lengthAdjust="spacingAndGlyphs" >AD</text>
</g>
<g id="panelC">
<text x="256.30" y="181.10" font-size="10.9" text-anchor="start" fill="#000" font-weight="bold" textLength="6.9" lengthAdjust="spacingAndGlyphs"  stroke="#000" stroke-width="0.35">c</text>
<path d="M289.5,177.3 V333.3 H405.7" fill="none" stroke="#777" stroke-width="0.7"/>
<line x1="286.2" x2="289.5" y1="326.6" y2="326.6" stroke="#777" stroke-width="0.7"/>
<text x="281.90" y="329.40" font-size="7.7" text-anchor="end" fill="#222" >0</text>
<line x1="286.2" x2="289.5" y1="278.6" y2="278.6" stroke="#777" stroke-width="0.7"/>
<text x="281.90" y="281.35" font-size="7.7" text-anchor="end" fill="#222" textLength="8.9" lengthAdjust="spacingAndGlyphs" >50</text>
<line x1="286.2" x2="289.5" y1="230.5" y2="230.5" stroke="#777" stroke-width="0.7"/>
<text x="281.90" y="233.30" font-size="7.7" text-anchor="end" fill="#222" textLength="12.6" lengthAdjust="spacingAndGlyphs" >100</text>
<line x1="286.2" x2="289.5" y1="182.5" y2="182.5" stroke="#777" stroke-width="0.7"/>
<text x="281.90" y="185.25" font-size="7.7" text-anchor="end" fill="#222" textLength="12.2" lengthAdjust="spacingAndGlyphs" >150</text>
<text x="262.50" y="255.70" font-size="8.6" text-anchor="middle" fill="#222" transform="rotate(-90 262.50 255.70)" textLength="26.0" lengthAdjust="spacingAndGlyphs" >CV (%)</text>
<line x1="311.3" x2="311.3" y1="333.3" y2="336.5" stroke="#777" stroke-width="0.7"/>
<text x="311.30" y="348.80" font-size="8.6" text-anchor="middle" fill="#222" textLength="30.7" lengthAdjust="spacingAndGlyphs" >Healthy</text>
<path d="M313.4 316.4h1.1v1.1h-1.1zM312.8 314.5h1.1v1.1h-1.1zM313.7 321.4h1.1v1.1h-1.1zM311.1 324.1h1.1v1.1h-1.1zM306.3 313.4h1.1v1.1h-1.1zM315.0 317.6h1.1v1.1h-1.1zM308.9 314.7h1.1v1.1h-1.1zM313.4 322.1h1.1v1.1h-1.1zM307.7 319.9h1.1v1.1h-1.1zM309.3 317.0h1.1v1.1h-1.1zM307.9 325.1h1.1v1.1h-1.1zM315.2 325.1h1.1v1.1h-1.1zM313.9 325.2h1.1v1.1h-1.1zM307.4 323.4h1.1v1.1h-1.1zM305.9 322.1h1.1v1.1h-1.1zM309.7 322.5h1.1v1.1h-1.1zM307.7 319.9h1.1v1.1h-1.1zM314.1 324.4h1.1v1.1h-1.1zM310.2 316.8h1.1v1.1h-1.1zM312.1 322.4h1.1v1.1h-1.1zM311.3 318.4h1.1v1.1h-1.1zM315.3 322.1h1.1v1.1h-1.1zM313.4 324.4h1.1v1.1h-1.1zM310.8 324.0h1.1v1.1h-1.1zM311.0 322.2h1.1v1.1h-1.1zM309.2 309.0h1.1v1.1h-1.1zM310.6 317.2h1.1v1.1h-1.1zM313.3 323.5h1.1v1.1h-1.1zM312.2 315.0h1.1v1.1h-1.1zM308.3 325.2h1.1v1.1h-1.1zM312.9 309.5h1.1v1.1h-1.1zM313.4 325.1h1.1v1.1h-1.1zM311.6 324.3h1.1v1.1h-1.1zM307.3 321.3h1.1v1.1h-1.1zM307.5 323.8h1.1v1.1h-1.1zM313.2 325.0h1.1v1.1h-1.1zM306.3 321.5h1.1v1.1h-1.1zM311.7 322.7h1.1v1.1h-1.1zM311.9 320.0h1.1v1.1h-1.1zM312.2 314.8h1.1v1.1h-1.1zM309.1 320.9h1.1v1.1h-1.1zM306.0 324.5h1.1v1.1h-1.1zM311.0 317.9h1.1v1.1h-1.1zM312.9 318.3h1.1v1.1h-1.1zM315.0 319.5h1.1v1.1h-1.1zM309.8 313.5h1.1v1.1h-1.1zM312.3 322.2h1.1v1.1h-1.1zM310.5 324.6h1.1v1.1h-1.1zM307.4 324.7h1.1v1.1h-1.1zM313.7 322.6h1.1v1.1h-1.1zM307.8 319.7h1.1v1.1h-1.1zM308.3 321.8h1.1v1.1h-1.1zM312.1 318.2h1.1v1.1h-1.1zM307.1 319.2h1.1v1.1h-1.1zM309.9 286.6h1.1v1.1h-1.1zM311.1 313.2h1.1v1.1h-1.1zM310.3 323.8h1.1v1.1h-1.1zM307.8 320.1h1.1v1.1h-1.1zM307.3 323.2h1.1v1.1h-1.1zM307.9 322.3h1.1v1.1h-1.1zM311.7 325.2h1.1v1.1h-1.1zM315.5 310.3h1.1v1.1h-1.1zM312.8 323.1h1.1v1.1h-1.1zM307.7 318.2h1.1v1.1h-1.1zM308.5 313.1h1.1v1.1h-1.1zM308.5 320.9h1.1v1.1h-1.1zM315.6 323.5h1.1v1.1h-1.1zM311.2 286.3h1.1v1.1h-1.1zM306.6 320.8h1.1v1.1h-1.1zM308.8 320.2h1.1v1.1h-1.1zM314.2 323.7h1.1v1.1h-1.1zM313.9 324.2h1.1v1.1h-1.1zM310.2 323.8h1.1v1.1h-1.1zM313.0 310.4h1.1v1.1h-1.1zM306.1 311.8h1.1v1.1h-1.1zM311.7 273.9h1.1v1.1h-1.1zM307.3 324.1h1.1v1.1h-1.1zM314.6 306.6h1.1v1.1h-1.1zM312.7 302.8h1.1v1.1h-1.1zM310.8 320.7h1.1v1.1h-1.1zM310.2 318.2h1.1v1.1h-1.1zM307.9 314.5h1.1v1.1h-1.1zM311.2 312.8h1.1v1.1h-1.1zM308.5 302.8h1.1v1.1h-1.1zM307.2 324.0h1.1v1.1h-1.1zM311.6 324.0h1.1v1.1h-1.1zM308.8 322.5h1.1v1.1h-1.1zM314.3 321.9h1.1v1.1h-1.1zM309.7 323.1h1.1v1.1h-1.1zM310.3 322.2h1.1v1.1h-1.1zM306.7 322.8h1.1v1.1h-1.1zM306.3 325.2h1.1v1.1h-1.1zM307.4 321.7h1.1v1.1h-1.1zM306.9 320.5h1.1v1.1h-1.1zM306.8 310.5h1.1v1.1h-1.1zM311.4 315.8h1.1v1.1h-1.1zM313.3 317.5h1.1v1.1h-1.1zM311.6 321.4h1.1v1.1h-1.1zM313.1 310.7h1.1v1.1h-1.1zM309.7 288.7h1.1v1.1h-1.1zM314.0 318.8h1.1v1.1h-1.1zM314.1 322.1h1.1v1.1h-1.1zM313.5 302.2h1.1v1.1h-1.1zM314.8 305.8h1.1v1.1h-1.1zM313.5 322.2h1.1v1.1h-1.1zM309.3 303.3h1.1v1.1h-1.1zM310.8 320.0h1.1v1.1h-1.1zM311.2 320.7h1.1v1.1h-1.1zM306.4 313.0h1.1v1.1h-1.1zM310.5 313.0h1.1v1.1h-1.1zM306.3 323.3h1.1v1.1h-1.1zM314.7 321.1h1.1v1.1h-1.1zM306.1 315.2h1.1v1.1h-1.1zM311.0 324.1h1.1v1.1h-1.1zM312.6 302.1h1.1v1.1h-1.1zM306.2 322.4h1.1v1.1h-1.1zM315.5 323.2h1.1v1.1h-1.1zM306.0 322.3h1.1v1.1h-1.1zM307.0 318.9h1.1v1.1h-1.1zM309.1 292.5h1.1v1.1h-1.1zM312.7 323.4h1.1v1.1h-1.1zM314.4 295.2h1.1v1.1h-1.1zM309.2 320.1h1.1v1.1h-1.1zM313.4 318.5h1.1v1.1h-1.1zM312.8 325.0h1.1v1.1h-1.1zM306.7 324.8h1.1v1.1h-1.1zM308.5 322.0h1.1v1.1h-1.1zM312.4 316.9h1.1v1.1h-1.1zM306.0 324.8h1.1v1.1h-1.1zM314.8 317.2h1.1v1.1h-1.1zM314.1 314.6h1.1v1.1h-1.1zM306.3 307.2h1.1v1.1h-1.1zM305.9 325.6h1.1v1.1h-1.1zM310.7 323.4h1.1v1.1h-1.1zM307.8 323.7h1.1v1.1h-1.1zM307.6 318.2h1.1v1.1h-1.1zM308.7 321.2h1.1v1.1h-1.1zM314.7 316.2h1.1v1.1h-1.1zM306.1 315.8h1.1v1.1h-1.1zM308.5 321.9h1.1v1.1h-1.1zM312.3 318.6h1.1v1.1h-1.1zM306.8 322.7h1.1v1.1h-1.1zM311.9 322.3h1.1v1.1h-1.1zM309.5 317.9h1.1v1.1h-1.1zM309.8 319.9h1.1v1.1h-1.1zM306.1 324.3h1.1v1.1h-1.1zM310.7 320.1h1.1v1.1h-1.1zM315.5 321.9h1.1v1.1h-1.1zM315.0 319.6h1.1v1.1h-1.1zM308.4 323.8h1.1v1.1h-1.1zM312.9 324.2h1.1v1.1h-1.1zM308.7 323.2h1.1v1.1h-1.1zM314.9 323.3h1.1v1.1h-1.1zM313.1 317.6h1.1v1.1h-1.1zM311.9 323.8h1.1v1.1h-1.1zM308.3 306.2h1.1v1.1h-1.1zM307.9 322.6h1.1v1.1h-1.1zM306.6 320.8h1.1v1.1h-1.1zM314.0 310.3h1.1v1.1h-1.1zM314.0 316.4h1.1v1.1h-1.1zM309.1 318.1h1.1v1.1h-1.1zM312.4 279.5h1.1v1.1h-1.1zM312.6 323.9h1.1v1.1h-1.1zM314.6 323.2h1.1v1.1h-1.1zM314.3 322.4h1.1v1.1h-1.1zM313.2 324.2h1.1v1.1h-1.1zM309.8 325.2h1.1v1.1h-1.1zM306.9 294.2h1.1v1.1h-1.1zM311.0 281.8h1.1v1.1h-1.1zM313.2 322.9h1.1v1.1h-1.1zM313.6 321.5h1.1v1.1h-1.1zM312.0 322.6h1.1v1.1h-1.1zM308.6 311.6h1.1v1.1h-1.1zM313.4 321.9h1.1v1.1h-1.1zM306.3 325.2h1.1v1.1h-1.1zM312.6 323.2h1.1v1.1h-1.1zM306.7 317.6h1.1v1.1h-1.1zM310.7 322.3h1.1v1.1h-1.1zM311.0 323.6h1.1v1.1h-1.1zM309.2 324.3h1.1v1.1h-1.1zM310.8 323.4h1.1v1.1h-1.1zM309.7 325.7h1.1v1.1h-1.1zM311.4 316.9h1.1v1.1h-1.1zM314.1 321.4h1.1v1.1h-1.1zM312.5 318.4h1.1v1.1h-1.1zM310.3 324.9h1.1v1.1h-1.1zM310.0 320.6h1.1v1.1h-1.1zM310.3 320.9h1.1v1.1h-1.1zM307.8 321.6h1.1v1.1h-1.1zM310.2 323.6h1.1v1.1h-1.1zM314.4 323.6h1.1v1.1h-1.1zM310.5 323.8h1.1v1.1h-1.1zM309.7 318.6h1.1v1.1h-1.1zM306.1 307.6h1.1v1.1h-1.1zM312.1 322.4h1.1v1.1h-1.1zM314.7 319.3h1.1v1.1h-1.1zM307.3 322.0h1.1v1.1h-1.1zM314.0 325.5h1.1v1.1h-1.1zM310.5 320.6h1.1v1.1h-1.1zM307.5 323.4h1.1v1.1h-1.1zM309.7 322.6h1.1v1.1h-1.1zM309.7 311.3h1.1v1.1h-1.1zM307.0 322.3h1.1v1.1h-1.1zM311.4 324.7h1.1v1.1h-1.1zM313.2 320.6h1.1v1.1h-1.1zM306.1 321.9h1.1v1.1h-1.1zM306.0 323.7h1.1v1.1h-1.1zM306.6 318.4h1.1v1.1h-1.1zM310.9 322.4h1.1v1.1h-1.1zM307.4 323.3h1.1v1.1h-1.1zM313.2 325.0h1.1v1.1h-1.1zM309.4 324.8h1.1v1.1h-1.1zM308.6 314.2h1.1v1.1h-1.1zM310.0 321.9h1.1v1.1h-1.1zM308.7 313.2h1.1v1.1h-1.1zM311.2 321.3h1.1v1.1h-1.1zM312.8 324.2h1.1v1.1h-1.1zM312.4 324.4h1.1v1.1h-1.1zM315.5 323.8h1.1v1.1h-1.1zM310.7 317.3h1.1v1.1h-1.1zM306.0 320.5h1.1v1.1h-1.1zM309.7 323.9h1.1v1.1h-1.1zM307.9 324.0h1.1v1.1h-1.1zM307.4 321.5h1.1v1.1h-1.1zM311.0 305.6h1.1v1.1h-1.1zM313.8 318.0h1.1v1.1h-1.1zM313.6 311.9h1.1v1.1h-1.1zM314.7 324.4h1.1v1.1h-1.1zM314.6 303.7h1.1v1.1h-1.1zM309.3 323.9h1.1v1.1h-1.1zM313.4 289.8h1.1v1.1h-1.1zM314.2 321.1h1.1v1.1h-1.1zM310.9 321.0h1.1v1.1h-1.1zM315.0 324.5h1.1v1.1h-1.1zM315.0 322.2h1.1v1.1h-1.1zM308.5 307.2h1.1v1.1h-1.1zM310.2 318.0h1.1v1.1h-1.1zM310.8 316.0h1.1v1.1h-1.1zM307.3 320.5h1.1v1.1h-1.1zM310.5 315.8h1.1v1.1h-1.1zM307.5 317.1h1.1v1.1h-1.1zM312.1 315.9h1.1v1.1h-1.1zM315.6 322.9h1.1v1.1h-1.1zM308.6 322.8h1.1v1.1h-1.1zM311.4 316.1h1.1v1.1h-1.1zM311.6 322.7h1.1v1.1h-1.1zM313.6 323.6h1.1v1.1h-1.1zM312.0 322.6h1.1v1.1h-1.1zM308.6 324.1h1.1v1.1h-1.1zM309.8 322.5h1.1v1.1h-1.1zM315.6 321.5h1.1v1.1h-1.1zM313.0 324.8h1.1v1.1h-1.1zM308.6 314.3h1.1v1.1h-1.1zM315.6 321.1h1.1v1.1h-1.1zM314.4 324.3h1.1v1.1h-1.1zM307.1 317.1h1.1v1.1h-1.1zM307.8 315.0h1.1v1.1h-1.1zM306.5 315.6h1.1v1.1h-1.1zM310.3 322.1h1.1v1.1h-1.1zM312.1 324.4h1.1v1.1h-1.1zM309.1 322.3h1.1v1.1h-1.1zM312.2 313.7h1.1v1.1h-1.1zM311.2 324.4h1.1v1.1h-1.1zM311.4 319.0h1.1v1.1h-1.1zM314.8 301.9h1.1v1.1h-1.1zM306.5 317.9h1.1v1.1h-1.1zM313.1 321.1h1.1v1.1h-1.1zM306.0 324.5h1.1v1.1h-1.1zM311.3 310.0h1.1v1.1h-1.1zM306.9 319.4h1.1v1.1h-1.1zM314.6 320.5h1.1v1.1h-1.1zM313.7 322.6h1.1v1.1h-1.1zM308.7 322.2h1.1v1.1h-1.1zM311.8 325.2h1.1v1.1h-1.1zM307.6 302.4h1.1v1.1h-1.1zM306.3 319.6h1.1v1.1h-1.1zM312.2 320.7h1.1v1.1h-1.1zM315.3 322.3h1.1v1.1h-1.1zM313.3 324.4h1.1v1.1h-1.1zM313.1 322.2h1.1v1.1h-1.1zM315.5 322.2h1.1v1.1h-1.1zM313.0 320.9h1.1v1.1h-1.1zM308.3 324.7h1.1v1.1h-1.1zM308.1 319.8h1.1v1.1h-1.1zM311.4 313.3h1.1v1.1h-1.1zM306.8 319.6h1.1v1.1h-1.1zM305.9 318.6h1.1v1.1h-1.1zM313.8 314.1h1.1v1.1h-1.1zM311.4 311.1h1.1v1.1h-1.1zM308.9 297.6h1.1v1.1h-1.1zM306.4 309.4h1.1v1.1h-1.1zM309.1 316.9h1.1v1.1h-1.1zM312.5 296.8h1.1v1.1h-1.1zM311.6 321.0h1.1v1.1h-1.1zM314.4 324.4h1.1v1.1h-1.1zM306.8 324.2h1.1v1.1h-1.1zM311.4 288.0h1.1v1.1h-1.1zM309.1 324.9h1.1v1.1h-1.1zM306.2 314.5h1.1v1.1h-1.1zM312.5 319.2h1.1v1.1h-1.1zM314.4 324.5h1.1v1.1h-1.1zM308.9 323.8h1.1v1.1h-1.1zM311.3 320.9h1.1v1.1h-1.1zM306.5 324.9h1.1v1.1h-1.1zM310.4 314.9h1.1v1.1h-1.1zM314.2 323.9h1.1v1.1h-1.1zM312.4 319.8h1.1v1.1h-1.1zM312.9 320.0h1.1v1.1h-1.1zM313.4 324.4h1.1v1.1h-1.1zM313.9 321.9h1.1v1.1h-1.1zM310.8 323.9h1.1v1.1h-1.1zM307.5 324.5h1.1v1.1h-1.1zM307.5 320.4h1.1v1.1h-1.1zM311.4 322.1h1.1v1.1h-1.1zM308.8 324.6h1.1v1.1h-1.1zM310.7 304.4h1.1v1.1h-1.1zM309.4 316.0h1.1v1.1h-1.1zM312.9 299.3h1.1v1.1h-1.1zM307.0 321.3h1.1v1.1h-1.1zM315.3 324.1h1.1v1.1h-1.1zM307.4 298.3h1.1v1.1h-1.1zM310.1 318.4h1.1v1.1h-1.1zM311.6 324.0h1.1v1.1h-1.1zM312.5 318.8h1.1v1.1h-1.1zM309.5 321.6h1.1v1.1h-1.1zM307.7 322.2h1.1v1.1h-1.1zM315.5 310.1h1.1v1.1h-1.1zM307.9 321.9h1.1v1.1h-1.1zM309.1 322.7h1.1v1.1h-1.1zM307.7 324.2h1.1v1.1h-1.1zM310.7 324.9h1.1v1.1h-1.1zM310.9 324.5h1.1v1.1h-1.1zM309.3 315.9h1.1v1.1h-1.1zM314.5 322.0h1.1v1.1h-1.1zM312.3 319.6h1.1v1.1h-1.1zM310.6 320.2h1.1v1.1h-1.1zM308.6 312.0h1.1v1.1h-1.1zM312.3 323.4h1.1v1.1h-1.1zM307.8 324.5h1.1v1.1h-1.1zM306.5 318.0h1.1v1.1h-1.1zM307.3 303.0h1.1v1.1h-1.1zM306.9 324.0h1.1v1.1h-1.1zM310.2 315.8h1.1v1.1h-1.1zM314.2 324.6h1.1v1.1h-1.1zM314.8 315.6h1.1v1.1h-1.1zM313.8 325.0h1.1v1.1h-1.1zM306.8 306.7h1.1v1.1h-1.1zM314.6 320.8h1.1v1.1h-1.1zM310.1 317.0h1.1v1.1h-1.1zM312.6 324.4h1.1v1.1h-1.1zM315.3 322.6h1.1v1.1h-1.1zM306.2 306.1h1.1v1.1h-1.1zM307.6 324.6h1.1v1.1h-1.1zM309.3 311.1h1.1v1.1h-1.1zM308.4 317.6h1.1v1.1h-1.1zM309.8 324.3h1.1v1.1h-1.1zM315.6 323.5h1.1v1.1h-1.1zM308.3 314.2h1.1v1.1h-1.1zM310.6 323.8h1.1v1.1h-1.1zM312.0 296.6h1.1v1.1h-1.1zM307.6 319.1h1.1v1.1h-1.1zM307.2 322.3h1.1v1.1h-1.1zM308.2 320.0h1.1v1.1h-1.1zM314.8 319.1h1.1v1.1h-1.1zM310.9 310.0h1.1v1.1h-1.1zM313.2 323.8h1.1v1.1h-1.1zM313.0 315.4h1.1v1.1h-1.1zM307.1 321.8h1.1v1.1h-1.1zM312.0 323.8h1.1v1.1h-1.1zM307.9 314.9h1.1v1.1h-1.1zM309.4 322.8h1.1v1.1h-1.1zM313.7 319.1h1.1v1.1h-1.1zM311.7 320.6h1.1v1.1h-1.1zM307.7 314.3h1.1v1.1h-1.1zM308.8 316.6h1.1v1.1h-1.1zM309.0 323.1h1.1v1.1h-1.1zM309.8 324.1h1.1v1.1h-1.1zM309.9 319.1h1.1v1.1h-1.1zM314.3 320.2h1.1v1.1h-1.1zM314.0 318.9h1.1v1.1h-1.1zM315.3 321.1h1.1v1.1h-1.1zM307.1 324.3h1.1v1.1h-1.1zM311.1 287.8h1.1v1.1h-1.1zM311.2 315.9h1.1v1.1h-1.1zM312.3 324.8h1.1v1.1h-1.1zM313.1 321.6h1.1v1.1h-1.1zM312.4 325.0h1.1v1.1h-1.1zM314.0 321.5h1.1v1.1h-1.1zM310.2 320.5h1.1v1.1h-1.1zM312.4 322.8h1.1v1.1h-1.1zM311.7 321.9h1.1v1.1h-1.1zM314.5 324.1h1.1v1.1h-1.1zM308.8 320.1h1.1v1.1h-1.1zM307.3 315.4h1.1v1.1h-1.1zM315.5 324.1h1.1v1.1h-1.1zM311.0 323.5h1.1v1.1h-1.1zM311.7 320.7h1.1v1.1h-1.1zM307.2 318.1h1.1v1.1h-1.1zM313.8 315.7h1.1v1.1h-1.1zM308.7 314.9h1.1v1.1h-1.1zM315.3 321.1h1.1v1.1h-1.1zM313.7 319.1h1.1v1.1h-1.1zM315.1 322.4h1.1v1.1h-1.1zM311.8 321.2h1.1v1.1h-1.1zM311.3 322.4h1.1v1.1h-1.1zM309.9 324.7h1.1v1.1h-1.1zM308.5 320.7h1.1v1.1h-1.1zM311.4 322.6h1.1v1.1h-1.1zM311.4 324.2h1.1v1.1h-1.1zM306.9 319.2h1.1v1.1h-1.1zM312.4 320.6h1.1v1.1h-1.1zM312.1 320.4h1.1v1.1h-1.1zM309.1 316.6h1.1v1.1h-1.1zM313.6 320.5h1.1v1.1h-1.1zM310.3 321.0h1.1v1.1h-1.1zM311.5 323.2h1.1v1.1h-1.1zM307.9 320.0h1.1v1.1h-1.1zM313.4 323.1h1.1v1.1h-1.1zM308.3 322.1h1.1v1.1h-1.1zM310.2 323.6h1.1v1.1h-1.1zM313.6 307.8h1.1v1.1h-1.1zM307.9 319.2h1.1v1.1h-1.1zM306.4 306.9h1.1v1.1h-1.1zM313.3 324.5h1.1v1.1h-1.1zM308.1 319.6h1.1v1.1h-1.1zM310.6 324.5h1.1v1.1h-1.1zM315.3 308.9h1.1v1.1h-1.1zM313.9 322.5h1.1v1.1h-1.1zM310.5 324.8h1.1v1.1h-1.1zM307.2 324.1h1.1v1.1h-1.1zM308.9 323.2h1.1v1.1h-1.1zM306.7 321.8h1.1v1.1h-1.1zM315.6 325.0h1.1v1.1h-1.1zM313.3 322.0h1.1v1.1h-1.1zM308.1 322.3h1.1v1.1h-1.1zM311.9 324.9h1.1v1.1h-1.1zM309.6 309.7h1.1v1.1h-1.1zM313.0 323.5h1.1v1.1h-1.1zM308.1 315.5h1.1v1.1h-1.1zM309.3 323.4h1.1v1.1h-1.1zM307.9 321.3h1.1v1.1h-1.1zM315.3 323.2h1.1v1.1h-1.1zM313.7 318.2h1.1v1.1h-1.1zM312.3 320.2h1.1v1.1h-1.1zM307.6 301.8h1.1v1.1h-1.1zM313.1 324.8h1.1v1.1h-1.1zM306.4 321.7h1.1v1.1h-1.1zM313.4 305.8h1.1v1.1h-1.1zM310.3 318.6h1.1v1.1h-1.1zM312.3 307.2h1.1v1.1h-1.1zM308.8 321.7h1.1v1.1h-1.1zM308.4 320.2h1.1v1.1h-1.1zM313.4 319.2h1.1v1.1h-1.1zM307.2 320.9h1.1v1.1h-1.1zM311.3 323.5h1.1v1.1h-1.1zM306.2 307.7h1.1v1.1h-1.1zM312.2 321.6h1.1v1.1h-1.1zM310.9 315.0h1.1v1.1h-1.1zM310.2 321.6h1.1v1.1h-1.1zM310.4 320.6h1.1v1.1h-1.1zM307.3 315.2h1.1v1.1h-1.1zM309.6 313.0h1.1v1.1h-1.1zM306.7 316.6h1.1v1.1h-1.1zM311.4 316.4h1.1v1.1h-1.1zM308.9 325.2h1.1v1.1h-1.1zM307.0 324.6h1.1v1.1h-1.1zM308.2 324.5h1.1v1.1h-1.1zM315.2 313.9h1.1v1.1h-1.1zM306.9 321.1h1.1v1.1h-1.1zM311.5 306.7h1.1v1.1h-1.1zM308.6 320.2h1.1v1.1h-1.1zM311.4 324.3h1.1v1.1h-1.1zM313.1 315.4h1.1v1.1h-1.1zM311.1 321.0h1.1v1.1h-1.1zM314.2 315.2h1.1v1.1h-1.1zM306.1 321.2h1.1v1.1h-1.1zM309.1 319.2h1.1v1.1h-1.1zM308.1 321.4h1.1v1.1h-1.1zM307.9 322.4h1.1v1.1h-1.1zM311.4 292.5h1.1v1.1h-1.1zM313.3 322.0h1.1v1.1h-1.1zM315.3 321.8h1.1v1.1h-1.1zM308.8 323.2h1.1v1.1h-1.1zM311.5 321.2h1.1v1.1h-1.1zM308.7 303.1h1.1v1.1h-1.1zM307.2 322.4h1.1v1.1h-1.1zM309.0 321.4h1.1v1.1h-1.1zM313.8 324.3h1.1v1.1h-1.1zM313.4 323.1h1.1v1.1h-1.1zM313.6 303.8h1.1v1.1h-1.1zM314.6 320.7h1.1v1.1h-1.1zM308.6 310.9h1.1v1.1h-1.1zM312.1 319.3h1.1v1.1h-1.1zM310.6 319.9h1.1v1.1h-1.1zM311.5 322.6h1.1v1.1h-1.1zM310.0 325.4h1.1v1.1h-1.1zM306.4 311.4h1.1v1.1h-1.1zM308.5 324.0h1.1v1.1h-1.1zM315.6 322.9h1.1v1.1h-1.1zM306.3 322.6h1.1v1.1h-1.1zM309.8 296.3h1.1v1.1h-1.1zM309.4 324.6h1.1v1.1h-1.1zM315.6 323.2h1.1v1.1h-1.1zM312.2 322.3h1.1v1.1h-1.1zM311.6 323.5h1.1v1.1h-1.1zM311.8 321.2h1.1v1.1h-1.1zM313.0 321.7h1.1v1.1h-1.1zM306.7 324.9h1.1v1.1h-1.1zM313.6 324.0h1.1v1.1h-1.1zM308.1 320.2h1.1v1.1h-1.1zM308.9 322.2h1.1v1.1h-1.1zM315.0 315.8h1.1v1.1h-1.1zM309.5 291.2h1.1v1.1h-1.1zM310.2 325.1h1.1v1.1h-1.1zM310.3 308.3h1.1v1.1h-1.1zM309.4 318.2h1.1v1.1h-1.1zM312.5 325.6h1.1v1.1h-1.1zM313.7 321.0h1.1v1.1h-1.1zM311.5 324.8h1.1v1.1h-1.1zM312.2 316.9h1.1v1.1h-1.1zM310.6 321.8h1.1v1.1h-1.1zM306.3 323.2h1.1v1.1h-1.1zM314.7 307.3h1.1v1.1h-1.1zM314.5 320.0h1.1v1.1h-1.1zM309.2 322.9h1.1v1.1h-1.1zM313.8 321.1h1.1v1.1h-1.1zM313.2 322.1h1.1v1.1h-1.1zM310.8 323.6h1.1v1.1h-1.1zM307.0 317.6h1.1v1.1h-1.1zM311.9 310.7h1.1v1.1h-1.1zM311.4 321.5h1.1v1.1h-1.1zM315.2 315.5h1.1v1.1h-1.1zM315.6 308.0h1.1v1.1h-1.1zM315.6 324.0h1.1v1.1h-1.1zM313.6 318.5h1.1v1.1h-1.1zM314.4 323.2h1.1v1.1h-1.1zM308.9 324.6h1.1v1.1h-1.1zM307.7 322.8h1.1v1.1h-1.1zM311.7 315.8h1.1v1.1h-1.1zM308.7 307.5h1.1v1.1h-1.1zM309.9 320.4h1.1v1.1h-1.1zM307.9 311.6h1.1v1.1h-1.1zM306.3 305.0h1.1v1.1h-1.1zM308.8 320.4h1.1v1.1h-1.1zM315.6 322.0h1.1v1.1h-1.1zM312.8 316.8h1.1v1.1h-1.1zM311.3 312.1h1.1v1.1h-1.1zM306.3 324.9h1.1v1.1h-1.1zM309.0 322.0h1.1v1.1h-1.1zM314.7 309.2h1.1v1.1h-1.1zM313.0 319.0h1.1v1.1h-1.1zM311.2 310.2h1.1v1.1h-1.1zM306.4 320.9h1.1v1.1h-1.1zM307.0 325.0h1.1v1.1h-1.1zM307.0 320.2h1.1v1.1h-1.1zM308.7 316.3h1.1v1.1h-1.1zM307.5 323.9h1.1v1.1h-1.1zM311.3 318.4h1.1v1.1h-1.1zM315.5 322.9h1.1v1.1h-1.1zM312.4 323.0h1.1v1.1h-1.1zM313.3 311.9h1.1v1.1h-1.1zM312.1 322.4h1.1v1.1h-1.1zM309.8 316.1h1.1v1.1h-1.1zM314.9 322.8h1.1v1.1h-1.1zM308.4 320.9h1.1v1.1h-1.1zM306.3 312.4h1.1v1.1h-1.1zM311.3 320.2h1.1v1.1h-1.1zM311.1 321.0h1.1v1.1h-1.1zM312.6 295.2h1.1v1.1h-1.1zM310.7 325.4h1.1v1.1h-1.1zM312.1 317.5h1.1v1.1h-1.1zM308.9 322.4h1.1v1.1h-1.1zM311.7 319.1h1.1v1.1h-1.1zM308.5 321.6h1.1v1.1h-1.1zM313.0 317.1h1.1v1.1h-1.1zM305.9 321.7h1.1v1.1h-1.1zM312.1 320.6h1.1v1.1h-1.1zM313.6 313.5h1.1v1.1h-1.1zM309.1 322.8h1.1v1.1h-1.1zM307.0 320.0h1.1v1.1h-1.1zM310.4 316.7h1.1v1.1h-1.1zM312.9 323.7h1.1v1.1h-1.1zM309.8 323.5h1.1v1.1h-1.1zM311.7 323.8h1.1v1.1h-1.1zM308.6 304.4h1.1v1.1h-1.1zM308.8 318.5h1.1v1.1h-1.1zM310.2 280.0h1.1v1.1h-1.1zM306.2 313.1h1.1v1.1h-1.1zM313.9 299.3h1.1v1.1h-1.1zM307.1 321.3h1.1v1.1h-1.1zM311.4 319.1h1.1v1.1h-1.1zM313.0 302.7h1.1v1.1h-1.1zM314.6 322.6h1.1v1.1h-1.1zM314.4 324.6h1.1v1.1h-1.1zM311.0 322.2h1.1v1.1h-1.1zM310.8 322.5h1.1v1.1h-1.1zM311.1 325.4h1.1v1.1h-1.1zM314.4 313.8h1.1v1.1h-1.1zM306.6 308.0h1.1v1.1h-1.1zM311.9 324.2h1.1v1.1h-1.1zM306.9 324.0h1.1v1.1h-1.1zM305.9 309.0h1.1v1.1h-1.1zM312.2 322.8h1.1v1.1h-1.1zM306.9 324.6h1.1v1.1h-1.1zM314.3 324.3h1.1v1.1h-1.1zM311.2 325.0h1.1v1.1h-1.1zM315.0 324.4h1.1v1.1h-1.1zM313.6 301.2h1.1v1.1h-1.1zM309.9 322.6h1.1v1.1h-1.1zM313.2 320.2h1.1v1.1h-1.1zM309.2 319.8h1.1v1.1h-1.1zM313.5 313.7h1.1v1.1h-1.1zM308.5 322.8h1.1v1.1h-1.1zM315.1 310.6h1.1v1.1h-1.1zM309.7 317.4h1.1v1.1h-1.1zM313.0 298.3h1.1v1.1h-1.1zM307.9 318.4h1.1v1.1h-1.1zM307.8 321.6h1.1v1.1h-1.1zM308.6 317.7h1.1v1.1h-1.1zM311.1 303.8h1.1v1.1h-1.1zM308.8 314.9h1.1v1.1h-1.1zM312.9 314.6h1.1v1.1h-1.1zM310.6 322.1h1.1v1.1h-1.1zM308.3 318.9h1.1v1.1h-1.1zM311.8 311.6h1.1v1.1h-1.1zM313.3 320.5h1.1v1.1h-1.1zM309.8 321.0h1.1v1.1h-1.1zM309.1 322.0h1.1v1.1h-1.1zM308.1 314.5h1.1v1.1h-1.1zM311.4 324.3h1.1v1.1h-1.1zM312.1 316.9h1.1v1.1h-1.1zM311.4 324.6h1.1v1.1h-1.1zM310.2 290.9h1.1v1.1h-1.1zM315.3 321.5h1.1v1.1h-1.1zM310.2 317.2h1.1v1.1h-1.1zM306.2 323.6h1.1v1.1h-1.1zM309.1 319.8h1.1v1.1h-1.1zM314.6 322.5h1.1v1.1h-1.1zM311.2 317.1h1.1v1.1h-1.1zM309.2 322.2h1.1v1.1h-1.1zM312.2 321.8h1.1v1.1h-1.1zM312.7 324.2h1.1v1.1h-1.1zM305.9 314.2h1.1v1.1h-1.1zM308.7 321.2h1.1v1.1h-1.1zM306.2 318.8h1.1v1.1h-1.1zM308.2 320.7h1.1v1.1h-1.1zM310.1 322.5h1.1v1.1h-1.1zM313.5 322.0h1.1v1.1h-1.1zM312.9 323.8h1.1v1.1h-1.1zM314.6 322.2h1.1v1.1h-1.1zM313.2 314.3h1.1v1.1h-1.1zM312.9 322.8h1.1v1.1h-1.1zM312.5 322.0h1.1v1.1h-1.1zM306.3 317.1h1.1v1.1h-1.1zM311.1 316.2h1.1v1.1h-1.1zM307.8 323.7h1.1v1.1h-1.1zM307.4 315.6h1.1v1.1h-1.1zM314.3 324.5h1.1v1.1h-1.1zM306.3 313.4h1.1v1.1h-1.1zM311.0 324.1h1.1v1.1h-1.1zM314.6 308.0h1.1v1.1h-1.1zM314.3 324.3h1.1v1.1h-1.1zM310.8 314.2h1.1v1.1h-1.1zM307.1 319.6h1.1v1.1h-1.1zM311.6 319.7h1.1v1.1h-1.1zM309.9 317.0h1.1v1.1h-1.1zM306.4 321.7h1.1v1.1h-1.1zM306.0 321.4h1.1v1.1h-1.1zM312.7 315.7h1.1v1.1h-1.1zM314.7 319.5h1.1v1.1h-1.1zM314.8 323.7h1.1v1.1h-1.1zM308.8 314.7h1.1v1.1h-1.1zM313.6 324.2h1.1v1.1h-1.1zM314.7 324.8h1.1v1.1h-1.1zM308.8 275.3h1.1v1.1h-1.1zM308.7 319.1h1.1v1.1h-1.1zM309.5 322.1h1.1v1.1h-1.1zM312.4 310.0h1.1v1.1h-1.1zM313.2 324.0h1.1v1.1h-1.1zM307.3 323.6h1.1v1.1h-1.1zM313.3 320.5h1.1v1.1h-1.1zM307.9 323.5h1.1v1.1h-1.1zM315.5 316.1h1.1v1.1h-1.1zM309.2 320.6h1.1v1.1h-1.1zM308.2 320.0h1.1v1.1h-1.1zM314.1 321.2h1.1v1.1h-1.1zM310.3 318.9h1.1v1.1h-1.1zM306.5 320.3h1.1v1.1h-1.1zM314.0 324.7h1.1v1.1h-1.1zM309.6 322.6h1.1v1.1h-1.1zM309.0 300.8h1.1v1.1h-1.1zM307.2 318.4h1.1v1.1h-1.1zM311.0 320.1h1.1v1.1h-1.1zM314.4 319.5h1.1v1.1h-1.1zM309.1 322.2h1.1v1.1h-1.1zM307.4 316.9h1.1v1.1h-1.1zM307.8 323.1h1.1v1.1h-1.1zM306.4 306.0h1.1v1.1h-1.1zM310.5 324.2h1.1v1.1h-1.1zM311.4 323.3h1.1v1.1h-1.1zM312.0 323.9h1.1v1.1h-1.1zM306.0 319.0h1.1v1.1h-1.1zM306.3 319.1h1.1v1.1h-1.1zM307.7 323.2h1.1v1.1h-1.1zM312.2 314.3h1.1v1.1h-1.1zM313.1 324.2h1.1v1.1h-1.1zM315.6 322.6h1.1v1.1h-1.1zM308.8 304.0h1.1v1.1h-1.1zM312.2 298.0h1.1v1.1h-1.1zM315.0 325.1h1.1v1.1h-1.1zM307.4 308.3h1.1v1.1h-1.1zM309.7 310.2h1.1v1.1h-1.1zM312.8 319.4h1.1v1.1h-1.1zM312.8 323.4h1.1v1.1h-1.1zM312.4 325.0h1.1v1.1h-1.1zM313.0 311.5h1.1v1.1h-1.1zM312.3 319.1h1.1v1.1h-1.1zM315.2 320.8h1.1v1.1h-1.1zM312.4 324.5h1.1v1.1h-1.1zM307.3 295.6h1.1v1.1h-1.1zM314.9 323.0h1.1v1.1h-1.1zM314.6 313.7h1.1v1.1h-1.1zM308.5 312.1h1.1v1.1h-1.1zM313.9 323.5h1.1v1.1h-1.1zM313.6 324.0h1.1v1.1h-1.1zM313.7 320.2h1.1v1.1h-1.1zM307.0 317.5h1.1v1.1h-1.1zM311.0 320.4h1.1v1.1h-1.1zM313.6 321.2h1.1v1.1h-1.1zM311.0 314.4h1.1v1.1h-1.1zM309.1 316.4h1.1v1.1h-1.1zM306.6 323.0h1.1v1.1h-1.1zM307.8 322.1h1.1v1.1h-1.1zM308.4 320.6h1.1v1.1h-1.1zM306.4 325.2h1.1v1.1h-1.1zM315.6 323.9h1.1v1.1h-1.1zM309.3 312.4h1.1v1.1h-1.1zM307.0 325.0h1.1v1.1h-1.1zM314.8 318.2h1.1v1.1h-1.1zM309.7 299.5h1.1v1.1h-1.1zM313.3 323.6h1.1v1.1h-1.1zM308.8 323.7h1.1v1.1h-1.1zM314.3 324.8h1.1v1.1h-1.1zM313.5 321.3h1.1v1.1h-1.1zM309.4 324.1h1.1v1.1h-1.1zM312.1 308.9h1.1v1.1h-1.1zM311.6 324.5h1.1v1.1h-1.1zM310.9 324.7h1.1v1.1h-1.1zM309.7 319.8h1.1v1.1h-1.1zM311.2 320.4h1.1v1.1h-1.1zM310.3 309.6h1.1v1.1h-1.1zM314.7 319.5h1.1v1.1h-1.1zM315.1 320.9h1.1v1.1h-1.1zM312.7 323.5h1.1v1.1h-1.1zM307.2 300.1h1.1v1.1h-1.1zM309.2 322.2h1.1v1.1h-1.1zM311.7 319.8h1.1v1.1h-1.1zM311.8 322.1h1.1v1.1h-1.1zM315.2 325.2h1.1v1.1h-1.1zM314.2 324.2h1.1v1.1h-1.1zM308.5 316.4h1.1v1.1h-1.1zM312.2 318.0h1.1v1.1h-1.1zM310.9 321.0h1.1v1.1h-1.1zM309.0 319.2h1.1v1.1h-1.1zM310.8 324.0h1.1v1.1h-1.1zM313.4 289.8h1.1v1.1h-1.1zM313.3 319.5h1.1v1.1h-1.1zM315.3 323.0h1.1v1.1h-1.1zM306.6 320.5h1.1v1.1h-1.1zM309.3 317.0h1.1v1.1h-1.1zM314.7 324.5h1.1v1.1h-1.1zM314.9 321.4h1.1v1.1h-1.1zM315.1 321.5h1.1v1.1h-1.1zM308.5 322.4h1.1v1.1h-1.1zM309.1 323.2h1.1v1.1h-1.1zM306.7 319.0h1.1v1.1h-1.1zM311.9 313.5h1.1v1.1h-1.1zM308.0 318.6h1.1v1.1h-1.1zM314.9 323.5h1.1v1.1h-1.1zM310.3 316.4h1.1v1.1h-1.1zM306.4 315.4h1.1v1.1h-1.1zM313.5 322.2h1.1v1.1h-1.1zM308.7 324.5h1.1v1.1h-1.1zM313.1 313.3h1.1v1.1h-1.1zM310.7 324.2h1.1v1.1h-1.1zM309.4 323.3h1.1v1.1h-1.1zM315.6 323.8h1.1v1.1h-1.1zM307.4 321.1h1.1v1.1h-1.1zM306.3 315.4h1.1v1.1h-1.1zM308.1 322.1h1.1v1.1h-1.1zM313.6 277.2h1.1v1.1h-1.1zM309.4 323.4h1.1v1.1h-1.1zM311.7 323.1h1.1v1.1h-1.1zM312.0 325.5h1.1v1.1h-1.1zM306.9 291.4h1.1v1.1h-1.1zM306.3 311.2h1.1v1.1h-1.1zM307.1 301.9h1.1v1.1h-1.1zM309.2 325.2h1.1v1.1h-1.1zM309.5 310.8h1.1v1.1h-1.1zM313.5 319.3h1.1v1.1h-1.1zM309.0 324.7h1.1v1.1h-1.1zM308.3 318.0h1.1v1.1h-1.1zM313.0 298.1h1.1v1.1h-1.1zM311.2 318.9h1.1v1.1h-1.1zM308.4 323.6h1.1v1.1h-1.1zM309.2 322.2h1.1v1.1h-1.1zM311.6 322.0h1.1v1.1h-1.1zM311.5 322.9h1.1v1.1h-1.1zM311.7 324.3h1.1v1.1h-1.1zM315.6 299.4h1.1v1.1h-1.1zM312.9 318.8h1.1v1.1h-1.1zM308.2 293.0h1.1v1.1h-1.1zM308.6 324.8h1.1v1.1h-1.1zM309.7 320.5h1.1v1.1h-1.1zM308.5 321.1h1.1v1.1h-1.1zM310.0 323.7h1.1v1.1h-1.1zM314.0 318.9h1.1v1.1h-1.1zM314.6 322.9h1.1v1.1h-1.1zM311.5 324.7h1.1v1.1h-1.1zM312.6 312.5h1.1v1.1h-1.1zM306.1 316.1h1.1v1.1h-1.1zM311.3 322.0h1.1v1.1h-1.1zM308.4 293.7h1.1v1.1h-1.1zM314.5 322.8h1.1v1.1h-1.1zM306.4 311.9h1.1v1.1h-1.1zM307.2 323.3h1.1v1.1h-1.1zM306.1 320.8h1.1v1.1h-1.1zM314.1 324.0h1.1v1.1h-1.1zM306.8 321.2h1.1v1.1h-1.1zM310.6 318.3h1.1v1.1h-1.1zM309.8 317.2h1.1v1.1h-1.1zM314.2 324.8h1.1v1.1h-1.1zM311.9 323.2h1.1v1.1h-1.1zM312.0 322.3h1.1v1.1h-1.1zM315.0 325.0h1.1v1.1h-1.1zM310.6 325.0h1.1v1.1h-1.1zM308.2 325.1h1.1v1.1h-1.1zM309.6 316.4h1.1v1.1h-1.1zM311.2 323.5h1.1v1.1h-1.1zM313.1 323.4h1.1v1.1h-1.1zM310.2 323.8h1.1v1.1h-1.1zM307.8 318.9h1.1v1.1h-1.1zM315.0 323.1h1.1v1.1h-1.1zM310.1 322.5h1.1v1.1h-1.1zM305.9 316.3h1.1v1.1h-1.1zM315.2 318.6h1.1v1.1h-1.1zM310.9 316.3h1.1v1.1h-1.1zM310.4 322.2h1.1v1.1h-1.1zM311.6 321.0h1.1v1.1h-1.1zM314.3 322.6h1.1v1.1h-1.1zM312.6 321.7h1.1v1.1h-1.1zM313.5 319.1h1.1v1.1h-1.1zM307.0 323.3h1.1v1.1h-1.1zM305.9 316.6h1.1v1.1h-1.1zM313.4 312.7h1.1v1.1h-1.1zM312.3 319.9h1.1v1.1h-1.1zM315.1 304.7h1.1v1.1h-1.1zM311.1 321.5h1.1v1.1h-1.1zM311.5 278.4h1.1v1.1h-1.1zM314.7 318.5h1.1v1.1h-1.1zM310.7 324.6h1.1v1.1h-1.1zM314.8 323.6h1.1v1.1h-1.1zM311.9 319.3h1.1v1.1h-1.1zM308.2 324.4h1.1v1.1h-1.1zM308.9 318.7h1.1v1.1h-1.1zM308.4 282.8h1.1v1.1h-1.1zM313.5 321.7h1.1v1.1h-1.1zM311.8 314.4h1.1v1.1h-1.1zM311.3 324.5h1.1v1.1h-1.1zM311.9 325.1h1.1v1.1h-1.1zM314.4 324.1h1.1v1.1h-1.1zM310.6 321.0h1.1v1.1h-1.1zM312.8 320.7h1.1v1.1h-1.1zM311.9 325.5h1.1v1.1h-1.1zM309.0 322.7h1.1v1.1h-1.1zM315.1 321.9h1.1v1.1h-1.1zM309.2 312.7h1.1v1.1h-1.1zM312.6 324.1h1.1v1.1h-1.1zM315.1 312.8h1.1v1.1h-1.1zM315.3 313.5h1.1v1.1h-1.1zM310.6 318.5h1.1v1.1h-1.1zM308.3 323.1h1.1v1.1h-1.1zM315.5 306.0h1.1v1.1h-1.1zM309.1 323.7h1.1v1.1h-1.1zM311.3 325.1h1.1v1.1h-1.1zM308.3 316.4h1.1v1.1h-1.1zM306.0 319.7h1.1v1.1h-1.1zM307.5 320.0h1.1v1.1h-1.1zM315.6 323.4h1.1v1.1h-1.1zM306.4 311.1h1.1v1.1h-1.1zM313.3 320.0h1.1v1.1h-1.1zM312.5 320.6h1.1v1.1h-1.1zM314.3 323.8h1.1v1.1h-1.1zM307.7 315.0h1.1v1.1h-1.1zM313.4 317.5h1.1v1.1h-1.1zM314.7 322.3h1.1v1.1h-1.1zM309.1 315.7h1.1v1.1h-1.1zM315.0 319.4h1.1v1.1h-1.1zM311.0 305.4h1.1v1.1h-1.1zM306.9 302.1h1.1v1.1h-1.1zM306.2 319.6h1.1v1.1h-1.1zM312.6 323.5h1.1v1.1h-1.1zM315.1 325.4h1.1v1.1h-1.1zM314.5 316.1h1.1v1.1h-1.1zM314.8 313.3h1.1v1.1h-1.1zM312.1 319.6h1.1v1.1h-1.1zM314.9 324.4h1.1v1.1h-1.1zM315.0 320.3h1.1v1.1h-1.1zM311.2 325.6h1.1v1.1h-1.1zM314.8 284.5h1.1v1.1h-1.1zM313.2 325.4h1.1v1.1h-1.1zM315.3 323.9h1.1v1.1h-1.1zM311.6 324.1h1.1v1.1h-1.1zM307.7 322.0h1.1v1.1h-1.1zM310.6 318.8h1.1v1.1h-1.1zM306.8 321.0h1.1v1.1h-1.1zM310.4 318.0h1.1v1.1h-1.1zM308.5 323.7h1.1v1.1h-1.1zM315.2 317.2h1.1v1.1h-1.1zM313.5 325.2h1.1v1.1h-1.1zM308.7 316.5h1.1v1.1h-1.1zM307.5 295.6h1.1v1.1h-1.1zM308.7 320.5h1.1v1.1h-1.1zM307.5 318.6h1.1v1.1h-1.1zM308.0 321.5h1.1v1.1h-1.1zM306.7 311.4h1.1v1.1h-1.1zM306.7 320.8h1.1v1.1h-1.1zM313.8 324.6h1.1v1.1h-1.1zM314.7 317.1h1.1v1.1h-1.1zM311.8 292.6h1.1v1.1h-1.1zM308.2 321.2h1.1v1.1h-1.1zM307.4 321.2h1.1v1.1h-1.1zM312.1 321.8h1.1v1.1h-1.1zM314.8 324.1h1.1v1.1h-1.1zM309.8 306.2h1.1v1.1h-1.1zM313.0 320.8h1.1v1.1h-1.1zM313.3 308.2h1.1v1.1h-1.1zM308.2 323.9h1.1v1.1h-1.1zM313.3 320.0h1.1v1.1h-1.1zM309.0 310.9h1.1v1.1h-1.1zM314.9 320.1h1.1v1.1h-1.1zM314.6 325.2h1.1v1.1h-1.1zM311.4 305.6h1.1v1.1h-1.1zM313.4 319.8h1.1v1.1h-1.1zM315.2 322.8h1.1v1.1h-1.1zM309.4 322.6h1.1v1.1h-1.1zM310.6 226.4h1.1v1.1h-1.1zM308.1 235.3h1.1v1.1h-1.1zM309.9 246.1h1.1v1.1h-1.1zM312.4 261.4h1.1v1.1h-1.1zM309.4 265.4h1.1v1.1h-1.1z" fill="#BDB78A" stroke="#2E2C18" stroke-width="0.32" stroke-opacity="0.78"/>
<rect x="302.9" y="318.4" width="16.3" height="6.1" fill="#E6E0B0" fill-opacity="0.72" stroke="#222" stroke-width="0.6"/>
<line x1="302.9" x2="319.2" y1="322.1" y2="322.1" stroke="#111" stroke-width="1.1"/>
<line x1="347.4" x2="347.4" y1="333.3" y2="336.5" stroke="#777" stroke-width="0.7"/>
<text x="347.40" y="348.80" font-size="8.6" text-anchor="middle" fill="#222" textLength="15.4" lengthAdjust="spacingAndGlyphs" >MCI</text>
<path d="M351.4 322.7h1.1v1.1h-1.1zM351.0 321.8h1.1v1.1h-1.1zM344.1 324.5h1.1v1.1h-1.1zM344.1 318.6h1.1v1.1h-1.1zM344.0 322.0h1.1v1.1h-1.1zM351.5 303.7h1.1v1.1h-1.1zM342.8 316.3h1.1v1.1h-1.1zM349.5 318.7h1.1v1.1h-1.1zM345.1 323.2h1.1v1.1h-1.1zM348.2 313.8h1.1v1.1h-1.1zM346.2 322.7h1.1v1.1h-1.1zM344.9 317.9h1.1v1.1h-1.1zM348.6 304.9h1.1v1.1h-1.1zM348.5 309.0h1.1v1.1h-1.1zM345.7 314.8h1.1v1.1h-1.1zM346.1 323.0h1.1v1.1h-1.1zM342.0 324.2h1.1v1.1h-1.1zM346.5 313.8h1.1v1.1h-1.1zM342.2 323.6h1.1v1.1h-1.1zM348.9 321.3h1.1v1.1h-1.1zM343.5 307.5h1.1v1.1h-1.1zM342.3 320.0h1.1v1.1h-1.1zM343.4 319.5h1.1v1.1h-1.1zM348.7 318.3h1.1v1.1h-1.1zM348.3 321.0h1.1v1.1h-1.1zM346.6 323.7h1.1v1.1h-1.1zM345.0 325.2h1.1v1.1h-1.1zM350.5 320.3h1.1v1.1h-1.1zM342.0 322.6h1.1v1.1h-1.1zM342.8 324.5h1.1v1.1h-1.1zM351.2 313.0h1.1v1.1h-1.1zM350.5 319.3h1.1v1.1h-1.1zM348.9 318.8h1.1v1.1h-1.1zM349.5 322.2h1.1v1.1h-1.1zM343.3 315.8h1.1v1.1h-1.1zM343.7 324.8h1.1v1.1h-1.1zM350.7 317.6h1.1v1.1h-1.1zM346.3 324.7h1.1v1.1h-1.1zM351.3 317.7h1.1v1.1h-1.1zM350.6 321.9h1.1v1.1h-1.1zM347.3 321.3h1.1v1.1h-1.1zM348.7 318.4h1.1v1.1h-1.1zM344.7 321.3h1.1v1.1h-1.1zM350.0 318.7h1.1v1.1h-1.1zM344.8 290.9h1.1v1.1h-1.1zM344.0 307.8h1.1v1.1h-1.1zM350.2 285.3h1.1v1.1h-1.1zM345.3 295.7h1.1v1.1h-1.1zM350.6 308.9h1.1v1.1h-1.1zM342.1 314.0h1.1v1.1h-1.1zM346.4 324.4h1.1v1.1h-1.1zM347.5 324.6h1.1v1.1h-1.1zM344.6 318.9h1.1v1.1h-1.1zM348.4 323.1h1.1v1.1h-1.1zM345.2 324.1h1.1v1.1h-1.1zM351.1 322.1h1.1v1.1h-1.1zM350.7 322.0h1.1v1.1h-1.1zM345.9 304.2h1.1v1.1h-1.1zM342.6 315.6h1.1v1.1h-1.1zM343.4 319.0h1.1v1.1h-1.1zM345.6 315.6h1.1v1.1h-1.1zM346.3 315.9h1.1v1.1h-1.1zM348.7 323.2h1.1v1.1h-1.1zM345.5 324.3h1.1v1.1h-1.1zM343.2 323.0h1.1v1.1h-1.1zM347.3 323.9h1.1v1.1h-1.1zM349.2 322.9h1.1v1.1h-1.1zM344.3 306.1h1.1v1.1h-1.1zM344.9 323.8h1.1v1.1h-1.1zM342.3 317.6h1.1v1.1h-1.1zM349.2 312.3h1.1v1.1h-1.1zM344.6 324.4h1.1v1.1h-1.1zM348.9 316.6h1.1v1.1h-1.1zM346.5 300.4h1.1v1.1h-1.1zM351.6 322.5h1.1v1.1h-1.1zM346.0 318.5h1.1v1.1h-1.1zM346.4 321.2h1.1v1.1h-1.1zM343.4 321.4h1.1v1.1h-1.1zM349.3 306.1h1.1v1.1h-1.1zM348.7 319.1h1.1v1.1h-1.1zM344.6 321.7h1.1v1.1h-1.1zM351.5 323.8h1.1v1.1h-1.1zM349.8 324.1h1.1v1.1h-1.1zM343.4 323.5h1.1v1.1h-1.1zM348.9 306.0h1.1v1.1h-1.1zM344.3 323.0h1.1v1.1h-1.1zM344.1 317.9h1.1v1.1h-1.1zM344.2 319.7h1.1v1.1h-1.1zM343.8 322.2h1.1v1.1h-1.1zM347.7 313.3h1.1v1.1h-1.1zM348.5 306.3h1.1v1.1h-1.1zM342.3 313.3h1.1v1.1h-1.1zM343.8 322.9h1.1v1.1h-1.1zM351.0 324.7h1.1v1.1h-1.1zM347.0 321.2h1.1v1.1h-1.1zM351.1 319.3h1.1v1.1h-1.1zM345.2 306.8h1.1v1.1h-1.1zM347.5 291.5h1.1v1.1h-1.1zM346.7 323.6h1.1v1.1h-1.1zM342.4 318.3h1.1v1.1h-1.1zM347.9 318.2h1.1v1.1h-1.1zM347.9 323.2h1.1v1.1h-1.1zM351.7 325.7h1.1v1.1h-1.1zM342.5 322.3h1.1v1.1h-1.1zM344.8 318.5h1.1v1.1h-1.1zM344.9 325.6h1.1v1.1h-1.1zM344.3 322.7h1.1v1.1h-1.1zM347.4 321.2h1.1v1.1h-1.1zM343.4 323.7h1.1v1.1h-1.1zM349.4 306.3h1.1v1.1h-1.1zM351.1 325.0h1.1v1.1h-1.1zM344.9 321.0h1.1v1.1h-1.1zM350.7 319.1h1.1v1.1h-1.1zM343.4 323.0h1.1v1.1h-1.1zM343.6 319.7h1.1v1.1h-1.1zM350.6 325.2h1.1v1.1h-1.1zM349.4 313.6h1.1v1.1h-1.1zM349.6 320.2h1.1v1.1h-1.1zM344.1 322.9h1.1v1.1h-1.1zM350.7 321.6h1.1v1.1h-1.1zM343.2 320.6h1.1v1.1h-1.1zM348.3 324.2h1.1v1.1h-1.1zM348.6 323.4h1.1v1.1h-1.1zM351.1 324.2h1.1v1.1h-1.1zM348.0 307.3h1.1v1.1h-1.1zM343.1 292.5h1.1v1.1h-1.1zM348.5 321.5h1.1v1.1h-1.1zM345.6 308.4h1.1v1.1h-1.1zM350.3 314.2h1.1v1.1h-1.1zM343.0 277.9h1.1v1.1h-1.1zM342.5 315.5h1.1v1.1h-1.1zM351.6 316.9h1.1v1.1h-1.1zM350.1 320.3h1.1v1.1h-1.1zM348.7 316.6h1.1v1.1h-1.1zM349.7 321.8h1.1v1.1h-1.1zM351.5 320.9h1.1v1.1h-1.1zM349.1 323.3h1.1v1.1h-1.1zM345.8 321.9h1.1v1.1h-1.1zM349.4 323.2h1.1v1.1h-1.1zM351.0 324.1h1.1v1.1h-1.1zM346.1 321.0h1.1v1.1h-1.1zM347.1 319.3h1.1v1.1h-1.1zM348.9 321.5h1.1v1.1h-1.1zM344.8 302.7h1.1v1.1h-1.1zM348.1 319.8h1.1v1.1h-1.1zM351.2 322.1h1.1v1.1h-1.1zM344.3 322.0h1.1v1.1h-1.1zM342.6 315.2h1.1v1.1h-1.1zM342.9 314.0h1.1v1.1h-1.1zM347.3 320.2h1.1v1.1h-1.1zM350.6 322.3h1.1v1.1h-1.1zM350.1 324.9h1.1v1.1h-1.1zM343.6 316.9h1.1v1.1h-1.1zM350.4 302.4h1.1v1.1h-1.1zM350.3 314.1h1.1v1.1h-1.1zM351.3 321.6h1.1v1.1h-1.1zM349.2 324.1h1.1v1.1h-1.1zM342.5 319.4h1.1v1.1h-1.1zM349.2 325.3h1.1v1.1h-1.1zM344.5 321.1h1.1v1.1h-1.1zM349.0 320.8h1.1v1.1h-1.1zM344.8 324.3h1.1v1.1h-1.1zM347.5 321.5h1.1v1.1h-1.1zM347.3 289.5h1.1v1.1h-1.1zM349.1 325.1h1.1v1.1h-1.1zM347.4 317.3h1.1v1.1h-1.1zM350.0 318.7h1.1v1.1h-1.1zM346.8 317.8h1.1v1.1h-1.1zM344.9 318.0h1.1v1.1h-1.1zM346.1 318.1h1.1v1.1h-1.1zM349.7 317.4h1.1v1.1h-1.1zM342.7 313.6h1.1v1.1h-1.1zM344.4 301.5h1.1v1.1h-1.1zM345.1 320.7h1.1v1.1h-1.1zM343.5 320.9h1.1v1.1h-1.1zM343.5 318.9h1.1v1.1h-1.1zM348.7 287.9h1.1v1.1h-1.1zM350.4 315.9h1.1v1.1h-1.1zM345.1 322.1h1.1v1.1h-1.1zM345.4 319.3h1.1v1.1h-1.1zM350.6 324.3h1.1v1.1h-1.1zM347.6 321.7h1.1v1.1h-1.1zM344.8 323.4h1.1v1.1h-1.1zM351.5 322.6h1.1v1.1h-1.1zM344.0 278.9h1.1v1.1h-1.1zM342.1 306.1h1.1v1.1h-1.1zM343.0 323.3h1.1v1.1h-1.1zM350.5 325.1h1.1v1.1h-1.1zM344.4 314.0h1.1v1.1h-1.1zM344.0 325.3h1.1v1.1h-1.1zM343.0 314.6h1.1v1.1h-1.1zM350.5 324.3h1.1v1.1h-1.1zM350.5 314.5h1.1v1.1h-1.1zM343.2 316.0h1.1v1.1h-1.1zM347.8 320.1h1.1v1.1h-1.1zM348.0 325.0h1.1v1.1h-1.1zM348.0 308.0h1.1v1.1h-1.1zM350.7 321.6h1.1v1.1h-1.1zM350.4 322.9h1.1v1.1h-1.1zM343.6 314.5h1.1v1.1h-1.1zM342.5 324.7h1.1v1.1h-1.1zM343.9 323.9h1.1v1.1h-1.1zM350.5 309.1h1.1v1.1h-1.1zM346.7 312.3h1.1v1.1h-1.1zM343.4 324.2h1.1v1.1h-1.1zM346.8 319.1h1.1v1.1h-1.1zM349.4 322.7h1.1v1.1h-1.1zM350.6 322.4h1.1v1.1h-1.1zM345.1 322.6h1.1v1.1h-1.1zM348.8 323.7h1.1v1.1h-1.1zM342.3 316.9h1.1v1.1h-1.1zM349.8 323.2h1.1v1.1h-1.1zM345.5 323.5h1.1v1.1h-1.1zM342.5 325.4h1.1v1.1h-1.1zM349.7 324.1h1.1v1.1h-1.1zM344.6 323.4h1.1v1.1h-1.1zM344.1 319.4h1.1v1.1h-1.1zM351.4 318.1h1.1v1.1h-1.1zM347.0 322.7h1.1v1.1h-1.1zM347.6 322.1h1.1v1.1h-1.1zM350.6 298.8h1.1v1.1h-1.1zM342.2 312.5h1.1v1.1h-1.1zM343.7 308.8h1.1v1.1h-1.1zM344.7 323.2h1.1v1.1h-1.1zM347.5 317.5h1.1v1.1h-1.1zM346.9 320.5h1.1v1.1h-1.1zM349.6 323.9h1.1v1.1h-1.1zM342.2 316.9h1.1v1.1h-1.1zM344.3 324.3h1.1v1.1h-1.1zM345.2 306.3h1.1v1.1h-1.1zM350.5 307.4h1.1v1.1h-1.1zM343.3 275.5h1.1v1.1h-1.1zM342.1 322.7h1.1v1.1h-1.1zM344.1 321.1h1.1v1.1h-1.1zM344.8 322.0h1.1v1.1h-1.1zM347.6 324.1h1.1v1.1h-1.1zM342.9 314.3h1.1v1.1h-1.1zM350.0 317.4h1.1v1.1h-1.1zM345.2 324.1h1.1v1.1h-1.1zM346.0 310.9h1.1v1.1h-1.1zM347.3 323.0h1.1v1.1h-1.1zM349.5 322.0h1.1v1.1h-1.1zM342.1 316.2h1.1v1.1h-1.1zM346.7 318.6h1.1v1.1h-1.1zM343.5 312.7h1.1v1.1h-1.1zM347.1 314.5h1.1v1.1h-1.1zM349.9 321.9h1.1v1.1h-1.1zM351.4 300.7h1.1v1.1h-1.1zM350.4 325.2h1.1v1.1h-1.1zM345.2 317.2h1.1v1.1h-1.1zM343.5 321.8h1.1v1.1h-1.1zM348.0 320.3h1.1v1.1h-1.1zM348.9 324.7h1.1v1.1h-1.1zM349.0 321.9h1.1v1.1h-1.1zM344.2 294.5h1.1v1.1h-1.1zM342.5 301.6h1.1v1.1h-1.1zM342.3 321.9h1.1v1.1h-1.1zM349.0 315.1h1.1v1.1h-1.1zM351.1 307.5h1.1v1.1h-1.1zM343.9 317.0h1.1v1.1h-1.1zM342.8 322.3h1.1v1.1h-1.1zM345.7 323.4h1.1v1.1h-1.1zM350.0 315.6h1.1v1.1h-1.1zM350.4 324.4h1.1v1.1h-1.1zM349.4 324.1h1.1v1.1h-1.1zM347.2 323.8h1.1v1.1h-1.1zM346.5 320.8h1.1v1.1h-1.1zM348.6 323.7h1.1v1.1h-1.1zM344.4 324.9h1.1v1.1h-1.1zM343.2 323.8h1.1v1.1h-1.1zM343.0 322.2h1.1v1.1h-1.1zM348.8 325.3h1.1v1.1h-1.1zM342.5 315.0h1.1v1.1h-1.1zM347.9 305.7h1.1v1.1h-1.1zM342.0 323.3h1.1v1.1h-1.1zM346.7 321.9h1.1v1.1h-1.1zM343.2 313.8h1.1v1.1h-1.1zM348.2 323.7h1.1v1.1h-1.1zM346.8 323.8h1.1v1.1h-1.1zM350.1 322.3h1.1v1.1h-1.1zM350.5 321.2h1.1v1.1h-1.1zM344.3 311.6h1.1v1.1h-1.1zM344.8 324.4h1.1v1.1h-1.1zM350.4 299.8h1.1v1.1h-1.1zM351.1 316.6h1.1v1.1h-1.1zM350.2 324.6h1.1v1.1h-1.1zM343.1 323.9h1.1v1.1h-1.1zM350.8 294.7h1.1v1.1h-1.1zM349.0 313.6h1.1v1.1h-1.1zM350.4 323.2h1.1v1.1h-1.1zM344.7 323.0h1.1v1.1h-1.1zM342.5 298.9h1.1v1.1h-1.1zM349.0 316.2h1.1v1.1h-1.1zM346.2 321.7h1.1v1.1h-1.1zM344.6 322.1h1.1v1.1h-1.1zM345.2 316.1h1.1v1.1h-1.1zM343.5 324.8h1.1v1.1h-1.1zM347.9 322.8h1.1v1.1h-1.1zM351.2 313.1h1.1v1.1h-1.1zM348.1 321.5h1.1v1.1h-1.1zM346.1 317.0h1.1v1.1h-1.1zM347.3 320.8h1.1v1.1h-1.1zM349.9 324.6h1.1v1.1h-1.1zM343.7 316.3h1.1v1.1h-1.1zM346.6 300.2h1.1v1.1h-1.1zM343.0 324.1h1.1v1.1h-1.1zM346.4 322.2h1.1v1.1h-1.1zM346.1 321.1h1.1v1.1h-1.1zM346.0 314.3h1.1v1.1h-1.1zM351.1 317.8h1.1v1.1h-1.1zM351.2 304.2h1.1v1.1h-1.1zM345.9 318.5h1.1v1.1h-1.1zM347.8 315.7h1.1v1.1h-1.1zM346.8 322.4h1.1v1.1h-1.1zM351.7 324.3h1.1v1.1h-1.1zM344.4 297.7h1.1v1.1h-1.1zM349.5 322.3h1.1v1.1h-1.1zM348.5 276.0h1.1v1.1h-1.1zM351.0 316.7h1.1v1.1h-1.1zM344.4 324.5h1.1v1.1h-1.1zM351.0 315.0h1.1v1.1h-1.1zM344.7 320.1h1.1v1.1h-1.1zM348.5 319.7h1.1v1.1h-1.1zM348.7 324.9h1.1v1.1h-1.1zM349.6 322.2h1.1v1.1h-1.1zM343.0 318.3h1.1v1.1h-1.1zM344.8 321.0h1.1v1.1h-1.1zM349.0 313.7h1.1v1.1h-1.1zM343.7 312.5h1.1v1.1h-1.1zM342.1 323.2h1.1v1.1h-1.1zM344.5 320.3h1.1v1.1h-1.1zM351.4 321.1h1.1v1.1h-1.1zM342.6 303.1h1.1v1.1h-1.1zM348.1 324.0h1.1v1.1h-1.1zM343.4 320.0h1.1v1.1h-1.1zM347.6 314.5h1.1v1.1h-1.1zM346.0 321.4h1.1v1.1h-1.1zM348.0 325.1h1.1v1.1h-1.1zM345.3 323.3h1.1v1.1h-1.1zM351.3 316.3h1.1v1.1h-1.1zM348.6 321.3h1.1v1.1h-1.1zM350.4 319.8h1.1v1.1h-1.1zM342.9 325.0h1.1v1.1h-1.1zM344.6 320.9h1.1v1.1h-1.1zM345.6 325.4h1.1v1.1h-1.1zM351.7 318.4h1.1v1.1h-1.1zM349.6 324.5h1.1v1.1h-1.1zM343.2 323.2h1.1v1.1h-1.1zM343.1 309.4h1.1v1.1h-1.1zM343.4 322.9h1.1v1.1h-1.1zM351.0 317.9h1.1v1.1h-1.1zM350.4 324.2h1.1v1.1h-1.1zM349.4 323.8h1.1v1.1h-1.1zM351.5 321.8h1.1v1.1h-1.1zM343.1 322.2h1.1v1.1h-1.1zM342.4 309.9h1.1v1.1h-1.1zM348.0 313.1h1.1v1.1h-1.1zM350.4 318.1h1.1v1.1h-1.1zM344.5 320.4h1.1v1.1h-1.1zM350.3 325.5h1.1v1.1h-1.1zM347.3 322.2h1.1v1.1h-1.1zM351.7 313.4h1.1v1.1h-1.1zM345.5 321.9h1.1v1.1h-1.1zM347.5 320.0h1.1v1.1h-1.1zM344.7 321.5h1.1v1.1h-1.1zM343.6 322.6h1.1v1.1h-1.1zM345.1 323.8h1.1v1.1h-1.1zM346.9 320.8h1.1v1.1h-1.1zM349.1 320.2h1.1v1.1h-1.1zM345.9 324.5h1.1v1.1h-1.1zM342.7 317.5h1.1v1.1h-1.1zM342.9 321.4h1.1v1.1h-1.1zM343.9 323.5h1.1v1.1h-1.1zM342.0 319.8h1.1v1.1h-1.1zM348.1 319.9h1.1v1.1h-1.1zM351.4 321.9h1.1v1.1h-1.1zM350.6 320.5h1.1v1.1h-1.1zM346.2 306.7h1.1v1.1h-1.1zM347.6 319.0h1.1v1.1h-1.1zM349.6 321.0h1.1v1.1h-1.1zM351.6 325.0h1.1v1.1h-1.1zM350.2 320.0h1.1v1.1h-1.1zM350.5 324.6h1.1v1.1h-1.1zM348.1 319.2h1.1v1.1h-1.1zM347.9 315.7h1.1v1.1h-1.1zM343.1 319.3h1.1v1.1h-1.1zM346.9 304.6h1.1v1.1h-1.1zM351.0 281.2h1.1v1.1h-1.1zM346.1 312.9h1.1v1.1h-1.1zM344.2 324.6h1.1v1.1h-1.1zM346.8 315.8h1.1v1.1h-1.1zM347.9 318.7h1.1v1.1h-1.1zM345.6 315.8h1.1v1.1h-1.1zM350.6 313.1h1.1v1.1h-1.1zM348.3 322.7h1.1v1.1h-1.1zM350.5 295.8h1.1v1.1h-1.1zM346.7 321.1h1.1v1.1h-1.1zM344.5 314.4h1.1v1.1h-1.1zM347.2 325.1h1.1v1.1h-1.1zM343.8 324.6h1.1v1.1h-1.1zM346.3 306.7h1.1v1.1h-1.1zM342.0 317.4h1.1v1.1h-1.1zM348.1 324.2h1.1v1.1h-1.1zM345.2 307.0h1.1v1.1h-1.1zM342.2 323.1h1.1v1.1h-1.1zM345.3 319.3h1.1v1.1h-1.1zM344.0 306.3h1.1v1.1h-1.1zM346.8 315.1h1.1v1.1h-1.1zM351.4 325.2h1.1v1.1h-1.1zM347.0 324.3h1.1v1.1h-1.1zM349.7 322.9h1.1v1.1h-1.1zM346.6 312.3h1.1v1.1h-1.1zM349.7 323.0h1.1v1.1h-1.1zM343.5 314.3h1.1v1.1h-1.1zM343.2 324.2h1.1v1.1h-1.1zM345.4 321.3h1.1v1.1h-1.1zM345.5 319.0h1.1v1.1h-1.1zM348.2 317.9h1.1v1.1h-1.1zM350.7 317.9h1.1v1.1h-1.1zM346.0 318.6h1.1v1.1h-1.1zM342.1 302.0h1.1v1.1h-1.1zM346.7 317.5h1.1v1.1h-1.1zM342.1 321.3h1.1v1.1h-1.1zM345.7 321.3h1.1v1.1h-1.1zM347.1 312.9h1.1v1.1h-1.1zM346.4 306.4h1.1v1.1h-1.1zM350.1 321.7h1.1v1.1h-1.1zM346.3 324.6h1.1v1.1h-1.1zM349.3 317.6h1.1v1.1h-1.1zM348.8 317.0h1.1v1.1h-1.1zM349.2 318.3h1.1v1.1h-1.1zM348.0 321.3h1.1v1.1h-1.1zM343.0 319.1h1.1v1.1h-1.1zM349.8 324.5h1.1v1.1h-1.1zM350.0 309.2h1.1v1.1h-1.1zM342.2 307.6h1.1v1.1h-1.1zM351.6 311.9h1.1v1.1h-1.1zM350.4 320.8h1.1v1.1h-1.1zM350.0 324.9h1.1v1.1h-1.1zM342.6 319.4h1.1v1.1h-1.1zM342.7 325.4h1.1v1.1h-1.1zM349.8 321.1h1.1v1.1h-1.1zM346.0 322.4h1.1v1.1h-1.1zM347.3 320.3h1.1v1.1h-1.1zM349.0 322.4h1.1v1.1h-1.1zM344.3 320.6h1.1v1.1h-1.1zM350.3 322.9h1.1v1.1h-1.1zM342.1 318.6h1.1v1.1h-1.1zM349.0 324.1h1.1v1.1h-1.1zM351.5 320.1h1.1v1.1h-1.1zM348.2 324.5h1.1v1.1h-1.1zM344.8 318.6h1.1v1.1h-1.1zM351.6 323.0h1.1v1.1h-1.1zM348.1 317.3h1.1v1.1h-1.1zM348.7 320.4h1.1v1.1h-1.1zM345.4 323.2h1.1v1.1h-1.1zM351.0 322.9h1.1v1.1h-1.1zM349.3 318.7h1.1v1.1h-1.1zM342.1 318.3h1.1v1.1h-1.1zM348.6 323.7h1.1v1.1h-1.1zM344.5 313.7h1.1v1.1h-1.1zM350.0 323.7h1.1v1.1h-1.1zM346.6 324.0h1.1v1.1h-1.1zM350.9 311.9h1.1v1.1h-1.1zM345.8 322.3h1.1v1.1h-1.1zM348.1 321.0h1.1v1.1h-1.1zM349.3 323.4h1.1v1.1h-1.1zM342.8 301.4h1.1v1.1h-1.1zM349.7 315.7h1.1v1.1h-1.1zM345.0 317.4h1.1v1.1h-1.1zM344.5 316.4h1.1v1.1h-1.1zM350.0 323.1h1.1v1.1h-1.1zM345.7 322.7h1.1v1.1h-1.1zM347.1 319.5h1.1v1.1h-1.1zM347.7 323.5h1.1v1.1h-1.1zM348.1 323.9h1.1v1.1h-1.1zM347.4 305.3h1.1v1.1h-1.1zM345.1 322.0h1.1v1.1h-1.1zM350.5 322.8h1.1v1.1h-1.1zM351.7 322.1h1.1v1.1h-1.1zM351.2 323.9h1.1v1.1h-1.1zM345.8 321.0h1.1v1.1h-1.1zM345.8 322.4h1.1v1.1h-1.1zM346.5 323.3h1.1v1.1h-1.1zM350.6 321.8h1.1v1.1h-1.1zM347.1 318.4h1.1v1.1h-1.1zM342.1 318.7h1.1v1.1h-1.1zM349.5 322.5h1.1v1.1h-1.1zM343.8 316.5h1.1v1.1h-1.1zM348.6 325.1h1.1v1.1h-1.1zM345.8 321.8h1.1v1.1h-1.1zM349.5 313.0h1.1v1.1h-1.1zM348.4 281.6h1.1v1.1h-1.1zM350.5 320.5h1.1v1.1h-1.1zM350.1 314.8h1.1v1.1h-1.1zM349.0 317.7h1.1v1.1h-1.1zM349.9 323.2h1.1v1.1h-1.1zM342.6 308.1h1.1v1.1h-1.1zM342.5 323.7h1.1v1.1h-1.1zM345.3 322.0h1.1v1.1h-1.1zM342.4 297.6h1.1v1.1h-1.1zM346.0 322.7h1.1v1.1h-1.1zM348.9 319.7h1.1v1.1h-1.1zM347.0 324.3h1.1v1.1h-1.1zM351.4 320.5h1.1v1.1h-1.1zM343.1 310.8h1.1v1.1h-1.1zM348.8 322.5h1.1v1.1h-1.1zM342.9 319.9h1.1v1.1h-1.1zM346.3 319.8h1.1v1.1h-1.1zM349.6 315.0h1.1v1.1h-1.1zM347.1 323.6h1.1v1.1h-1.1zM349.1 321.3h1.1v1.1h-1.1zM345.4 324.2h1.1v1.1h-1.1zM349.7 321.4h1.1v1.1h-1.1zM349.3 297.1h1.1v1.1h-1.1zM347.6 323.3h1.1v1.1h-1.1zM348.5 324.7h1.1v1.1h-1.1zM342.3 322.0h1.1v1.1h-1.1zM350.5 323.7h1.1v1.1h-1.1zM346.2 315.6h1.1v1.1h-1.1zM343.0 322.8h1.1v1.1h-1.1zM346.2 318.1h1.1v1.1h-1.1zM342.2 321.2h1.1v1.1h-1.1zM349.5 311.9h1.1v1.1h-1.1zM347.6 324.1h1.1v1.1h-1.1zM342.8 323.4h1.1v1.1h-1.1zM344.6 325.2h1.1v1.1h-1.1zM342.7 313.6h1.1v1.1h-1.1zM348.2 314.8h1.1v1.1h-1.1zM350.1 324.3h1.1v1.1h-1.1zM342.6 323.8h1.1v1.1h-1.1zM347.0 311.1h1.1v1.1h-1.1zM348.9 318.8h1.1v1.1h-1.1zM347.2 324.2h1.1v1.1h-1.1zM346.8 289.7h1.1v1.1h-1.1zM349.2 323.7h1.1v1.1h-1.1zM350.7 325.1h1.1v1.1h-1.1zM342.2 319.3h1.1v1.1h-1.1zM347.8 317.6h1.1v1.1h-1.1zM347.9 320.9h1.1v1.1h-1.1zM344.0 322.9h1.1v1.1h-1.1zM350.5 325.4h1.1v1.1h-1.1zM344.7 324.7h1.1v1.1h-1.1zM347.2 315.3h1.1v1.1h-1.1zM345.3 318.7h1.1v1.1h-1.1zM350.9 324.1h1.1v1.1h-1.1zM345.4 317.9h1.1v1.1h-1.1zM347.4 323.2h1.1v1.1h-1.1zM343.5 317.2h1.1v1.1h-1.1zM349.8 324.2h1.1v1.1h-1.1zM347.3 321.0h1.1v1.1h-1.1zM346.6 314.3h1.1v1.1h-1.1zM345.4 322.2h1.1v1.1h-1.1zM348.8 301.3h1.1v1.1h-1.1zM351.4 320.2h1.1v1.1h-1.1zM349.1 294.2h1.1v1.1h-1.1zM350.7 315.9h1.1v1.1h-1.1zM349.2 317.2h1.1v1.1h-1.1zM348.6 316.1h1.1v1.1h-1.1zM351.4 319.1h1.1v1.1h-1.1zM349.0 319.5h1.1v1.1h-1.1zM343.6 323.3h1.1v1.1h-1.1zM344.8 314.3h1.1v1.1h-1.1zM351.1 317.6h1.1v1.1h-1.1zM349.6 320.9h1.1v1.1h-1.1zM347.3 324.1h1.1v1.1h-1.1zM348.2 308.5h1.1v1.1h-1.1zM351.2 323.7h1.1v1.1h-1.1zM349.4 322.3h1.1v1.1h-1.1zM344.7 323.8h1.1v1.1h-1.1zM343.2 315.1h1.1v1.1h-1.1zM344.2 321.8h1.1v1.1h-1.1zM344.9 292.4h1.1v1.1h-1.1zM344.5 315.6h1.1v1.1h-1.1zM342.9 316.3h1.1v1.1h-1.1zM349.8 304.2h1.1v1.1h-1.1zM349.7 320.7h1.1v1.1h-1.1zM344.1 321.7h1.1v1.1h-1.1zM351.1 305.8h1.1v1.1h-1.1zM345.5 312.7h1.1v1.1h-1.1zM349.6 321.7h1.1v1.1h-1.1zM351.5 309.8h1.1v1.1h-1.1zM346.5 322.2h1.1v1.1h-1.1zM350.5 323.5h1.1v1.1h-1.1zM343.8 321.0h1.1v1.1h-1.1zM351.6 312.3h1.1v1.1h-1.1zM349.6 319.4h1.1v1.1h-1.1zM351.2 323.1h1.1v1.1h-1.1zM344.7 321.7h1.1v1.1h-1.1zM350.3 313.7h1.1v1.1h-1.1zM345.8 325.0h1.1v1.1h-1.1zM349.3 316.3h1.1v1.1h-1.1zM343.7 310.4h1.1v1.1h-1.1zM350.6 321.9h1.1v1.1h-1.1zM350.6 311.9h1.1v1.1h-1.1zM351.7 321.5h1.1v1.1h-1.1zM346.5 288.4h1.1v1.1h-1.1zM345.1 322.2h1.1v1.1h-1.1zM344.6 320.0h1.1v1.1h-1.1zM343.5 314.6h1.1v1.1h-1.1zM343.1 313.4h1.1v1.1h-1.1zM349.3 320.3h1.1v1.1h-1.1zM348.7 325.4h1.1v1.1h-1.1zM344.4 301.7h1.1v1.1h-1.1zM351.5 322.5h1.1v1.1h-1.1zM348.9 324.3h1.1v1.1h-1.1zM346.1 320.8h1.1v1.1h-1.1zM345.2 316.1h1.1v1.1h-1.1zM344.9 318.9h1.1v1.1h-1.1zM347.0 297.4h1.1v1.1h-1.1zM343.7 323.6h1.1v1.1h-1.1zM345.5 310.8h1.1v1.1h-1.1zM347.6 321.4h1.1v1.1h-1.1zM350.4 307.3h1.1v1.1h-1.1zM349.3 320.6h1.1v1.1h-1.1zM350.2 320.8h1.1v1.1h-1.1zM347.7 315.8h1.1v1.1h-1.1zM343.8 321.8h1.1v1.1h-1.1zM350.4 324.1h1.1v1.1h-1.1zM347.1 324.1h1.1v1.1h-1.1zM342.9 323.3h1.1v1.1h-1.1zM346.1 321.8h1.1v1.1h-1.1zM344.3 315.9h1.1v1.1h-1.1zM345.7 305.8h1.1v1.1h-1.1zM350.2 313.6h1.1v1.1h-1.1zM343.1 320.0h1.1v1.1h-1.1zM351.2 324.8h1.1v1.1h-1.1zM348.3 320.7h1.1v1.1h-1.1zM350.3 301.1h1.1v1.1h-1.1zM350.2 317.1h1.1v1.1h-1.1zM349.3 317.9h1.1v1.1h-1.1zM346.2 324.7h1.1v1.1h-1.1zM346.6 315.7h1.1v1.1h-1.1zM346.9 318.9h1.1v1.1h-1.1zM346.2 312.4h1.1v1.1h-1.1zM349.4 320.5h1.1v1.1h-1.1zM343.7 321.5h1.1v1.1h-1.1zM346.7 312.6h1.1v1.1h-1.1zM346.3 313.8h1.1v1.1h-1.1zM343.8 310.5h1.1v1.1h-1.1zM345.1 320.9h1.1v1.1h-1.1zM351.5 306.8h1.1v1.1h-1.1zM348.7 312.1h1.1v1.1h-1.1zM344.4 321.3h1.1v1.1h-1.1zM351.1 314.1h1.1v1.1h-1.1zM344.3 302.5h1.1v1.1h-1.1zM343.4 322.4h1.1v1.1h-1.1zM344.0 306.9h1.1v1.1h-1.1zM344.6 323.9h1.1v1.1h-1.1zM346.8 320.1h1.1v1.1h-1.1zM349.6 321.3h1.1v1.1h-1.1zM347.7 311.8h1.1v1.1h-1.1zM351.4 323.8h1.1v1.1h-1.1zM351.4 317.8h1.1v1.1h-1.1zM346.2 309.1h1.1v1.1h-1.1zM347.0 324.1h1.1v1.1h-1.1zM343.7 299.0h1.1v1.1h-1.1zM343.3 296.8h1.1v1.1h-1.1zM349.2 321.9h1.1v1.1h-1.1zM344.9 321.9h1.1v1.1h-1.1zM343.3 320.8h1.1v1.1h-1.1zM347.0 324.3h1.1v1.1h-1.1zM343.2 320.6h1.1v1.1h-1.1zM345.6 320.7h1.1v1.1h-1.1zM345.9 323.5h1.1v1.1h-1.1zM348.5 322.7h1.1v1.1h-1.1zM346.5 320.2h1.1v1.1h-1.1zM351.1 313.8h1.1v1.1h-1.1zM344.2 321.8h1.1v1.1h-1.1zM347.1 319.1h1.1v1.1h-1.1zM347.2 305.1h1.1v1.1h-1.1zM344.3 321.4h1.1v1.1h-1.1zM351.6 323.9h1.1v1.1h-1.1zM345.6 297.6h1.1v1.1h-1.1zM349.1 323.7h1.1v1.1h-1.1zM344.7 324.2h1.1v1.1h-1.1zM346.7 319.9h1.1v1.1h-1.1zM344.2 312.4h1.1v1.1h-1.1zM345.6 283.6h1.1v1.1h-1.1zM346.8 317.1h1.1v1.1h-1.1zM348.4 322.8h1.1v1.1h-1.1zM349.9 277.5h1.1v1.1h-1.1zM346.2 319.2h1.1v1.1h-1.1zM344.4 299.3h1.1v1.1h-1.1zM351.3 321.7h1.1v1.1h-1.1zM343.4 322.0h1.1v1.1h-1.1zM343.3 318.0h1.1v1.1h-1.1zM349.5 323.8h1.1v1.1h-1.1zM344.1 300.7h1.1v1.1h-1.1zM344.6 313.2h1.1v1.1h-1.1zM350.4 317.9h1.1v1.1h-1.1zM349.7 319.9h1.1v1.1h-1.1zM344.7 324.9h1.1v1.1h-1.1zM346.1 315.9h1.1v1.1h-1.1zM347.0 323.2h1.1v1.1h-1.1zM346.7 316.7h1.1v1.1h-1.1zM345.6 321.9h1.1v1.1h-1.1zM346.2 324.8h1.1v1.1h-1.1zM342.6 322.6h1.1v1.1h-1.1zM342.4 321.4h1.1v1.1h-1.1zM343.0 320.1h1.1v1.1h-1.1zM349.3 322.7h1.1v1.1h-1.1zM343.3 322.5h1.1v1.1h-1.1zM350.8 323.7h1.1v1.1h-1.1zM349.2 320.1h1.1v1.1h-1.1zM344.2 316.9h1.1v1.1h-1.1zM346.3 287.6h1.1v1.1h-1.1zM349.5 322.1h1.1v1.1h-1.1zM345.1 313.8h1.1v1.1h-1.1zM343.8 308.2h1.1v1.1h-1.1zM347.3 322.3h1.1v1.1h-1.1zM349.6 325.4h1.1v1.1h-1.1zM348.9 323.1h1.1v1.1h-1.1zM348.5 315.9h1.1v1.1h-1.1zM348.6 315.4h1.1v1.1h-1.1zM346.9 320.1h1.1v1.1h-1.1zM351.0 316.4h1.1v1.1h-1.1zM343.2 314.9h1.1v1.1h-1.1zM347.4 318.2h1.1v1.1h-1.1zM351.3 320.3h1.1v1.1h-1.1zM343.4 308.1h1.1v1.1h-1.1zM343.1 321.7h1.1v1.1h-1.1zM348.1 308.2h1.1v1.1h-1.1zM351.3 324.2h1.1v1.1h-1.1zM345.9 324.7h1.1v1.1h-1.1zM342.0 322.4h1.1v1.1h-1.1zM342.5 312.9h1.1v1.1h-1.1zM349.9 322.9h1.1v1.1h-1.1zM350.0 316.7h1.1v1.1h-1.1zM348.7 316.5h1.1v1.1h-1.1zM345.5 294.9h1.1v1.1h-1.1zM345.6 323.3h1.1v1.1h-1.1zM350.3 312.1h1.1v1.1h-1.1zM346.2 303.5h1.1v1.1h-1.1zM348.3 310.2h1.1v1.1h-1.1zM346.8 325.7h1.1v1.1h-1.1zM345.5 322.7h1.1v1.1h-1.1zM346.9 324.0h1.1v1.1h-1.1zM342.8 317.3h1.1v1.1h-1.1zM351.3 322.9h1.1v1.1h-1.1zM344.8 318.5h1.1v1.1h-1.1zM351.4 316.5h1.1v1.1h-1.1zM349.0 324.9h1.1v1.1h-1.1zM349.9 322.9h1.1v1.1h-1.1zM348.3 317.4h1.1v1.1h-1.1zM349.5 320.1h1.1v1.1h-1.1zM345.6 319.3h1.1v1.1h-1.1zM350.8 323.7h1.1v1.1h-1.1zM348.9 319.4h1.1v1.1h-1.1zM342.7 323.6h1.1v1.1h-1.1zM343.3 319.7h1.1v1.1h-1.1zM347.8 323.4h1.1v1.1h-1.1zM344.2 324.3h1.1v1.1h-1.1zM350.3 321.9h1.1v1.1h-1.1zM351.5 321.0h1.1v1.1h-1.1zM344.4 321.3h1.1v1.1h-1.1zM347.6 307.6h1.1v1.1h-1.1zM343.1 314.8h1.1v1.1h-1.1zM350.4 319.1h1.1v1.1h-1.1zM343.7 312.5h1.1v1.1h-1.1zM345.4 320.1h1.1v1.1h-1.1zM342.7 319.3h1.1v1.1h-1.1zM344.1 323.9h1.1v1.1h-1.1zM345.5 318.6h1.1v1.1h-1.1zM350.9 324.6h1.1v1.1h-1.1zM343.2 322.5h1.1v1.1h-1.1zM343.4 314.0h1.1v1.1h-1.1zM345.2 323.0h1.1v1.1h-1.1zM342.1 320.2h1.1v1.1h-1.1zM344.4 291.4h1.1v1.1h-1.1zM350.4 323.0h1.1v1.1h-1.1zM342.9 321.2h1.1v1.1h-1.1zM350.4 307.1h1.1v1.1h-1.1zM346.8 323.0h1.1v1.1h-1.1zM345.7 298.2h1.1v1.1h-1.1zM347.5 316.1h1.1v1.1h-1.1zM344.3 320.4h1.1v1.1h-1.1zM345.1 322.6h1.1v1.1h-1.1zM348.3 311.6h1.1v1.1h-1.1zM345.2 298.1h1.1v1.1h-1.1zM345.0 320.7h1.1v1.1h-1.1zM349.4 324.9h1.1v1.1h-1.1zM349.9 320.7h1.1v1.1h-1.1zM342.2 324.9h1.1v1.1h-1.1zM346.2 323.5h1.1v1.1h-1.1zM351.5 316.3h1.1v1.1h-1.1zM345.9 324.9h1.1v1.1h-1.1zM346.0 324.1h1.1v1.1h-1.1zM350.0 321.8h1.1v1.1h-1.1zM349.0 305.4h1.1v1.1h-1.1zM342.0 313.1h1.1v1.1h-1.1zM344.7 319.8h1.1v1.1h-1.1zM343.3 319.3h1.1v1.1h-1.1zM343.9 315.5h1.1v1.1h-1.1zM349.7 318.5h1.1v1.1h-1.1zM350.1 321.0h1.1v1.1h-1.1zM350.6 319.5h1.1v1.1h-1.1zM351.5 322.6h1.1v1.1h-1.1zM345.0 314.5h1.1v1.1h-1.1zM349.7 325.3h1.1v1.1h-1.1zM347.4 321.3h1.1v1.1h-1.1zM343.1 320.0h1.1v1.1h-1.1zM347.1 309.4h1.1v1.1h-1.1zM350.4 324.0h1.1v1.1h-1.1zM347.6 315.2h1.1v1.1h-1.1zM349.5 322.0h1.1v1.1h-1.1zM351.4 315.4h1.1v1.1h-1.1zM346.4 319.2h1.1v1.1h-1.1zM350.8 310.8h1.1v1.1h-1.1zM350.9 322.6h1.1v1.1h-1.1zM350.4 322.0h1.1v1.1h-1.1zM347.3 325.0h1.1v1.1h-1.1zM350.9 323.1h1.1v1.1h-1.1zM350.2 302.5h1.1v1.1h-1.1zM349.2 323.0h1.1v1.1h-1.1zM343.3 322.5h1.1v1.1h-1.1zM344.6 312.2h1.1v1.1h-1.1zM349.5 308.1h1.1v1.1h-1.1zM351.6 320.8h1.1v1.1h-1.1zM344.2 323.5h1.1v1.1h-1.1zM342.4 324.5h1.1v1.1h-1.1zM346.5 316.3h1.1v1.1h-1.1zM350.9 325.2h1.1v1.1h-1.1zM343.8 323.4h1.1v1.1h-1.1zM344.2 320.2h1.1v1.1h-1.1zM342.6 313.1h1.1v1.1h-1.1zM342.3 324.2h1.1v1.1h-1.1zM350.9 323.8h1.1v1.1h-1.1zM345.9 323.8h1.1v1.1h-1.1zM350.4 324.1h1.1v1.1h-1.1zM347.3 318.7h1.1v1.1h-1.1zM350.7 323.7h1.1v1.1h-1.1zM342.2 321.7h1.1v1.1h-1.1zM350.3 321.5h1.1v1.1h-1.1zM347.5 321.8h1.1v1.1h-1.1zM346.4 324.0h1.1v1.1h-1.1zM342.5 305.6h1.1v1.1h-1.1zM344.2 316.6h1.1v1.1h-1.1zM348.2 323.8h1.1v1.1h-1.1zM349.9 319.5h1.1v1.1h-1.1zM347.6 324.1h1.1v1.1h-1.1zM348.7 317.9h1.1v1.1h-1.1zM350.3 319.7h1.1v1.1h-1.1zM345.5 313.1h1.1v1.1h-1.1zM347.6 325.1h1.1v1.1h-1.1zM350.9 322.2h1.1v1.1h-1.1zM346.7 323.4h1.1v1.1h-1.1zM346.2 319.7h1.1v1.1h-1.1zM350.3 325.1h1.1v1.1h-1.1zM346.2 324.3h1.1v1.1h-1.1zM342.7 321.2h1.1v1.1h-1.1zM350.0 318.1h1.1v1.1h-1.1zM351.6 324.6h1.1v1.1h-1.1zM347.5 319.0h1.1v1.1h-1.1zM344.0 315.4h1.1v1.1h-1.1zM349.3 323.5h1.1v1.1h-1.1zM350.1 322.5h1.1v1.1h-1.1zM350.9 318.6h1.1v1.1h-1.1zM349.0 319.3h1.1v1.1h-1.1zM345.8 302.5h1.1v1.1h-1.1zM342.4 325.0h1.1v1.1h-1.1zM344.6 310.8h1.1v1.1h-1.1zM349.9 323.1h1.1v1.1h-1.1zM351.4 321.1h1.1v1.1h-1.1zM351.5 323.7h1.1v1.1h-1.1zM348.2 316.0h1.1v1.1h-1.1zM348.2 323.1h1.1v1.1h-1.1zM346.0 323.3h1.1v1.1h-1.1zM350.8 320.2h1.1v1.1h-1.1zM347.9 322.4h1.1v1.1h-1.1zM349.5 310.4h1.1v1.1h-1.1zM345.8 322.1h1.1v1.1h-1.1zM344.5 316.3h1.1v1.1h-1.1zM351.2 320.9h1.1v1.1h-1.1zM349.8 318.3h1.1v1.1h-1.1zM350.3 317.5h1.1v1.1h-1.1zM344.3 321.4h1.1v1.1h-1.1zM348.7 323.1h1.1v1.1h-1.1zM346.2 317.5h1.1v1.1h-1.1zM342.3 321.7h1.1v1.1h-1.1zM350.2 318.0h1.1v1.1h-1.1zM348.6 320.8h1.1v1.1h-1.1zM349.6 318.2h1.1v1.1h-1.1zM346.2 311.6h1.1v1.1h-1.1zM345.7 297.8h1.1v1.1h-1.1zM342.8 318.1h1.1v1.1h-1.1zM347.9 308.3h1.1v1.1h-1.1zM344.9 319.8h1.1v1.1h-1.1zM348.0 317.4h1.1v1.1h-1.1zM345.3 324.5h1.1v1.1h-1.1zM346.9 293.4h1.1v1.1h-1.1zM344.7 322.9h1.1v1.1h-1.1zM343.7 319.1h1.1v1.1h-1.1zM349.8 324.6h1.1v1.1h-1.1zM345.9 310.1h1.1v1.1h-1.1zM350.6 314.9h1.1v1.1h-1.1zM349.7 323.3h1.1v1.1h-1.1zM346.0 325.0h1.1v1.1h-1.1zM347.2 322.6h1.1v1.1h-1.1zM344.2 321.8h1.1v1.1h-1.1zM342.8 320.8h1.1v1.1h-1.1zM350.3 322.5h1.1v1.1h-1.1zM342.7 320.9h1.1v1.1h-1.1zM349.1 317.8h1.1v1.1h-1.1zM348.7 312.9h1.1v1.1h-1.1zM350.8 322.0h1.1v1.1h-1.1zM350.6 311.8h1.1v1.1h-1.1zM350.0 314.0h1.1v1.1h-1.1zM344.5 320.0h1.1v1.1h-1.1zM347.9 311.5h1.1v1.1h-1.1zM349.2 323.2h1.1v1.1h-1.1zM342.9 284.7h1.1v1.1h-1.1zM348.8 324.2h1.1v1.1h-1.1zM346.4 323.1h1.1v1.1h-1.1zM345.5 315.3h1.1v1.1h-1.1zM342.1 323.3h1.1v1.1h-1.1zM347.9 309.2h1.1v1.1h-1.1zM347.4 319.9h1.1v1.1h-1.1zM345.7 318.2h1.1v1.1h-1.1zM345.7 321.8h1.1v1.1h-1.1zM342.8 311.9h1.1v1.1h-1.1zM348.6 323.4h1.1v1.1h-1.1zM351.6 320.0h1.1v1.1h-1.1zM344.4 317.2h1.1v1.1h-1.1zM345.4 306.1h1.1v1.1h-1.1zM346.6 306.4h1.1v1.1h-1.1zM351.1 318.3h1.1v1.1h-1.1zM351.1 324.8h1.1v1.1h-1.1zM348.8 317.1h1.1v1.1h-1.1zM342.6 322.5h1.1v1.1h-1.1zM349.4 319.7h1.1v1.1h-1.1zM342.1 312.3h1.1v1.1h-1.1zM342.3 314.4h1.1v1.1h-1.1zM348.5 295.2h1.1v1.1h-1.1zM347.3 309.6h1.1v1.1h-1.1zM349.8 298.3h1.1v1.1h-1.1zM350.9 316.5h1.1v1.1h-1.1zM344.8 309.2h1.1v1.1h-1.1zM343.3 320.4h1.1v1.1h-1.1zM351.4 325.2h1.1v1.1h-1.1zM350.3 322.4h1.1v1.1h-1.1zM345.3 322.3h1.1v1.1h-1.1zM344.8 309.4h1.1v1.1h-1.1zM345.2 320.8h1.1v1.1h-1.1zM344.3 221.1h1.1v1.1h-1.1zM347.3 234.6h1.1v1.1h-1.1zM346.4 240.6h1.1v1.1h-1.1zM345.3 247.0h1.1v1.1h-1.1zM347.9 255.9h1.1v1.1h-1.1z" fill="#25A2A8" stroke="#062E32" stroke-width="0.32" stroke-opacity="0.78"/>
<rect x="339.3" y="317.3" width="16.7" height="6.2" fill="#3CC2C4" fill-opacity="0.72" stroke="#222" stroke-width="0.6"/>
<line x1="339.3" x2="356" y1="321.1" y2="321.1" stroke="#111" stroke-width="1.1"/>
<line x1="384.2" x2="384.2" y1="333.3" y2="336.5" stroke="#777" stroke-width="0.7"/>
<text x="384.20" y="348.80" font-size="8.6" text-anchor="middle" fill="#222" textLength="11.2" lengthAdjust="spacingAndGlyphs" >AD</text>
<path d="M380.4 312.9h1.1v1.1h-1.1zM385.7 309.0h1.1v1.1h-1.1zM384.8 323.0h1.1v1.1h-1.1zM384.3 322.6h1.1v1.1h-1.1zM384.8 307.8h1.1v1.1h-1.1zM383.8 317.7h1.1v1.1h-1.1zM382.4 307.8h1.1v1.1h-1.1zM381.0 323.9h1.1v1.1h-1.1zM385.5 306.4h1.1v1.1h-1.1zM384.7 305.5h1.1v1.1h-1.1zM380.9 323.8h1.1v1.1h-1.1zM383.9 317.0h1.1v1.1h-1.1zM384.9 312.6h1.1v1.1h-1.1zM385.3 309.1h1.1v1.1h-1.1zM382.0 319.8h1.1v1.1h-1.1zM385.5 316.8h1.1v1.1h-1.1zM383.0 324.7h1.1v1.1h-1.1zM382.7 320.5h1.1v1.1h-1.1zM380.8 316.3h1.1v1.1h-1.1zM384.5 321.5h1.1v1.1h-1.1zM384.2 322.9h1.1v1.1h-1.1zM383.1 323.1h1.1v1.1h-1.1zM386.8 323.7h1.1v1.1h-1.1zM385.0 324.9h1.1v1.1h-1.1zM383.1 325.4h1.1v1.1h-1.1zM384.9 316.7h1.1v1.1h-1.1zM382.6 310.2h1.1v1.1h-1.1zM386.0 323.8h1.1v1.1h-1.1zM384.9 324.9h1.1v1.1h-1.1zM384.0 324.2h1.1v1.1h-1.1zM382.7 307.4h1.1v1.1h-1.1zM387.9 320.9h1.1v1.1h-1.1zM379.5 315.6h1.1v1.1h-1.1zM387.2 321.0h1.1v1.1h-1.1zM381.2 314.0h1.1v1.1h-1.1zM385.5 322.7h1.1v1.1h-1.1zM383.1 314.9h1.1v1.1h-1.1zM385.2 321.2h1.1v1.1h-1.1zM380.2 318.7h1.1v1.1h-1.1zM383.5 310.4h1.1v1.1h-1.1zM382.6 319.6h1.1v1.1h-1.1zM380.2 317.1h1.1v1.1h-1.1zM382.8 317.0h1.1v1.1h-1.1zM381.9 317.3h1.1v1.1h-1.1zM381.1 320.6h1.1v1.1h-1.1zM380.6 323.7h1.1v1.1h-1.1zM380.7 322.1h1.1v1.1h-1.1zM383.3 299.8h1.1v1.1h-1.1zM383.3 314.8h1.1v1.1h-1.1zM387.0 324.8h1.1v1.1h-1.1zM379.7 322.0h1.1v1.1h-1.1zM380.4 322.4h1.1v1.1h-1.1zM387.0 318.3h1.1v1.1h-1.1zM388.2 323.5h1.1v1.1h-1.1zM378.8 310.8h1.1v1.1h-1.1zM381.5 322.3h1.1v1.1h-1.1zM385.6 318.1h1.1v1.1h-1.1zM387.8 303.3h1.1v1.1h-1.1zM385.0 322.8h1.1v1.1h-1.1zM383.4 325.4h1.1v1.1h-1.1zM386.4 317.0h1.1v1.1h-1.1zM385.9 322.8h1.1v1.1h-1.1zM380.6 318.4h1.1v1.1h-1.1zM388.1 321.2h1.1v1.1h-1.1zM384.6 314.5h1.1v1.1h-1.1zM383.5 312.6h1.1v1.1h-1.1zM382.3 293.5h1.1v1.1h-1.1zM380.1 324.8h1.1v1.1h-1.1zM381.2 311.4h1.1v1.1h-1.1zM380.1 322.4h1.1v1.1h-1.1zM381.5 305.3h1.1v1.1h-1.1zM384.2 319.5h1.1v1.1h-1.1zM388.1 310.3h1.1v1.1h-1.1zM379.4 322.3h1.1v1.1h-1.1zM388.1 319.4h1.1v1.1h-1.1zM379.1 324.7h1.1v1.1h-1.1zM384.6 324.1h1.1v1.1h-1.1zM383.4 320.2h1.1v1.1h-1.1zM387.4 321.4h1.1v1.1h-1.1zM385.3 282.1h1.1v1.1h-1.1zM379.5 307.0h1.1v1.1h-1.1zM385.6 321.5h1.1v1.1h-1.1zM385.1 305.4h1.1v1.1h-1.1zM380.8 310.3h1.1v1.1h-1.1zM380.5 318.6h1.1v1.1h-1.1zM388.3 317.9h1.1v1.1h-1.1zM380.1 318.0h1.1v1.1h-1.1zM382.3 285.3h1.1v1.1h-1.1zM388.2 323.4h1.1v1.1h-1.1zM381.1 318.9h1.1v1.1h-1.1zM379.8 322.7h1.1v1.1h-1.1zM385.5 319.5h1.1v1.1h-1.1zM385.5 322.6h1.1v1.1h-1.1zM379.6 310.9h1.1v1.1h-1.1zM388.5 303.0h1.1v1.1h-1.1zM378.9 316.2h1.1v1.1h-1.1zM386.9 325.7h1.1v1.1h-1.1zM388.4 311.2h1.1v1.1h-1.1zM379.3 325.5h1.1v1.1h-1.1zM383.4 322.1h1.1v1.1h-1.1zM383.1 315.6h1.1v1.1h-1.1zM383.2 323.1h1.1v1.1h-1.1zM388.3 324.2h1.1v1.1h-1.1zM381.0 306.5h1.1v1.1h-1.1zM386.0 323.1h1.1v1.1h-1.1zM386.7 298.7h1.1v1.1h-1.1zM387.0 323.4h1.1v1.1h-1.1zM385.0 325.1h1.1v1.1h-1.1zM387.2 320.4h1.1v1.1h-1.1zM387.2 317.1h1.1v1.1h-1.1zM386.0 315.3h1.1v1.1h-1.1zM387.9 322.1h1.1v1.1h-1.1zM380.5 319.6h1.1v1.1h-1.1zM380.9 318.6h1.1v1.1h-1.1zM386.8 323.1h1.1v1.1h-1.1zM385.5 324.7h1.1v1.1h-1.1zM383.1 321.6h1.1v1.1h-1.1zM381.2 303.7h1.1v1.1h-1.1zM384.5 323.0h1.1v1.1h-1.1zM386.7 316.5h1.1v1.1h-1.1zM378.8 312.1h1.1v1.1h-1.1zM381.5 323.7h1.1v1.1h-1.1zM379.4 321.1h1.1v1.1h-1.1zM379.7 323.3h1.1v1.1h-1.1zM382.7 320.6h1.1v1.1h-1.1zM386.4 320.8h1.1v1.1h-1.1zM379.6 321.7h1.1v1.1h-1.1zM387.2 323.5h1.1v1.1h-1.1zM387.5 318.8h1.1v1.1h-1.1zM381.9 320.3h1.1v1.1h-1.1zM386.8 323.2h1.1v1.1h-1.1zM385.8 324.4h1.1v1.1h-1.1zM380.6 320.4h1.1v1.1h-1.1zM382.0 324.9h1.1v1.1h-1.1zM387.1 298.1h1.1v1.1h-1.1zM383.7 319.3h1.1v1.1h-1.1zM381.5 319.1h1.1v1.1h-1.1zM379.1 324.4h1.1v1.1h-1.1zM383.6 323.5h1.1v1.1h-1.1zM387.0 324.5h1.1v1.1h-1.1zM387.4 300.4h1.1v1.1h-1.1zM384.8 320.2h1.1v1.1h-1.1zM384.1 323.4h1.1v1.1h-1.1zM385.1 322.4h1.1v1.1h-1.1zM387.5 315.3h1.1v1.1h-1.1zM380.3 319.6h1.1v1.1h-1.1zM382.3 311.5h1.1v1.1h-1.1zM385.1 321.5h1.1v1.1h-1.1zM382.1 318.0h1.1v1.1h-1.1zM385.9 318.2h1.1v1.1h-1.1zM388.4 322.8h1.1v1.1h-1.1zM388.3 316.6h1.1v1.1h-1.1zM382.7 312.7h1.1v1.1h-1.1zM386.9 321.3h1.1v1.1h-1.1zM381.9 316.2h1.1v1.1h-1.1zM380.5 311.6h1.1v1.1h-1.1zM388.5 323.3h1.1v1.1h-1.1zM384.6 304.8h1.1v1.1h-1.1zM386.1 323.5h1.1v1.1h-1.1zM381.1 315.1h1.1v1.1h-1.1zM386.2 321.0h1.1v1.1h-1.1zM386.9 325.4h1.1v1.1h-1.1zM383.9 303.0h1.1v1.1h-1.1zM384.6 313.9h1.1v1.1h-1.1zM384.4 308.2h1.1v1.1h-1.1zM387.5 318.6h1.1v1.1h-1.1zM384.6 323.9h1.1v1.1h-1.1zM380.4 310.8h1.1v1.1h-1.1zM387.6 300.0h1.1v1.1h-1.1zM380.7 315.5h1.1v1.1h-1.1zM385.6 321.3h1.1v1.1h-1.1zM386.1 323.4h1.1v1.1h-1.1zM382.0 318.2h1.1v1.1h-1.1zM387.3 312.4h1.1v1.1h-1.1zM388.2 311.6h1.1v1.1h-1.1zM381.9 305.7h1.1v1.1h-1.1zM388.3 310.3h1.1v1.1h-1.1zM382.0 321.6h1.1v1.1h-1.1zM383.8 318.0h1.1v1.1h-1.1zM382.0 313.5h1.1v1.1h-1.1zM386.0 300.9h1.1v1.1h-1.1zM385.2 319.1h1.1v1.1h-1.1zM380.8 308.2h1.1v1.1h-1.1zM382.6 322.0h1.1v1.1h-1.1zM382.4 292.1h1.1v1.1h-1.1zM387.2 323.9h1.1v1.1h-1.1zM384.3 323.7h1.1v1.1h-1.1zM387.8 306.0h1.1v1.1h-1.1zM387.8 324.7h1.1v1.1h-1.1zM382.6 322.3h1.1v1.1h-1.1zM379.8 324.4h1.1v1.1h-1.1zM382.1 311.8h1.1v1.1h-1.1zM384.1 322.1h1.1v1.1h-1.1zM379.9 319.5h1.1v1.1h-1.1zM386.4 325.0h1.1v1.1h-1.1zM388.0 323.6h1.1v1.1h-1.1zM384.5 325.0h1.1v1.1h-1.1zM387.1 323.4h1.1v1.1h-1.1zM380.0 311.1h1.1v1.1h-1.1zM386.1 320.2h1.1v1.1h-1.1zM383.3 287.2h1.1v1.1h-1.1zM383.2 323.2h1.1v1.1h-1.1zM381.4 304.1h1.1v1.1h-1.1zM379.9 304.2h1.1v1.1h-1.1zM382.9 292.1h1.1v1.1h-1.1zM386.5 304.2h1.1v1.1h-1.1zM386.1 310.1h1.1v1.1h-1.1zM386.3 316.4h1.1v1.1h-1.1zM386.7 317.0h1.1v1.1h-1.1zM387.7 309.7h1.1v1.1h-1.1zM387.5 309.1h1.1v1.1h-1.1zM384.8 313.9h1.1v1.1h-1.1zM383.6 318.8h1.1v1.1h-1.1zM378.9 323.2h1.1v1.1h-1.1zM380.5 317.3h1.1v1.1h-1.1zM388.0 324.1h1.1v1.1h-1.1zM385.9 319.5h1.1v1.1h-1.1zM379.5 318.3h1.1v1.1h-1.1zM379.0 321.4h1.1v1.1h-1.1zM386.0 322.0h1.1v1.1h-1.1zM385.7 323.8h1.1v1.1h-1.1zM385.8 323.5h1.1v1.1h-1.1zM384.6 316.6h1.1v1.1h-1.1zM387.2 311.4h1.1v1.1h-1.1zM386.8 322.8h1.1v1.1h-1.1zM387.0 323.4h1.1v1.1h-1.1zM378.8 319.9h1.1v1.1h-1.1zM387.3 315.0h1.1v1.1h-1.1zM383.9 317.8h1.1v1.1h-1.1zM385.2 306.1h1.1v1.1h-1.1zM380.4 304.7h1.1v1.1h-1.1zM383.0 322.4h1.1v1.1h-1.1zM386.0 317.3h1.1v1.1h-1.1zM385.1 312.0h1.1v1.1h-1.1zM388.5 324.3h1.1v1.1h-1.1zM381.2 324.4h1.1v1.1h-1.1zM379.0 321.9h1.1v1.1h-1.1zM388.5 324.3h1.1v1.1h-1.1zM381.0 324.0h1.1v1.1h-1.1zM382.9 312.1h1.1v1.1h-1.1zM379.8 289.5h1.1v1.1h-1.1zM380.1 294.7h1.1v1.1h-1.1zM381.9 320.9h1.1v1.1h-1.1zM388.0 324.2h1.1v1.1h-1.1zM385.7 321.6h1.1v1.1h-1.1zM387.9 323.7h1.1v1.1h-1.1zM386.3 314.7h1.1v1.1h-1.1zM380.9 322.8h1.1v1.1h-1.1zM386.0 325.4h1.1v1.1h-1.1zM382.8 284.8h1.1v1.1h-1.1zM385.7 323.7h1.1v1.1h-1.1zM383.9 321.3h1.1v1.1h-1.1zM387.4 323.6h1.1v1.1h-1.1zM386.7 317.9h1.1v1.1h-1.1zM387.6 319.6h1.1v1.1h-1.1zM385.9 310.5h1.1v1.1h-1.1zM380.7 323.9h1.1v1.1h-1.1zM384.3 323.2h1.1v1.1h-1.1zM382.8 320.0h1.1v1.1h-1.1zM383.0 323.8h1.1v1.1h-1.1zM386.8 322.4h1.1v1.1h-1.1zM379.4 321.8h1.1v1.1h-1.1zM381.2 318.8h1.1v1.1h-1.1zM381.2 324.0h1.1v1.1h-1.1zM388.5 320.3h1.1v1.1h-1.1zM381.5 315.5h1.1v1.1h-1.1zM388.3 306.4h1.1v1.1h-1.1zM381.6 313.9h1.1v1.1h-1.1zM381.9 319.0h1.1v1.1h-1.1zM383.3 305.4h1.1v1.1h-1.1zM382.4 325.7h1.1v1.1h-1.1zM382.3 324.6h1.1v1.1h-1.1zM387.3 321.6h1.1v1.1h-1.1zM383.0 324.1h1.1v1.1h-1.1zM384.7 323.1h1.1v1.1h-1.1zM383.5 323.4h1.1v1.1h-1.1zM382.6 318.2h1.1v1.1h-1.1zM388.5 316.8h1.1v1.1h-1.1zM383.1 324.0h1.1v1.1h-1.1zM386.4 320.3h1.1v1.1h-1.1zM382.0 322.5h1.1v1.1h-1.1zM384.4 313.3h1.1v1.1h-1.1zM387.9 324.3h1.1v1.1h-1.1zM382.1 318.8h1.1v1.1h-1.1zM386.0 325.2h1.1v1.1h-1.1zM387.0 325.2h1.1v1.1h-1.1zM385.0 318.3h1.1v1.1h-1.1zM382.1 322.5h1.1v1.1h-1.1zM386.4 321.5h1.1v1.1h-1.1zM387.8 317.1h1.1v1.1h-1.1zM387.8 314.4h1.1v1.1h-1.1zM386.6 323.1h1.1v1.1h-1.1zM386.4 324.3h1.1v1.1h-1.1zM378.9 324.0h1.1v1.1h-1.1zM382.3 323.7h1.1v1.1h-1.1zM386.7 323.6h1.1v1.1h-1.1zM382.5 320.1h1.1v1.1h-1.1zM378.8 321.9h1.1v1.1h-1.1zM378.8 321.6h1.1v1.1h-1.1zM381.7 317.6h1.1v1.1h-1.1zM388.3 320.6h1.1v1.1h-1.1zM380.6 322.5h1.1v1.1h-1.1zM387.3 317.3h1.1v1.1h-1.1zM383.7 322.8h1.1v1.1h-1.1zM381.5 315.5h1.1v1.1h-1.1zM387.4 323.4h1.1v1.1h-1.1zM380.1 316.1h1.1v1.1h-1.1zM384.2 319.5h1.1v1.1h-1.1zM384.4 319.6h1.1v1.1h-1.1zM387.1 323.0h1.1v1.1h-1.1zM380.6 296.7h1.1v1.1h-1.1zM379.0 319.6h1.1v1.1h-1.1zM382.6 323.6h1.1v1.1h-1.1zM385.0 319.7h1.1v1.1h-1.1zM380.2 304.6h1.1v1.1h-1.1zM388.0 319.1h1.1v1.1h-1.1zM383.9 322.8h1.1v1.1h-1.1zM382.8 319.2h1.1v1.1h-1.1zM383.0 301.0h1.1v1.1h-1.1zM387.0 314.0h1.1v1.1h-1.1zM388.1 319.3h1.1v1.1h-1.1zM381.6 324.9h1.1v1.1h-1.1zM384.8 324.0h1.1v1.1h-1.1zM386.1 322.2h1.1v1.1h-1.1zM384.7 319.2h1.1v1.1h-1.1zM384.1 324.4h1.1v1.1h-1.1zM379.9 316.3h1.1v1.1h-1.1zM384.6 315.2h1.1v1.1h-1.1zM382.5 322.4h1.1v1.1h-1.1zM387.2 321.9h1.1v1.1h-1.1zM383.8 314.4h1.1v1.1h-1.1zM383.4 310.2h1.1v1.1h-1.1zM384.2 322.3h1.1v1.1h-1.1zM379.1 321.8h1.1v1.1h-1.1zM383.4 319.9h1.1v1.1h-1.1zM385.7 320.6h1.1v1.1h-1.1zM379.3 301.3h1.1v1.1h-1.1zM385.1 322.6h1.1v1.1h-1.1zM384.3 315.4h1.1v1.1h-1.1zM383.4 318.8h1.1v1.1h-1.1zM385.9 321.0h1.1v1.1h-1.1zM383.1 319.0h1.1v1.1h-1.1zM381.0 318.3h1.1v1.1h-1.1zM385.7 291.7h1.1v1.1h-1.1zM385.3 315.9h1.1v1.1h-1.1zM383.1 308.6h1.1v1.1h-1.1zM386.2 324.0h1.1v1.1h-1.1zM386.8 280.3h1.1v1.1h-1.1zM386.5 323.7h1.1v1.1h-1.1zM384.7 272.5h1.1v1.1h-1.1zM382.9 322.1h1.1v1.1h-1.1zM379.7 323.5h1.1v1.1h-1.1zM383.0 325.5h1.1v1.1h-1.1zM384.4 317.9h1.1v1.1h-1.1zM380.6 317.5h1.1v1.1h-1.1zM384.2 309.9h1.1v1.1h-1.1zM383.6 313.3h1.1v1.1h-1.1zM384.0 316.0h1.1v1.1h-1.1zM379.4 319.4h1.1v1.1h-1.1zM388.0 314.3h1.1v1.1h-1.1zM386.2 315.6h1.1v1.1h-1.1zM379.8 305.2h1.1v1.1h-1.1zM385.8 323.9h1.1v1.1h-1.1zM379.3 323.8h1.1v1.1h-1.1zM380.4 325.1h1.1v1.1h-1.1zM382.1 314.1h1.1v1.1h-1.1zM381.4 313.7h1.1v1.1h-1.1zM387.9 317.4h1.1v1.1h-1.1zM379.5 325.3h1.1v1.1h-1.1zM386.3 315.9h1.1v1.1h-1.1zM386.2 311.4h1.1v1.1h-1.1zM384.2 318.1h1.1v1.1h-1.1zM379.3 321.9h1.1v1.1h-1.1zM381.8 322.9h1.1v1.1h-1.1zM382.5 324.8h1.1v1.1h-1.1zM382.3 292.7h1.1v1.1h-1.1zM381.5 311.9h1.1v1.1h-1.1zM388.4 321.9h1.1v1.1h-1.1zM387.9 317.2h1.1v1.1h-1.1zM383.5 323.5h1.1v1.1h-1.1zM387.9 321.3h1.1v1.1h-1.1zM385.4 314.5h1.1v1.1h-1.1zM381.8 319.0h1.1v1.1h-1.1zM383.0 322.0h1.1v1.1h-1.1zM387.9 319.9h1.1v1.1h-1.1zM387.1 322.0h1.1v1.1h-1.1zM380.5 324.1h1.1v1.1h-1.1zM382.4 322.8h1.1v1.1h-1.1zM378.9 325.4h1.1v1.1h-1.1zM379.8 324.8h1.1v1.1h-1.1zM381.4 324.3h1.1v1.1h-1.1zM388.5 321.6h1.1v1.1h-1.1zM384.1 324.0h1.1v1.1h-1.1zM383.6 322.6h1.1v1.1h-1.1zM386.4 314.2h1.1v1.1h-1.1zM382.5 319.5h1.1v1.1h-1.1zM384.8 323.8h1.1v1.1h-1.1zM382.1 316.7h1.1v1.1h-1.1zM378.9 309.8h1.1v1.1h-1.1zM381.7 320.8h1.1v1.1h-1.1zM384.6 321.8h1.1v1.1h-1.1zM388.1 311.3h1.1v1.1h-1.1zM379.0 323.7h1.1v1.1h-1.1zM385.7 316.0h1.1v1.1h-1.1zM388.2 324.6h1.1v1.1h-1.1zM388.1 317.3h1.1v1.1h-1.1zM387.5 318.8h1.1v1.1h-1.1zM387.3 312.8h1.1v1.1h-1.1zM384.6 314.0h1.1v1.1h-1.1zM386.9 314.5h1.1v1.1h-1.1zM380.3 319.1h1.1v1.1h-1.1zM380.5 321.8h1.1v1.1h-1.1zM384.4 293.4h1.1v1.1h-1.1zM384.1 318.0h1.1v1.1h-1.1zM386.4 316.0h1.1v1.1h-1.1zM385.7 322.4h1.1v1.1h-1.1zM385.8 316.5h1.1v1.1h-1.1zM383.9 301.9h1.1v1.1h-1.1zM388.4 319.1h1.1v1.1h-1.1zM379.5 323.8h1.1v1.1h-1.1zM383.5 323.2h1.1v1.1h-1.1zM383.7 315.5h1.1v1.1h-1.1zM387.1 318.7h1.1v1.1h-1.1zM383.6 291.7h1.1v1.1h-1.1zM383.1 321.7h1.1v1.1h-1.1zM379.0 321.5h1.1v1.1h-1.1zM386.1 323.3h1.1v1.1h-1.1zM384.8 288.1h1.1v1.1h-1.1zM386.6 322.8h1.1v1.1h-1.1zM387.3 318.4h1.1v1.1h-1.1zM383.8 314.4h1.1v1.1h-1.1zM385.8 318.6h1.1v1.1h-1.1zM387.4 303.0h1.1v1.1h-1.1zM383.8 315.3h1.1v1.1h-1.1zM387.0 315.4h1.1v1.1h-1.1zM382.0 316.6h1.1v1.1h-1.1zM382.8 320.1h1.1v1.1h-1.1zM381.8 305.3h1.1v1.1h-1.1zM384.4 322.6h1.1v1.1h-1.1zM382.9 314.4h1.1v1.1h-1.1zM384.2 291.8h1.1v1.1h-1.1zM379.4 317.5h1.1v1.1h-1.1zM382.2 323.9h1.1v1.1h-1.1zM388.4 309.8h1.1v1.1h-1.1zM386.2 319.5h1.1v1.1h-1.1zM385.4 315.8h1.1v1.1h-1.1zM386.4 320.4h1.1v1.1h-1.1zM379.7 324.8h1.1v1.1h-1.1zM387.6 315.0h1.1v1.1h-1.1zM379.5 314.8h1.1v1.1h-1.1zM387.3 320.8h1.1v1.1h-1.1zM384.1 325.4h1.1v1.1h-1.1zM381.0 324.4h1.1v1.1h-1.1zM382.1 320.8h1.1v1.1h-1.1zM388.4 302.3h1.1v1.1h-1.1zM387.3 318.5h1.1v1.1h-1.1zM386.6 324.2h1.1v1.1h-1.1zM383.0 323.6h1.1v1.1h-1.1zM379.2 311.9h1.1v1.1h-1.1zM379.0 315.5h1.1v1.1h-1.1zM387.3 316.1h1.1v1.1h-1.1zM379.6 323.0h1.1v1.1h-1.1zM385.4 320.0h1.1v1.1h-1.1zM384.9 324.8h1.1v1.1h-1.1zM379.7 311.6h1.1v1.1h-1.1zM382.5 286.1h1.1v1.1h-1.1zM386.6 321.8h1.1v1.1h-1.1zM381.1 321.4h1.1v1.1h-1.1zM381.9 321.6h1.1v1.1h-1.1zM384.3 323.8h1.1v1.1h-1.1zM379.0 322.0h1.1v1.1h-1.1zM382.5 321.6h1.1v1.1h-1.1zM388.5 317.2h1.1v1.1h-1.1zM382.7 319.1h1.1v1.1h-1.1zM382.5 319.4h1.1v1.1h-1.1zM386.2 296.3h1.1v1.1h-1.1zM386.8 310.7h1.1v1.1h-1.1zM384.3 322.9h1.1v1.1h-1.1zM380.5 323.5h1.1v1.1h-1.1zM387.5 317.4h1.1v1.1h-1.1zM379.9 321.0h1.1v1.1h-1.1zM386.8 307.4h1.1v1.1h-1.1zM380.2 275.9h1.1v1.1h-1.1zM388.3 324.7h1.1v1.1h-1.1zM388.2 305.0h1.1v1.1h-1.1zM380.5 310.4h1.1v1.1h-1.1zM386.5 324.5h1.1v1.1h-1.1zM386.8 323.6h1.1v1.1h-1.1zM384.0 322.5h1.1v1.1h-1.1zM386.2 323.7h1.1v1.1h-1.1zM387.3 320.0h1.1v1.1h-1.1zM381.4 324.5h1.1v1.1h-1.1zM381.3 322.2h1.1v1.1h-1.1zM385.7 312.3h1.1v1.1h-1.1zM380.3 318.5h1.1v1.1h-1.1zM381.5 323.5h1.1v1.1h-1.1zM379.1 324.3h1.1v1.1h-1.1zM383.6 279.3h1.1v1.1h-1.1zM381.1 320.9h1.1v1.1h-1.1zM379.9 324.3h1.1v1.1h-1.1zM384.8 319.4h1.1v1.1h-1.1zM382.2 321.0h1.1v1.1h-1.1zM382.5 322.7h1.1v1.1h-1.1zM380.0 321.0h1.1v1.1h-1.1zM382.0 309.9h1.1v1.1h-1.1zM383.2 310.4h1.1v1.1h-1.1zM380.0 323.8h1.1v1.1h-1.1zM383.4 323.2h1.1v1.1h-1.1zM386.2 305.0h1.1v1.1h-1.1zM385.6 321.9h1.1v1.1h-1.1zM383.7 323.8h1.1v1.1h-1.1zM385.9 324.7h1.1v1.1h-1.1zM383.3 320.4h1.1v1.1h-1.1zM382.0 319.4h1.1v1.1h-1.1zM385.4 293.3h1.1v1.1h-1.1zM379.0 324.9h1.1v1.1h-1.1zM384.3 321.3h1.1v1.1h-1.1zM386.8 322.5h1.1v1.1h-1.1zM386.9 310.1h1.1v1.1h-1.1zM382.1 323.8h1.1v1.1h-1.1zM386.9 315.6h1.1v1.1h-1.1zM386.4 309.2h1.1v1.1h-1.1zM379.8 321.1h1.1v1.1h-1.1zM380.4 302.5h1.1v1.1h-1.1zM385.6 295.3h1.1v1.1h-1.1zM387.0 320.1h1.1v1.1h-1.1zM384.2 321.7h1.1v1.1h-1.1zM382.7 324.6h1.1v1.1h-1.1zM387.3 320.0h1.1v1.1h-1.1zM382.9 324.6h1.1v1.1h-1.1zM382.9 322.9h1.1v1.1h-1.1zM387.3 321.6h1.1v1.1h-1.1zM384.5 315.9h1.1v1.1h-1.1zM386.2 306.1h1.1v1.1h-1.1zM384.4 322.6h1.1v1.1h-1.1zM380.0 325.0h1.1v1.1h-1.1zM384.8 319.9h1.1v1.1h-1.1zM388.3 316.1h1.1v1.1h-1.1zM379.0 319.7h1.1v1.1h-1.1zM385.6 308.6h1.1v1.1h-1.1zM388.3 325.7h1.1v1.1h-1.1zM384.8 311.7h1.1v1.1h-1.1zM383.7 305.7h1.1v1.1h-1.1zM386.6 317.8h1.1v1.1h-1.1zM380.4 318.9h1.1v1.1h-1.1zM385.1 321.0h1.1v1.1h-1.1zM379.3 322.2h1.1v1.1h-1.1zM381.0 301.8h1.1v1.1h-1.1zM388.3 321.3h1.1v1.1h-1.1zM384.5 315.2h1.1v1.1h-1.1zM380.2 311.2h1.1v1.1h-1.1zM386.6 321.3h1.1v1.1h-1.1zM388.3 322.9h1.1v1.1h-1.1zM383.5 316.8h1.1v1.1h-1.1zM385.5 321.0h1.1v1.1h-1.1zM386.4 318.7h1.1v1.1h-1.1zM385.6 319.7h1.1v1.1h-1.1zM386.7 315.7h1.1v1.1h-1.1zM381.6 300.7h1.1v1.1h-1.1zM379.3 324.6h1.1v1.1h-1.1zM385.8 322.4h1.1v1.1h-1.1zM388.5 322.6h1.1v1.1h-1.1zM382.5 312.1h1.1v1.1h-1.1zM381.6 325.2h1.1v1.1h-1.1zM381.3 319.0h1.1v1.1h-1.1zM384.7 322.9h1.1v1.1h-1.1zM380.1 324.9h1.1v1.1h-1.1zM382.2 305.0h1.1v1.1h-1.1zM385.8 314.9h1.1v1.1h-1.1zM383.8 322.4h1.1v1.1h-1.1zM383.7 316.0h1.1v1.1h-1.1zM381.9 320.9h1.1v1.1h-1.1zM385.5 322.3h1.1v1.1h-1.1zM388.2 325.3h1.1v1.1h-1.1zM381.2 315.1h1.1v1.1h-1.1zM379.3 323.4h1.1v1.1h-1.1zM384.6 322.7h1.1v1.1h-1.1zM388.3 315.0h1.1v1.1h-1.1zM387.0 322.7h1.1v1.1h-1.1zM382.3 320.5h1.1v1.1h-1.1zM385.1 322.8h1.1v1.1h-1.1zM379.7 324.2h1.1v1.1h-1.1zM383.4 305.3h1.1v1.1h-1.1zM385.1 311.3h1.1v1.1h-1.1zM382.5 314.1h1.1v1.1h-1.1zM385.9 322.3h1.1v1.1h-1.1zM379.6 316.2h1.1v1.1h-1.1zM386.2 309.3h1.1v1.1h-1.1zM383.5 320.4h1.1v1.1h-1.1zM386.4 314.4h1.1v1.1h-1.1zM379.8 322.8h1.1v1.1h-1.1zM383.0 323.0h1.1v1.1h-1.1zM379.8 308.7h1.1v1.1h-1.1zM385.4 319.5h1.1v1.1h-1.1zM388.2 314.8h1.1v1.1h-1.1zM384.6 322.8h1.1v1.1h-1.1zM386.6 324.0h1.1v1.1h-1.1zM386.0 317.1h1.1v1.1h-1.1zM381.1 290.0h1.1v1.1h-1.1zM387.6 324.1h1.1v1.1h-1.1zM385.2 313.3h1.1v1.1h-1.1zM383.1 322.2h1.1v1.1h-1.1zM388.3 322.6h1.1v1.1h-1.1zM382.2 312.1h1.1v1.1h-1.1zM381.4 294.9h1.1v1.1h-1.1zM378.9 316.4h1.1v1.1h-1.1zM384.4 319.0h1.1v1.1h-1.1zM379.7 314.8h1.1v1.1h-1.1zM388.2 307.1h1.1v1.1h-1.1zM387.7 323.6h1.1v1.1h-1.1zM382.2 296.2h1.1v1.1h-1.1zM387.1 324.8h1.1v1.1h-1.1zM379.1 325.0h1.1v1.1h-1.1zM385.0 305.3h1.1v1.1h-1.1zM380.8 325.1h1.1v1.1h-1.1zM385.7 319.0h1.1v1.1h-1.1zM383.8 324.5h1.1v1.1h-1.1zM385.2 324.6h1.1v1.1h-1.1zM385.2 307.4h1.1v1.1h-1.1zM386.0 322.8h1.1v1.1h-1.1zM386.1 323.8h1.1v1.1h-1.1zM385.2 320.2h1.1v1.1h-1.1zM388.5 321.1h1.1v1.1h-1.1zM379.9 321.6h1.1v1.1h-1.1zM383.7 324.1h1.1v1.1h-1.1zM381.7 322.4h1.1v1.1h-1.1zM381.6 318.4h1.1v1.1h-1.1zM386.6 308.6h1.1v1.1h-1.1zM384.8 318.8h1.1v1.1h-1.1zM384.8 286.4h1.1v1.1h-1.1zM380.5 323.4h1.1v1.1h-1.1zM379.5 305.6h1.1v1.1h-1.1zM385.3 318.2h1.1v1.1h-1.1zM381.3 315.7h1.1v1.1h-1.1zM380.8 322.9h1.1v1.1h-1.1zM382.2 309.8h1.1v1.1h-1.1zM384.3 320.6h1.1v1.1h-1.1zM384.7 322.0h1.1v1.1h-1.1zM380.0 323.5h1.1v1.1h-1.1zM384.7 316.8h1.1v1.1h-1.1zM383.5 313.3h1.1v1.1h-1.1zM379.2 321.5h1.1v1.1h-1.1zM385.5 312.4h1.1v1.1h-1.1zM386.1 310.4h1.1v1.1h-1.1zM381.3 324.1h1.1v1.1h-1.1zM380.3 322.0h1.1v1.1h-1.1zM379.4 310.9h1.1v1.1h-1.1zM387.1 316.4h1.1v1.1h-1.1zM386.0 323.8h1.1v1.1h-1.1zM381.3 322.2h1.1v1.1h-1.1zM383.7 317.5h1.1v1.1h-1.1zM382.2 322.1h1.1v1.1h-1.1zM381.2 322.9h1.1v1.1h-1.1zM383.6 322.2h1.1v1.1h-1.1zM379.2 313.4h1.1v1.1h-1.1zM384.6 317.5h1.1v1.1h-1.1zM386.2 324.8h1.1v1.1h-1.1zM387.5 323.7h1.1v1.1h-1.1zM387.9 322.3h1.1v1.1h-1.1zM382.0 324.2h1.1v1.1h-1.1zM382.3 323.7h1.1v1.1h-1.1zM383.1 304.6h1.1v1.1h-1.1zM381.2 324.3h1.1v1.1h-1.1zM378.9 308.7h1.1v1.1h-1.1zM387.8 308.5h1.1v1.1h-1.1zM381.3 322.9h1.1v1.1h-1.1zM383.5 317.8h1.1v1.1h-1.1zM382.0 319.7h1.1v1.1h-1.1zM388.2 305.7h1.1v1.1h-1.1zM381.4 290.0h1.1v1.1h-1.1zM384.9 308.5h1.1v1.1h-1.1zM381.0 325.3h1.1v1.1h-1.1zM379.3 313.4h1.1v1.1h-1.1zM387.7 316.9h1.1v1.1h-1.1zM387.8 323.2h1.1v1.1h-1.1zM382.2 323.9h1.1v1.1h-1.1zM381.0 313.4h1.1v1.1h-1.1zM382.9 302.9h1.1v1.1h-1.1zM382.2 324.3h1.1v1.1h-1.1zM382.0 323.0h1.1v1.1h-1.1zM379.0 312.2h1.1v1.1h-1.1zM383.2 312.7h1.1v1.1h-1.1zM387.9 314.7h1.1v1.1h-1.1zM379.0 317.0h1.1v1.1h-1.1zM381.6 317.2h1.1v1.1h-1.1zM382.0 310.6h1.1v1.1h-1.1zM387.9 312.6h1.1v1.1h-1.1zM383.0 320.8h1.1v1.1h-1.1zM386.0 309.2h1.1v1.1h-1.1zM386.4 319.7h1.1v1.1h-1.1zM381.0 318.0h1.1v1.1h-1.1zM384.3 323.1h1.1v1.1h-1.1zM385.1 324.2h1.1v1.1h-1.1zM381.2 322.1h1.1v1.1h-1.1zM387.3 289.2h1.1v1.1h-1.1zM383.5 322.7h1.1v1.1h-1.1zM381.6 306.2h1.1v1.1h-1.1zM388.4 317.5h1.1v1.1h-1.1zM383.3 308.5h1.1v1.1h-1.1zM381.5 318.6h1.1v1.1h-1.1zM384.1 325.2h1.1v1.1h-1.1zM386.1 300.8h1.1v1.1h-1.1zM380.7 301.1h1.1v1.1h-1.1zM384.5 304.8h1.1v1.1h-1.1zM384.5 323.4h1.1v1.1h-1.1zM382.7 324.8h1.1v1.1h-1.1zM382.3 322.0h1.1v1.1h-1.1zM387.5 321.3h1.1v1.1h-1.1zM381.3 317.3h1.1v1.1h-1.1zM381.3 314.9h1.1v1.1h-1.1zM387.2 313.3h1.1v1.1h-1.1zM384.9 310.2h1.1v1.1h-1.1zM379.2 304.4h1.1v1.1h-1.1zM384.6 322.3h1.1v1.1h-1.1zM383.5 295.4h1.1v1.1h-1.1zM388.1 323.9h1.1v1.1h-1.1zM382.2 325.3h1.1v1.1h-1.1zM384.1 317.8h1.1v1.1h-1.1zM387.6 300.4h1.1v1.1h-1.1zM379.0 301.0h1.1v1.1h-1.1zM381.8 324.0h1.1v1.1h-1.1zM379.8 298.6h1.1v1.1h-1.1zM378.8 324.6h1.1v1.1h-1.1zM385.7 317.0h1.1v1.1h-1.1zM387.1 320.6h1.1v1.1h-1.1zM383.4 321.4h1.1v1.1h-1.1zM380.6 323.5h1.1v1.1h-1.1zM379.8 318.4h1.1v1.1h-1.1zM387.9 319.5h1.1v1.1h-1.1zM381.5 297.9h1.1v1.1h-1.1zM385.3 306.3h1.1v1.1h-1.1zM379.0 321.4h1.1v1.1h-1.1zM380.6 322.4h1.1v1.1h-1.1zM380.8 320.2h1.1v1.1h-1.1zM382.3 323.8h1.1v1.1h-1.1zM383.5 325.6h1.1v1.1h-1.1zM385.9 317.2h1.1v1.1h-1.1zM383.8 283.0h1.1v1.1h-1.1zM381.9 318.3h1.1v1.1h-1.1zM379.4 317.1h1.1v1.1h-1.1zM387.4 321.9h1.1v1.1h-1.1zM381.7 315.2h1.1v1.1h-1.1zM385.4 322.1h1.1v1.1h-1.1zM380.5 321.0h1.1v1.1h-1.1zM387.5 307.8h1.1v1.1h-1.1zM387.0 319.5h1.1v1.1h-1.1zM387.1 307.7h1.1v1.1h-1.1zM379.6 321.9h1.1v1.1h-1.1zM384.3 322.6h1.1v1.1h-1.1zM383.6 324.5h1.1v1.1h-1.1zM384.5 322.6h1.1v1.1h-1.1zM387.2 324.7h1.1v1.1h-1.1zM379.4 324.1h1.1v1.1h-1.1zM380.2 313.5h1.1v1.1h-1.1zM379.4 322.3h1.1v1.1h-1.1zM382.7 320.0h1.1v1.1h-1.1zM384.6 309.7h1.1v1.1h-1.1zM380.2 309.2h1.1v1.1h-1.1zM379.3 324.7h1.1v1.1h-1.1zM385.8 321.9h1.1v1.1h-1.1zM381.6 324.6h1.1v1.1h-1.1zM383.0 324.7h1.1v1.1h-1.1zM382.4 304.7h1.1v1.1h-1.1zM381.6 324.6h1.1v1.1h-1.1zM383.2 323.2h1.1v1.1h-1.1zM379.9 313.5h1.1v1.1h-1.1zM384.8 324.1h1.1v1.1h-1.1zM384.2 323.7h1.1v1.1h-1.1zM379.8 319.3h1.1v1.1h-1.1zM381.1 320.3h1.1v1.1h-1.1zM383.6 320.9h1.1v1.1h-1.1zM379.3 314.4h1.1v1.1h-1.1zM384.2 312.2h1.1v1.1h-1.1zM388.3 317.9h1.1v1.1h-1.1zM385.4 320.0h1.1v1.1h-1.1zM380.7 320.0h1.1v1.1h-1.1zM384.1 322.2h1.1v1.1h-1.1zM379.2 319.8h1.1v1.1h-1.1zM387.9 321.8h1.1v1.1h-1.1zM378.8 319.1h1.1v1.1h-1.1zM379.9 324.9h1.1v1.1h-1.1zM380.9 324.7h1.1v1.1h-1.1zM386.0 324.0h1.1v1.1h-1.1zM384.5 321.3h1.1v1.1h-1.1zM383.3 324.2h1.1v1.1h-1.1zM381.9 324.2h1.1v1.1h-1.1zM384.8 322.0h1.1v1.1h-1.1zM380.4 317.0h1.1v1.1h-1.1zM387.4 321.9h1.1v1.1h-1.1zM380.8 318.8h1.1v1.1h-1.1zM387.6 322.8h1.1v1.1h-1.1zM380.1 319.5h1.1v1.1h-1.1zM380.5 318.1h1.1v1.1h-1.1zM383.1 320.6h1.1v1.1h-1.1zM379.9 325.4h1.1v1.1h-1.1zM381.8 324.2h1.1v1.1h-1.1zM386.8 324.0h1.1v1.1h-1.1zM387.3 297.7h1.1v1.1h-1.1zM383.0 318.6h1.1v1.1h-1.1zM382.2 321.4h1.1v1.1h-1.1zM381.4 319.2h1.1v1.1h-1.1zM379.1 315.4h1.1v1.1h-1.1zM384.1 310.4h1.1v1.1h-1.1zM382.3 325.2h1.1v1.1h-1.1zM379.0 320.8h1.1v1.1h-1.1zM385.2 325.1h1.1v1.1h-1.1zM385.9 319.2h1.1v1.1h-1.1zM382.9 323.2h1.1v1.1h-1.1zM384.6 318.5h1.1v1.1h-1.1zM385.8 322.8h1.1v1.1h-1.1zM383.4 322.1h1.1v1.1h-1.1zM383.4 304.5h1.1v1.1h-1.1zM381.8 324.5h1.1v1.1h-1.1zM384.7 323.4h1.1v1.1h-1.1zM382.3 321.6h1.1v1.1h-1.1zM380.7 319.3h1.1v1.1h-1.1zM379.3 317.2h1.1v1.1h-1.1zM380.4 323.6h1.1v1.1h-1.1zM388.2 307.2h1.1v1.1h-1.1zM388.4 324.8h1.1v1.1h-1.1zM386.6 319.9h1.1v1.1h-1.1zM383.9 321.8h1.1v1.1h-1.1zM384.3 322.0h1.1v1.1h-1.1zM381.8 321.8h1.1v1.1h-1.1zM383.1 325.4h1.1v1.1h-1.1zM379.9 302.0h1.1v1.1h-1.1zM381.2 323.0h1.1v1.1h-1.1zM384.9 325.2h1.1v1.1h-1.1zM383.9 324.6h1.1v1.1h-1.1zM387.8 299.4h1.1v1.1h-1.1zM384.4 323.9h1.1v1.1h-1.1zM382.1 322.9h1.1v1.1h-1.1zM383.1 323.7h1.1v1.1h-1.1zM386.1 303.8h1.1v1.1h-1.1zM381.6 310.3h1.1v1.1h-1.1zM381.2 304.2h1.1v1.1h-1.1zM380.2 319.3h1.1v1.1h-1.1zM379.4 313.0h1.1v1.1h-1.1zM382.2 317.8h1.1v1.1h-1.1zM387.1 310.2h1.1v1.1h-1.1zM386.7 324.5h1.1v1.1h-1.1zM387.7 323.5h1.1v1.1h-1.1zM383.0 317.5h1.1v1.1h-1.1zM384.3 321.1h1.1v1.1h-1.1zM379.3 320.8h1.1v1.1h-1.1zM383.9 321.6h1.1v1.1h-1.1zM384.4 324.1h1.1v1.1h-1.1zM379.9 322.8h1.1v1.1h-1.1zM384.6 314.3h1.1v1.1h-1.1zM386.0 311.4h1.1v1.1h-1.1zM383.9 322.2h1.1v1.1h-1.1zM382.7 325.0h1.1v1.1h-1.1zM381.7 320.8h1.1v1.1h-1.1zM382.6 312.2h1.1v1.1h-1.1zM382.5 321.2h1.1v1.1h-1.1zM384.9 322.7h1.1v1.1h-1.1zM387.4 316.3h1.1v1.1h-1.1zM387.7 289.4h1.1v1.1h-1.1zM386.0 325.3h1.1v1.1h-1.1zM384.0 321.5h1.1v1.1h-1.1zM384.1 301.7h1.1v1.1h-1.1zM382.5 316.1h1.1v1.1h-1.1zM382.9 311.5h1.1v1.1h-1.1zM381.8 321.5h1.1v1.1h-1.1zM382.4 323.4h1.1v1.1h-1.1zM380.6 320.0h1.1v1.1h-1.1zM386.4 320.1h1.1v1.1h-1.1zM383.9 316.9h1.1v1.1h-1.1zM383.9 312.2h1.1v1.1h-1.1zM383.4 322.1h1.1v1.1h-1.1zM381.9 323.6h1.1v1.1h-1.1zM379.5 320.0h1.1v1.1h-1.1zM380.5 318.9h1.1v1.1h-1.1zM385.5 283.6h1.1v1.1h-1.1zM384.7 319.6h1.1v1.1h-1.1zM380.4 320.2h1.1v1.1h-1.1zM385.3 319.9h1.1v1.1h-1.1zM386.8 319.6h1.1v1.1h-1.1zM379.5 323.9h1.1v1.1h-1.1zM385.9 322.6h1.1v1.1h-1.1zM384.7 320.5h1.1v1.1h-1.1zM379.7 322.1h1.1v1.1h-1.1zM382.5 318.8h1.1v1.1h-1.1zM381.6 321.6h1.1v1.1h-1.1zM387.3 315.3h1.1v1.1h-1.1zM386.0 321.6h1.1v1.1h-1.1zM379.1 325.3h1.1v1.1h-1.1zM382.1 317.2h1.1v1.1h-1.1zM386.6 315.2h1.1v1.1h-1.1zM385.2 325.4h1.1v1.1h-1.1zM386.2 308.9h1.1v1.1h-1.1zM387.0 319.4h1.1v1.1h-1.1zM388.2 322.6h1.1v1.1h-1.1zM388.3 324.4h1.1v1.1h-1.1zM387.8 311.3h1.1v1.1h-1.1zM385.9 323.8h1.1v1.1h-1.1zM379.5 320.8h1.1v1.1h-1.1zM383.0 319.3h1.1v1.1h-1.1zM379.0 314.9h1.1v1.1h-1.1zM378.8 304.9h1.1v1.1h-1.1zM381.8 324.6h1.1v1.1h-1.1zM382.1 320.9h1.1v1.1h-1.1zM381.9 303.2h1.1v1.1h-1.1zM379.0 324.1h1.1v1.1h-1.1zM381.9 307.4h1.1v1.1h-1.1zM387.6 317.4h1.1v1.1h-1.1zM382.4 301.2h1.1v1.1h-1.1zM385.5 324.7h1.1v1.1h-1.1zM387.0 315.6h1.1v1.1h-1.1zM384.5 321.2h1.1v1.1h-1.1zM381.0 317.3h1.1v1.1h-1.1zM381.0 324.7h1.1v1.1h-1.1zM387.7 320.3h1.1v1.1h-1.1zM385.9 319.8h1.1v1.1h-1.1zM384.5 324.4h1.1v1.1h-1.1zM384.1 316.9h1.1v1.1h-1.1zM383.3 310.3h1.1v1.1h-1.1zM380.4 324.5h1.1v1.1h-1.1zM384.9 311.3h1.1v1.1h-1.1zM382.3 316.6h1.1v1.1h-1.1zM382.0 322.9h1.1v1.1h-1.1zM381.5 303.2h1.1v1.1h-1.1zM381.6 317.1h1.1v1.1h-1.1zM384.9 320.4h1.1v1.1h-1.1zM381.5 321.1h1.1v1.1h-1.1zM381.4 279.2h1.1v1.1h-1.1zM380.0 323.5h1.1v1.1h-1.1zM384.2 316.6h1.1v1.1h-1.1zM388.3 320.7h1.1v1.1h-1.1zM380.4 301.1h1.1v1.1h-1.1zM381.6 323.7h1.1v1.1h-1.1zM383.5 299.9h1.1v1.1h-1.1zM388.4 320.0h1.1v1.1h-1.1zM382.7 311.0h1.1v1.1h-1.1zM379.6 316.8h1.1v1.1h-1.1zM385.0 309.5h1.1v1.1h-1.1zM387.9 198.1h1.1v1.1h-1.1zM383.9 213.4h1.1v1.1h-1.1zM384.4 230.9h1.1v1.1h-1.1zM387.4 233.9h1.1v1.1h-1.1zM381.4 248.4h1.1v1.1h-1.1zM383.4 270.9h1.1v1.1h-1.1z" fill="#E08C8C" stroke="#3E1A1A" stroke-width="0.32" stroke-opacity="0.78"/>
<rect x="376.1" y="316.3" width="16.7" height="7.2" fill="#F4A6A6" fill-opacity="0.72" stroke="#222" stroke-width="0.6"/>
<line x1="376.1" x2="392.8" y1="320.5" y2="320.5" stroke="#111" stroke-width="1.1"/>
<line x1="311.2" x2="348.2" y1="188.4" y2="188.4" stroke="#222" stroke-width="0.7"/>
<text x="330.30" y="189.60" font-size="10.5" text-anchor="middle" fill="#222" >*</text>
</g>
<g id="panelD">
<text x="490.20" y="181.10" font-size="10.9" text-anchor="start" fill="#000" font-weight="bold" textLength="7.4" lengthAdjust="spacingAndGlyphs"  stroke="#000" stroke-width="0.35">d</text>
<path d="M520.6,178.2 V334.3 H639.8" fill="none" stroke="#777" stroke-width="0.7"/>
<line x1="517" x2="520.6" y1="327.1" y2="327.1" stroke="#777" stroke-width="0.7"/>
<text x="512.80" y="329.95" font-size="8.0" text-anchor="end" fill="#222" textLength="4.9" lengthAdjust="spacingAndGlyphs" >0</text>
<line x1="517" x2="520.6" y1="293.4" y2="293.4" stroke="#777" stroke-width="0.7"/>
<text x="512.80" y="296.25" font-size="8.0" text-anchor="end" fill="#222" textLength="4.8" lengthAdjust="spacingAndGlyphs" >5</text>
<line x1="517" x2="520.6" y1="259.7" y2="259.7" stroke="#777" stroke-width="0.7"/>
<text x="512.80" y="262.55" font-size="8.0" text-anchor="end" fill="#222" textLength="9.2" lengthAdjust="spacingAndGlyphs" >10</text>
<line x1="517" x2="520.6" y1="226.0" y2="226.0" stroke="#777" stroke-width="0.7"/>
<text x="512.80" y="228.85" font-size="8.0" text-anchor="end" fill="#222" textLength="8.7" lengthAdjust="spacingAndGlyphs" >15</text>
<line x1="517" x2="520.6" y1="192.3" y2="192.3" stroke="#777" stroke-width="0.7"/>
<text x="512.80" y="195.15" font-size="8.0" text-anchor="end" fill="#222" textLength="9.6" lengthAdjust="spacingAndGlyphs" >20</text>
<text x="497.30" y="255.70" font-size="8.6" text-anchor="middle" fill="#222" transform="rotate(-90 497.30 255.70)" textLength="26.0" lengthAdjust="spacingAndGlyphs" >CV (%)</text>
<line x1="542.4" x2="542.4" y1="334.3" y2="337.5" stroke="#777" stroke-width="0.7"/>
<text x="542.40" y="348.80" font-size="8.6" text-anchor="middle" fill="#222" textLength="30.7" lengthAdjust="spacingAndGlyphs" >Healthy</text>
<path d="M544.8 217.4h1.1v1.1h-1.1zM538.7 218.8h1.1v1.1h-1.1zM540.4 220.8h1.1v1.1h-1.1zM546.1 222.8h1.1v1.1h-1.1zM545.8 227.4h1.1v1.1h-1.1zM542.5 230.2h1.1v1.1h-1.1zM537.4 231.5h1.1v1.1h-1.1zM544.1 233.2h1.1v1.1h-1.1zM543.9 276.4h1.1v1.1h-1.1zM538.3 284.0h1.1v1.1h-1.1zM537.1 278.9h1.1v1.1h-1.1zM541.3 294.6h1.1v1.1h-1.1zM539.7 285.5h1.1v1.1h-1.1zM541.5 284.5h1.1v1.1h-1.1zM539.9 275.6h1.1v1.1h-1.1zM543.4 249.6h1.1v1.1h-1.1zM541.2 290.5h1.1v1.1h-1.1zM543.7 281.1h1.1v1.1h-1.1zM538.1 302.8h1.1v1.1h-1.1zM538.3 285.1h1.1v1.1h-1.1zM545.4 273.6h1.1v1.1h-1.1zM540.7 272.6h1.1v1.1h-1.1zM539.2 283.7h1.1v1.1h-1.1zM543.5 292.6h1.1v1.1h-1.1zM538.4 280.7h1.1v1.1h-1.1zM542.3 305.2h1.1v1.1h-1.1zM542.6 284.9h1.1v1.1h-1.1zM543.7 254.3h1.1v1.1h-1.1zM541.5 276.9h1.1v1.1h-1.1zM539.8 296.0h1.1v1.1h-1.1zM544.0 281.5h1.1v1.1h-1.1zM545.7 291.1h1.1v1.1h-1.1zM545.0 297.7h1.1v1.1h-1.1zM544.9 291.1h1.1v1.1h-1.1zM542.0 289.6h1.1v1.1h-1.1zM537.0 297.8h1.1v1.1h-1.1zM543.6 297.2h1.1v1.1h-1.1zM537.1 288.9h1.1v1.1h-1.1zM540.3 293.0h1.1v1.1h-1.1zM546.5 284.4h1.1v1.1h-1.1zM540.5 285.6h1.1v1.1h-1.1zM537.9 302.8h1.1v1.1h-1.1zM546.6 264.6h1.1v1.1h-1.1zM544.2 283.1h1.1v1.1h-1.1zM539.2 276.6h1.1v1.1h-1.1zM541.3 266.6h1.1v1.1h-1.1zM537.6 281.6h1.1v1.1h-1.1zM540.8 274.9h1.1v1.1h-1.1zM537.3 292.1h1.1v1.1h-1.1zM546.4 283.7h1.1v1.1h-1.1zM538.4 289.9h1.1v1.1h-1.1zM538.3 289.8h1.1v1.1h-1.1zM541.5 251.1h1.1v1.1h-1.1zM537.2 284.9h1.1v1.1h-1.1zM542.0 288.3h1.1v1.1h-1.1zM542.0 267.4h1.1v1.1h-1.1zM537.9 265.4h1.1v1.1h-1.1zM541.3 262.2h1.1v1.1h-1.1zM537.2 287.7h1.1v1.1h-1.1zM546.6 293.0h1.1v1.1h-1.1zM543.4 289.9h1.1v1.1h-1.1zM537.9 294.6h1.1v1.1h-1.1zM538.0 284.9h1.1v1.1h-1.1zM539.1 290.2h1.1v1.1h-1.1zM539.3 302.7h1.1v1.1h-1.1zM544.5 302.8h1.1v1.1h-1.1zM543.6 298.2h1.1v1.1h-1.1zM539.3 277.6h1.1v1.1h-1.1zM538.5 290.0h1.1v1.1h-1.1zM543.2 297.7h1.1v1.1h-1.1zM546.2 290.7h1.1v1.1h-1.1zM544.5 287.1h1.1v1.1h-1.1zM544.5 304.8h1.1v1.1h-1.1zM537.3 277.5h1.1v1.1h-1.1zM541.1 267.9h1.1v1.1h-1.1zM543.6 280.3h1.1v1.1h-1.1zM540.7 282.5h1.1v1.1h-1.1zM546.6 279.5h1.1v1.1h-1.1zM542.8 282.3h1.1v1.1h-1.1zM541.3 290.5h1.1v1.1h-1.1zM541.2 281.3h1.1v1.1h-1.1zM546.0 270.5h1.1v1.1h-1.1zM546.3 281.5h1.1v1.1h-1.1zM545.4 290.6h1.1v1.1h-1.1zM537.4 298.3h1.1v1.1h-1.1zM538.4 291.1h1.1v1.1h-1.1zM540.5 303.6h1.1v1.1h-1.1zM542.7 303.6h1.1v1.1h-1.1zM539.3 271.6h1.1v1.1h-1.1zM544.6 279.2h1.1v1.1h-1.1zM540.5 299.3h1.1v1.1h-1.1zM538.5 293.0h1.1v1.1h-1.1zM544.5 274.1h1.1v1.1h-1.1zM542.9 294.0h1.1v1.1h-1.1zM543.7 297.1h1.1v1.1h-1.1zM537.9 278.5h1.1v1.1h-1.1zM545.6 288.6h1.1v1.1h-1.1zM542.2 258.2h1.1v1.1h-1.1zM546.3 294.0h1.1v1.1h-1.1zM543.7 281.7h1.1v1.1h-1.1zM544.9 290.7h1.1v1.1h-1.1zM545.9 290.7h1.1v1.1h-1.1zM541.8 250.5h1.1v1.1h-1.1zM544.9 300.4h1.1v1.1h-1.1zM543.3 276.5h1.1v1.1h-1.1zM540.1 266.2h1.1v1.1h-1.1zM538.4 287.9h1.1v1.1h-1.1zM542.9 290.3h1.1v1.1h-1.1zM546.7 301.1h1.1v1.1h-1.1zM543.1 268.6h1.1v1.1h-1.1zM539.6 301.7h1.1v1.1h-1.1zM541.6 297.6h1.1v1.1h-1.1zM546.6 287.5h1.1v1.1h-1.1zM542.9 304.7h1.1v1.1h-1.1zM541.2 295.9h1.1v1.1h-1.1zM540.4 269.3h1.1v1.1h-1.1zM541.1 299.0h1.1v1.1h-1.1zM537.6 298.7h1.1v1.1h-1.1zM537.8 305.9h1.1v1.1h-1.1zM538.4 293.6h1.1v1.1h-1.1zM545.7 294.8h1.1v1.1h-1.1zM546.0 293.2h1.1v1.1h-1.1zM541.3 291.6h1.1v1.1h-1.1zM538.5 283.0h1.1v1.1h-1.1zM545.5 286.2h1.1v1.1h-1.1zM543.4 298.0h1.1v1.1h-1.1zM544.1 302.6h1.1v1.1h-1.1zM541.3 293.0h1.1v1.1h-1.1zM544.1 271.5h1.1v1.1h-1.1zM539.1 299.6h1.1v1.1h-1.1zM541.4 264.0h1.1v1.1h-1.1zM537.9 292.3h1.1v1.1h-1.1zM543.2 288.3h1.1v1.1h-1.1zM545.8 278.2h1.1v1.1h-1.1zM543.0 270.3h1.1v1.1h-1.1zM539.5 296.4h1.1v1.1h-1.1zM538.6 300.1h1.1v1.1h-1.1zM538.8 287.4h1.1v1.1h-1.1zM542.0 277.0h1.1v1.1h-1.1zM542.3 303.5h1.1v1.1h-1.1zM538.1 294.5h1.1v1.1h-1.1zM538.4 296.3h1.1v1.1h-1.1zM546.4 277.7h1.1v1.1h-1.1zM538.7 280.6h1.1v1.1h-1.1zM541.7 257.2h1.1v1.1h-1.1zM543.8 278.9h1.1v1.1h-1.1zM544.3 238.6h1.1v1.1h-1.1zM541.2 272.5h1.1v1.1h-1.1zM542.2 287.1h1.1v1.1h-1.1zM542.2 292.9h1.1v1.1h-1.1zM540.9 306.8h1.1v1.1h-1.1zM542.0 279.5h1.1v1.1h-1.1zM538.3 293.6h1.1v1.1h-1.1zM537.2 297.3h1.1v1.1h-1.1zM544.5 294.8h1.1v1.1h-1.1zM537.2 267.9h1.1v1.1h-1.1zM546.3 291.4h1.1v1.1h-1.1zM537.4 295.8h1.1v1.1h-1.1zM542.8 264.6h1.1v1.1h-1.1zM540.7 282.7h1.1v1.1h-1.1zM546.3 296.6h1.1v1.1h-1.1zM537.1 268.9h1.1v1.1h-1.1zM540.7 277.7h1.1v1.1h-1.1zM542.8 284.7h1.1v1.1h-1.1zM542.9 292.4h1.1v1.1h-1.1zM544.0 272.9h1.1v1.1h-1.1zM543.6 304.1h1.1v1.1h-1.1zM539.5 262.3h1.1v1.1h-1.1zM537.2 297.8h1.1v1.1h-1.1zM546.1 293.5h1.1v1.1h-1.1zM538.4 299.4h1.1v1.1h-1.1zM540.7 293.3h1.1v1.1h-1.1zM540.7 260.4h1.1v1.1h-1.1zM545.4 297.7h1.1v1.1h-1.1zM546.4 282.5h1.1v1.1h-1.1zM537.5 289.2h1.1v1.1h-1.1zM541.5 273.6h1.1v1.1h-1.1zM538.8 269.1h1.1v1.1h-1.1zM538.5 287.0h1.1v1.1h-1.1zM543.8 299.9h1.1v1.1h-1.1zM545.0 256.2h1.1v1.1h-1.1zM543.8 278.2h1.1v1.1h-1.1zM546.2 294.5h1.1v1.1h-1.1zM538.9 273.7h1.1v1.1h-1.1zM539.9 303.8h1.1v1.1h-1.1zM543.8 294.3h1.1v1.1h-1.1zM545.0 287.3h1.1v1.1h-1.1zM542.0 290.0h1.1v1.1h-1.1zM545.6 286.0h1.1v1.1h-1.1zM540.8 264.4h1.1v1.1h-1.1zM538.0 272.0h1.1v1.1h-1.1zM545.4 271.1h1.1v1.1h-1.1zM537.7 294.6h1.1v1.1h-1.1zM543.8 282.0h1.1v1.1h-1.1zM537.3 272.4h1.1v1.1h-1.1zM537.3 288.3h1.1v1.1h-1.1zM537.6 292.7h1.1v1.1h-1.1zM546.7 306.7h1.1v1.1h-1.1zM538.2 293.0h1.1v1.1h-1.1zM543.5 298.7h1.1v1.1h-1.1zM541.5 272.1h1.1v1.1h-1.1zM538.8 284.7h1.1v1.1h-1.1zM546.1 279.3h1.1v1.1h-1.1zM537.7 277.1h1.1v1.1h-1.1zM540.9 306.0h1.1v1.1h-1.1zM541.3 297.8h1.1v1.1h-1.1zM542.9 305.0h1.1v1.1h-1.1zM546.7 301.4h1.1v1.1h-1.1zM543.6 297.9h1.1v1.1h-1.1zM543.3 273.4h1.1v1.1h-1.1zM544.3 296.8h1.1v1.1h-1.1zM543.5 280.3h1.1v1.1h-1.1zM540.6 281.2h1.1v1.1h-1.1zM541.0 273.5h1.1v1.1h-1.1zM540.4 279.2h1.1v1.1h-1.1zM540.6 290.7h1.1v1.1h-1.1zM539.1 269.4h1.1v1.1h-1.1zM544.8 298.2h1.1v1.1h-1.1zM541.9 277.5h1.1v1.1h-1.1zM539.5 297.7h1.1v1.1h-1.1zM541.2 275.8h1.1v1.1h-1.1zM541.3 289.0h1.1v1.1h-1.1zM545.3 263.9h1.1v1.1h-1.1zM544.9 241.5h1.1v1.1h-1.1zM544.2 259.8h1.1v1.1h-1.1zM539.8 257.2h1.1v1.1h-1.1zM544.7 282.3h1.1v1.1h-1.1zM544.7 289.6h1.1v1.1h-1.1zM540.7 264.0h1.1v1.1h-1.1zM542.9 287.3h1.1v1.1h-1.1zM539.5 281.6h1.1v1.1h-1.1zM545.2 292.1h1.1v1.1h-1.1zM540.0 260.6h1.1v1.1h-1.1zM546.2 300.0h1.1v1.1h-1.1zM537.0 286.5h1.1v1.1h-1.1zM539.1 298.5h1.1v1.1h-1.1zM544.4 276.8h1.1v1.1h-1.1zM540.5 284.2h1.1v1.1h-1.1zM540.9 300.7h1.1v1.1h-1.1zM539.5 273.1h1.1v1.1h-1.1zM546.3 256.8h1.1v1.1h-1.1zM539.2 271.2h1.1v1.1h-1.1zM541.8 264.5h1.1v1.1h-1.1zM537.8 293.1h1.1v1.1h-1.1zM538.1 306.3h1.1v1.1h-1.1zM544.5 297.9h1.1v1.1h-1.1zM545.6 270.6h1.1v1.1h-1.1zM545.2 278.8h1.1v1.1h-1.1zM546.4 298.5h1.1v1.1h-1.1zM538.1 267.9h1.1v1.1h-1.1zM543.9 289.5h1.1v1.1h-1.1zM539.3 283.2h1.1v1.1h-1.1zM541.7 279.4h1.1v1.1h-1.1zM542.0 283.7h1.1v1.1h-1.1zM544.3 292.1h1.1v1.1h-1.1zM540.8 288.0h1.1v1.1h-1.1zM538.2 298.4h1.1v1.1h-1.1zM540.7 276.5h1.1v1.1h-1.1zM545.9 270.8h1.1v1.1h-1.1zM540.6 285.1h1.1v1.1h-1.1zM540.5 299.0h1.1v1.1h-1.1zM538.8 279.3h1.1v1.1h-1.1zM540.3 302.7h1.1v1.1h-1.1zM544.6 293.5h1.1v1.1h-1.1zM541.8 269.9h1.1v1.1h-1.1zM540.3 293.1h1.1v1.1h-1.1zM542.9 274.8h1.1v1.1h-1.1zM538.7 300.4h1.1v1.1h-1.1zM544.4 297.8h1.1v1.1h-1.1zM537.5 276.3h1.1v1.1h-1.1zM545.8 296.4h1.1v1.1h-1.1zM544.0 292.5h1.1v1.1h-1.1zM540.5 295.2h1.1v1.1h-1.1zM542.5 260.1h1.1v1.1h-1.1zM537.6 276.6h1.1v1.1h-1.1zM539.7 270.2h1.1v1.1h-1.1zM541.4 285.2h1.1v1.1h-1.1zM539.4 282.0h1.1v1.1h-1.1zM537.8 288.2h1.1v1.1h-1.1zM545.6 264.5h1.1v1.1h-1.1zM542.1 278.0h1.1v1.1h-1.1zM537.9 299.8h1.1v1.1h-1.1zM540.2 297.2h1.1v1.1h-1.1zM537.8 300.9h1.1v1.1h-1.1zM539.8 272.5h1.1v1.1h-1.1zM540.1 276.8h1.1v1.1h-1.1zM540.4 304.4h1.1v1.1h-1.1zM542.8 296.7h1.1v1.1h-1.1zM539.2 303.4h1.1v1.1h-1.1zM540.8 288.4h1.1v1.1h-1.1zM544.4 304.2h1.1v1.1h-1.1zM545.8 287.5h1.1v1.1h-1.1zM541.6 292.9h1.1v1.1h-1.1zM537.9 284.0h1.1v1.1h-1.1zM541.6 263.1h1.1v1.1h-1.1zM537.1 279.2h1.1v1.1h-1.1zM544.4 243.8h1.1v1.1h-1.1zM544.5 266.2h1.1v1.1h-1.1zM543.2 293.0h1.1v1.1h-1.1zM542.6 289.6h1.1v1.1h-1.1zM542.2 295.2h1.1v1.1h-1.1zM540.2 294.1h1.1v1.1h-1.1zM546.1 296.0h1.1v1.1h-1.1zM546.4 306.0h1.1v1.1h-1.1zM546.0 290.9h1.1v1.1h-1.1zM539.0 281.4h1.1v1.1h-1.1zM539.1 299.2h1.1v1.1h-1.1zM541.8 287.8h1.1v1.1h-1.1zM538.9 272.5h1.1v1.1h-1.1zM538.6 289.9h1.1v1.1h-1.1zM538.7 296.3h1.1v1.1h-1.1zM542.0 243.6h1.1v1.1h-1.1zM546.0 284.2h1.1v1.1h-1.1zM543.7 275.0h1.1v1.1h-1.1zM544.2 291.8h1.1v1.1h-1.1zM546.1 292.7h1.1v1.1h-1.1zM537.7 289.1h1.1v1.1h-1.1zM540.6 287.7h1.1v1.1h-1.1zM537.4 298.9h1.1v1.1h-1.1zM546.6 286.2h1.1v1.1h-1.1zM545.7 296.0h1.1v1.1h-1.1zM545.0 289.7h1.1v1.1h-1.1zM543.6 299.4h1.1v1.1h-1.1zM543.7 293.6h1.1v1.1h-1.1zM543.2 307.3h1.1v1.1h-1.1zM543.4 289.6h1.1v1.1h-1.1zM544.8 275.6h1.1v1.1h-1.1zM543.5 294.7h1.1v1.1h-1.1zM544.7 307.4h1.1v1.1h-1.1zM539.3 277.9h1.1v1.1h-1.1zM538.9 285.2h1.1v1.1h-1.1zM538.9 277.2h1.1v1.1h-1.1zM537.6 282.2h1.1v1.1h-1.1zM544.3 291.4h1.1v1.1h-1.1zM538.3 260.9h1.1v1.1h-1.1zM542.7 297.6h1.1v1.1h-1.1zM539.0 291.6h1.1v1.1h-1.1zM540.0 273.1h1.1v1.1h-1.1zM542.1 295.5h1.1v1.1h-1.1zM541.0 297.5h1.1v1.1h-1.1zM539.5 250.5h1.1v1.1h-1.1zM546.6 294.2h1.1v1.1h-1.1zM537.4 286.5h1.1v1.1h-1.1zM541.0 285.6h1.1v1.1h-1.1zM543.8 296.3h1.1v1.1h-1.1zM541.5 274.9h1.1v1.1h-1.1zM545.7 266.6h1.1v1.1h-1.1zM540.8 289.9h1.1v1.1h-1.1zM538.0 290.3h1.1v1.1h-1.1zM545.5 292.7h1.1v1.1h-1.1zM542.9 301.6h1.1v1.1h-1.1zM540.0 289.0h1.1v1.1h-1.1zM540.3 278.9h1.1v1.1h-1.1zM539.5 295.4h1.1v1.1h-1.1zM537.6 280.7h1.1v1.1h-1.1zM546.0 300.6h1.1v1.1h-1.1zM545.7 276.0h1.1v1.1h-1.1zM538.7 284.6h1.1v1.1h-1.1zM546.6 272.9h1.1v1.1h-1.1zM537.3 294.2h1.1v1.1h-1.1zM545.5 292.9h1.1v1.1h-1.1zM537.9 290.7h1.1v1.1h-1.1zM542.1 292.2h1.1v1.1h-1.1zM541.6 256.4h1.1v1.1h-1.1zM542.8 277.9h1.1v1.1h-1.1zM537.3 290.7h1.1v1.1h-1.1zM542.9 264.1h1.1v1.1h-1.1zM542.1 303.2h1.1v1.1h-1.1zM546.6 270.9h1.1v1.1h-1.1zM544.5 304.0h1.1v1.1h-1.1zM546.0 297.0h1.1v1.1h-1.1zM546.0 270.7h1.1v1.1h-1.1zM539.3 281.9h1.1v1.1h-1.1zM543.7 272.0h1.1v1.1h-1.1zM538.1 273.7h1.1v1.1h-1.1zM544.0 277.7h1.1v1.1h-1.1zM538.5 280.8h1.1v1.1h-1.1zM538.6 288.9h1.1v1.1h-1.1zM544.5 274.8h1.1v1.1h-1.1zM545.1 294.1h1.1v1.1h-1.1zM546.3 305.8h1.1v1.1h-1.1zM545.2 289.9h1.1v1.1h-1.1zM537.6 287.1h1.1v1.1h-1.1zM543.9 290.1h1.1v1.1h-1.1zM542.5 296.0h1.1v1.1h-1.1zM545.5 287.1h1.1v1.1h-1.1zM545.2 283.7h1.1v1.1h-1.1zM545.6 255.9h1.1v1.1h-1.1zM543.9 300.0h1.1v1.1h-1.1zM541.5 298.9h1.1v1.1h-1.1zM537.8 287.4h1.1v1.1h-1.1zM537.0 272.8h1.1v1.1h-1.1zM540.7 286.4h1.1v1.1h-1.1zM544.1 294.0h1.1v1.1h-1.1zM539.7 282.9h1.1v1.1h-1.1zM543.1 272.2h1.1v1.1h-1.1zM538.6 296.2h1.1v1.1h-1.1zM544.6 282.3h1.1v1.1h-1.1zM545.7 265.6h1.1v1.1h-1.1zM540.8 255.3h1.1v1.1h-1.1zM542.6 298.5h1.1v1.1h-1.1zM544.1 292.2h1.1v1.1h-1.1zM542.8 271.6h1.1v1.1h-1.1zM537.9 282.5h1.1v1.1h-1.1zM541.1 301.1h1.1v1.1h-1.1zM542.5 286.7h1.1v1.1h-1.1zM546.6 309.0h1.1v1.1h-1.1zM538.4 270.1h1.1v1.1h-1.1zM543.5 284.9h1.1v1.1h-1.1zM539.6 260.7h1.1v1.1h-1.1zM544.9 283.0h1.1v1.1h-1.1zM538.6 286.9h1.1v1.1h-1.1zM539.6 258.3h1.1v1.1h-1.1zM540.2 266.3h1.1v1.1h-1.1zM546.2 294.1h1.1v1.1h-1.1zM545.2 303.4h1.1v1.1h-1.1zM545.5 298.0h1.1v1.1h-1.1zM537.7 299.6h1.1v1.1h-1.1zM541.1 297.0h1.1v1.1h-1.1zM540.9 294.5h1.1v1.1h-1.1zM543.6 292.9h1.1v1.1h-1.1zM540.6 302.8h1.1v1.1h-1.1zM544.3 286.2h1.1v1.1h-1.1zM540.0 285.8h1.1v1.1h-1.1zM543.8 290.3h1.1v1.1h-1.1zM542.5 280.6h1.1v1.1h-1.1zM540.3 293.0h1.1v1.1h-1.1zM546.4 277.6h1.1v1.1h-1.1zM543.8 308.3h1.1v1.1h-1.1zM544.9 281.8h1.1v1.1h-1.1zM546.5 274.2h1.1v1.1h-1.1zM540.8 299.8h1.1v1.1h-1.1zM545.4 286.0h1.1v1.1h-1.1zM542.0 296.7h1.1v1.1h-1.1zM538.7 292.1h1.1v1.1h-1.1zM542.0 304.1h1.1v1.1h-1.1zM539.8 287.8h1.1v1.1h-1.1zM537.6 303.4h1.1v1.1h-1.1zM540.6 305.0h1.1v1.1h-1.1zM543.7 298.3h1.1v1.1h-1.1zM540.6 295.7h1.1v1.1h-1.1zM538.4 303.5h1.1v1.1h-1.1zM538.2 294.4h1.1v1.1h-1.1zM545.2 240.4h1.1v1.1h-1.1zM541.7 305.5h1.1v1.1h-1.1zM537.3 260.7h1.1v1.1h-1.1zM544.2 269.3h1.1v1.1h-1.1zM537.5 286.8h1.1v1.1h-1.1zM540.6 283.1h1.1v1.1h-1.1zM540.5 291.7h1.1v1.1h-1.1zM546.6 274.5h1.1v1.1h-1.1zM543.4 291.5h1.1v1.1h-1.1zM543.3 290.8h1.1v1.1h-1.1zM538.3 274.0h1.1v1.1h-1.1zM539.2 273.9h1.1v1.1h-1.1zM545.7 310.3h1.1v1.1h-1.1zM546.6 280.6h1.1v1.1h-1.1zM539.8 291.9h1.1v1.1h-1.1zM544.6 267.2h1.1v1.1h-1.1zM539.9 296.2h1.1v1.1h-1.1zM542.1 286.3h1.1v1.1h-1.1zM541.0 244.2h1.1v1.1h-1.1zM544.2 283.2h1.1v1.1h-1.1zM537.7 286.7h1.1v1.1h-1.1zM546.6 283.9h1.1v1.1h-1.1zM543.7 302.6h1.1v1.1h-1.1zM538.8 290.3h1.1v1.1h-1.1zM538.1 281.9h1.1v1.1h-1.1zM541.2 287.2h1.1v1.1h-1.1zM546.0 292.0h1.1v1.1h-1.1zM538.7 268.8h1.1v1.1h-1.1zM541.4 283.7h1.1v1.1h-1.1zM539.0 279.3h1.1v1.1h-1.1zM545.8 296.3h1.1v1.1h-1.1zM545.5 309.6h1.1v1.1h-1.1zM542.1 287.4h1.1v1.1h-1.1zM543.0 280.2h1.1v1.1h-1.1zM537.4 272.6h1.1v1.1h-1.1zM542.4 304.4h1.1v1.1h-1.1zM546.3 282.6h1.1v1.1h-1.1zM544.4 271.6h1.1v1.1h-1.1zM545.3 294.9h1.1v1.1h-1.1zM541.5 271.8h1.1v1.1h-1.1zM542.7 284.9h1.1v1.1h-1.1zM537.2 269.5h1.1v1.1h-1.1zM537.7 268.9h1.1v1.1h-1.1zM538.2 281.5h1.1v1.1h-1.1zM542.6 264.4h1.1v1.1h-1.1zM540.0 250.9h1.1v1.1h-1.1zM538.5 271.0h1.1v1.1h-1.1zM543.8 286.8h1.1v1.1h-1.1zM543.3 293.3h1.1v1.1h-1.1zM539.5 299.7h1.1v1.1h-1.1zM546.0 274.5h1.1v1.1h-1.1zM541.2 264.5h1.1v1.1h-1.1zM542.0 298.7h1.1v1.1h-1.1zM542.1 280.7h1.1v1.1h-1.1zM543.0 290.5h1.1v1.1h-1.1zM546.1 297.8h1.1v1.1h-1.1zM538.3 293.2h1.1v1.1h-1.1zM545.7 287.2h1.1v1.1h-1.1zM540.4 285.2h1.1v1.1h-1.1zM537.1 279.9h1.1v1.1h-1.1zM539.1 308.1h1.1v1.1h-1.1zM539.6 296.7h1.1v1.1h-1.1zM540.5 297.7h1.1v1.1h-1.1zM545.5 282.9h1.1v1.1h-1.1zM539.8 289.4h1.1v1.1h-1.1zM541.5 247.3h1.1v1.1h-1.1zM546.7 296.3h1.1v1.1h-1.1zM541.8 300.8h1.1v1.1h-1.1zM540.8 303.3h1.1v1.1h-1.1zM538.3 297.3h1.1v1.1h-1.1zM544.5 257.6h1.1v1.1h-1.1zM539.8 286.1h1.1v1.1h-1.1zM543.3 303.8h1.1v1.1h-1.1zM541.3 287.3h1.1v1.1h-1.1zM545.3 282.1h1.1v1.1h-1.1zM537.2 296.4h1.1v1.1h-1.1zM546.4 278.9h1.1v1.1h-1.1zM541.6 299.2h1.1v1.1h-1.1zM537.0 295.3h1.1v1.1h-1.1zM539.8 287.6h1.1v1.1h-1.1zM537.7 300.7h1.1v1.1h-1.1zM538.1 275.7h1.1v1.1h-1.1zM539.8 305.9h1.1v1.1h-1.1zM539.2 305.8h1.1v1.1h-1.1zM537.8 281.9h1.1v1.1h-1.1zM542.2 304.7h1.1v1.1h-1.1zM539.6 260.9h1.1v1.1h-1.1zM545.3 253.7h1.1v1.1h-1.1zM539.6 274.5h1.1v1.1h-1.1zM541.9 273.5h1.1v1.1h-1.1zM539.5 297.6h1.1v1.1h-1.1zM545.0 295.4h1.1v1.1h-1.1zM544.8 270.5h1.1v1.1h-1.1zM544.4 299.0h1.1v1.1h-1.1zM543.8 295.0h1.1v1.1h-1.1zM538.1 282.6h1.1v1.1h-1.1zM541.6 271.2h1.1v1.1h-1.1zM545.7 283.3h1.1v1.1h-1.1zM542.5 295.3h1.1v1.1h-1.1zM545.3 277.6h1.1v1.1h-1.1zM538.0 278.2h1.1v1.1h-1.1zM541.6 295.3h1.1v1.1h-1.1zM545.7 259.3h1.1v1.1h-1.1zM545.9 269.7h1.1v1.1h-1.1zM543.4 273.4h1.1v1.1h-1.1zM545.5 296.4h1.1v1.1h-1.1zM544.5 292.6h1.1v1.1h-1.1zM538.3 291.6h1.1v1.1h-1.1zM537.2 288.4h1.1v1.1h-1.1zM539.7 291.2h1.1v1.1h-1.1zM538.0 308.1h1.1v1.1h-1.1zM546.7 278.1h1.1v1.1h-1.1zM542.4 281.3h1.1v1.1h-1.1zM541.4 276.9h1.1v1.1h-1.1zM546.7 274.6h1.1v1.1h-1.1zM537.2 293.2h1.1v1.1h-1.1zM540.2 301.4h1.1v1.1h-1.1zM541.5 303.3h1.1v1.1h-1.1zM541.6 297.8h1.1v1.1h-1.1zM545.2 269.6h1.1v1.1h-1.1zM542.0 295.5h1.1v1.1h-1.1zM539.2 291.8h1.1v1.1h-1.1zM541.5 256.5h1.1v1.1h-1.1zM545.4 252.0h1.1v1.1h-1.1zM542.2 302.7h1.1v1.1h-1.1zM537.5 285.8h1.1v1.1h-1.1zM541.9 284.7h1.1v1.1h-1.1zM540.1 258.0h1.1v1.1h-1.1zM539.1 290.4h1.1v1.1h-1.1zM546.4 291.3h1.1v1.1h-1.1zM543.3 284.7h1.1v1.1h-1.1zM544.8 282.5h1.1v1.1h-1.1zM537.4 286.4h1.1v1.1h-1.1zM544.3 292.5h1.1v1.1h-1.1zM540.2 277.8h1.1v1.1h-1.1zM537.4 281.4h1.1v1.1h-1.1zM543.1 310.4h1.1v1.1h-1.1zM537.6 275.5h1.1v1.1h-1.1zM538.5 285.5h1.1v1.1h-1.1zM542.9 238.9h1.1v1.1h-1.1zM541.1 276.2h1.1v1.1h-1.1zM538.5 270.1h1.1v1.1h-1.1zM545.4 268.5h1.1v1.1h-1.1zM537.1 294.8h1.1v1.1h-1.1zM543.1 270.4h1.1v1.1h-1.1zM544.5 283.7h1.1v1.1h-1.1zM541.5 296.8h1.1v1.1h-1.1zM542.9 297.3h1.1v1.1h-1.1zM538.5 290.2h1.1v1.1h-1.1zM538.2 282.2h1.1v1.1h-1.1zM543.9 293.6h1.1v1.1h-1.1zM546.1 279.5h1.1v1.1h-1.1zM538.0 290.9h1.1v1.1h-1.1zM544.0 294.0h1.1v1.1h-1.1zM538.9 267.4h1.1v1.1h-1.1zM543.8 283.8h1.1v1.1h-1.1zM542.9 296.5h1.1v1.1h-1.1zM544.5 246.3h1.1v1.1h-1.1zM542.3 287.1h1.1v1.1h-1.1zM539.1 292.2h1.1v1.1h-1.1zM537.1 302.4h1.1v1.1h-1.1zM537.6 278.1h1.1v1.1h-1.1zM545.9 286.0h1.1v1.1h-1.1zM543.1 287.6h1.1v1.1h-1.1zM541.7 292.3h1.1v1.1h-1.1zM540.5 280.5h1.1v1.1h-1.1zM543.7 276.6h1.1v1.1h-1.1zM537.9 269.7h1.1v1.1h-1.1zM542.8 302.7h1.1v1.1h-1.1zM543.1 262.3h1.1v1.1h-1.1zM544.8 289.7h1.1v1.1h-1.1zM540.2 292.3h1.1v1.1h-1.1zM542.1 288.9h1.1v1.1h-1.1zM540.2 289.8h1.1v1.1h-1.1zM538.3 271.4h1.1v1.1h-1.1zM546.7 280.4h1.1v1.1h-1.1zM538.2 275.8h1.1v1.1h-1.1zM546.6 299.0h1.1v1.1h-1.1zM538.7 293.1h1.1v1.1h-1.1zM545.6 283.0h1.1v1.1h-1.1zM544.2 297.8h1.1v1.1h-1.1zM544.7 295.9h1.1v1.1h-1.1zM538.3 289.5h1.1v1.1h-1.1zM544.7 309.1h1.1v1.1h-1.1zM546.4 302.8h1.1v1.1h-1.1zM539.7 291.0h1.1v1.1h-1.1zM537.4 282.0h1.1v1.1h-1.1zM544.7 305.6h1.1v1.1h-1.1zM537.3 261.7h1.1v1.1h-1.1zM539.1 255.4h1.1v1.1h-1.1zM538.0 300.1h1.1v1.1h-1.1zM543.6 290.1h1.1v1.1h-1.1zM539.4 293.4h1.1v1.1h-1.1zM544.1 238.9h1.1v1.1h-1.1zM542.0 289.4h1.1v1.1h-1.1zM544.7 303.1h1.1v1.1h-1.1zM543.6 287.6h1.1v1.1h-1.1zM545.1 303.7h1.1v1.1h-1.1zM540.5 310.4h1.1v1.1h-1.1zM538.6 303.5h1.1v1.1h-1.1zM546.6 287.2h1.1v1.1h-1.1zM537.8 279.7h1.1v1.1h-1.1zM539.8 268.2h1.1v1.1h-1.1zM539.0 297.4h1.1v1.1h-1.1zM537.4 283.0h1.1v1.1h-1.1zM542.3 294.3h1.1v1.1h-1.1zM546.3 279.7h1.1v1.1h-1.1zM541.1 284.8h1.1v1.1h-1.1zM539.8 303.8h1.1v1.1h-1.1zM539.6 295.3h1.1v1.1h-1.1zM537.9 273.3h1.1v1.1h-1.1zM543.8 284.1h1.1v1.1h-1.1zM537.7 287.5h1.1v1.1h-1.1zM541.4 293.8h1.1v1.1h-1.1zM539.1 281.9h1.1v1.1h-1.1zM541.0 290.3h1.1v1.1h-1.1zM539.6 290.7h1.1v1.1h-1.1zM542.8 285.7h1.1v1.1h-1.1zM538.4 297.4h1.1v1.1h-1.1zM543.9 292.8h1.1v1.1h-1.1zM544.5 281.2h1.1v1.1h-1.1zM545.8 277.7h1.1v1.1h-1.1zM541.5 266.5h1.1v1.1h-1.1zM537.6 300.4h1.1v1.1h-1.1zM538.1 283.7h1.1v1.1h-1.1zM542.6 276.4h1.1v1.1h-1.1zM537.1 290.4h1.1v1.1h-1.1zM541.6 290.3h1.1v1.1h-1.1zM542.0 276.3h1.1v1.1h-1.1zM546.7 296.5h1.1v1.1h-1.1zM538.1 296.5h1.1v1.1h-1.1zM546.4 281.5h1.1v1.1h-1.1zM541.7 273.6h1.1v1.1h-1.1zM545.9 299.9h1.1v1.1h-1.1zM538.2 249.0h1.1v1.1h-1.1zM541.5 286.7h1.1v1.1h-1.1zM538.6 283.1h1.1v1.1h-1.1zM540.4 287.9h1.1v1.1h-1.1zM543.9 285.8h1.1v1.1h-1.1zM544.1 296.2h1.1v1.1h-1.1zM543.8 270.6h1.1v1.1h-1.1zM544.0 289.7h1.1v1.1h-1.1zM542.2 299.6h1.1v1.1h-1.1zM545.6 285.4h1.1v1.1h-1.1zM545.5 286.8h1.1v1.1h-1.1zM538.2 295.8h1.1v1.1h-1.1zM538.9 309.2h1.1v1.1h-1.1zM543.5 295.9h1.1v1.1h-1.1zM538.6 301.4h1.1v1.1h-1.1zM543.9 300.9h1.1v1.1h-1.1zM544.3 270.1h1.1v1.1h-1.1zM540.3 271.3h1.1v1.1h-1.1zM538.9 271.4h1.1v1.1h-1.1zM546.7 288.6h1.1v1.1h-1.1zM546.3 277.9h1.1v1.1h-1.1zM538.0 285.4h1.1v1.1h-1.1zM541.5 299.7h1.1v1.1h-1.1zM539.4 290.6h1.1v1.1h-1.1zM539.0 287.1h1.1v1.1h-1.1zM543.4 278.5h1.1v1.1h-1.1zM540.1 305.1h1.1v1.1h-1.1zM538.5 297.0h1.1v1.1h-1.1zM543.7 266.3h1.1v1.1h-1.1zM544.3 293.7h1.1v1.1h-1.1zM543.3 291.8h1.1v1.1h-1.1zM541.2 300.7h1.1v1.1h-1.1zM542.1 251.6h1.1v1.1h-1.1zM537.4 308.2h1.1v1.1h-1.1zM542.2 305.5h1.1v1.1h-1.1zM541.8 284.9h1.1v1.1h-1.1zM541.9 296.3h1.1v1.1h-1.1zM545.1 285.3h1.1v1.1h-1.1zM539.0 277.6h1.1v1.1h-1.1zM540.2 272.7h1.1v1.1h-1.1zM539.9 259.2h1.1v1.1h-1.1zM539.6 267.4h1.1v1.1h-1.1zM544.5 290.5h1.1v1.1h-1.1zM542.7 272.0h1.1v1.1h-1.1zM542.1 284.8h1.1v1.1h-1.1zM541.6 248.9h1.1v1.1h-1.1zM545.3 269.2h1.1v1.1h-1.1zM543.3 279.5h1.1v1.1h-1.1zM542.6 292.6h1.1v1.1h-1.1zM538.0 287.5h1.1v1.1h-1.1zM538.9 274.5h1.1v1.1h-1.1zM539.1 266.0h1.1v1.1h-1.1zM539.5 280.4h1.1v1.1h-1.1zM545.0 296.1h1.1v1.1h-1.1zM546.4 294.6h1.1v1.1h-1.1zM538.8 266.2h1.1v1.1h-1.1zM540.6 284.2h1.1v1.1h-1.1zM545.1 299.9h1.1v1.1h-1.1zM537.3 290.3h1.1v1.1h-1.1zM537.7 274.5h1.1v1.1h-1.1zM538.5 287.9h1.1v1.1h-1.1zM545.3 289.7h1.1v1.1h-1.1zM537.8 304.2h1.1v1.1h-1.1zM539.3 283.5h1.1v1.1h-1.1zM540.7 279.5h1.1v1.1h-1.1zM540.1 249.3h1.1v1.1h-1.1zM540.9 271.4h1.1v1.1h-1.1zM538.5 281.8h1.1v1.1h-1.1zM542.4 306.6h1.1v1.1h-1.1zM541.2 301.0h1.1v1.1h-1.1zM545.3 278.6h1.1v1.1h-1.1zM537.9 264.4h1.1v1.1h-1.1zM538.3 263.9h1.1v1.1h-1.1zM539.0 282.7h1.1v1.1h-1.1zM545.6 251.0h1.1v1.1h-1.1zM539.1 297.2h1.1v1.1h-1.1zM538.1 279.4h1.1v1.1h-1.1zM546.7 281.9h1.1v1.1h-1.1zM537.4 308.3h1.1v1.1h-1.1zM542.5 297.8h1.1v1.1h-1.1zM543.5 288.4h1.1v1.1h-1.1zM540.4 289.7h1.1v1.1h-1.1zM543.7 294.0h1.1v1.1h-1.1zM542.7 269.8h1.1v1.1h-1.1zM546.6 293.5h1.1v1.1h-1.1zM542.2 298.8h1.1v1.1h-1.1zM538.9 252.5h1.1v1.1h-1.1zM544.0 292.5h1.1v1.1h-1.1zM542.9 283.7h1.1v1.1h-1.1zM546.6 278.7h1.1v1.1h-1.1zM541.8 276.2h1.1v1.1h-1.1zM539.2 293.3h1.1v1.1h-1.1zM546.1 296.7h1.1v1.1h-1.1zM546.7 303.6h1.1v1.1h-1.1zM540.2 273.3h1.1v1.1h-1.1zM539.8 295.5h1.1v1.1h-1.1zM539.6 288.6h1.1v1.1h-1.1zM537.3 295.0h1.1v1.1h-1.1zM540.5 288.9h1.1v1.1h-1.1zM542.0 284.0h1.1v1.1h-1.1zM544.6 254.1h1.1v1.1h-1.1zM538.4 287.7h1.1v1.1h-1.1zM538.9 294.4h1.1v1.1h-1.1zM544.2 293.6h1.1v1.1h-1.1zM546.1 287.8h1.1v1.1h-1.1zM539.8 286.5h1.1v1.1h-1.1zM541.2 241.7h1.1v1.1h-1.1zM543.1 293.6h1.1v1.1h-1.1zM545.7 295.1h1.1v1.1h-1.1zM542.7 294.0h1.1v1.1h-1.1zM542.9 277.3h1.1v1.1h-1.1zM538.9 258.1h1.1v1.1h-1.1zM537.9 292.1h1.1v1.1h-1.1zM546.6 303.3h1.1v1.1h-1.1zM542.6 287.0h1.1v1.1h-1.1zM537.2 292.7h1.1v1.1h-1.1zM544.2 302.0h1.1v1.1h-1.1zM537.4 253.8h1.1v1.1h-1.1zM543.6 271.0h1.1v1.1h-1.1zM543.2 309.0h1.1v1.1h-1.1zM540.1 284.5h1.1v1.1h-1.1zM543.4 265.8h1.1v1.1h-1.1zM542.5 286.9h1.1v1.1h-1.1zM537.2 295.1h1.1v1.1h-1.1zM540.9 295.7h1.1v1.1h-1.1zM538.0 290.4h1.1v1.1h-1.1zM546.7 281.9h1.1v1.1h-1.1zM537.4 279.8h1.1v1.1h-1.1zM539.4 291.0h1.1v1.1h-1.1zM538.2 303.9h1.1v1.1h-1.1zM542.4 297.8h1.1v1.1h-1.1zM540.9 283.6h1.1v1.1h-1.1zM546.1 296.1h1.1v1.1h-1.1zM540.9 297.4h1.1v1.1h-1.1zM538.6 265.2h1.1v1.1h-1.1zM539.9 285.6h1.1v1.1h-1.1zM541.3 249.9h1.1v1.1h-1.1zM545.9 291.1h1.1v1.1h-1.1zM542.8 274.4h1.1v1.1h-1.1zM537.5 263.6h1.1v1.1h-1.1zM544.7 291.0h1.1v1.1h-1.1zM540.1 242.3h1.1v1.1h-1.1zM541.2 288.7h1.1v1.1h-1.1zM537.6 282.3h1.1v1.1h-1.1zM542.5 247.2h1.1v1.1h-1.1zM537.7 263.0h1.1v1.1h-1.1zM541.3 289.7h1.1v1.1h-1.1zM537.7 261.9h1.1v1.1h-1.1zM541.3 271.9h1.1v1.1h-1.1zM537.0 287.2h1.1v1.1h-1.1zM540.8 293.0h1.1v1.1h-1.1zM539.7 290.8h1.1v1.1h-1.1zM540.1 301.3h1.1v1.1h-1.1zM540.5 305.1h1.1v1.1h-1.1zM545.9 282.4h1.1v1.1h-1.1zM537.9 300.8h1.1v1.1h-1.1zM542.8 296.0h1.1v1.1h-1.1zM542.8 246.2h1.1v1.1h-1.1zM540.4 264.7h1.1v1.1h-1.1zM543.7 280.8h1.1v1.1h-1.1zM539.7 250.4h1.1v1.1h-1.1zM546.0 287.5h1.1v1.1h-1.1zM541.0 265.0h1.1v1.1h-1.1zM542.9 299.5h1.1v1.1h-1.1zM537.1 290.8h1.1v1.1h-1.1zM545.7 297.4h1.1v1.1h-1.1zM544.3 281.5h1.1v1.1h-1.1zM545.5 298.9h1.1v1.1h-1.1zM538.1 283.4h1.1v1.1h-1.1zM539.6 295.6h1.1v1.1h-1.1zM538.4 303.8h1.1v1.1h-1.1zM543.4 301.2h1.1v1.1h-1.1zM542.3 295.1h1.1v1.1h-1.1zM539.8 278.8h1.1v1.1h-1.1zM537.4 304.7h1.1v1.1h-1.1zM538.1 304.2h1.1v1.1h-1.1zM537.6 298.3h1.1v1.1h-1.1zM538.4 281.7h1.1v1.1h-1.1zM541.8 262.8h1.1v1.1h-1.1zM544.5 281.3h1.1v1.1h-1.1zM541.3 284.0h1.1v1.1h-1.1zM543.1 275.3h1.1v1.1h-1.1zM543.9 284.2h1.1v1.1h-1.1zM539.8 284.1h1.1v1.1h-1.1zM537.6 288.1h1.1v1.1h-1.1zM543.7 274.7h1.1v1.1h-1.1zM538.8 292.9h1.1v1.1h-1.1zM539.2 279.0h1.1v1.1h-1.1zM545.8 300.0h1.1v1.1h-1.1zM544.9 293.8h1.1v1.1h-1.1zM545.6 290.7h1.1v1.1h-1.1zM539.8 293.7h1.1v1.1h-1.1zM540.1 288.8h1.1v1.1h-1.1zM546.4 293.2h1.1v1.1h-1.1zM542.3 296.3h1.1v1.1h-1.1zM544.6 310.5h1.1v1.1h-1.1zM546.2 294.8h1.1v1.1h-1.1zM538.4 274.3h1.1v1.1h-1.1zM543.5 267.7h1.1v1.1h-1.1zM538.7 262.0h1.1v1.1h-1.1zM540.4 246.8h1.1v1.1h-1.1zM539.4 264.1h1.1v1.1h-1.1zM546.1 305.2h1.1v1.1h-1.1zM540.4 262.6h1.1v1.1h-1.1zM537.0 284.0h1.1v1.1h-1.1zM541.1 282.4h1.1v1.1h-1.1zM544.3 290.7h1.1v1.1h-1.1zM541.5 271.1h1.1v1.1h-1.1zM541.5 286.1h1.1v1.1h-1.1zM546.3 254.7h1.1v1.1h-1.1zM543.3 256.3h1.1v1.1h-1.1zM541.0 284.4h1.1v1.1h-1.1zM544.1 282.2h1.1v1.1h-1.1zM541.3 295.8h1.1v1.1h-1.1zM546.4 266.8h1.1v1.1h-1.1zM540.2 291.8h1.1v1.1h-1.1zM538.5 295.1h1.1v1.1h-1.1zM542.9 303.1h1.1v1.1h-1.1zM543.4 305.3h1.1v1.1h-1.1zM537.3 262.8h1.1v1.1h-1.1zM546.6 298.4h1.1v1.1h-1.1zM538.2 291.6h1.1v1.1h-1.1zM545.7 282.6h1.1v1.1h-1.1zM537.6 286.3h1.1v1.1h-1.1zM539.6 283.6h1.1v1.1h-1.1zM540.0 285.0h1.1v1.1h-1.1zM542.0 294.1h1.1v1.1h-1.1zM539.7 289.4h1.1v1.1h-1.1zM539.9 283.7h1.1v1.1h-1.1zM542.6 298.6h1.1v1.1h-1.1zM541.6 282.0h1.1v1.1h-1.1zM538.7 282.7h1.1v1.1h-1.1zM538.1 292.5h1.1v1.1h-1.1zM542.9 301.7h1.1v1.1h-1.1zM546.7 308.8h1.1v1.1h-1.1zM543.3 266.0h1.1v1.1h-1.1zM546.6 278.8h1.1v1.1h-1.1zM546.0 281.5h1.1v1.1h-1.1zM543.9 296.0h1.1v1.1h-1.1zM545.3 296.8h1.1v1.1h-1.1zM545.1 265.1h1.1v1.1h-1.1zM538.0 258.4h1.1v1.1h-1.1zM543.3 260.2h1.1v1.1h-1.1zM543.2 288.6h1.1v1.1h-1.1zM546.7 273.0h1.1v1.1h-1.1zM542.2 291.6h1.1v1.1h-1.1zM545.8 284.2h1.1v1.1h-1.1zM542.4 258.9h1.1v1.1h-1.1zM546.5 257.4h1.1v1.1h-1.1zM543.9 265.3h1.1v1.1h-1.1zM544.8 268.7h1.1v1.1h-1.1zM542.6 291.0h1.1v1.1h-1.1zM537.6 285.5h1.1v1.1h-1.1zM546.3 277.7h1.1v1.1h-1.1zM546.6 283.5h1.1v1.1h-1.1zM539.1 264.3h1.1v1.1h-1.1zM540.9 292.4h1.1v1.1h-1.1zM546.0 293.0h1.1v1.1h-1.1zM543.1 297.4h1.1v1.1h-1.1zM541.7 290.6h1.1v1.1h-1.1zM545.0 290.7h1.1v1.1h-1.1zM544.7 294.0h1.1v1.1h-1.1zM544.7 294.0h1.1v1.1h-1.1zM537.1 280.5h1.1v1.1h-1.1zM544.6 294.8h1.1v1.1h-1.1zM539.3 303.3h1.1v1.1h-1.1zM541.2 258.5h1.1v1.1h-1.1zM545.5 288.2h1.1v1.1h-1.1zM545.5 277.5h1.1v1.1h-1.1zM545.7 292.1h1.1v1.1h-1.1zM540.0 289.8h1.1v1.1h-1.1zM544.8 292.1h1.1v1.1h-1.1zM545.5 303.7h1.1v1.1h-1.1zM541.7 262.9h1.1v1.1h-1.1zM545.3 292.4h1.1v1.1h-1.1zM538.1 290.6h1.1v1.1h-1.1zM542.7 294.1h1.1v1.1h-1.1zM542.8 295.1h1.1v1.1h-1.1zM542.0 290.8h1.1v1.1h-1.1zM546.3 278.5h1.1v1.1h-1.1zM537.8 298.7h1.1v1.1h-1.1zM543.5 292.9h1.1v1.1h-1.1zM541.9 281.5h1.1v1.1h-1.1zM537.3 284.5h1.1v1.1h-1.1zM545.4 291.2h1.1v1.1h-1.1zM537.4 291.0h1.1v1.1h-1.1zM542.9 285.9h1.1v1.1h-1.1zM538.5 297.2h1.1v1.1h-1.1zM537.9 293.4h1.1v1.1h-1.1zM542.7 298.1h1.1v1.1h-1.1zM541.2 293.7h1.1v1.1h-1.1zM545.9 287.6h1.1v1.1h-1.1zM546.1 282.5h1.1v1.1h-1.1zM541.2 284.0h1.1v1.1h-1.1zM546.5 277.6h1.1v1.1h-1.1zM545.6 305.5h1.1v1.1h-1.1zM545.7 307.8h1.1v1.1h-1.1zM546.3 288.4h1.1v1.1h-1.1zM541.8 279.3h1.1v1.1h-1.1zM546.0 263.4h1.1v1.1h-1.1zM546.7 273.9h1.1v1.1h-1.1zM540.7 283.2h1.1v1.1h-1.1zM544.1 264.8h1.1v1.1h-1.1zM544.1 282.9h1.1v1.1h-1.1zM538.4 274.3h1.1v1.1h-1.1zM540.8 283.4h1.1v1.1h-1.1zM544.7 286.0h1.1v1.1h-1.1zM542.0 308.2h1.1v1.1h-1.1zM545.7 292.2h1.1v1.1h-1.1zM540.5 274.5h1.1v1.1h-1.1zM537.7 279.6h1.1v1.1h-1.1zM540.8 294.1h1.1v1.1h-1.1zM543.6 292.7h1.1v1.1h-1.1zM544.4 277.1h1.1v1.1h-1.1zM541.3 277.4h1.1v1.1h-1.1zM542.1 287.3h1.1v1.1h-1.1zM540.6 287.7h1.1v1.1h-1.1zM544.0 286.3h1.1v1.1h-1.1zM541.0 285.7h1.1v1.1h-1.1zM545.8 276.2h1.1v1.1h-1.1zM539.0 269.0h1.1v1.1h-1.1zM545.3 290.4h1.1v1.1h-1.1zM544.1 267.9h1.1v1.1h-1.1zM537.5 288.6h1.1v1.1h-1.1zM540.1 287.4h1.1v1.1h-1.1zM543.1 301.7h1.1v1.1h-1.1zM542.3 284.1h1.1v1.1h-1.1zM542.8 235.9h1.1v1.1h-1.1zM544.2 282.3h1.1v1.1h-1.1zM542.9 291.9h1.1v1.1h-1.1zM538.7 292.4h1.1v1.1h-1.1zM539.0 297.5h1.1v1.1h-1.1zM545.0 289.4h1.1v1.1h-1.1zM545.9 298.6h1.1v1.1h-1.1zM537.0 296.1h1.1v1.1h-1.1zM543.2 263.0h1.1v1.1h-1.1zM546.0 288.0h1.1v1.1h-1.1zM543.8 292.6h1.1v1.1h-1.1zM544.6 294.7h1.1v1.1h-1.1zM537.4 300.1h1.1v1.1h-1.1zM541.2 297.7h1.1v1.1h-1.1zM537.4 270.5h1.1v1.1h-1.1zM542.1 285.7h1.1v1.1h-1.1zM542.1 293.9h1.1v1.1h-1.1zM537.0 269.7h1.1v1.1h-1.1zM544.7 278.9h1.1v1.1h-1.1zM543.8 286.5h1.1v1.1h-1.1zM545.6 300.6h1.1v1.1h-1.1zM539.8 238.5h1.1v1.1h-1.1zM537.2 299.5h1.1v1.1h-1.1zM539.4 270.1h1.1v1.1h-1.1zM543.2 299.2h1.1v1.1h-1.1zM543.7 295.5h1.1v1.1h-1.1zM540.1 293.1h1.1v1.1h-1.1zM546.3 296.8h1.1v1.1h-1.1zM545.6 284.5h1.1v1.1h-1.1zM538.2 299.2h1.1v1.1h-1.1zM542.2 278.6h1.1v1.1h-1.1zM544.7 246.8h1.1v1.1h-1.1zM544.3 264.8h1.1v1.1h-1.1zM544.5 277.1h1.1v1.1h-1.1zM542.0 271.5h1.1v1.1h-1.1zM545.4 244.6h1.1v1.1h-1.1zM543.9 255.1h1.1v1.1h-1.1zM540.4 303.0h1.1v1.1h-1.1zM539.6 277.1h1.1v1.1h-1.1zM540.2 277.8h1.1v1.1h-1.1zM541.6 294.6h1.1v1.1h-1.1zM543.4 297.4h1.1v1.1h-1.1zM541.6 298.3h1.1v1.1h-1.1zM540.3 302.1h1.1v1.1h-1.1zM539.7 267.7h1.1v1.1h-1.1zM543.8 293.1h1.1v1.1h-1.1zM543.2 295.8h1.1v1.1h-1.1zM542.9 270.9h1.1v1.1h-1.1zM538.8 264.6h1.1v1.1h-1.1zM544.6 299.7h1.1v1.1h-1.1zM539.5 295.5h1.1v1.1h-1.1zM544.2 289.7h1.1v1.1h-1.1zM543.1 301.1h1.1v1.1h-1.1zM545.7 291.4h1.1v1.1h-1.1zM540.8 293.5h1.1v1.1h-1.1zM546.3 268.1h1.1v1.1h-1.1zM544.6 288.6h1.1v1.1h-1.1zM540.4 285.8h1.1v1.1h-1.1zM544.4 294.3h1.1v1.1h-1.1zM546.5 269.7h1.1v1.1h-1.1zM543.9 304.4h1.1v1.1h-1.1zM539.9 298.2h1.1v1.1h-1.1zM540.6 282.4h1.1v1.1h-1.1zM545.3 274.8h1.1v1.1h-1.1zM544.7 283.2h1.1v1.1h-1.1zM545.2 292.8h1.1v1.1h-1.1zM537.2 285.7h1.1v1.1h-1.1zM539.4 286.2h1.1v1.1h-1.1zM545.1 271.5h1.1v1.1h-1.1zM545.2 290.8h1.1v1.1h-1.1zM539.7 271.5h1.1v1.1h-1.1zM540.4 285.5h1.1v1.1h-1.1zM543.0 270.7h1.1v1.1h-1.1zM542.1 286.9h1.1v1.1h-1.1zM537.8 290.8h1.1v1.1h-1.1zM537.9 278.1h1.1v1.1h-1.1zM542.9 305.1h1.1v1.1h-1.1zM543.0 280.2h1.1v1.1h-1.1zM540.5 289.8h1.1v1.1h-1.1zM543.1 278.6h1.1v1.1h-1.1zM545.5 255.6h1.1v1.1h-1.1zM546.3 283.1h1.1v1.1h-1.1zM537.2 284.8h1.1v1.1h-1.1zM539.3 291.1h1.1v1.1h-1.1zM540.3 288.3h1.1v1.1h-1.1zM544.2 275.4h1.1v1.1h-1.1zM537.3 272.2h1.1v1.1h-1.1zM546.2 290.7h1.1v1.1h-1.1zM540.3 287.0h1.1v1.1h-1.1zM543.7 301.0h1.1v1.1h-1.1zM537.6 281.3h1.1v1.1h-1.1zM537.2 288.4h1.1v1.1h-1.1zM538.2 286.2h1.1v1.1h-1.1zM539.2 299.8h1.1v1.1h-1.1zM540.7 288.5h1.1v1.1h-1.1zM538.3 284.7h1.1v1.1h-1.1zM538.6 285.9h1.1v1.1h-1.1zM544.1 277.5h1.1v1.1h-1.1zM542.6 284.9h1.1v1.1h-1.1zM542.2 298.3h1.1v1.1h-1.1zM544.9 280.9h1.1v1.1h-1.1zM541.7 294.2h1.1v1.1h-1.1zM537.8 297.8h1.1v1.1h-1.1zM543.3 259.1h1.1v1.1h-1.1zM540.5 287.1h1.1v1.1h-1.1zM539.5 293.3h1.1v1.1h-1.1zM541.5 279.7h1.1v1.1h-1.1zM542.4 285.1h1.1v1.1h-1.1zM539.7 298.7h1.1v1.1h-1.1zM538.9 244.4h1.1v1.1h-1.1zM538.9 278.0h1.1v1.1h-1.1zM539.4 269.2h1.1v1.1h-1.1zM538.1 310.7h1.1v1.1h-1.1zM537.0 291.2h1.1v1.1h-1.1zM541.1 291.1h1.1v1.1h-1.1zM545.3 290.5h1.1v1.1h-1.1zM539.3 281.0h1.1v1.1h-1.1zM544.8 264.5h1.1v1.1h-1.1zM544.2 293.3h1.1v1.1h-1.1zM541.0 290.8h1.1v1.1h-1.1zM542.8 291.9h1.1v1.1h-1.1zM541.5 266.4h1.1v1.1h-1.1zM542.8 287.9h1.1v1.1h-1.1zM539.6 258.3h1.1v1.1h-1.1zM537.9 290.4h1.1v1.1h-1.1zM537.6 303.3h1.1v1.1h-1.1zM540.1 284.0h1.1v1.1h-1.1zM545.2 280.3h1.1v1.1h-1.1zM546.2 289.6h1.1v1.1h-1.1zM537.7 297.0h1.1v1.1h-1.1zM537.6 267.5h1.1v1.1h-1.1zM543.0 302.1h1.1v1.1h-1.1zM537.8 302.8h1.1v1.1h-1.1zM540.0 272.8h1.1v1.1h-1.1zM537.6 304.4h1.1v1.1h-1.1zM540.9 296.4h1.1v1.1h-1.1zM540.9 288.0h1.1v1.1h-1.1zM542.0 297.4h1.1v1.1h-1.1zM543.8 292.9h1.1v1.1h-1.1zM540.9 285.6h1.1v1.1h-1.1zM541.8 289.5h1.1v1.1h-1.1zM542.5 302.5h1.1v1.1h-1.1zM542.1 278.0h1.1v1.1h-1.1zM540.7 260.6h1.1v1.1h-1.1zM542.3 290.5h1.1v1.1h-1.1zM543.7 294.2h1.1v1.1h-1.1zM544.8 308.6h1.1v1.1h-1.1zM538.8 300.2h1.1v1.1h-1.1zM538.9 280.9h1.1v1.1h-1.1zM546.7 294.0h1.1v1.1h-1.1zM544.5 291.0h1.1v1.1h-1.1zM545.0 297.1h1.1v1.1h-1.1zM541.4 264.7h1.1v1.1h-1.1zM541.3 276.7h1.1v1.1h-1.1zM538.4 291.2h1.1v1.1h-1.1zM544.2 294.1h1.1v1.1h-1.1zM542.6 254.4h1.1v1.1h-1.1zM544.9 259.3h1.1v1.1h-1.1zM545.5 298.8h1.1v1.1h-1.1zM543.1 299.3h1.1v1.1h-1.1zM537.0 286.2h1.1v1.1h-1.1zM538.5 291.5h1.1v1.1h-1.1zM540.4 300.1h1.1v1.1h-1.1zM539.4 280.3h1.1v1.1h-1.1zM541.3 267.9h1.1v1.1h-1.1zM545.6 284.6h1.1v1.1h-1.1zM539.1 282.1h1.1v1.1h-1.1zM546.3 281.5h1.1v1.1h-1.1zM543.6 254.8h1.1v1.1h-1.1zM538.1 259.1h1.1v1.1h-1.1zM540.5 296.3h1.1v1.1h-1.1zM543.8 278.8h1.1v1.1h-1.1zM540.0 293.5h1.1v1.1h-1.1zM544.1 272.5h1.1v1.1h-1.1zM539.0 302.7h1.1v1.1h-1.1zM539.9 275.6h1.1v1.1h-1.1zM543.6 310.1h1.1v1.1h-1.1zM546.1 294.6h1.1v1.1h-1.1zM540.5 285.3h1.1v1.1h-1.1zM543.3 249.2h1.1v1.1h-1.1zM540.7 290.9h1.1v1.1h-1.1zM541.8 281.9h1.1v1.1h-1.1zM543.1 297.5h1.1v1.1h-1.1zM538.5 310.0h1.1v1.1h-1.1zM543.2 283.9h1.1v1.1h-1.1zM545.2 265.5h1.1v1.1h-1.1zM543.8 296.8h1.1v1.1h-1.1zM544.3 267.0h1.1v1.1h-1.1zM538.7 294.7h1.1v1.1h-1.1zM542.8 284.8h1.1v1.1h-1.1zM545.8 265.7h1.1v1.1h-1.1zM545.7 281.9h1.1v1.1h-1.1zM539.9 290.9h1.1v1.1h-1.1zM542.3 301.5h1.1v1.1h-1.1zM538.7 293.1h1.1v1.1h-1.1zM540.7 283.0h1.1v1.1h-1.1zM544.5 292.5h1.1v1.1h-1.1zM546.7 297.7h1.1v1.1h-1.1zM541.5 297.9h1.1v1.1h-1.1zM543.8 266.0h1.1v1.1h-1.1zM541.4 278.8h1.1v1.1h-1.1zM543.9 264.3h1.1v1.1h-1.1zM543.6 263.6h1.1v1.1h-1.1zM544.4 266.8h1.1v1.1h-1.1zM537.8 266.1h1.1v1.1h-1.1zM541.7 275.6h1.1v1.1h-1.1zM545.3 276.0h1.1v1.1h-1.1zM540.4 292.5h1.1v1.1h-1.1zM545.4 285.4h1.1v1.1h-1.1zM542.6 282.9h1.1v1.1h-1.1zM541.9 297.3h1.1v1.1h-1.1zM539.3 263.3h1.1v1.1h-1.1zM540.9 274.6h1.1v1.1h-1.1zM537.0 285.3h1.1v1.1h-1.1zM541.3 245.4h1.1v1.1h-1.1zM542.3 286.9h1.1v1.1h-1.1zM546.0 258.0h1.1v1.1h-1.1zM542.0 298.3h1.1v1.1h-1.1zM543.5 276.3h1.1v1.1h-1.1zM537.6 284.2h1.1v1.1h-1.1zM540.7 286.8h1.1v1.1h-1.1zM540.8 296.9h1.1v1.1h-1.1zM538.5 271.7h1.1v1.1h-1.1zM543.4 243.7h1.1v1.1h-1.1zM546.2 288.0h1.1v1.1h-1.1zM541.2 278.8h1.1v1.1h-1.1zM539.6 282.9h1.1v1.1h-1.1zM540.4 300.5h1.1v1.1h-1.1zM541.6 273.4h1.1v1.1h-1.1zM545.5 290.5h1.1v1.1h-1.1zM539.1 302.8h1.1v1.1h-1.1zM545.5 300.7h1.1v1.1h-1.1zM541.5 282.9h1.1v1.1h-1.1zM544.2 285.1h1.1v1.1h-1.1zM539.9 250.2h1.1v1.1h-1.1zM545.3 296.9h1.1v1.1h-1.1zM537.5 294.0h1.1v1.1h-1.1zM542.3 289.7h1.1v1.1h-1.1zM537.6 290.9h1.1v1.1h-1.1zM541.9 298.6h1.1v1.1h-1.1zM538.4 275.6h1.1v1.1h-1.1zM544.3 281.4h1.1v1.1h-1.1zM537.9 285.0h1.1v1.1h-1.1zM541.4 253.2h1.1v1.1h-1.1zM540.9 307.4h1.1v1.1h-1.1zM540.8 296.1h1.1v1.1h-1.1zM541.8 293.6h1.1v1.1h-1.1zM538.5 284.1h1.1v1.1h-1.1zM545.0 272.3h1.1v1.1h-1.1zM541.2 280.5h1.1v1.1h-1.1zM544.5 293.4h1.1v1.1h-1.1zM541.0 266.8h1.1v1.1h-1.1zM539.2 245.1h1.1v1.1h-1.1zM545.5 240.6h1.1v1.1h-1.1zM544.7 274.5h1.1v1.1h-1.1zM539.2 289.2h1.1v1.1h-1.1zM538.2 293.0h1.1v1.1h-1.1zM539.4 291.7h1.1v1.1h-1.1zM544.7 290.6h1.1v1.1h-1.1zM544.7 289.1h1.1v1.1h-1.1zM540.0 306.0h1.1v1.1h-1.1zM538.8 272.0h1.1v1.1h-1.1zM540.9 285.9h1.1v1.1h-1.1zM545.8 289.5h1.1v1.1h-1.1zM545.9 281.9h1.1v1.1h-1.1zM543.2 277.7h1.1v1.1h-1.1zM538.2 294.2h1.1v1.1h-1.1zM543.7 276.0h1.1v1.1h-1.1zM543.9 280.9h1.1v1.1h-1.1zM542.9 281.9h1.1v1.1h-1.1zM539.0 301.4h1.1v1.1h-1.1zM539.1 266.0h1.1v1.1h-1.1zM537.3 278.8h1.1v1.1h-1.1zM544.4 238.7h1.1v1.1h-1.1zM546.1 282.5h1.1v1.1h-1.1zM539.0 302.3h1.1v1.1h-1.1zM544.7 292.1h1.1v1.1h-1.1zM539.6 261.0h1.1v1.1h-1.1zM546.0 296.9h1.1v1.1h-1.1zM544.5 300.9h1.1v1.1h-1.1zM543.2 286.9h1.1v1.1h-1.1zM539.7 280.9h1.1v1.1h-1.1zM539.8 274.1h1.1v1.1h-1.1zM540.9 287.5h1.1v1.1h-1.1zM538.3 294.4h1.1v1.1h-1.1zM541.2 308.1h1.1v1.1h-1.1zM545.7 282.7h1.1v1.1h-1.1zM542.0 267.2h1.1v1.1h-1.1zM544.0 266.7h1.1v1.1h-1.1zM545.1 286.7h1.1v1.1h-1.1zM539.0 255.7h1.1v1.1h-1.1zM541.1 297.4h1.1v1.1h-1.1zM543.1 286.2h1.1v1.1h-1.1zM537.1 297.9h1.1v1.1h-1.1zM540.5 305.9h1.1v1.1h-1.1zM543.5 258.6h1.1v1.1h-1.1zM540.2 286.6h1.1v1.1h-1.1zM540.0 255.1h1.1v1.1h-1.1zM546.3 285.4h1.1v1.1h-1.1zM540.9 282.0h1.1v1.1h-1.1zM537.1 290.9h1.1v1.1h-1.1zM543.4 295.8h1.1v1.1h-1.1zM539.7 299.1h1.1v1.1h-1.1zM543.9 285.2h1.1v1.1h-1.1zM541.2 286.4h1.1v1.1h-1.1zM540.6 292.7h1.1v1.1h-1.1zM541.4 278.8h1.1v1.1h-1.1zM541.5 251.5h1.1v1.1h-1.1zM545.2 249.3h1.1v1.1h-1.1zM541.1 295.4h1.1v1.1h-1.1zM538.2 282.1h1.1v1.1h-1.1zM544.8 309.5h1.1v1.1h-1.1zM546.6 308.6h1.1v1.1h-1.1zM545.3 302.0h1.1v1.1h-1.1zM543.6 271.1h1.1v1.1h-1.1zM543.3 304.1h1.1v1.1h-1.1zM542.8 292.7h1.1v1.1h-1.1zM539.5 296.8h1.1v1.1h-1.1zM541.5 290.8h1.1v1.1h-1.1zM544.6 300.4h1.1v1.1h-1.1zM543.5 268.9h1.1v1.1h-1.1zM542.1 292.2h1.1v1.1h-1.1zM544.1 283.2h1.1v1.1h-1.1zM542.7 307.6h1.1v1.1h-1.1zM543.8 295.2h1.1v1.1h-1.1zM544.6 275.0h1.1v1.1h-1.1zM541.4 298.6h1.1v1.1h-1.1zM541.6 290.1h1.1v1.1h-1.1zM538.1 300.8h1.1v1.1h-1.1zM546.6 304.2h1.1v1.1h-1.1zM546.0 286.5h1.1v1.1h-1.1zM541.0 293.7h1.1v1.1h-1.1zM543.6 245.6h1.1v1.1h-1.1zM539.3 285.8h1.1v1.1h-1.1zM537.3 297.2h1.1v1.1h-1.1zM543.9 297.8h1.1v1.1h-1.1zM544.7 305.5h1.1v1.1h-1.1zM537.6 275.3h1.1v1.1h-1.1zM539.7 258.0h1.1v1.1h-1.1zM537.7 293.6h1.1v1.1h-1.1zM545.1 270.8h1.1v1.1h-1.1zM543.0 259.2h1.1v1.1h-1.1zM546.7 261.9h1.1v1.1h-1.1zM543.8 284.1h1.1v1.1h-1.1zM542.5 292.3h1.1v1.1h-1.1zM541.1 287.1h1.1v1.1h-1.1zM540.9 286.3h1.1v1.1h-1.1zM542.0 266.6h1.1v1.1h-1.1zM544.1 295.9h1.1v1.1h-1.1zM542.3 305.1h1.1v1.1h-1.1zM538.4 267.6h1.1v1.1h-1.1zM544.1 281.2h1.1v1.1h-1.1zM538.2 303.5h1.1v1.1h-1.1zM540.9 286.0h1.1v1.1h-1.1zM537.5 292.2h1.1v1.1h-1.1zM546.1 305.3h1.1v1.1h-1.1zM545.9 299.5h1.1v1.1h-1.1zM537.8 263.6h1.1v1.1h-1.1zM544.4 278.4h1.1v1.1h-1.1zM546.0 275.5h1.1v1.1h-1.1zM539.6 292.3h1.1v1.1h-1.1zM542.8 289.3h1.1v1.1h-1.1zM538.5 290.2h1.1v1.1h-1.1zM542.9 292.3h1.1v1.1h-1.1zM545.0 277.9h1.1v1.1h-1.1zM546.2 284.8h1.1v1.1h-1.1zM538.0 286.1h1.1v1.1h-1.1zM540.4 301.9h1.1v1.1h-1.1zM542.9 294.4h1.1v1.1h-1.1zM537.0 278.6h1.1v1.1h-1.1zM541.9 297.4h1.1v1.1h-1.1zM540.4 296.5h1.1v1.1h-1.1zM537.5 293.4h1.1v1.1h-1.1zM542.5 289.1h1.1v1.1h-1.1zM539.4 294.0h1.1v1.1h-1.1zM539.5 290.6h1.1v1.1h-1.1zM538.8 279.4h1.1v1.1h-1.1zM545.2 275.8h1.1v1.1h-1.1zM542.2 301.4h1.1v1.1h-1.1zM539.4 268.9h1.1v1.1h-1.1zM544.0 299.7h1.1v1.1h-1.1zM542.1 296.7h1.1v1.1h-1.1zM541.9 270.6h1.1v1.1h-1.1zM541.3 294.2h1.1v1.1h-1.1zM537.4 290.4h1.1v1.1h-1.1zM537.6 281.1h1.1v1.1h-1.1zM541.7 303.2h1.1v1.1h-1.1zM545.6 259.2h1.1v1.1h-1.1zM545.2 299.1h1.1v1.1h-1.1zM542.5 252.1h1.1v1.1h-1.1zM538.2 281.4h1.1v1.1h-1.1zM537.9 271.2h1.1v1.1h-1.1zM537.7 277.8h1.1v1.1h-1.1zM537.7 265.7h1.1v1.1h-1.1zM538.9 294.2h1.1v1.1h-1.1zM537.9 292.7h1.1v1.1h-1.1zM539.9 262.3h1.1v1.1h-1.1zM542.3 276.5h1.1v1.1h-1.1zM545.5 281.8h1.1v1.1h-1.1zM538.3 308.1h1.1v1.1h-1.1zM540.6 280.4h1.1v1.1h-1.1zM541.8 303.6h1.1v1.1h-1.1zM542.5 275.0h1.1v1.1h-1.1zM540.7 303.5h1.1v1.1h-1.1zM540.6 302.3h1.1v1.1h-1.1zM541.0 292.7h1.1v1.1h-1.1zM546.7 291.6h1.1v1.1h-1.1zM538.8 256.5h1.1v1.1h-1.1zM538.5 307.9h1.1v1.1h-1.1zM540.2 299.9h1.1v1.1h-1.1zM544.7 295.5h1.1v1.1h-1.1zM537.0 300.0h1.1v1.1h-1.1zM542.2 302.1h1.1v1.1h-1.1zM541.2 291.1h1.1v1.1h-1.1zM544.3 301.5h1.1v1.1h-1.1zM546.1 282.3h1.1v1.1h-1.1zM545.7 306.3h1.1v1.1h-1.1zM543.4 277.0h1.1v1.1h-1.1zM545.6 299.9h1.1v1.1h-1.1zM541.6 306.4h1.1v1.1h-1.1zM537.2 288.0h1.1v1.1h-1.1zM544.7 284.5h1.1v1.1h-1.1zM538.4 280.6h1.1v1.1h-1.1zM542.3 280.9h1.1v1.1h-1.1zM538.3 299.5h1.1v1.1h-1.1zM539.3 281.4h1.1v1.1h-1.1zM539.7 282.2h1.1v1.1h-1.1zM539.4 235.8h1.1v1.1h-1.1zM537.1 255.8h1.1v1.1h-1.1zM538.8 282.8h1.1v1.1h-1.1zM539.1 287.7h1.1v1.1h-1.1zM542.5 287.3h1.1v1.1h-1.1zM537.6 291.4h1.1v1.1h-1.1zM539.9 273.5h1.1v1.1h-1.1zM540.2 284.3h1.1v1.1h-1.1zM544.5 271.5h1.1v1.1h-1.1zM537.9 284.2h1.1v1.1h-1.1zM546.2 288.5h1.1v1.1h-1.1zM543.4 261.4h1.1v1.1h-1.1zM544.3 284.8h1.1v1.1h-1.1zM542.9 272.7h1.1v1.1h-1.1zM545.0 289.8h1.1v1.1h-1.1zM539.5 290.9h1.1v1.1h-1.1zM539.0 266.8h1.1v1.1h-1.1zM540.6 309.8h1.1v1.1h-1.1zM544.2 289.8h1.1v1.1h-1.1zM541.8 292.4h1.1v1.1h-1.1zM539.2 284.4h1.1v1.1h-1.1zM544.1 288.3h1.1v1.1h-1.1zM546.2 274.1h1.1v1.1h-1.1zM538.7 274.7h1.1v1.1h-1.1zM539.3 267.1h1.1v1.1h-1.1zM545.8 292.3h1.1v1.1h-1.1zM544.3 276.8h1.1v1.1h-1.1zM541.3 292.9h1.1v1.1h-1.1zM540.6 277.9h1.1v1.1h-1.1zM539.2 288.5h1.1v1.1h-1.1zM544.1 306.9h1.1v1.1h-1.1zM538.6 284.8h1.1v1.1h-1.1zM538.1 262.1h1.1v1.1h-1.1zM545.5 292.7h1.1v1.1h-1.1zM539.9 290.7h1.1v1.1h-1.1zM545.1 278.9h1.1v1.1h-1.1zM540.7 273.0h1.1v1.1h-1.1zM543.7 298.8h1.1v1.1h-1.1zM542.5 266.1h1.1v1.1h-1.1zM539.7 286.0h1.1v1.1h-1.1zM545.0 283.0h1.1v1.1h-1.1zM540.4 293.5h1.1v1.1h-1.1zM539.3 249.1h1.1v1.1h-1.1zM543.1 275.4h1.1v1.1h-1.1zM546.2 296.2h1.1v1.1h-1.1zM538.0 288.7h1.1v1.1h-1.1zM544.9 293.9h1.1v1.1h-1.1zM542.3 273.9h1.1v1.1h-1.1zM541.5 299.8h1.1v1.1h-1.1zM543.4 285.5h1.1v1.1h-1.1zM544.2 301.5h1.1v1.1h-1.1zM543.0 293.4h1.1v1.1h-1.1zM544.4 258.6h1.1v1.1h-1.1zM544.6 299.8h1.1v1.1h-1.1zM541.8 296.9h1.1v1.1h-1.1zM542.8 303.6h1.1v1.1h-1.1zM543.0 271.6h1.1v1.1h-1.1zM539.4 248.3h1.1v1.1h-1.1zM543.4 286.6h1.1v1.1h-1.1zM538.6 277.4h1.1v1.1h-1.1zM545.0 272.2h1.1v1.1h-1.1zM542.5 280.0h1.1v1.1h-1.1zM546.2 287.9h1.1v1.1h-1.1zM541.1 287.7h1.1v1.1h-1.1zM544.3 295.5h1.1v1.1h-1.1z" fill="#BDB78A" stroke="#2A2814" stroke-width="0.32" stroke-opacity="0.78"/>
<line x1="542.4" x2="542.4" y1="247.3" y2="278.1" stroke="#111" stroke-width="0.6"/>
<line x1="542.4" x2="542.4" y1="296.9" y2="316.3" stroke="#111" stroke-width="0.6"/>
<rect x="534.1" y="278.1" width="16.8" height="18.8" fill="#E6E0B0" fill-opacity="0.72" stroke="#222" stroke-width="0.6"/>
<line x1="534.1" x2="550.9" y1="288.3" y2="288.3" stroke="#111" stroke-width="1.1"/>
<line x1="580.1" x2="580.1" y1="334.3" y2="337.5" stroke="#777" stroke-width="0.7"/>
<text x="580.10" y="348.80" font-size="8.6" text-anchor="middle" fill="#222" textLength="15.4" lengthAdjust="spacingAndGlyphs" >MCI</text>
<path d="M576.2 189.9h1.1v1.1h-1.1zM575.2 203.1h1.1v1.1h-1.1zM578.7 212.1h1.1v1.1h-1.1zM579.8 215.4h1.1v1.1h-1.1zM577.0 217.9h1.1v1.1h-1.1zM577.4 224.9h1.1v1.1h-1.1zM582.2 229.4h1.1v1.1h-1.1zM575.4 230.2h1.1v1.1h-1.1zM574.7 269.7h1.1v1.1h-1.1zM577.4 279.0h1.1v1.1h-1.1zM579.3 285.0h1.1v1.1h-1.1zM582.0 304.3h1.1v1.1h-1.1zM580.6 307.4h1.1v1.1h-1.1zM576.0 274.2h1.1v1.1h-1.1zM579.9 299.4h1.1v1.1h-1.1zM576.8 292.4h1.1v1.1h-1.1zM577.6 288.9h1.1v1.1h-1.1zM577.0 294.3h1.1v1.1h-1.1zM582.0 286.5h1.1v1.1h-1.1zM581.2 273.7h1.1v1.1h-1.1zM575.4 257.8h1.1v1.1h-1.1zM581.0 281.1h1.1v1.1h-1.1zM582.1 299.4h1.1v1.1h-1.1zM582.3 272.5h1.1v1.1h-1.1zM575.6 290.7h1.1v1.1h-1.1zM580.4 296.2h1.1v1.1h-1.1zM583.3 308.5h1.1v1.1h-1.1zM576.5 292.3h1.1v1.1h-1.1zM578.8 302.4h1.1v1.1h-1.1zM584.1 269.2h1.1v1.1h-1.1zM582.9 264.5h1.1v1.1h-1.1zM583.9 284.0h1.1v1.1h-1.1zM580.4 296.2h1.1v1.1h-1.1zM577.8 285.9h1.1v1.1h-1.1zM576.5 290.1h1.1v1.1h-1.1zM580.4 297.5h1.1v1.1h-1.1zM580.5 282.8h1.1v1.1h-1.1zM580.2 300.6h1.1v1.1h-1.1zM578.3 287.2h1.1v1.1h-1.1zM583.2 285.7h1.1v1.1h-1.1zM584.0 306.1h1.1v1.1h-1.1zM575.0 287.5h1.1v1.1h-1.1zM574.7 288.0h1.1v1.1h-1.1zM576.8 300.6h1.1v1.1h-1.1zM583.2 300.2h1.1v1.1h-1.1zM578.1 284.7h1.1v1.1h-1.1zM583.9 281.3h1.1v1.1h-1.1zM584.2 299.0h1.1v1.1h-1.1zM575.8 265.9h1.1v1.1h-1.1zM578.3 249.6h1.1v1.1h-1.1zM574.8 269.9h1.1v1.1h-1.1zM574.7 295.5h1.1v1.1h-1.1zM583.1 236.1h1.1v1.1h-1.1zM578.0 288.0h1.1v1.1h-1.1zM575.1 293.1h1.1v1.1h-1.1zM580.5 253.7h1.1v1.1h-1.1zM582.1 279.0h1.1v1.1h-1.1zM577.0 275.8h1.1v1.1h-1.1zM580.3 252.1h1.1v1.1h-1.1zM580.9 287.1h1.1v1.1h-1.1zM575.0 282.5h1.1v1.1h-1.1zM580.6 264.4h1.1v1.1h-1.1zM580.0 295.2h1.1v1.1h-1.1zM578.1 292.3h1.1v1.1h-1.1zM580.9 278.5h1.1v1.1h-1.1zM581.4 295.1h1.1v1.1h-1.1zM576.0 246.9h1.1v1.1h-1.1zM579.8 248.1h1.1v1.1h-1.1zM576.0 263.5h1.1v1.1h-1.1zM581.6 301.5h1.1v1.1h-1.1zM579.3 289.1h1.1v1.1h-1.1zM583.3 282.8h1.1v1.1h-1.1zM581.6 286.6h1.1v1.1h-1.1zM576.1 290.5h1.1v1.1h-1.1zM581.5 279.7h1.1v1.1h-1.1zM575.5 294.5h1.1v1.1h-1.1zM575.6 299.7h1.1v1.1h-1.1zM577.5 292.6h1.1v1.1h-1.1zM574.9 284.8h1.1v1.1h-1.1zM582.5 282.2h1.1v1.1h-1.1zM574.8 258.7h1.1v1.1h-1.1zM576.8 289.7h1.1v1.1h-1.1zM578.6 268.7h1.1v1.1h-1.1zM577.2 273.3h1.1v1.1h-1.1zM583.0 285.4h1.1v1.1h-1.1zM582.1 292.3h1.1v1.1h-1.1zM581.4 252.8h1.1v1.1h-1.1zM579.8 296.6h1.1v1.1h-1.1zM578.2 279.2h1.1v1.1h-1.1zM575.2 290.6h1.1v1.1h-1.1zM580.6 267.5h1.1v1.1h-1.1zM578.0 289.9h1.1v1.1h-1.1zM575.3 281.8h1.1v1.1h-1.1zM584.2 301.8h1.1v1.1h-1.1zM576.1 285.5h1.1v1.1h-1.1zM577.0 304.8h1.1v1.1h-1.1zM579.1 296.4h1.1v1.1h-1.1zM579.0 291.8h1.1v1.1h-1.1zM583.5 289.2h1.1v1.1h-1.1zM575.9 240.2h1.1v1.1h-1.1zM581.2 300.7h1.1v1.1h-1.1zM577.0 286.5h1.1v1.1h-1.1zM581.3 297.5h1.1v1.1h-1.1zM577.8 301.9h1.1v1.1h-1.1zM582.3 241.7h1.1v1.1h-1.1zM581.6 290.2h1.1v1.1h-1.1zM583.5 298.3h1.1v1.1h-1.1zM575.8 287.7h1.1v1.1h-1.1zM580.5 296.7h1.1v1.1h-1.1zM576.9 283.9h1.1v1.1h-1.1zM581.1 302.8h1.1v1.1h-1.1zM581.5 289.5h1.1v1.1h-1.1zM581.2 298.6h1.1v1.1h-1.1zM584.0 282.2h1.1v1.1h-1.1zM581.8 286.2h1.1v1.1h-1.1zM578.3 278.4h1.1v1.1h-1.1zM580.7 277.3h1.1v1.1h-1.1zM583.1 297.9h1.1v1.1h-1.1zM579.8 293.1h1.1v1.1h-1.1zM582.9 301.9h1.1v1.1h-1.1zM576.2 297.7h1.1v1.1h-1.1zM582.8 265.6h1.1v1.1h-1.1zM583.4 275.3h1.1v1.1h-1.1zM580.9 293.6h1.1v1.1h-1.1zM583.0 287.7h1.1v1.1h-1.1zM575.1 285.4h1.1v1.1h-1.1zM579.2 294.5h1.1v1.1h-1.1zM582.0 284.3h1.1v1.1h-1.1zM582.2 268.1h1.1v1.1h-1.1zM581.6 308.1h1.1v1.1h-1.1zM576.2 298.5h1.1v1.1h-1.1zM584.3 295.3h1.1v1.1h-1.1zM578.8 276.4h1.1v1.1h-1.1zM584.0 289.6h1.1v1.1h-1.1zM578.5 237.3h1.1v1.1h-1.1zM575.1 288.9h1.1v1.1h-1.1zM581.0 268.8h1.1v1.1h-1.1zM582.7 276.8h1.1v1.1h-1.1zM582.8 299.0h1.1v1.1h-1.1zM575.8 268.3h1.1v1.1h-1.1zM579.7 297.3h1.1v1.1h-1.1zM583.2 306.3h1.1v1.1h-1.1zM576.9 285.4h1.1v1.1h-1.1zM584.4 284.3h1.1v1.1h-1.1zM575.3 292.5h1.1v1.1h-1.1zM578.5 271.0h1.1v1.1h-1.1zM575.0 285.1h1.1v1.1h-1.1zM575.7 260.9h1.1v1.1h-1.1zM582.2 281.0h1.1v1.1h-1.1zM576.9 282.2h1.1v1.1h-1.1zM579.5 269.6h1.1v1.1h-1.1zM580.7 304.9h1.1v1.1h-1.1zM575.0 287.3h1.1v1.1h-1.1zM578.8 288.8h1.1v1.1h-1.1zM575.2 287.5h1.1v1.1h-1.1zM581.5 291.2h1.1v1.1h-1.1zM578.6 277.7h1.1v1.1h-1.1zM577.1 284.5h1.1v1.1h-1.1zM579.5 291.6h1.1v1.1h-1.1zM580.8 292.6h1.1v1.1h-1.1zM580.1 284.1h1.1v1.1h-1.1zM581.6 251.6h1.1v1.1h-1.1zM577.3 309.9h1.1v1.1h-1.1zM575.0 295.5h1.1v1.1h-1.1zM580.6 297.7h1.1v1.1h-1.1zM580.8 286.5h1.1v1.1h-1.1zM576.9 271.7h1.1v1.1h-1.1zM577.1 236.3h1.1v1.1h-1.1zM584.2 297.7h1.1v1.1h-1.1zM583.4 274.4h1.1v1.1h-1.1zM577.9 258.0h1.1v1.1h-1.1zM576.8 281.0h1.1v1.1h-1.1zM582.6 300.3h1.1v1.1h-1.1zM583.5 305.9h1.1v1.1h-1.1zM578.7 285.6h1.1v1.1h-1.1zM581.2 247.2h1.1v1.1h-1.1zM580.1 287.0h1.1v1.1h-1.1zM576.0 283.5h1.1v1.1h-1.1zM582.6 293.0h1.1v1.1h-1.1zM583.2 261.0h1.1v1.1h-1.1zM583.6 298.6h1.1v1.1h-1.1zM578.8 240.6h1.1v1.1h-1.1zM575.1 301.1h1.1v1.1h-1.1zM581.0 302.4h1.1v1.1h-1.1zM576.0 253.8h1.1v1.1h-1.1zM575.1 284.2h1.1v1.1h-1.1zM581.6 265.0h1.1v1.1h-1.1zM582.1 310.5h1.1v1.1h-1.1zM578.9 284.4h1.1v1.1h-1.1zM584.4 273.9h1.1v1.1h-1.1zM582.1 260.9h1.1v1.1h-1.1zM576.2 281.5h1.1v1.1h-1.1zM579.7 276.7h1.1v1.1h-1.1zM579.5 236.3h1.1v1.1h-1.1zM579.9 266.3h1.1v1.1h-1.1zM580.5 293.9h1.1v1.1h-1.1zM575.1 297.3h1.1v1.1h-1.1zM584.0 300.5h1.1v1.1h-1.1zM575.7 291.4h1.1v1.1h-1.1zM580.1 283.6h1.1v1.1h-1.1zM582.5 299.5h1.1v1.1h-1.1zM583.9 273.4h1.1v1.1h-1.1zM580.5 296.1h1.1v1.1h-1.1zM580.1 304.0h1.1v1.1h-1.1zM584.1 293.8h1.1v1.1h-1.1zM582.1 273.9h1.1v1.1h-1.1zM582.5 288.1h1.1v1.1h-1.1zM577.8 289.5h1.1v1.1h-1.1zM582.1 295.0h1.1v1.1h-1.1zM576.7 270.1h1.1v1.1h-1.1zM582.0 291.0h1.1v1.1h-1.1zM576.8 287.8h1.1v1.1h-1.1zM579.6 281.7h1.1v1.1h-1.1zM574.7 296.1h1.1v1.1h-1.1zM576.6 285.6h1.1v1.1h-1.1zM578.7 280.0h1.1v1.1h-1.1zM575.8 262.8h1.1v1.1h-1.1zM578.0 282.5h1.1v1.1h-1.1zM578.5 264.3h1.1v1.1h-1.1zM578.8 279.2h1.1v1.1h-1.1zM583.5 292.2h1.1v1.1h-1.1zM576.8 289.0h1.1v1.1h-1.1zM582.0 248.4h1.1v1.1h-1.1zM578.9 283.9h1.1v1.1h-1.1zM577.0 257.0h1.1v1.1h-1.1zM575.1 287.4h1.1v1.1h-1.1zM583.7 290.6h1.1v1.1h-1.1zM577.3 304.3h1.1v1.1h-1.1zM579.4 233.9h1.1v1.1h-1.1zM578.1 285.5h1.1v1.1h-1.1zM579.7 276.9h1.1v1.1h-1.1zM582.9 256.2h1.1v1.1h-1.1zM579.8 275.1h1.1v1.1h-1.1zM575.2 261.9h1.1v1.1h-1.1zM582.6 252.1h1.1v1.1h-1.1zM579.4 281.7h1.1v1.1h-1.1zM578.4 243.1h1.1v1.1h-1.1zM578.4 244.7h1.1v1.1h-1.1zM581.1 286.4h1.1v1.1h-1.1zM579.3 268.7h1.1v1.1h-1.1zM581.5 296.4h1.1v1.1h-1.1zM577.5 301.1h1.1v1.1h-1.1zM577.8 283.9h1.1v1.1h-1.1zM580.1 288.3h1.1v1.1h-1.1zM583.2 250.1h1.1v1.1h-1.1zM574.9 298.0h1.1v1.1h-1.1zM580.1 299.6h1.1v1.1h-1.1zM580.7 254.5h1.1v1.1h-1.1zM577.3 244.9h1.1v1.1h-1.1zM575.2 286.4h1.1v1.1h-1.1zM577.9 307.1h1.1v1.1h-1.1zM583.1 291.7h1.1v1.1h-1.1zM577.1 284.0h1.1v1.1h-1.1zM575.4 280.2h1.1v1.1h-1.1zM578.9 292.7h1.1v1.1h-1.1zM583.0 303.6h1.1v1.1h-1.1zM578.6 286.4h1.1v1.1h-1.1zM576.3 288.6h1.1v1.1h-1.1zM577.5 285.0h1.1v1.1h-1.1zM581.5 270.6h1.1v1.1h-1.1zM580.1 270.5h1.1v1.1h-1.1zM580.0 286.1h1.1v1.1h-1.1zM578.2 300.1h1.1v1.1h-1.1zM580.0 282.4h1.1v1.1h-1.1zM574.8 280.7h1.1v1.1h-1.1zM577.2 292.2h1.1v1.1h-1.1zM579.8 289.6h1.1v1.1h-1.1zM578.8 291.5h1.1v1.1h-1.1zM582.4 267.4h1.1v1.1h-1.1zM583.7 257.1h1.1v1.1h-1.1zM579.8 302.7h1.1v1.1h-1.1zM584.3 292.0h1.1v1.1h-1.1zM579.9 292.3h1.1v1.1h-1.1zM580.3 270.4h1.1v1.1h-1.1zM581.7 270.3h1.1v1.1h-1.1zM582.6 280.5h1.1v1.1h-1.1zM578.6 293.9h1.1v1.1h-1.1zM583.2 280.2h1.1v1.1h-1.1zM577.8 293.8h1.1v1.1h-1.1zM580.1 295.4h1.1v1.1h-1.1zM583.4 289.2h1.1v1.1h-1.1zM575.5 283.9h1.1v1.1h-1.1zM578.0 287.8h1.1v1.1h-1.1zM578.2 297.5h1.1v1.1h-1.1zM578.0 275.8h1.1v1.1h-1.1zM576.0 283.9h1.1v1.1h-1.1zM577.7 283.0h1.1v1.1h-1.1zM581.6 284.0h1.1v1.1h-1.1zM581.6 244.7h1.1v1.1h-1.1zM576.2 275.6h1.1v1.1h-1.1zM584.1 295.6h1.1v1.1h-1.1zM574.7 287.4h1.1v1.1h-1.1zM582.4 293.0h1.1v1.1h-1.1zM576.6 283.9h1.1v1.1h-1.1zM584.2 276.5h1.1v1.1h-1.1zM574.7 282.4h1.1v1.1h-1.1zM577.5 296.7h1.1v1.1h-1.1zM583.6 300.1h1.1v1.1h-1.1zM575.0 300.2h1.1v1.1h-1.1zM579.7 294.4h1.1v1.1h-1.1zM575.3 278.8h1.1v1.1h-1.1zM584.2 264.1h1.1v1.1h-1.1zM578.3 280.8h1.1v1.1h-1.1zM576.7 296.8h1.1v1.1h-1.1zM578.4 270.7h1.1v1.1h-1.1zM576.9 271.5h1.1v1.1h-1.1zM584.1 278.6h1.1v1.1h-1.1zM581.5 305.0h1.1v1.1h-1.1zM582.3 294.2h1.1v1.1h-1.1zM579.9 293.1h1.1v1.1h-1.1zM578.3 302.0h1.1v1.1h-1.1zM580.4 305.5h1.1v1.1h-1.1zM581.7 290.7h1.1v1.1h-1.1zM577.3 268.1h1.1v1.1h-1.1zM577.2 301.3h1.1v1.1h-1.1zM582.7 304.6h1.1v1.1h-1.1zM580.3 295.5h1.1v1.1h-1.1zM584.4 307.7h1.1v1.1h-1.1zM583.8 285.5h1.1v1.1h-1.1zM575.5 309.1h1.1v1.1h-1.1zM581.4 268.4h1.1v1.1h-1.1zM582.3 275.2h1.1v1.1h-1.1zM575.6 291.9h1.1v1.1h-1.1zM581.5 280.6h1.1v1.1h-1.1zM575.1 288.5h1.1v1.1h-1.1zM575.5 281.0h1.1v1.1h-1.1zM575.1 303.3h1.1v1.1h-1.1zM578.6 302.8h1.1v1.1h-1.1zM583.5 278.2h1.1v1.1h-1.1zM581.4 282.2h1.1v1.1h-1.1zM581.2 298.4h1.1v1.1h-1.1zM582.0 304.3h1.1v1.1h-1.1zM577.7 248.7h1.1v1.1h-1.1zM584.1 260.7h1.1v1.1h-1.1zM575.7 265.3h1.1v1.1h-1.1zM575.5 278.2h1.1v1.1h-1.1zM577.7 287.1h1.1v1.1h-1.1zM583.1 259.6h1.1v1.1h-1.1zM575.5 299.3h1.1v1.1h-1.1zM575.8 287.9h1.1v1.1h-1.1zM575.0 299.4h1.1v1.1h-1.1zM583.5 287.0h1.1v1.1h-1.1zM582.1 289.1h1.1v1.1h-1.1zM579.6 291.0h1.1v1.1h-1.1zM575.4 297.9h1.1v1.1h-1.1zM582.5 286.8h1.1v1.1h-1.1zM582.8 291.3h1.1v1.1h-1.1zM581.3 291.4h1.1v1.1h-1.1zM578.5 293.6h1.1v1.1h-1.1zM583.9 295.2h1.1v1.1h-1.1zM579.8 257.2h1.1v1.1h-1.1zM581.5 296.3h1.1v1.1h-1.1zM580.2 260.9h1.1v1.1h-1.1zM577.6 259.3h1.1v1.1h-1.1zM576.9 303.8h1.1v1.1h-1.1zM580.0 290.2h1.1v1.1h-1.1zM576.1 284.8h1.1v1.1h-1.1zM579.0 286.7h1.1v1.1h-1.1zM579.2 304.7h1.1v1.1h-1.1zM580.8 253.1h1.1v1.1h-1.1zM579.1 291.1h1.1v1.1h-1.1zM579.7 280.6h1.1v1.1h-1.1zM581.6 288.7h1.1v1.1h-1.1zM582.8 283.8h1.1v1.1h-1.1zM576.5 302.3h1.1v1.1h-1.1zM576.0 304.5h1.1v1.1h-1.1zM583.3 295.5h1.1v1.1h-1.1zM581.0 272.6h1.1v1.1h-1.1zM582.5 280.6h1.1v1.1h-1.1zM579.4 286.9h1.1v1.1h-1.1zM577.1 259.3h1.1v1.1h-1.1zM577.9 274.8h1.1v1.1h-1.1zM584.4 310.7h1.1v1.1h-1.1zM579.3 299.9h1.1v1.1h-1.1zM582.2 281.7h1.1v1.1h-1.1zM578.3 303.2h1.1v1.1h-1.1zM577.9 270.1h1.1v1.1h-1.1zM582.0 284.8h1.1v1.1h-1.1zM578.7 286.0h1.1v1.1h-1.1zM582.0 279.2h1.1v1.1h-1.1zM578.9 288.1h1.1v1.1h-1.1zM584.1 283.9h1.1v1.1h-1.1zM583.9 273.2h1.1v1.1h-1.1zM575.8 271.8h1.1v1.1h-1.1zM579.0 279.5h1.1v1.1h-1.1zM578.7 294.4h1.1v1.1h-1.1zM576.7 300.2h1.1v1.1h-1.1zM583.8 273.3h1.1v1.1h-1.1zM577.3 291.3h1.1v1.1h-1.1zM575.8 250.3h1.1v1.1h-1.1zM575.6 298.3h1.1v1.1h-1.1zM575.6 297.7h1.1v1.1h-1.1zM578.2 292.2h1.1v1.1h-1.1zM584.2 266.7h1.1v1.1h-1.1zM579.0 267.5h1.1v1.1h-1.1zM582.1 266.0h1.1v1.1h-1.1zM577.1 283.1h1.1v1.1h-1.1zM576.9 310.4h1.1v1.1h-1.1zM579.0 284.5h1.1v1.1h-1.1zM581.9 290.8h1.1v1.1h-1.1zM579.4 293.4h1.1v1.1h-1.1zM581.6 285.0h1.1v1.1h-1.1zM580.6 255.5h1.1v1.1h-1.1zM580.4 297.2h1.1v1.1h-1.1zM578.3 302.7h1.1v1.1h-1.1zM578.9 293.9h1.1v1.1h-1.1zM578.9 288.2h1.1v1.1h-1.1zM580.1 301.6h1.1v1.1h-1.1zM574.7 306.1h1.1v1.1h-1.1zM581.8 263.4h1.1v1.1h-1.1zM579.1 285.5h1.1v1.1h-1.1zM580.5 286.5h1.1v1.1h-1.1zM576.3 244.2h1.1v1.1h-1.1zM577.7 272.0h1.1v1.1h-1.1zM579.5 303.6h1.1v1.1h-1.1zM578.7 286.7h1.1v1.1h-1.1zM579.3 279.8h1.1v1.1h-1.1zM576.7 283.3h1.1v1.1h-1.1zM579.5 274.5h1.1v1.1h-1.1zM582.9 272.3h1.1v1.1h-1.1zM577.3 285.4h1.1v1.1h-1.1zM579.4 283.4h1.1v1.1h-1.1zM577.6 308.9h1.1v1.1h-1.1zM575.4 294.0h1.1v1.1h-1.1zM577.2 292.1h1.1v1.1h-1.1zM575.6 281.1h1.1v1.1h-1.1zM576.2 299.7h1.1v1.1h-1.1zM579.8 278.1h1.1v1.1h-1.1zM582.9 289.2h1.1v1.1h-1.1zM581.7 309.4h1.1v1.1h-1.1zM581.7 276.1h1.1v1.1h-1.1zM575.3 279.3h1.1v1.1h-1.1zM575.7 290.2h1.1v1.1h-1.1zM577.4 266.2h1.1v1.1h-1.1zM580.5 304.4h1.1v1.1h-1.1zM575.8 238.3h1.1v1.1h-1.1zM579.7 237.2h1.1v1.1h-1.1zM576.3 293.4h1.1v1.1h-1.1zM578.9 283.4h1.1v1.1h-1.1zM575.9 268.7h1.1v1.1h-1.1zM580.5 290.4h1.1v1.1h-1.1zM575.2 298.6h1.1v1.1h-1.1zM577.1 285.8h1.1v1.1h-1.1zM575.4 272.3h1.1v1.1h-1.1zM577.3 305.0h1.1v1.1h-1.1zM575.3 301.1h1.1v1.1h-1.1zM575.4 287.9h1.1v1.1h-1.1zM582.4 250.2h1.1v1.1h-1.1zM579.5 302.7h1.1v1.1h-1.1zM584.1 274.3h1.1v1.1h-1.1zM583.6 301.4h1.1v1.1h-1.1zM581.4 271.1h1.1v1.1h-1.1zM582.7 298.2h1.1v1.1h-1.1zM582.0 284.4h1.1v1.1h-1.1zM580.1 267.2h1.1v1.1h-1.1zM575.8 300.5h1.1v1.1h-1.1zM575.8 288.7h1.1v1.1h-1.1zM582.4 299.4h1.1v1.1h-1.1zM583.0 283.9h1.1v1.1h-1.1zM577.1 282.5h1.1v1.1h-1.1zM581.7 300.2h1.1v1.1h-1.1zM580.7 278.2h1.1v1.1h-1.1zM582.8 302.4h1.1v1.1h-1.1zM575.3 286.2h1.1v1.1h-1.1zM584.2 258.9h1.1v1.1h-1.1zM576.7 262.4h1.1v1.1h-1.1zM582.5 276.0h1.1v1.1h-1.1zM579.9 269.3h1.1v1.1h-1.1zM580.2 274.7h1.1v1.1h-1.1zM581.8 306.6h1.1v1.1h-1.1zM583.3 299.9h1.1v1.1h-1.1zM577.2 292.5h1.1v1.1h-1.1zM581.1 289.9h1.1v1.1h-1.1zM580.2 284.9h1.1v1.1h-1.1zM576.7 284.0h1.1v1.1h-1.1zM583.8 268.0h1.1v1.1h-1.1zM582.1 295.7h1.1v1.1h-1.1zM580.9 294.7h1.1v1.1h-1.1zM578.0 302.1h1.1v1.1h-1.1zM575.9 284.4h1.1v1.1h-1.1zM581.8 295.1h1.1v1.1h-1.1zM581.6 298.5h1.1v1.1h-1.1zM576.8 294.1h1.1v1.1h-1.1zM580.6 281.1h1.1v1.1h-1.1zM578.7 281.4h1.1v1.1h-1.1zM582.8 255.8h1.1v1.1h-1.1zM575.5 286.5h1.1v1.1h-1.1zM578.9 277.5h1.1v1.1h-1.1zM579.7 292.6h1.1v1.1h-1.1zM579.7 278.5h1.1v1.1h-1.1zM576.6 261.9h1.1v1.1h-1.1zM578.3 290.9h1.1v1.1h-1.1zM579.2 246.5h1.1v1.1h-1.1zM579.6 287.5h1.1v1.1h-1.1zM581.1 265.5h1.1v1.1h-1.1zM576.7 287.8h1.1v1.1h-1.1zM576.8 286.3h1.1v1.1h-1.1zM582.5 281.8h1.1v1.1h-1.1zM575.8 298.4h1.1v1.1h-1.1zM579.3 270.2h1.1v1.1h-1.1zM578.2 296.9h1.1v1.1h-1.1zM576.4 262.0h1.1v1.1h-1.1zM579.5 238.0h1.1v1.1h-1.1zM583.9 275.1h1.1v1.1h-1.1zM575.9 297.1h1.1v1.1h-1.1zM576.8 274.8h1.1v1.1h-1.1zM581.7 284.0h1.1v1.1h-1.1zM576.5 255.4h1.1v1.1h-1.1zM579.5 260.4h1.1v1.1h-1.1zM577.1 268.3h1.1v1.1h-1.1zM575.6 301.9h1.1v1.1h-1.1zM583.6 279.6h1.1v1.1h-1.1zM582.9 299.7h1.1v1.1h-1.1zM577.9 263.9h1.1v1.1h-1.1zM583.4 292.8h1.1v1.1h-1.1zM577.8 285.2h1.1v1.1h-1.1zM582.5 301.6h1.1v1.1h-1.1zM580.2 263.8h1.1v1.1h-1.1zM581.6 296.7h1.1v1.1h-1.1zM575.8 271.2h1.1v1.1h-1.1zM580.9 266.1h1.1v1.1h-1.1zM583.6 268.5h1.1v1.1h-1.1zM580.3 294.6h1.1v1.1h-1.1zM575.5 282.5h1.1v1.1h-1.1zM583.0 286.2h1.1v1.1h-1.1zM578.2 281.3h1.1v1.1h-1.1zM574.7 288.5h1.1v1.1h-1.1zM574.8 279.5h1.1v1.1h-1.1zM577.9 306.6h1.1v1.1h-1.1zM578.4 247.8h1.1v1.1h-1.1zM582.9 250.1h1.1v1.1h-1.1zM576.7 275.2h1.1v1.1h-1.1zM580.8 295.2h1.1v1.1h-1.1zM579.2 293.7h1.1v1.1h-1.1zM576.7 283.7h1.1v1.1h-1.1zM576.1 287.9h1.1v1.1h-1.1zM583.7 291.0h1.1v1.1h-1.1zM576.3 254.7h1.1v1.1h-1.1zM575.7 255.9h1.1v1.1h-1.1zM580.3 280.9h1.1v1.1h-1.1zM581.2 275.9h1.1v1.1h-1.1zM576.9 291.5h1.1v1.1h-1.1zM581.4 287.4h1.1v1.1h-1.1zM576.8 291.0h1.1v1.1h-1.1zM576.0 288.0h1.1v1.1h-1.1zM578.8 305.5h1.1v1.1h-1.1zM576.0 292.3h1.1v1.1h-1.1zM581.3 278.6h1.1v1.1h-1.1zM576.1 287.5h1.1v1.1h-1.1zM581.4 273.3h1.1v1.1h-1.1zM576.2 284.6h1.1v1.1h-1.1zM581.8 296.0h1.1v1.1h-1.1zM581.8 288.6h1.1v1.1h-1.1zM575.7 299.0h1.1v1.1h-1.1zM576.4 272.9h1.1v1.1h-1.1zM581.6 298.4h1.1v1.1h-1.1zM577.2 280.9h1.1v1.1h-1.1zM576.3 306.5h1.1v1.1h-1.1zM578.6 258.7h1.1v1.1h-1.1zM580.4 259.4h1.1v1.1h-1.1zM577.6 274.7h1.1v1.1h-1.1zM579.0 288.6h1.1v1.1h-1.1zM581.9 290.3h1.1v1.1h-1.1zM578.2 237.8h1.1v1.1h-1.1zM581.5 271.0h1.1v1.1h-1.1zM576.7 300.7h1.1v1.1h-1.1zM580.7 268.5h1.1v1.1h-1.1zM575.5 265.4h1.1v1.1h-1.1zM578.8 252.7h1.1v1.1h-1.1zM574.8 283.4h1.1v1.1h-1.1zM580.1 297.2h1.1v1.1h-1.1zM580.8 286.4h1.1v1.1h-1.1zM581.6 301.8h1.1v1.1h-1.1zM581.2 297.0h1.1v1.1h-1.1zM582.5 255.3h1.1v1.1h-1.1zM584.4 298.0h1.1v1.1h-1.1zM582.6 287.5h1.1v1.1h-1.1zM582.3 277.9h1.1v1.1h-1.1zM582.6 299.8h1.1v1.1h-1.1zM582.2 278.6h1.1v1.1h-1.1zM575.4 279.2h1.1v1.1h-1.1zM579.2 275.1h1.1v1.1h-1.1zM582.8 288.1h1.1v1.1h-1.1zM577.7 264.9h1.1v1.1h-1.1zM579.9 282.3h1.1v1.1h-1.1zM580.4 267.5h1.1v1.1h-1.1zM584.1 269.8h1.1v1.1h-1.1zM582.4 270.4h1.1v1.1h-1.1zM579.0 239.2h1.1v1.1h-1.1zM577.9 292.1h1.1v1.1h-1.1zM576.5 281.7h1.1v1.1h-1.1zM581.9 280.3h1.1v1.1h-1.1zM575.1 269.8h1.1v1.1h-1.1zM581.3 283.8h1.1v1.1h-1.1zM581.6 286.7h1.1v1.1h-1.1zM578.8 294.8h1.1v1.1h-1.1zM584.4 305.2h1.1v1.1h-1.1zM582.4 235.2h1.1v1.1h-1.1zM577.8 281.0h1.1v1.1h-1.1zM581.7 298.0h1.1v1.1h-1.1zM584.2 281.7h1.1v1.1h-1.1zM580.3 274.2h1.1v1.1h-1.1zM579.8 274.2h1.1v1.1h-1.1zM582.2 290.7h1.1v1.1h-1.1zM582.8 261.3h1.1v1.1h-1.1zM576.0 291.7h1.1v1.1h-1.1zM582.7 282.2h1.1v1.1h-1.1zM579.5 276.3h1.1v1.1h-1.1zM577.4 290.5h1.1v1.1h-1.1zM579.3 282.0h1.1v1.1h-1.1zM578.2 281.7h1.1v1.1h-1.1zM575.4 301.1h1.1v1.1h-1.1zM582.8 272.4h1.1v1.1h-1.1zM583.0 284.7h1.1v1.1h-1.1zM579.6 273.5h1.1v1.1h-1.1zM580.0 286.3h1.1v1.1h-1.1zM577.3 287.2h1.1v1.1h-1.1zM584.2 273.6h1.1v1.1h-1.1zM577.0 302.8h1.1v1.1h-1.1zM577.7 275.8h1.1v1.1h-1.1zM574.9 292.6h1.1v1.1h-1.1zM581.2 297.5h1.1v1.1h-1.1zM582.9 286.8h1.1v1.1h-1.1zM576.8 280.7h1.1v1.1h-1.1zM578.3 266.9h1.1v1.1h-1.1zM575.3 282.6h1.1v1.1h-1.1zM576.7 278.7h1.1v1.1h-1.1zM579.8 280.1h1.1v1.1h-1.1zM582.8 264.3h1.1v1.1h-1.1zM580.9 305.4h1.1v1.1h-1.1zM576.9 259.6h1.1v1.1h-1.1zM579.4 250.0h1.1v1.1h-1.1zM576.6 244.9h1.1v1.1h-1.1zM579.8 260.4h1.1v1.1h-1.1zM580.9 292.0h1.1v1.1h-1.1zM584.2 265.7h1.1v1.1h-1.1zM582.8 273.4h1.1v1.1h-1.1zM578.0 273.3h1.1v1.1h-1.1zM582.8 259.3h1.1v1.1h-1.1zM580.6 275.4h1.1v1.1h-1.1zM580.3 292.0h1.1v1.1h-1.1zM575.8 281.0h1.1v1.1h-1.1zM578.2 260.8h1.1v1.1h-1.1zM580.1 287.5h1.1v1.1h-1.1zM581.6 284.7h1.1v1.1h-1.1zM581.2 262.4h1.1v1.1h-1.1zM581.6 277.9h1.1v1.1h-1.1zM575.3 303.7h1.1v1.1h-1.1zM580.3 258.6h1.1v1.1h-1.1zM581.8 295.2h1.1v1.1h-1.1zM574.8 291.2h1.1v1.1h-1.1zM574.9 297.4h1.1v1.1h-1.1zM578.9 283.3h1.1v1.1h-1.1zM575.1 283.3h1.1v1.1h-1.1zM575.4 272.1h1.1v1.1h-1.1zM581.7 299.1h1.1v1.1h-1.1zM577.3 295.6h1.1v1.1h-1.1zM578.2 279.7h1.1v1.1h-1.1zM578.5 306.6h1.1v1.1h-1.1zM581.4 273.3h1.1v1.1h-1.1zM577.0 282.1h1.1v1.1h-1.1zM582.1 307.0h1.1v1.1h-1.1zM583.1 279.7h1.1v1.1h-1.1zM578.1 300.2h1.1v1.1h-1.1zM579.2 281.4h1.1v1.1h-1.1zM575.0 293.1h1.1v1.1h-1.1zM583.4 291.8h1.1v1.1h-1.1zM576.3 307.0h1.1v1.1h-1.1zM581.1 273.0h1.1v1.1h-1.1zM583.6 266.7h1.1v1.1h-1.1zM575.9 279.2h1.1v1.1h-1.1zM583.0 310.2h1.1v1.1h-1.1zM580.2 270.2h1.1v1.1h-1.1zM574.9 291.5h1.1v1.1h-1.1zM582.9 288.3h1.1v1.1h-1.1zM578.2 247.0h1.1v1.1h-1.1zM580.2 292.5h1.1v1.1h-1.1zM581.8 282.8h1.1v1.1h-1.1zM575.5 306.6h1.1v1.1h-1.1zM581.5 275.3h1.1v1.1h-1.1zM577.5 242.3h1.1v1.1h-1.1zM581.4 298.2h1.1v1.1h-1.1zM577.2 291.1h1.1v1.1h-1.1zM575.3 283.4h1.1v1.1h-1.1zM581.3 281.5h1.1v1.1h-1.1zM582.8 266.6h1.1v1.1h-1.1zM576.7 239.9h1.1v1.1h-1.1zM582.5 298.0h1.1v1.1h-1.1zM583.9 259.7h1.1v1.1h-1.1zM574.7 277.1h1.1v1.1h-1.1zM579.0 297.0h1.1v1.1h-1.1zM574.7 284.4h1.1v1.1h-1.1zM576.0 285.3h1.1v1.1h-1.1zM575.0 279.9h1.1v1.1h-1.1zM580.2 276.2h1.1v1.1h-1.1zM574.7 275.8h1.1v1.1h-1.1zM581.5 274.3h1.1v1.1h-1.1zM579.4 302.0h1.1v1.1h-1.1zM576.0 290.4h1.1v1.1h-1.1zM582.3 288.5h1.1v1.1h-1.1zM578.0 282.4h1.1v1.1h-1.1zM575.8 294.7h1.1v1.1h-1.1zM577.5 294.0h1.1v1.1h-1.1zM576.7 302.7h1.1v1.1h-1.1zM575.3 282.2h1.1v1.1h-1.1zM583.1 281.2h1.1v1.1h-1.1zM577.6 297.0h1.1v1.1h-1.1zM584.1 265.5h1.1v1.1h-1.1zM577.0 282.8h1.1v1.1h-1.1zM575.8 269.2h1.1v1.1h-1.1zM578.5 268.4h1.1v1.1h-1.1zM576.1 288.2h1.1v1.1h-1.1zM582.4 310.9h1.1v1.1h-1.1zM579.1 303.3h1.1v1.1h-1.1zM579.2 284.8h1.1v1.1h-1.1zM579.8 284.7h1.1v1.1h-1.1zM579.1 299.9h1.1v1.1h-1.1zM582.8 302.6h1.1v1.1h-1.1zM579.3 311.1h1.1v1.1h-1.1zM576.3 304.7h1.1v1.1h-1.1zM579.3 297.2h1.1v1.1h-1.1zM581.0 279.5h1.1v1.1h-1.1zM581.0 285.4h1.1v1.1h-1.1zM580.0 297.1h1.1v1.1h-1.1zM579.1 283.4h1.1v1.1h-1.1zM583.8 303.7h1.1v1.1h-1.1zM575.0 299.6h1.1v1.1h-1.1zM583.7 274.0h1.1v1.1h-1.1zM577.0 287.0h1.1v1.1h-1.1zM575.5 306.3h1.1v1.1h-1.1zM578.7 302.1h1.1v1.1h-1.1zM579.6 285.8h1.1v1.1h-1.1zM576.4 287.8h1.1v1.1h-1.1zM583.9 275.4h1.1v1.1h-1.1zM575.4 269.4h1.1v1.1h-1.1zM575.5 293.3h1.1v1.1h-1.1zM581.7 276.9h1.1v1.1h-1.1zM576.3 260.1h1.1v1.1h-1.1zM583.5 278.2h1.1v1.1h-1.1zM581.1 272.7h1.1v1.1h-1.1zM581.7 268.3h1.1v1.1h-1.1zM579.6 301.5h1.1v1.1h-1.1zM579.3 300.4h1.1v1.1h-1.1zM578.1 276.2h1.1v1.1h-1.1zM580.2 301.3h1.1v1.1h-1.1zM579.7 284.9h1.1v1.1h-1.1zM581.1 289.3h1.1v1.1h-1.1zM576.2 273.5h1.1v1.1h-1.1zM576.0 299.8h1.1v1.1h-1.1zM576.6 284.8h1.1v1.1h-1.1zM581.3 299.1h1.1v1.1h-1.1zM582.0 301.0h1.1v1.1h-1.1zM580.5 300.0h1.1v1.1h-1.1zM575.3 269.6h1.1v1.1h-1.1zM580.7 295.0h1.1v1.1h-1.1zM577.0 299.1h1.1v1.1h-1.1zM580.1 283.1h1.1v1.1h-1.1zM575.6 283.6h1.1v1.1h-1.1zM581.8 299.3h1.1v1.1h-1.1zM581.5 290.8h1.1v1.1h-1.1zM582.0 259.3h1.1v1.1h-1.1zM579.4 260.2h1.1v1.1h-1.1zM577.8 303.2h1.1v1.1h-1.1zM577.8 291.7h1.1v1.1h-1.1zM579.3 283.8h1.1v1.1h-1.1zM584.2 275.5h1.1v1.1h-1.1zM574.7 266.3h1.1v1.1h-1.1zM584.0 299.3h1.1v1.1h-1.1zM580.6 288.0h1.1v1.1h-1.1zM583.7 274.1h1.1v1.1h-1.1zM583.6 301.1h1.1v1.1h-1.1zM578.5 284.9h1.1v1.1h-1.1zM580.8 251.0h1.1v1.1h-1.1zM582.4 305.0h1.1v1.1h-1.1zM578.2 284.9h1.1v1.1h-1.1zM580.5 278.3h1.1v1.1h-1.1zM583.6 287.4h1.1v1.1h-1.1zM576.1 298.5h1.1v1.1h-1.1zM578.1 261.3h1.1v1.1h-1.1zM580.6 303.1h1.1v1.1h-1.1zM580.8 283.9h1.1v1.1h-1.1zM580.5 263.6h1.1v1.1h-1.1zM580.0 269.7h1.1v1.1h-1.1zM575.3 261.7h1.1v1.1h-1.1zM581.2 258.6h1.1v1.1h-1.1zM581.5 304.8h1.1v1.1h-1.1zM576.7 289.8h1.1v1.1h-1.1zM575.5 284.2h1.1v1.1h-1.1zM578.7 296.2h1.1v1.1h-1.1zM578.8 308.9h1.1v1.1h-1.1zM574.7 280.1h1.1v1.1h-1.1zM583.4 266.9h1.1v1.1h-1.1zM576.0 295.3h1.1v1.1h-1.1zM580.1 299.4h1.1v1.1h-1.1zM576.3 291.9h1.1v1.1h-1.1zM578.7 280.6h1.1v1.1h-1.1zM580.0 255.2h1.1v1.1h-1.1zM580.2 281.2h1.1v1.1h-1.1zM577.1 295.5h1.1v1.1h-1.1zM576.4 253.4h1.1v1.1h-1.1zM575.5 311.0h1.1v1.1h-1.1zM575.1 291.1h1.1v1.1h-1.1zM582.4 289.9h1.1v1.1h-1.1zM578.5 293.1h1.1v1.1h-1.1zM583.2 251.4h1.1v1.1h-1.1zM578.9 294.2h1.1v1.1h-1.1zM575.1 272.0h1.1v1.1h-1.1zM580.1 302.1h1.1v1.1h-1.1zM583.1 300.7h1.1v1.1h-1.1zM583.1 266.7h1.1v1.1h-1.1zM578.2 262.7h1.1v1.1h-1.1zM584.3 259.9h1.1v1.1h-1.1zM575.5 271.5h1.1v1.1h-1.1zM579.3 297.8h1.1v1.1h-1.1zM577.9 281.4h1.1v1.1h-1.1zM576.9 282.5h1.1v1.1h-1.1zM576.4 289.1h1.1v1.1h-1.1zM577.2 294.3h1.1v1.1h-1.1zM576.4 249.6h1.1v1.1h-1.1zM584.3 289.3h1.1v1.1h-1.1zM582.8 291.2h1.1v1.1h-1.1zM578.6 272.0h1.1v1.1h-1.1zM574.7 274.9h1.1v1.1h-1.1zM577.0 275.0h1.1v1.1h-1.1zM582.8 287.0h1.1v1.1h-1.1zM576.8 281.3h1.1v1.1h-1.1zM580.0 303.4h1.1v1.1h-1.1zM583.0 290.4h1.1v1.1h-1.1zM582.6 281.1h1.1v1.1h-1.1zM581.9 268.6h1.1v1.1h-1.1zM579.2 308.8h1.1v1.1h-1.1zM578.4 260.8h1.1v1.1h-1.1zM582.4 301.4h1.1v1.1h-1.1zM577.7 297.5h1.1v1.1h-1.1zM583.7 285.7h1.1v1.1h-1.1zM581.4 249.4h1.1v1.1h-1.1zM578.2 306.0h1.1v1.1h-1.1zM575.3 298.2h1.1v1.1h-1.1zM579.7 283.8h1.1v1.1h-1.1zM576.6 285.5h1.1v1.1h-1.1zM576.5 286.9h1.1v1.1h-1.1zM578.5 301.3h1.1v1.1h-1.1zM577.1 282.9h1.1v1.1h-1.1zM574.8 290.0h1.1v1.1h-1.1zM580.6 286.8h1.1v1.1h-1.1zM577.0 281.6h1.1v1.1h-1.1zM577.0 274.3h1.1v1.1h-1.1zM577.4 286.8h1.1v1.1h-1.1zM577.8 270.7h1.1v1.1h-1.1zM575.0 281.1h1.1v1.1h-1.1zM584.3 294.5h1.1v1.1h-1.1zM578.8 267.2h1.1v1.1h-1.1zM577.2 271.3h1.1v1.1h-1.1zM583.7 291.8h1.1v1.1h-1.1zM577.4 279.8h1.1v1.1h-1.1zM580.9 261.3h1.1v1.1h-1.1zM583.1 294.8h1.1v1.1h-1.1zM578.2 294.4h1.1v1.1h-1.1zM580.3 307.0h1.1v1.1h-1.1zM576.4 290.7h1.1v1.1h-1.1zM579.3 268.7h1.1v1.1h-1.1zM575.9 292.6h1.1v1.1h-1.1zM584.3 295.3h1.1v1.1h-1.1zM575.8 265.6h1.1v1.1h-1.1zM582.2 268.3h1.1v1.1h-1.1zM583.0 295.5h1.1v1.1h-1.1zM584.1 253.1h1.1v1.1h-1.1zM582.0 291.5h1.1v1.1h-1.1zM575.9 254.3h1.1v1.1h-1.1zM583.7 298.2h1.1v1.1h-1.1zM584.2 272.6h1.1v1.1h-1.1zM583.9 257.7h1.1v1.1h-1.1zM575.5 284.6h1.1v1.1h-1.1zM578.8 295.2h1.1v1.1h-1.1zM578.5 240.3h1.1v1.1h-1.1zM580.7 276.8h1.1v1.1h-1.1zM580.7 290.7h1.1v1.1h-1.1zM580.8 292.5h1.1v1.1h-1.1zM581.8 271.1h1.1v1.1h-1.1zM578.9 287.0h1.1v1.1h-1.1zM578.7 283.0h1.1v1.1h-1.1zM581.8 301.8h1.1v1.1h-1.1zM576.5 261.3h1.1v1.1h-1.1zM577.4 303.0h1.1v1.1h-1.1zM580.3 254.6h1.1v1.1h-1.1zM577.4 279.2h1.1v1.1h-1.1zM578.2 299.3h1.1v1.1h-1.1zM579.8 271.5h1.1v1.1h-1.1zM582.0 288.6h1.1v1.1h-1.1zM579.2 276.2h1.1v1.1h-1.1zM581.7 229.0h1.1v1.1h-1.1zM576.4 255.3h1.1v1.1h-1.1zM575.3 280.7h1.1v1.1h-1.1zM576.2 292.6h1.1v1.1h-1.1zM580.4 299.5h1.1v1.1h-1.1zM576.0 309.0h1.1v1.1h-1.1zM578.1 259.3h1.1v1.1h-1.1zM574.9 293.5h1.1v1.1h-1.1zM575.5 296.1h1.1v1.1h-1.1zM579.5 304.8h1.1v1.1h-1.1zM577.4 296.9h1.1v1.1h-1.1zM582.7 288.1h1.1v1.1h-1.1zM582.9 278.2h1.1v1.1h-1.1zM575.8 287.8h1.1v1.1h-1.1zM581.1 270.2h1.1v1.1h-1.1zM581.1 263.9h1.1v1.1h-1.1zM584.4 304.0h1.1v1.1h-1.1zM583.1 264.9h1.1v1.1h-1.1zM581.9 284.0h1.1v1.1h-1.1zM581.5 299.2h1.1v1.1h-1.1zM581.8 289.8h1.1v1.1h-1.1zM581.2 277.6h1.1v1.1h-1.1zM579.5 274.0h1.1v1.1h-1.1zM581.4 296.4h1.1v1.1h-1.1zM579.2 288.7h1.1v1.1h-1.1zM581.8 276.5h1.1v1.1h-1.1zM575.3 304.5h1.1v1.1h-1.1zM579.6 278.3h1.1v1.1h-1.1zM579.4 284.3h1.1v1.1h-1.1zM575.5 292.6h1.1v1.1h-1.1zM575.5 290.6h1.1v1.1h-1.1zM576.6 275.0h1.1v1.1h-1.1zM583.6 300.2h1.1v1.1h-1.1zM579.2 289.7h1.1v1.1h-1.1zM577.0 263.6h1.1v1.1h-1.1zM583.9 290.8h1.1v1.1h-1.1zM577.0 302.0h1.1v1.1h-1.1zM578.8 292.8h1.1v1.1h-1.1zM576.3 264.7h1.1v1.1h-1.1zM582.8 252.4h1.1v1.1h-1.1zM583.8 304.9h1.1v1.1h-1.1zM582.0 288.3h1.1v1.1h-1.1zM575.8 291.6h1.1v1.1h-1.1zM579.4 291.6h1.1v1.1h-1.1zM576.6 242.8h1.1v1.1h-1.1zM578.7 289.9h1.1v1.1h-1.1zM575.4 279.0h1.1v1.1h-1.1zM584.2 307.7h1.1v1.1h-1.1zM580.8 262.1h1.1v1.1h-1.1zM582.3 260.1h1.1v1.1h-1.1zM584.4 301.5h1.1v1.1h-1.1zM577.8 276.7h1.1v1.1h-1.1zM576.1 293.9h1.1v1.1h-1.1zM576.9 302.7h1.1v1.1h-1.1zM576.5 267.5h1.1v1.1h-1.1zM582.3 270.3h1.1v1.1h-1.1zM577.7 285.4h1.1v1.1h-1.1zM579.1 290.6h1.1v1.1h-1.1zM582.2 285.7h1.1v1.1h-1.1zM583.0 293.3h1.1v1.1h-1.1zM574.7 281.3h1.1v1.1h-1.1zM584.0 278.5h1.1v1.1h-1.1zM577.7 268.3h1.1v1.1h-1.1zM583.8 268.2h1.1v1.1h-1.1zM579.1 266.6h1.1v1.1h-1.1zM584.3 303.3h1.1v1.1h-1.1zM576.5 299.5h1.1v1.1h-1.1zM579.5 271.3h1.1v1.1h-1.1zM576.1 240.5h1.1v1.1h-1.1zM577.0 283.9h1.1v1.1h-1.1zM575.7 294.4h1.1v1.1h-1.1zM579.2 293.2h1.1v1.1h-1.1zM580.1 293.5h1.1v1.1h-1.1zM579.4 251.1h1.1v1.1h-1.1zM576.5 295.0h1.1v1.1h-1.1zM575.4 306.8h1.1v1.1h-1.1zM579.5 295.9h1.1v1.1h-1.1zM582.6 285.5h1.1v1.1h-1.1zM575.8 289.0h1.1v1.1h-1.1zM581.5 298.2h1.1v1.1h-1.1zM576.5 299.3h1.1v1.1h-1.1zM582.1 307.0h1.1v1.1h-1.1zM577.0 284.9h1.1v1.1h-1.1zM580.0 306.4h1.1v1.1h-1.1zM577.9 292.4h1.1v1.1h-1.1zM579.3 236.6h1.1v1.1h-1.1zM583.4 279.1h1.1v1.1h-1.1zM575.0 280.4h1.1v1.1h-1.1zM581.1 290.8h1.1v1.1h-1.1zM577.4 299.9h1.1v1.1h-1.1zM580.3 286.7h1.1v1.1h-1.1zM584.0 291.2h1.1v1.1h-1.1zM576.1 248.0h1.1v1.1h-1.1zM580.0 276.8h1.1v1.1h-1.1zM577.2 306.2h1.1v1.1h-1.1zM581.7 281.1h1.1v1.1h-1.1zM582.3 283.2h1.1v1.1h-1.1zM580.5 246.7h1.1v1.1h-1.1zM579.8 231.5h1.1v1.1h-1.1zM577.5 265.3h1.1v1.1h-1.1zM583.4 288.4h1.1v1.1h-1.1zM578.0 235.0h1.1v1.1h-1.1zM583.0 290.0h1.1v1.1h-1.1zM577.1 246.2h1.1v1.1h-1.1zM579.2 277.1h1.1v1.1h-1.1zM579.0 299.6h1.1v1.1h-1.1zM575.5 290.8h1.1v1.1h-1.1zM578.4 292.8h1.1v1.1h-1.1zM578.5 296.6h1.1v1.1h-1.1zM583.5 272.7h1.1v1.1h-1.1zM580.7 288.2h1.1v1.1h-1.1zM581.6 292.5h1.1v1.1h-1.1zM583.0 297.1h1.1v1.1h-1.1zM581.6 276.9h1.1v1.1h-1.1zM577.4 241.2h1.1v1.1h-1.1zM581.7 286.1h1.1v1.1h-1.1zM576.7 288.8h1.1v1.1h-1.1zM578.7 288.2h1.1v1.1h-1.1zM578.3 278.5h1.1v1.1h-1.1zM577.9 267.7h1.1v1.1h-1.1zM581.3 299.9h1.1v1.1h-1.1zM578.3 296.4h1.1v1.1h-1.1zM583.4 293.5h1.1v1.1h-1.1zM576.4 304.9h1.1v1.1h-1.1zM575.6 306.1h1.1v1.1h-1.1zM582.4 291.6h1.1v1.1h-1.1zM581.7 243.1h1.1v1.1h-1.1zM581.4 281.9h1.1v1.1h-1.1zM575.0 292.2h1.1v1.1h-1.1zM580.4 303.6h1.1v1.1h-1.1zM580.2 295.8h1.1v1.1h-1.1zM581.8 300.5h1.1v1.1h-1.1zM576.7 292.3h1.1v1.1h-1.1zM583.1 274.5h1.1v1.1h-1.1zM582.5 258.4h1.1v1.1h-1.1zM579.3 289.2h1.1v1.1h-1.1zM582.8 261.1h1.1v1.1h-1.1zM582.2 293.4h1.1v1.1h-1.1zM579.9 293.5h1.1v1.1h-1.1zM575.3 288.2h1.1v1.1h-1.1zM584.0 281.9h1.1v1.1h-1.1zM578.8 300.4h1.1v1.1h-1.1zM581.1 274.1h1.1v1.1h-1.1zM584.0 256.3h1.1v1.1h-1.1zM584.4 300.4h1.1v1.1h-1.1zM584.3 302.2h1.1v1.1h-1.1zM575.1 293.7h1.1v1.1h-1.1zM580.0 303.8h1.1v1.1h-1.1zM576.8 282.5h1.1v1.1h-1.1zM583.1 274.2h1.1v1.1h-1.1zM575.3 296.8h1.1v1.1h-1.1zM581.9 279.8h1.1v1.1h-1.1zM583.7 301.3h1.1v1.1h-1.1zM584.4 276.5h1.1v1.1h-1.1zM577.8 288.4h1.1v1.1h-1.1zM579.1 271.6h1.1v1.1h-1.1zM583.3 296.0h1.1v1.1h-1.1zM583.8 282.6h1.1v1.1h-1.1zM581.5 262.4h1.1v1.1h-1.1zM584.3 300.9h1.1v1.1h-1.1zM575.9 305.6h1.1v1.1h-1.1zM582.4 293.6h1.1v1.1h-1.1zM574.7 292.2h1.1v1.1h-1.1zM575.0 269.1h1.1v1.1h-1.1zM575.2 297.2h1.1v1.1h-1.1zM583.8 274.4h1.1v1.1h-1.1zM581.5 260.9h1.1v1.1h-1.1zM576.2 300.3h1.1v1.1h-1.1zM582.5 299.8h1.1v1.1h-1.1zM579.4 249.9h1.1v1.1h-1.1zM575.3 300.8h1.1v1.1h-1.1zM582.5 278.3h1.1v1.1h-1.1zM577.5 303.2h1.1v1.1h-1.1zM579.1 278.8h1.1v1.1h-1.1zM578.4 259.5h1.1v1.1h-1.1zM580.6 289.9h1.1v1.1h-1.1zM580.0 284.9h1.1v1.1h-1.1zM579.3 277.7h1.1v1.1h-1.1zM575.2 297.8h1.1v1.1h-1.1zM584.2 263.9h1.1v1.1h-1.1zM578.9 282.1h1.1v1.1h-1.1zM578.1 303.2h1.1v1.1h-1.1zM582.6 286.3h1.1v1.1h-1.1zM582.8 286.7h1.1v1.1h-1.1zM584.4 304.7h1.1v1.1h-1.1zM582.7 304.9h1.1v1.1h-1.1zM584.0 290.9h1.1v1.1h-1.1zM581.7 279.5h1.1v1.1h-1.1zM581.2 265.4h1.1v1.1h-1.1zM581.6 244.6h1.1v1.1h-1.1zM580.9 293.3h1.1v1.1h-1.1zM581.8 295.3h1.1v1.1h-1.1zM576.7 308.0h1.1v1.1h-1.1zM579.8 260.6h1.1v1.1h-1.1zM583.2 294.5h1.1v1.1h-1.1zM575.5 288.2h1.1v1.1h-1.1zM581.7 288.3h1.1v1.1h-1.1zM576.4 285.2h1.1v1.1h-1.1zM576.6 286.9h1.1v1.1h-1.1zM581.5 307.0h1.1v1.1h-1.1zM576.2 286.8h1.1v1.1h-1.1zM583.9 298.9h1.1v1.1h-1.1zM582.6 297.0h1.1v1.1h-1.1zM584.4 280.7h1.1v1.1h-1.1zM580.7 305.8h1.1v1.1h-1.1zM583.7 281.2h1.1v1.1h-1.1zM581.3 291.6h1.1v1.1h-1.1zM576.3 264.6h1.1v1.1h-1.1zM583.6 296.9h1.1v1.1h-1.1zM582.4 266.5h1.1v1.1h-1.1zM580.0 246.6h1.1v1.1h-1.1zM575.4 268.1h1.1v1.1h-1.1zM579.6 288.9h1.1v1.1h-1.1zM583.8 292.1h1.1v1.1h-1.1zM580.3 258.1h1.1v1.1h-1.1zM575.2 260.1h1.1v1.1h-1.1zM575.8 288.2h1.1v1.1h-1.1zM581.7 294.5h1.1v1.1h-1.1zM575.3 308.2h1.1v1.1h-1.1zM584.2 288.9h1.1v1.1h-1.1zM579.3 300.7h1.1v1.1h-1.1zM580.1 280.4h1.1v1.1h-1.1zM575.5 303.9h1.1v1.1h-1.1zM575.0 297.2h1.1v1.1h-1.1zM577.7 287.9h1.1v1.1h-1.1zM579.7 284.5h1.1v1.1h-1.1zM580.7 290.8h1.1v1.1h-1.1zM576.5 303.5h1.1v1.1h-1.1zM578.0 288.8h1.1v1.1h-1.1zM581.5 270.3h1.1v1.1h-1.1zM576.1 304.7h1.1v1.1h-1.1zM577.9 284.7h1.1v1.1h-1.1zM575.8 261.7h1.1v1.1h-1.1zM577.9 284.9h1.1v1.1h-1.1zM578.9 246.9h1.1v1.1h-1.1zM582.1 294.4h1.1v1.1h-1.1zM583.5 266.7h1.1v1.1h-1.1zM578.4 306.0h1.1v1.1h-1.1zM581.3 258.8h1.1v1.1h-1.1zM578.2 294.4h1.1v1.1h-1.1zM575.6 296.8h1.1v1.1h-1.1zM583.2 280.9h1.1v1.1h-1.1zM583.1 285.0h1.1v1.1h-1.1zM578.3 287.3h1.1v1.1h-1.1zM575.5 270.1h1.1v1.1h-1.1zM577.9 267.7h1.1v1.1h-1.1zM580.9 288.2h1.1v1.1h-1.1zM582.1 247.6h1.1v1.1h-1.1zM582.6 293.2h1.1v1.1h-1.1zM582.0 296.0h1.1v1.1h-1.1zM578.6 258.8h1.1v1.1h-1.1zM581.1 265.9h1.1v1.1h-1.1zM582.5 302.5h1.1v1.1h-1.1zM579.1 286.9h1.1v1.1h-1.1zM581.1 282.4h1.1v1.1h-1.1zM581.3 284.2h1.1v1.1h-1.1zM581.9 273.6h1.1v1.1h-1.1zM580.9 279.5h1.1v1.1h-1.1zM577.9 275.8h1.1v1.1h-1.1zM582.6 267.3h1.1v1.1h-1.1zM581.9 277.2h1.1v1.1h-1.1zM577.7 292.7h1.1v1.1h-1.1zM577.8 293.5h1.1v1.1h-1.1zM575.0 307.9h1.1v1.1h-1.1zM582.9 276.1h1.1v1.1h-1.1zM582.2 263.0h1.1v1.1h-1.1zM580.3 273.1h1.1v1.1h-1.1zM575.7 272.8h1.1v1.1h-1.1zM576.9 302.6h1.1v1.1h-1.1zM579.3 262.1h1.1v1.1h-1.1zM579.9 288.3h1.1v1.1h-1.1zM578.6 230.3h1.1v1.1h-1.1zM580.7 293.1h1.1v1.1h-1.1zM581.6 235.9h1.1v1.1h-1.1zM582.9 261.5h1.1v1.1h-1.1zM579.2 286.4h1.1v1.1h-1.1zM581.5 295.2h1.1v1.1h-1.1zM583.1 269.4h1.1v1.1h-1.1zM579.6 300.8h1.1v1.1h-1.1zM583.8 261.3h1.1v1.1h-1.1zM583.4 287.5h1.1v1.1h-1.1zM577.5 267.3h1.1v1.1h-1.1zM576.1 292.9h1.1v1.1h-1.1zM576.6 302.0h1.1v1.1h-1.1zM576.8 286.3h1.1v1.1h-1.1zM579.6 288.5h1.1v1.1h-1.1zM577.1 287.9h1.1v1.1h-1.1zM575.0 302.9h1.1v1.1h-1.1zM578.3 288.2h1.1v1.1h-1.1zM580.9 278.7h1.1v1.1h-1.1zM584.2 306.4h1.1v1.1h-1.1zM577.8 257.3h1.1v1.1h-1.1zM580.7 269.9h1.1v1.1h-1.1zM582.3 303.7h1.1v1.1h-1.1zM575.6 294.9h1.1v1.1h-1.1zM578.2 290.4h1.1v1.1h-1.1zM578.8 295.1h1.1v1.1h-1.1zM580.5 264.9h1.1v1.1h-1.1zM581.4 295.0h1.1v1.1h-1.1zM579.6 256.9h1.1v1.1h-1.1zM579.1 281.2h1.1v1.1h-1.1zM580.4 280.2h1.1v1.1h-1.1zM579.5 288.7h1.1v1.1h-1.1zM578.6 293.4h1.1v1.1h-1.1zM578.6 259.1h1.1v1.1h-1.1zM578.0 241.9h1.1v1.1h-1.1zM578.8 280.3h1.1v1.1h-1.1zM582.2 291.5h1.1v1.1h-1.1zM578.7 302.9h1.1v1.1h-1.1zM584.3 253.4h1.1v1.1h-1.1zM576.6 304.9h1.1v1.1h-1.1zM583.3 300.5h1.1v1.1h-1.1zM580.8 296.9h1.1v1.1h-1.1zM583.8 278.7h1.1v1.1h-1.1zM581.9 265.3h1.1v1.1h-1.1zM583.3 266.9h1.1v1.1h-1.1zM581.6 273.8h1.1v1.1h-1.1zM579.5 291.7h1.1v1.1h-1.1zM578.1 309.0h1.1v1.1h-1.1zM584.4 292.4h1.1v1.1h-1.1zM575.4 270.5h1.1v1.1h-1.1zM578.4 269.9h1.1v1.1h-1.1zM579.6 293.4h1.1v1.1h-1.1zM575.6 263.2h1.1v1.1h-1.1zM580.6 303.2h1.1v1.1h-1.1zM582.5 260.4h1.1v1.1h-1.1zM580.9 304.9h1.1v1.1h-1.1zM584.4 282.3h1.1v1.1h-1.1zM583.6 283.0h1.1v1.1h-1.1zM575.7 298.7h1.1v1.1h-1.1zM580.2 288.5h1.1v1.1h-1.1zM581.1 277.5h1.1v1.1h-1.1zM581.7 268.2h1.1v1.1h-1.1zM575.0 301.2h1.1v1.1h-1.1zM579.8 294.3h1.1v1.1h-1.1zM581.3 304.9h1.1v1.1h-1.1zM579.3 276.7h1.1v1.1h-1.1zM574.9 256.2h1.1v1.1h-1.1zM578.6 302.3h1.1v1.1h-1.1zM578.6 292.1h1.1v1.1h-1.1zM579.8 297.2h1.1v1.1h-1.1zM582.4 295.5h1.1v1.1h-1.1zM581.7 237.1h1.1v1.1h-1.1zM582.2 258.6h1.1v1.1h-1.1zM580.2 272.1h1.1v1.1h-1.1zM583.2 303.9h1.1v1.1h-1.1zM575.5 290.8h1.1v1.1h-1.1zM579.3 288.7h1.1v1.1h-1.1zM580.3 266.5h1.1v1.1h-1.1zM583.2 287.3h1.1v1.1h-1.1zM576.3 286.6h1.1v1.1h-1.1zM575.5 294.2h1.1v1.1h-1.1zM581.0 288.4h1.1v1.1h-1.1zM580.7 248.5h1.1v1.1h-1.1zM577.1 292.9h1.1v1.1h-1.1zM576.2 290.2h1.1v1.1h-1.1zM578.0 302.8h1.1v1.1h-1.1zM582.4 296.6h1.1v1.1h-1.1zM578.7 296.3h1.1v1.1h-1.1zM583.7 290.4h1.1v1.1h-1.1zM576.3 284.9h1.1v1.1h-1.1zM580.2 285.5h1.1v1.1h-1.1zM582.4 282.4h1.1v1.1h-1.1zM581.7 268.7h1.1v1.1h-1.1zM583.5 290.5h1.1v1.1h-1.1zM575.6 300.8h1.1v1.1h-1.1zM576.9 292.3h1.1v1.1h-1.1zM583.8 288.4h1.1v1.1h-1.1zM575.9 304.8h1.1v1.1h-1.1zM583.0 264.3h1.1v1.1h-1.1zM578.5 281.1h1.1v1.1h-1.1zM576.6 283.5h1.1v1.1h-1.1zM583.3 284.5h1.1v1.1h-1.1zM580.4 282.8h1.1v1.1h-1.1zM581.8 271.4h1.1v1.1h-1.1zM576.5 255.4h1.1v1.1h-1.1zM583.5 265.0h1.1v1.1h-1.1zM581.7 300.0h1.1v1.1h-1.1zM579.5 271.7h1.1v1.1h-1.1zM581.6 289.6h1.1v1.1h-1.1zM574.9 266.9h1.1v1.1h-1.1zM583.2 272.3h1.1v1.1h-1.1zM577.0 298.8h1.1v1.1h-1.1zM576.5 284.4h1.1v1.1h-1.1zM581.6 272.9h1.1v1.1h-1.1zM579.5 300.2h1.1v1.1h-1.1zM579.9 280.7h1.1v1.1h-1.1zM581.2 295.4h1.1v1.1h-1.1zM580.0 310.6h1.1v1.1h-1.1zM575.3 293.5h1.1v1.1h-1.1zM576.9 274.9h1.1v1.1h-1.1zM584.1 289.3h1.1v1.1h-1.1zM584.2 300.2h1.1v1.1h-1.1zM581.7 303.1h1.1v1.1h-1.1zM581.2 271.6h1.1v1.1h-1.1zM578.8 293.8h1.1v1.1h-1.1zM583.9 291.2h1.1v1.1h-1.1zM581.6 238.7h1.1v1.1h-1.1zM579.2 291.9h1.1v1.1h-1.1zM583.4 299.1h1.1v1.1h-1.1zM576.7 260.0h1.1v1.1h-1.1zM579.1 283.3h1.1v1.1h-1.1zM584.4 287.4h1.1v1.1h-1.1zM579.7 293.0h1.1v1.1h-1.1zM583.3 272.0h1.1v1.1h-1.1zM582.7 280.2h1.1v1.1h-1.1zM575.1 281.8h1.1v1.1h-1.1zM575.9 290.1h1.1v1.1h-1.1zM574.7 276.0h1.1v1.1h-1.1zM577.4 302.5h1.1v1.1h-1.1zM578.3 259.1h1.1v1.1h-1.1zM581.7 276.1h1.1v1.1h-1.1zM583.8 276.0h1.1v1.1h-1.1zM577.7 291.6h1.1v1.1h-1.1zM580.6 285.0h1.1v1.1h-1.1zM579.9 274.8h1.1v1.1h-1.1zM584.2 280.8h1.1v1.1h-1.1zM581.3 291.2h1.1v1.1h-1.1zM584.1 285.5h1.1v1.1h-1.1zM581.5 293.7h1.1v1.1h-1.1zM583.1 273.9h1.1v1.1h-1.1zM580.0 232.0h1.1v1.1h-1.1zM579.9 290.0h1.1v1.1h-1.1zM575.4 299.7h1.1v1.1h-1.1zM580.2 282.9h1.1v1.1h-1.1zM577.8 274.9h1.1v1.1h-1.1zM579.4 291.9h1.1v1.1h-1.1zM575.5 279.0h1.1v1.1h-1.1zM582.9 285.6h1.1v1.1h-1.1zM580.7 308.8h1.1v1.1h-1.1zM579.1 249.4h1.1v1.1h-1.1zM584.2 266.5h1.1v1.1h-1.1zM577.4 292.5h1.1v1.1h-1.1zM581.5 276.6h1.1v1.1h-1.1zM583.1 267.5h1.1v1.1h-1.1zM583.4 304.9h1.1v1.1h-1.1zM578.8 287.3h1.1v1.1h-1.1zM580.8 298.4h1.1v1.1h-1.1zM584.0 303.2h1.1v1.1h-1.1zM579.1 292.1h1.1v1.1h-1.1zM574.8 283.2h1.1v1.1h-1.1zM576.2 288.0h1.1v1.1h-1.1zM583.0 270.9h1.1v1.1h-1.1zM579.9 302.3h1.1v1.1h-1.1zM575.7 310.3h1.1v1.1h-1.1zM576.9 278.8h1.1v1.1h-1.1zM582.9 278.2h1.1v1.1h-1.1zM576.9 291.9h1.1v1.1h-1.1zM583.8 294.5h1.1v1.1h-1.1zM575.5 309.8h1.1v1.1h-1.1zM584.3 282.9h1.1v1.1h-1.1zM580.1 303.6h1.1v1.1h-1.1zM580.9 290.5h1.1v1.1h-1.1zM575.5 288.2h1.1v1.1h-1.1zM574.9 298.3h1.1v1.1h-1.1zM578.9 308.7h1.1v1.1h-1.1zM584.4 287.7h1.1v1.1h-1.1zM584.4 288.9h1.1v1.1h-1.1zM580.5 303.8h1.1v1.1h-1.1zM576.0 261.8h1.1v1.1h-1.1zM576.7 263.8h1.1v1.1h-1.1zM579.9 290.1h1.1v1.1h-1.1zM582.5 271.8h1.1v1.1h-1.1zM583.4 298.5h1.1v1.1h-1.1zM577.7 302.6h1.1v1.1h-1.1zM579.1 294.7h1.1v1.1h-1.1zM582.1 292.8h1.1v1.1h-1.1zM582.5 246.3h1.1v1.1h-1.1zM581.7 271.2h1.1v1.1h-1.1zM577.4 240.7h1.1v1.1h-1.1zM576.2 289.2h1.1v1.1h-1.1zM580.5 297.0h1.1v1.1h-1.1zM577.4 239.6h1.1v1.1h-1.1zM584.4 274.5h1.1v1.1h-1.1zM582.7 288.7h1.1v1.1h-1.1zM584.3 295.6h1.1v1.1h-1.1zM578.2 289.2h1.1v1.1h-1.1zM584.3 276.5h1.1v1.1h-1.1zM575.7 288.1h1.1v1.1h-1.1zM579.9 286.0h1.1v1.1h-1.1zM579.7 295.3h1.1v1.1h-1.1zM581.6 289.7h1.1v1.1h-1.1zM575.5 255.2h1.1v1.1h-1.1zM581.5 268.7h1.1v1.1h-1.1zM584.2 260.8h1.1v1.1h-1.1zM581.5 283.5h1.1v1.1h-1.1zM580.0 255.3h1.1v1.1h-1.1zM583.9 286.9h1.1v1.1h-1.1zM583.2 285.7h1.1v1.1h-1.1zM579.2 292.2h1.1v1.1h-1.1zM584.4 303.1h1.1v1.1h-1.1zM582.4 275.8h1.1v1.1h-1.1zM579.9 287.6h1.1v1.1h-1.1zM580.0 300.4h1.1v1.1h-1.1zM584.3 291.4h1.1v1.1h-1.1zM578.0 305.4h1.1v1.1h-1.1zM577.4 259.7h1.1v1.1h-1.1zM574.7 304.8h1.1v1.1h-1.1zM577.5 273.7h1.1v1.1h-1.1zM576.3 271.7h1.1v1.1h-1.1zM579.5 297.2h1.1v1.1h-1.1zM580.7 293.7h1.1v1.1h-1.1zM581.4 280.1h1.1v1.1h-1.1zM584.0 303.1h1.1v1.1h-1.1zM575.6 294.1h1.1v1.1h-1.1zM583.0 282.0h1.1v1.1h-1.1zM580.2 293.9h1.1v1.1h-1.1zM575.6 272.1h1.1v1.1h-1.1zM580.4 265.8h1.1v1.1h-1.1zM583.5 300.3h1.1v1.1h-1.1zM576.0 276.9h1.1v1.1h-1.1zM579.6 247.5h1.1v1.1h-1.1zM581.9 279.2h1.1v1.1h-1.1zM577.3 298.3h1.1v1.1h-1.1zM579.0 256.0h1.1v1.1h-1.1zM583.7 269.3h1.1v1.1h-1.1zM574.7 271.7h1.1v1.1h-1.1zM578.9 257.0h1.1v1.1h-1.1zM576.5 278.3h1.1v1.1h-1.1zM584.4 277.9h1.1v1.1h-1.1zM579.9 285.8h1.1v1.1h-1.1zM583.2 283.3h1.1v1.1h-1.1zM580.4 261.6h1.1v1.1h-1.1zM580.5 242.5h1.1v1.1h-1.1zM578.9 292.9h1.1v1.1h-1.1zM578.2 285.4h1.1v1.1h-1.1zM580.7 283.5h1.1v1.1h-1.1zM582.7 295.4h1.1v1.1h-1.1zM581.2 286.0h1.1v1.1h-1.1zM584.3 253.8h1.1v1.1h-1.1zM580.9 283.2h1.1v1.1h-1.1zM583.1 297.1h1.1v1.1h-1.1zM577.7 296.2h1.1v1.1h-1.1zM579.6 295.2h1.1v1.1h-1.1zM582.2 285.1h1.1v1.1h-1.1zM578.5 289.4h1.1v1.1h-1.1zM577.4 236.9h1.1v1.1h-1.1zM579.4 269.6h1.1v1.1h-1.1zM581.2 276.7h1.1v1.1h-1.1zM579.3 291.9h1.1v1.1h-1.1zM580.3 300.2h1.1v1.1h-1.1zM579.4 261.0h1.1v1.1h-1.1zM583.8 288.0h1.1v1.1h-1.1zM584.1 298.4h1.1v1.1h-1.1zM582.3 279.2h1.1v1.1h-1.1zM575.4 278.4h1.1v1.1h-1.1zM579.2 253.4h1.1v1.1h-1.1zM583.3 294.2h1.1v1.1h-1.1zM576.6 266.2h1.1v1.1h-1.1zM580.0 296.9h1.1v1.1h-1.1zM575.7 287.1h1.1v1.1h-1.1zM579.9 304.1h1.1v1.1h-1.1zM577.6 285.6h1.1v1.1h-1.1zM583.2 301.6h1.1v1.1h-1.1zM579.9 256.8h1.1v1.1h-1.1zM578.4 295.5h1.1v1.1h-1.1zM574.8 292.4h1.1v1.1h-1.1zM578.1 291.2h1.1v1.1h-1.1zM577.2 290.0h1.1v1.1h-1.1zM575.4 288.6h1.1v1.1h-1.1zM574.9 289.4h1.1v1.1h-1.1zM579.4 271.2h1.1v1.1h-1.1zM580.1 281.7h1.1v1.1h-1.1zM584.1 303.8h1.1v1.1h-1.1zM576.6 291.6h1.1v1.1h-1.1zM582.5 294.6h1.1v1.1h-1.1zM583.5 309.1h1.1v1.1h-1.1zM578.3 278.7h1.1v1.1h-1.1zM579.9 290.7h1.1v1.1h-1.1zM576.5 290.1h1.1v1.1h-1.1zM583.8 280.3h1.1v1.1h-1.1zM576.0 228.3h1.1v1.1h-1.1zM575.3 292.7h1.1v1.1h-1.1zM576.1 281.5h1.1v1.1h-1.1zM584.0 274.5h1.1v1.1h-1.1zM576.3 238.2h1.1v1.1h-1.1zM581.6 306.6h1.1v1.1h-1.1zM578.9 287.2h1.1v1.1h-1.1zM579.6 286.8h1.1v1.1h-1.1zM583.3 300.3h1.1v1.1h-1.1zM575.6 288.7h1.1v1.1h-1.1zM582.2 294.3h1.1v1.1h-1.1zM578.5 285.2h1.1v1.1h-1.1zM581.6 290.2h1.1v1.1h-1.1zM583.4 293.8h1.1v1.1h-1.1zM576.7 278.8h1.1v1.1h-1.1zM581.1 297.4h1.1v1.1h-1.1zM582.4 284.2h1.1v1.1h-1.1zM575.6 282.3h1.1v1.1h-1.1zM582.4 282.5h1.1v1.1h-1.1zM583.2 298.1h1.1v1.1h-1.1zM576.8 253.2h1.1v1.1h-1.1zM577.2 234.8h1.1v1.1h-1.1zM583.3 293.9h1.1v1.1h-1.1zM581.6 290.8h1.1v1.1h-1.1z" fill="#25A2A8" stroke="#052A2E" stroke-width="0.32" stroke-opacity="0.78"/>
<line x1="580.1" x2="580.1" y1="243" y2="276.5" stroke="#111" stroke-width="0.6"/>
<line x1="580.1" x2="580.1" y1="295.9" y2="316.5" stroke="#111" stroke-width="0.6"/>
<rect x="571.3" y="276.5" width="17.4" height="19.4" fill="#3CC2C4" fill-opacity="0.72" stroke="#222" stroke-width="0.6"/>
<line x1="571.3" x2="588.7" y1="287.1" y2="287.1" stroke="#111" stroke-width="1.1"/>
<line x1="617.7" x2="617.7" y1="334.3" y2="337.5" stroke="#777" stroke-width="0.7"/>
<text x="617.70" y="348.80" font-size="8.6" text-anchor="middle" fill="#222" textLength="11.2" lengthAdjust="spacingAndGlyphs" >AD</text>
<path d="M618.4 193.4h1.1v1.1h-1.1zM619.0 195.8h1.1v1.1h-1.1zM613.4 205.5h1.1v1.1h-1.1zM620.7 208.2h1.1v1.1h-1.1zM615.1 211.4h1.1v1.1h-1.1zM619.7 214.4h1.1v1.1h-1.1zM614.1 220.3h1.1v1.1h-1.1zM617.4 218.8h1.1v1.1h-1.1zM615.5 223.4h1.1v1.1h-1.1zM619.5 225.4h1.1v1.1h-1.1zM613.0 227.4h1.1v1.1h-1.1zM616.3 285.2h1.1v1.1h-1.1zM614.2 305.7h1.1v1.1h-1.1zM616.4 303.2h1.1v1.1h-1.1zM620.6 312.7h1.1v1.1h-1.1zM614.2 260.5h1.1v1.1h-1.1zM617.1 282.4h1.1v1.1h-1.1zM617.4 306.4h1.1v1.1h-1.1zM620.8 304.2h1.1v1.1h-1.1zM616.8 291.4h1.1v1.1h-1.1zM619.3 278.6h1.1v1.1h-1.1zM614.7 288.7h1.1v1.1h-1.1zM614.7 291.7h1.1v1.1h-1.1zM614.9 310.0h1.1v1.1h-1.1zM612.7 280.9h1.1v1.1h-1.1zM619.2 246.9h1.1v1.1h-1.1zM612.6 303.6h1.1v1.1h-1.1zM621.2 288.2h1.1v1.1h-1.1zM613.5 275.1h1.1v1.1h-1.1zM620.0 278.0h1.1v1.1h-1.1zM614.2 277.7h1.1v1.1h-1.1zM618.6 269.6h1.1v1.1h-1.1zM614.1 289.0h1.1v1.1h-1.1zM622.0 295.5h1.1v1.1h-1.1zM615.2 235.0h1.1v1.1h-1.1zM614.2 290.8h1.1v1.1h-1.1zM616.0 282.4h1.1v1.1h-1.1zM615.7 304.4h1.1v1.1h-1.1zM613.8 290.3h1.1v1.1h-1.1zM615.6 299.9h1.1v1.1h-1.1zM621.8 292.6h1.1v1.1h-1.1zM621.6 289.9h1.1v1.1h-1.1zM621.8 289.0h1.1v1.1h-1.1zM613.3 311.4h1.1v1.1h-1.1zM620.3 241.0h1.1v1.1h-1.1zM618.9 266.5h1.1v1.1h-1.1zM620.6 242.4h1.1v1.1h-1.1zM621.5 294.8h1.1v1.1h-1.1zM613.5 254.8h1.1v1.1h-1.1zM613.6 277.7h1.1v1.1h-1.1zM612.8 261.1h1.1v1.1h-1.1zM618.6 268.0h1.1v1.1h-1.1zM616.8 285.9h1.1v1.1h-1.1zM613.2 290.5h1.1v1.1h-1.1zM617.8 289.8h1.1v1.1h-1.1zM612.9 285.9h1.1v1.1h-1.1zM618.6 285.1h1.1v1.1h-1.1zM612.3 262.2h1.1v1.1h-1.1zM614.2 292.2h1.1v1.1h-1.1zM614.3 298.3h1.1v1.1h-1.1zM616.8 307.3h1.1v1.1h-1.1zM619.7 259.8h1.1v1.1h-1.1zM617.1 282.3h1.1v1.1h-1.1zM618.8 284.6h1.1v1.1h-1.1zM616.9 298.0h1.1v1.1h-1.1zM616.7 292.4h1.1v1.1h-1.1zM618.3 291.3h1.1v1.1h-1.1zM612.4 285.2h1.1v1.1h-1.1zM616.3 258.4h1.1v1.1h-1.1zM617.2 255.9h1.1v1.1h-1.1zM620.8 295.5h1.1v1.1h-1.1zM615.9 294.0h1.1v1.1h-1.1zM620.8 302.7h1.1v1.1h-1.1zM615.9 302.1h1.1v1.1h-1.1zM613.7 294.5h1.1v1.1h-1.1zM617.5 277.9h1.1v1.1h-1.1zM619.8 258.4h1.1v1.1h-1.1zM617.7 300.6h1.1v1.1h-1.1zM614.7 281.8h1.1v1.1h-1.1zM615.2 254.8h1.1v1.1h-1.1zM617.1 292.9h1.1v1.1h-1.1zM619.1 256.5h1.1v1.1h-1.1zM620.8 310.8h1.1v1.1h-1.1zM616.3 281.3h1.1v1.1h-1.1zM616.8 300.2h1.1v1.1h-1.1zM617.7 258.3h1.1v1.1h-1.1zM620.0 279.3h1.1v1.1h-1.1zM619.5 306.1h1.1v1.1h-1.1zM621.4 297.0h1.1v1.1h-1.1zM618.9 292.9h1.1v1.1h-1.1zM614.2 294.3h1.1v1.1h-1.1zM614.2 295.0h1.1v1.1h-1.1zM619.1 267.4h1.1v1.1h-1.1zM619.0 295.6h1.1v1.1h-1.1zM614.2 281.7h1.1v1.1h-1.1zM621.7 298.6h1.1v1.1h-1.1zM615.2 290.2h1.1v1.1h-1.1zM619.8 285.2h1.1v1.1h-1.1zM613.0 294.5h1.1v1.1h-1.1zM612.7 281.8h1.1v1.1h-1.1zM618.9 299.8h1.1v1.1h-1.1zM613.5 294.0h1.1v1.1h-1.1zM615.4 291.8h1.1v1.1h-1.1zM619.1 259.1h1.1v1.1h-1.1zM618.8 289.3h1.1v1.1h-1.1zM616.5 245.3h1.1v1.1h-1.1zM621.3 291.7h1.1v1.1h-1.1zM619.5 300.1h1.1v1.1h-1.1zM618.4 294.2h1.1v1.1h-1.1zM619.9 236.3h1.1v1.1h-1.1zM617.6 295.9h1.1v1.1h-1.1zM615.6 311.3h1.1v1.1h-1.1zM617.4 290.9h1.1v1.1h-1.1zM619.3 312.2h1.1v1.1h-1.1zM614.2 298.0h1.1v1.1h-1.1zM618.4 295.9h1.1v1.1h-1.1zM619.8 276.9h1.1v1.1h-1.1zM616.0 267.3h1.1v1.1h-1.1zM618.0 312.8h1.1v1.1h-1.1zM617.5 264.2h1.1v1.1h-1.1zM615.9 276.1h1.1v1.1h-1.1zM618.8 249.0h1.1v1.1h-1.1zM615.0 239.9h1.1v1.1h-1.1zM621.4 295.8h1.1v1.1h-1.1zM612.7 292.5h1.1v1.1h-1.1zM614.7 295.7h1.1v1.1h-1.1zM612.3 301.3h1.1v1.1h-1.1zM621.5 296.3h1.1v1.1h-1.1zM617.1 242.3h1.1v1.1h-1.1zM620.1 271.6h1.1v1.1h-1.1zM616.0 276.4h1.1v1.1h-1.1zM617.3 305.8h1.1v1.1h-1.1zM612.5 283.4h1.1v1.1h-1.1zM615.8 272.2h1.1v1.1h-1.1zM612.9 257.3h1.1v1.1h-1.1zM615.6 300.5h1.1v1.1h-1.1zM617.2 302.7h1.1v1.1h-1.1zM620.5 278.4h1.1v1.1h-1.1zM618.6 278.4h1.1v1.1h-1.1zM612.4 255.8h1.1v1.1h-1.1zM618.3 282.1h1.1v1.1h-1.1zM620.7 279.8h1.1v1.1h-1.1zM617.6 254.0h1.1v1.1h-1.1zM618.3 304.4h1.1v1.1h-1.1zM617.0 294.3h1.1v1.1h-1.1zM613.6 298.1h1.1v1.1h-1.1zM621.6 294.7h1.1v1.1h-1.1zM614.3 270.2h1.1v1.1h-1.1zM612.8 293.0h1.1v1.1h-1.1zM617.3 287.0h1.1v1.1h-1.1zM621.9 301.7h1.1v1.1h-1.1zM616.9 297.3h1.1v1.1h-1.1zM613.5 305.8h1.1v1.1h-1.1zM619.8 305.9h1.1v1.1h-1.1zM619.7 254.5h1.1v1.1h-1.1zM619.3 250.1h1.1v1.1h-1.1zM613.1 284.0h1.1v1.1h-1.1zM616.3 291.3h1.1v1.1h-1.1zM614.7 231.6h1.1v1.1h-1.1zM614.5 269.0h1.1v1.1h-1.1zM620.7 288.7h1.1v1.1h-1.1zM615.7 294.8h1.1v1.1h-1.1zM613.0 309.3h1.1v1.1h-1.1zM614.7 294.1h1.1v1.1h-1.1zM615.1 303.0h1.1v1.1h-1.1zM616.4 264.0h1.1v1.1h-1.1zM616.4 280.9h1.1v1.1h-1.1zM618.6 257.7h1.1v1.1h-1.1zM621.5 258.0h1.1v1.1h-1.1zM614.6 286.6h1.1v1.1h-1.1zM613.7 284.9h1.1v1.1h-1.1zM617.2 243.4h1.1v1.1h-1.1zM615.5 295.4h1.1v1.1h-1.1zM620.1 281.4h1.1v1.1h-1.1zM618.0 295.3h1.1v1.1h-1.1zM622.0 296.0h1.1v1.1h-1.1zM613.6 268.8h1.1v1.1h-1.1zM614.8 255.7h1.1v1.1h-1.1zM618.7 267.1h1.1v1.1h-1.1zM619.2 268.2h1.1v1.1h-1.1zM614.1 302.8h1.1v1.1h-1.1zM614.8 298.4h1.1v1.1h-1.1zM614.1 236.6h1.1v1.1h-1.1zM619.8 227.2h1.1v1.1h-1.1zM616.5 306.1h1.1v1.1h-1.1zM621.5 256.8h1.1v1.1h-1.1zM612.7 289.6h1.1v1.1h-1.1zM618.9 308.2h1.1v1.1h-1.1zM616.1 255.9h1.1v1.1h-1.1zM613.7 282.9h1.1v1.1h-1.1zM616.9 299.7h1.1v1.1h-1.1zM618.3 285.0h1.1v1.1h-1.1zM616.4 270.0h1.1v1.1h-1.1zM621.2 272.2h1.1v1.1h-1.1zM615.8 272.5h1.1v1.1h-1.1zM616.7 292.3h1.1v1.1h-1.1zM620.7 301.4h1.1v1.1h-1.1zM614.7 223.8h1.1v1.1h-1.1zM620.7 267.6h1.1v1.1h-1.1zM616.3 307.8h1.1v1.1h-1.1zM614.8 249.7h1.1v1.1h-1.1zM619.3 284.7h1.1v1.1h-1.1zM613.2 266.6h1.1v1.1h-1.1zM618.0 269.6h1.1v1.1h-1.1zM620.6 286.8h1.1v1.1h-1.1zM619.6 281.0h1.1v1.1h-1.1zM616.2 296.0h1.1v1.1h-1.1zM617.8 298.3h1.1v1.1h-1.1zM613.3 283.1h1.1v1.1h-1.1zM614.6 251.0h1.1v1.1h-1.1zM618.1 293.6h1.1v1.1h-1.1zM619.2 262.5h1.1v1.1h-1.1zM620.8 300.8h1.1v1.1h-1.1zM617.4 294.9h1.1v1.1h-1.1zM619.5 297.8h1.1v1.1h-1.1zM612.7 286.4h1.1v1.1h-1.1zM622.0 278.1h1.1v1.1h-1.1zM620.6 305.4h1.1v1.1h-1.1zM616.1 306.5h1.1v1.1h-1.1zM615.2 289.5h1.1v1.1h-1.1zM619.3 268.2h1.1v1.1h-1.1zM612.3 294.2h1.1v1.1h-1.1zM618.2 248.0h1.1v1.1h-1.1zM619.6 263.8h1.1v1.1h-1.1zM617.1 294.6h1.1v1.1h-1.1zM617.3 293.3h1.1v1.1h-1.1zM619.1 306.4h1.1v1.1h-1.1zM618.7 303.9h1.1v1.1h-1.1zM616.5 227.4h1.1v1.1h-1.1zM620.6 248.7h1.1v1.1h-1.1zM618.1 275.9h1.1v1.1h-1.1zM618.7 296.6h1.1v1.1h-1.1zM614.1 290.6h1.1v1.1h-1.1zM614.2 298.6h1.1v1.1h-1.1zM616.4 307.8h1.1v1.1h-1.1zM618.3 236.1h1.1v1.1h-1.1zM616.1 275.9h1.1v1.1h-1.1zM621.5 287.8h1.1v1.1h-1.1zM619.9 302.7h1.1v1.1h-1.1zM621.8 257.3h1.1v1.1h-1.1zM620.8 271.6h1.1v1.1h-1.1zM615.5 277.0h1.1v1.1h-1.1zM614.3 274.2h1.1v1.1h-1.1zM618.4 247.8h1.1v1.1h-1.1zM619.2 275.8h1.1v1.1h-1.1zM615.1 307.3h1.1v1.1h-1.1zM614.9 303.5h1.1v1.1h-1.1zM619.8 296.8h1.1v1.1h-1.1zM617.3 240.1h1.1v1.1h-1.1zM619.2 305.5h1.1v1.1h-1.1zM616.4 259.1h1.1v1.1h-1.1zM615.3 292.1h1.1v1.1h-1.1zM620.9 239.3h1.1v1.1h-1.1zM617.6 271.2h1.1v1.1h-1.1zM612.7 274.4h1.1v1.1h-1.1zM615.9 310.6h1.1v1.1h-1.1zM613.8 304.9h1.1v1.1h-1.1zM616.7 292.9h1.1v1.1h-1.1zM619.4 290.5h1.1v1.1h-1.1zM619.8 282.3h1.1v1.1h-1.1zM620.1 253.4h1.1v1.1h-1.1zM618.7 294.2h1.1v1.1h-1.1zM614.1 284.1h1.1v1.1h-1.1zM617.3 269.4h1.1v1.1h-1.1zM612.6 279.5h1.1v1.1h-1.1zM613.0 303.5h1.1v1.1h-1.1zM618.0 297.3h1.1v1.1h-1.1zM614.9 303.6h1.1v1.1h-1.1zM614.7 278.3h1.1v1.1h-1.1zM616.6 251.4h1.1v1.1h-1.1zM619.8 288.3h1.1v1.1h-1.1zM614.5 294.5h1.1v1.1h-1.1zM619.4 264.2h1.1v1.1h-1.1zM621.3 305.4h1.1v1.1h-1.1zM614.8 242.1h1.1v1.1h-1.1zM620.2 295.9h1.1v1.1h-1.1zM620.5 277.9h1.1v1.1h-1.1zM616.0 279.4h1.1v1.1h-1.1zM613.4 285.3h1.1v1.1h-1.1zM612.7 298.0h1.1v1.1h-1.1zM620.6 251.0h1.1v1.1h-1.1zM617.2 304.7h1.1v1.1h-1.1zM613.7 285.6h1.1v1.1h-1.1zM614.7 301.1h1.1v1.1h-1.1zM612.8 302.9h1.1v1.1h-1.1zM617.1 293.8h1.1v1.1h-1.1zM612.8 289.8h1.1v1.1h-1.1zM615.8 284.5h1.1v1.1h-1.1zM615.7 245.8h1.1v1.1h-1.1zM618.2 289.5h1.1v1.1h-1.1zM612.8 262.6h1.1v1.1h-1.1zM620.3 292.0h1.1v1.1h-1.1zM620.3 298.4h1.1v1.1h-1.1zM621.7 308.2h1.1v1.1h-1.1zM612.5 285.5h1.1v1.1h-1.1zM614.5 298.3h1.1v1.1h-1.1zM616.9 298.2h1.1v1.1h-1.1zM614.9 280.8h1.1v1.1h-1.1zM616.8 294.2h1.1v1.1h-1.1zM613.2 297.0h1.1v1.1h-1.1zM620.2 310.6h1.1v1.1h-1.1zM615.6 304.7h1.1v1.1h-1.1zM616.6 261.5h1.1v1.1h-1.1zM621.0 306.2h1.1v1.1h-1.1zM620.6 280.7h1.1v1.1h-1.1zM615.4 280.6h1.1v1.1h-1.1zM615.4 273.4h1.1v1.1h-1.1zM614.2 252.3h1.1v1.1h-1.1zM618.2 295.1h1.1v1.1h-1.1zM613.7 272.3h1.1v1.1h-1.1zM614.9 259.6h1.1v1.1h-1.1zM616.6 294.3h1.1v1.1h-1.1zM615.2 283.3h1.1v1.1h-1.1zM614.3 289.9h1.1v1.1h-1.1zM617.4 311.4h1.1v1.1h-1.1zM617.6 306.0h1.1v1.1h-1.1zM613.3 252.8h1.1v1.1h-1.1zM614.2 278.4h1.1v1.1h-1.1zM613.6 300.1h1.1v1.1h-1.1zM614.5 300.5h1.1v1.1h-1.1zM620.8 232.6h1.1v1.1h-1.1zM616.6 263.2h1.1v1.1h-1.1zM621.5 291.5h1.1v1.1h-1.1zM612.4 312.2h1.1v1.1h-1.1zM620.5 274.0h1.1v1.1h-1.1zM615.7 248.3h1.1v1.1h-1.1zM617.6 270.4h1.1v1.1h-1.1zM621.2 281.3h1.1v1.1h-1.1zM614.0 269.7h1.1v1.1h-1.1zM613.7 283.2h1.1v1.1h-1.1zM615.5 300.2h1.1v1.1h-1.1zM614.2 251.0h1.1v1.1h-1.1zM615.0 283.9h1.1v1.1h-1.1zM621.7 288.6h1.1v1.1h-1.1zM619.0 297.3h1.1v1.1h-1.1zM615.7 281.8h1.1v1.1h-1.1zM615.8 297.1h1.1v1.1h-1.1zM619.5 295.3h1.1v1.1h-1.1zM619.3 291.1h1.1v1.1h-1.1zM615.2 305.4h1.1v1.1h-1.1zM615.2 286.5h1.1v1.1h-1.1zM617.8 278.0h1.1v1.1h-1.1zM616.0 283.5h1.1v1.1h-1.1zM616.0 283.6h1.1v1.1h-1.1zM614.2 305.8h1.1v1.1h-1.1zM619.2 267.7h1.1v1.1h-1.1zM621.8 298.3h1.1v1.1h-1.1zM616.2 281.5h1.1v1.1h-1.1zM613.6 307.0h1.1v1.1h-1.1zM618.4 286.6h1.1v1.1h-1.1zM616.3 268.5h1.1v1.1h-1.1zM616.2 285.0h1.1v1.1h-1.1zM614.7 237.7h1.1v1.1h-1.1zM619.0 266.1h1.1v1.1h-1.1zM618.1 248.3h1.1v1.1h-1.1zM614.9 266.5h1.1v1.1h-1.1zM612.3 302.8h1.1v1.1h-1.1zM616.8 276.6h1.1v1.1h-1.1zM621.5 284.7h1.1v1.1h-1.1zM612.8 267.9h1.1v1.1h-1.1zM620.2 292.0h1.1v1.1h-1.1zM616.9 280.7h1.1v1.1h-1.1zM620.4 304.5h1.1v1.1h-1.1zM621.4 263.9h1.1v1.1h-1.1zM617.1 279.8h1.1v1.1h-1.1zM617.5 292.7h1.1v1.1h-1.1zM613.7 290.9h1.1v1.1h-1.1zM617.0 299.1h1.1v1.1h-1.1zM618.5 238.0h1.1v1.1h-1.1zM612.5 311.0h1.1v1.1h-1.1zM620.2 294.5h1.1v1.1h-1.1zM621.2 301.0h1.1v1.1h-1.1zM620.2 308.9h1.1v1.1h-1.1zM622.0 293.3h1.1v1.1h-1.1zM615.8 267.9h1.1v1.1h-1.1zM620.9 290.8h1.1v1.1h-1.1zM621.5 270.4h1.1v1.1h-1.1zM617.7 292.3h1.1v1.1h-1.1zM619.1 244.1h1.1v1.1h-1.1zM619.5 270.3h1.1v1.1h-1.1zM614.0 298.5h1.1v1.1h-1.1zM615.8 291.9h1.1v1.1h-1.1zM614.2 288.5h1.1v1.1h-1.1zM619.1 266.1h1.1v1.1h-1.1zM617.0 271.5h1.1v1.1h-1.1zM612.5 301.8h1.1v1.1h-1.1zM620.5 275.1h1.1v1.1h-1.1zM620.6 287.1h1.1v1.1h-1.1zM620.0 307.6h1.1v1.1h-1.1zM621.7 268.3h1.1v1.1h-1.1zM615.9 297.5h1.1v1.1h-1.1zM613.3 309.6h1.1v1.1h-1.1zM612.3 279.0h1.1v1.1h-1.1zM616.4 289.3h1.1v1.1h-1.1zM616.9 239.7h1.1v1.1h-1.1zM614.6 309.0h1.1v1.1h-1.1zM616.5 279.0h1.1v1.1h-1.1zM614.8 243.2h1.1v1.1h-1.1zM621.2 299.0h1.1v1.1h-1.1zM621.6 284.8h1.1v1.1h-1.1zM619.3 253.1h1.1v1.1h-1.1zM615.2 292.5h1.1v1.1h-1.1zM613.8 293.8h1.1v1.1h-1.1zM620.0 297.4h1.1v1.1h-1.1zM614.9 298.0h1.1v1.1h-1.1zM616.0 270.5h1.1v1.1h-1.1zM614.5 272.6h1.1v1.1h-1.1zM612.6 258.3h1.1v1.1h-1.1zM615.2 299.4h1.1v1.1h-1.1zM620.7 276.7h1.1v1.1h-1.1zM613.6 302.4h1.1v1.1h-1.1zM615.2 294.7h1.1v1.1h-1.1zM618.0 279.7h1.1v1.1h-1.1zM614.9 294.0h1.1v1.1h-1.1zM616.6 283.4h1.1v1.1h-1.1zM615.4 260.3h1.1v1.1h-1.1zM612.7 296.3h1.1v1.1h-1.1zM615.1 297.8h1.1v1.1h-1.1zM615.8 271.0h1.1v1.1h-1.1zM617.2 292.1h1.1v1.1h-1.1zM616.8 309.4h1.1v1.1h-1.1zM614.8 288.8h1.1v1.1h-1.1zM614.7 278.3h1.1v1.1h-1.1zM612.6 297.6h1.1v1.1h-1.1zM621.6 293.8h1.1v1.1h-1.1zM618.7 285.5h1.1v1.1h-1.1zM612.4 294.1h1.1v1.1h-1.1zM616.1 282.6h1.1v1.1h-1.1zM615.9 297.7h1.1v1.1h-1.1zM620.1 280.0h1.1v1.1h-1.1zM619.6 301.7h1.1v1.1h-1.1zM614.0 270.2h1.1v1.1h-1.1zM612.8 268.9h1.1v1.1h-1.1zM618.0 268.8h1.1v1.1h-1.1zM617.2 305.5h1.1v1.1h-1.1zM613.0 285.8h1.1v1.1h-1.1zM613.9 304.7h1.1v1.1h-1.1zM615.3 290.7h1.1v1.1h-1.1zM616.1 271.0h1.1v1.1h-1.1zM620.5 255.0h1.1v1.1h-1.1zM617.1 280.0h1.1v1.1h-1.1zM617.9 269.9h1.1v1.1h-1.1zM616.1 289.0h1.1v1.1h-1.1zM619.0 264.1h1.1v1.1h-1.1zM615.4 262.8h1.1v1.1h-1.1zM620.4 242.3h1.1v1.1h-1.1zM614.2 295.4h1.1v1.1h-1.1zM614.9 256.3h1.1v1.1h-1.1zM617.4 310.6h1.1v1.1h-1.1zM618.2 245.9h1.1v1.1h-1.1zM613.3 275.7h1.1v1.1h-1.1zM613.4 238.8h1.1v1.1h-1.1zM616.1 272.5h1.1v1.1h-1.1zM612.6 288.0h1.1v1.1h-1.1zM621.6 276.4h1.1v1.1h-1.1zM621.1 301.5h1.1v1.1h-1.1zM621.3 281.4h1.1v1.1h-1.1zM612.5 294.0h1.1v1.1h-1.1zM619.6 274.1h1.1v1.1h-1.1zM613.0 290.8h1.1v1.1h-1.1zM614.3 288.4h1.1v1.1h-1.1zM621.0 300.7h1.1v1.1h-1.1zM618.3 308.8h1.1v1.1h-1.1zM612.4 304.5h1.1v1.1h-1.1zM616.8 296.1h1.1v1.1h-1.1zM619.7 289.4h1.1v1.1h-1.1zM621.5 252.6h1.1v1.1h-1.1zM621.1 301.0h1.1v1.1h-1.1zM620.0 282.9h1.1v1.1h-1.1zM620.3 302.3h1.1v1.1h-1.1zM614.8 309.9h1.1v1.1h-1.1zM615.8 306.5h1.1v1.1h-1.1zM617.8 290.6h1.1v1.1h-1.1zM621.4 295.4h1.1v1.1h-1.1zM617.4 284.2h1.1v1.1h-1.1zM615.1 231.8h1.1v1.1h-1.1zM614.2 287.0h1.1v1.1h-1.1zM621.1 292.5h1.1v1.1h-1.1zM617.5 282.8h1.1v1.1h-1.1zM621.2 254.1h1.1v1.1h-1.1zM614.1 283.2h1.1v1.1h-1.1zM619.7 289.3h1.1v1.1h-1.1zM612.9 280.5h1.1v1.1h-1.1zM617.3 299.5h1.1v1.1h-1.1zM618.2 271.2h1.1v1.1h-1.1zM613.3 303.1h1.1v1.1h-1.1zM618.8 272.7h1.1v1.1h-1.1zM613.1 266.8h1.1v1.1h-1.1zM620.2 294.6h1.1v1.1h-1.1zM619.8 268.6h1.1v1.1h-1.1zM618.0 291.6h1.1v1.1h-1.1zM618.1 286.3h1.1v1.1h-1.1zM612.3 264.8h1.1v1.1h-1.1zM621.1 283.2h1.1v1.1h-1.1zM619.2 269.4h1.1v1.1h-1.1zM615.5 292.5h1.1v1.1h-1.1zM615.9 290.9h1.1v1.1h-1.1zM619.1 301.5h1.1v1.1h-1.1zM617.4 280.1h1.1v1.1h-1.1zM617.6 297.0h1.1v1.1h-1.1zM612.7 302.1h1.1v1.1h-1.1zM615.5 294.3h1.1v1.1h-1.1zM613.6 306.9h1.1v1.1h-1.1zM614.8 293.0h1.1v1.1h-1.1zM619.3 288.0h1.1v1.1h-1.1zM615.8 292.3h1.1v1.1h-1.1zM618.2 279.8h1.1v1.1h-1.1zM617.0 265.1h1.1v1.1h-1.1zM616.9 257.5h1.1v1.1h-1.1zM619.3 297.6h1.1v1.1h-1.1zM619.6 232.7h1.1v1.1h-1.1zM619.0 276.9h1.1v1.1h-1.1zM619.2 293.5h1.1v1.1h-1.1zM614.6 270.0h1.1v1.1h-1.1zM616.5 303.3h1.1v1.1h-1.1zM619.9 281.8h1.1v1.1h-1.1zM620.9 295.1h1.1v1.1h-1.1zM620.3 285.1h1.1v1.1h-1.1zM617.0 296.0h1.1v1.1h-1.1zM614.1 283.8h1.1v1.1h-1.1zM618.3 300.6h1.1v1.1h-1.1zM613.4 286.3h1.1v1.1h-1.1zM614.5 280.0h1.1v1.1h-1.1zM618.4 292.4h1.1v1.1h-1.1zM614.7 297.6h1.1v1.1h-1.1zM613.0 288.8h1.1v1.1h-1.1zM618.4 296.7h1.1v1.1h-1.1zM616.5 302.1h1.1v1.1h-1.1zM619.6 285.6h1.1v1.1h-1.1zM613.8 273.1h1.1v1.1h-1.1zM619.2 279.5h1.1v1.1h-1.1zM615.4 286.9h1.1v1.1h-1.1zM616.7 293.5h1.1v1.1h-1.1zM619.1 280.2h1.1v1.1h-1.1zM620.5 298.9h1.1v1.1h-1.1zM613.8 290.2h1.1v1.1h-1.1zM612.5 258.0h1.1v1.1h-1.1zM617.4 271.9h1.1v1.1h-1.1zM617.5 269.8h1.1v1.1h-1.1zM617.6 284.9h1.1v1.1h-1.1zM621.9 306.7h1.1v1.1h-1.1zM619.2 295.1h1.1v1.1h-1.1zM614.1 292.4h1.1v1.1h-1.1zM612.4 259.2h1.1v1.1h-1.1zM620.6 308.7h1.1v1.1h-1.1zM617.6 291.8h1.1v1.1h-1.1zM615.3 243.6h1.1v1.1h-1.1zM617.8 270.8h1.1v1.1h-1.1zM618.4 309.7h1.1v1.1h-1.1zM617.6 238.1h1.1v1.1h-1.1zM613.3 278.2h1.1v1.1h-1.1zM619.7 309.6h1.1v1.1h-1.1zM613.8 255.5h1.1v1.1h-1.1zM620.5 291.5h1.1v1.1h-1.1zM621.9 262.8h1.1v1.1h-1.1zM619.1 282.5h1.1v1.1h-1.1zM615.3 299.8h1.1v1.1h-1.1zM621.9 281.5h1.1v1.1h-1.1zM621.2 284.7h1.1v1.1h-1.1zM615.5 274.9h1.1v1.1h-1.1zM614.2 278.7h1.1v1.1h-1.1zM620.2 297.1h1.1v1.1h-1.1zM621.4 293.1h1.1v1.1h-1.1zM621.6 297.9h1.1v1.1h-1.1zM612.9 297.5h1.1v1.1h-1.1zM619.5 292.7h1.1v1.1h-1.1zM613.8 231.9h1.1v1.1h-1.1zM620.5 295.8h1.1v1.1h-1.1zM614.5 233.6h1.1v1.1h-1.1zM615.1 309.9h1.1v1.1h-1.1zM612.3 292.1h1.1v1.1h-1.1zM621.2 287.6h1.1v1.1h-1.1zM621.6 287.5h1.1v1.1h-1.1zM620.5 285.3h1.1v1.1h-1.1zM616.9 287.2h1.1v1.1h-1.1zM617.2 307.8h1.1v1.1h-1.1zM616.7 298.7h1.1v1.1h-1.1zM622.0 270.1h1.1v1.1h-1.1zM615.7 283.5h1.1v1.1h-1.1zM615.4 247.1h1.1v1.1h-1.1zM615.9 297.3h1.1v1.1h-1.1zM614.7 271.0h1.1v1.1h-1.1zM615.2 296.9h1.1v1.1h-1.1zM621.3 264.6h1.1v1.1h-1.1zM620.7 297.2h1.1v1.1h-1.1zM614.8 285.6h1.1v1.1h-1.1zM621.8 262.0h1.1v1.1h-1.1zM613.5 260.9h1.1v1.1h-1.1zM618.1 265.4h1.1v1.1h-1.1zM619.9 265.6h1.1v1.1h-1.1zM619.4 258.0h1.1v1.1h-1.1zM619.5 286.0h1.1v1.1h-1.1zM612.4 309.4h1.1v1.1h-1.1zM616.1 293.0h1.1v1.1h-1.1zM617.6 257.8h1.1v1.1h-1.1zM617.6 247.7h1.1v1.1h-1.1zM620.0 288.3h1.1v1.1h-1.1zM617.6 282.8h1.1v1.1h-1.1zM618.5 236.2h1.1v1.1h-1.1zM613.8 305.1h1.1v1.1h-1.1zM620.8 274.7h1.1v1.1h-1.1zM618.4 285.4h1.1v1.1h-1.1zM615.7 267.4h1.1v1.1h-1.1zM621.6 296.8h1.1v1.1h-1.1zM612.5 298.2h1.1v1.1h-1.1zM613.6 278.8h1.1v1.1h-1.1zM621.9 294.5h1.1v1.1h-1.1zM619.9 284.2h1.1v1.1h-1.1zM621.4 252.7h1.1v1.1h-1.1zM615.3 290.8h1.1v1.1h-1.1zM614.7 275.1h1.1v1.1h-1.1zM616.2 301.8h1.1v1.1h-1.1zM618.6 253.3h1.1v1.1h-1.1zM620.5 303.3h1.1v1.1h-1.1zM620.5 294.2h1.1v1.1h-1.1zM621.4 298.1h1.1v1.1h-1.1zM621.0 278.2h1.1v1.1h-1.1zM617.9 290.5h1.1v1.1h-1.1zM615.7 266.0h1.1v1.1h-1.1zM613.2 298.4h1.1v1.1h-1.1zM620.0 303.9h1.1v1.1h-1.1zM613.1 265.1h1.1v1.1h-1.1zM615.5 303.7h1.1v1.1h-1.1zM614.0 269.9h1.1v1.1h-1.1zM620.6 308.3h1.1v1.1h-1.1zM615.4 280.9h1.1v1.1h-1.1zM615.4 287.4h1.1v1.1h-1.1zM617.7 265.6h1.1v1.1h-1.1zM617.7 272.8h1.1v1.1h-1.1zM619.6 290.5h1.1v1.1h-1.1zM620.8 301.7h1.1v1.1h-1.1zM612.5 285.3h1.1v1.1h-1.1zM619.4 273.3h1.1v1.1h-1.1zM614.8 285.2h1.1v1.1h-1.1zM619.5 281.0h1.1v1.1h-1.1zM620.2 294.2h1.1v1.1h-1.1zM612.5 285.9h1.1v1.1h-1.1zM619.7 259.1h1.1v1.1h-1.1zM620.1 277.7h1.1v1.1h-1.1zM615.7 270.4h1.1v1.1h-1.1zM617.6 304.4h1.1v1.1h-1.1zM620.3 288.3h1.1v1.1h-1.1zM618.8 294.5h1.1v1.1h-1.1zM620.7 306.0h1.1v1.1h-1.1zM619.7 238.6h1.1v1.1h-1.1zM619.8 295.4h1.1v1.1h-1.1zM621.1 305.2h1.1v1.1h-1.1zM613.9 293.3h1.1v1.1h-1.1zM620.8 279.6h1.1v1.1h-1.1zM621.9 299.3h1.1v1.1h-1.1zM615.9 241.3h1.1v1.1h-1.1zM617.5 293.2h1.1v1.1h-1.1zM614.1 280.8h1.1v1.1h-1.1zM618.5 284.9h1.1v1.1h-1.1zM614.6 292.3h1.1v1.1h-1.1zM617.0 270.6h1.1v1.1h-1.1zM615.3 291.7h1.1v1.1h-1.1zM618.1 293.0h1.1v1.1h-1.1zM615.0 300.7h1.1v1.1h-1.1zM621.5 277.5h1.1v1.1h-1.1zM621.3 254.3h1.1v1.1h-1.1zM618.5 294.8h1.1v1.1h-1.1zM621.3 290.8h1.1v1.1h-1.1zM619.1 290.8h1.1v1.1h-1.1zM621.5 268.4h1.1v1.1h-1.1zM613.3 256.9h1.1v1.1h-1.1zM620.2 298.1h1.1v1.1h-1.1zM617.5 294.2h1.1v1.1h-1.1zM613.8 266.8h1.1v1.1h-1.1zM621.4 283.9h1.1v1.1h-1.1zM614.9 267.5h1.1v1.1h-1.1zM613.1 280.6h1.1v1.1h-1.1zM614.8 298.6h1.1v1.1h-1.1zM617.9 298.2h1.1v1.1h-1.1zM618.7 267.4h1.1v1.1h-1.1zM616.3 301.1h1.1v1.1h-1.1zM617.8 294.7h1.1v1.1h-1.1zM621.4 285.4h1.1v1.1h-1.1zM616.8 265.3h1.1v1.1h-1.1zM614.5 258.1h1.1v1.1h-1.1zM615.2 274.3h1.1v1.1h-1.1zM621.9 297.9h1.1v1.1h-1.1zM621.7 293.7h1.1v1.1h-1.1zM614.5 281.0h1.1v1.1h-1.1zM615.5 290.0h1.1v1.1h-1.1zM621.9 292.6h1.1v1.1h-1.1zM616.2 295.2h1.1v1.1h-1.1zM620.9 282.0h1.1v1.1h-1.1zM619.3 262.5h1.1v1.1h-1.1zM619.2 292.9h1.1v1.1h-1.1zM617.7 299.4h1.1v1.1h-1.1zM615.7 240.5h1.1v1.1h-1.1zM617.1 253.6h1.1v1.1h-1.1zM617.0 285.7h1.1v1.1h-1.1zM615.6 309.5h1.1v1.1h-1.1zM621.8 296.3h1.1v1.1h-1.1zM617.7 282.2h1.1v1.1h-1.1zM618.9 297.0h1.1v1.1h-1.1zM617.0 308.8h1.1v1.1h-1.1zM619.8 269.9h1.1v1.1h-1.1zM614.6 306.8h1.1v1.1h-1.1zM622.0 303.0h1.1v1.1h-1.1zM618.7 306.4h1.1v1.1h-1.1zM617.9 269.2h1.1v1.1h-1.1zM613.8 309.3h1.1v1.1h-1.1zM619.9 247.6h1.1v1.1h-1.1zM620.5 259.9h1.1v1.1h-1.1zM620.4 282.6h1.1v1.1h-1.1zM618.5 300.0h1.1v1.1h-1.1zM614.4 299.4h1.1v1.1h-1.1zM621.9 297.0h1.1v1.1h-1.1zM616.9 245.0h1.1v1.1h-1.1zM616.4 293.4h1.1v1.1h-1.1zM619.5 276.3h1.1v1.1h-1.1zM619.4 267.3h1.1v1.1h-1.1zM620.9 294.7h1.1v1.1h-1.1zM619.6 246.7h1.1v1.1h-1.1zM621.9 273.6h1.1v1.1h-1.1zM618.0 296.3h1.1v1.1h-1.1zM620.3 274.4h1.1v1.1h-1.1zM618.2 261.8h1.1v1.1h-1.1zM618.1 284.6h1.1v1.1h-1.1zM621.6 275.2h1.1v1.1h-1.1zM617.0 270.4h1.1v1.1h-1.1zM615.9 242.1h1.1v1.1h-1.1zM614.0 292.4h1.1v1.1h-1.1zM615.1 278.4h1.1v1.1h-1.1zM621.6 277.5h1.1v1.1h-1.1zM620.7 278.1h1.1v1.1h-1.1zM621.7 260.2h1.1v1.1h-1.1zM621.4 272.3h1.1v1.1h-1.1zM613.4 294.2h1.1v1.1h-1.1zM614.9 297.3h1.1v1.1h-1.1zM620.3 300.6h1.1v1.1h-1.1zM620.1 229.9h1.1v1.1h-1.1zM621.8 275.5h1.1v1.1h-1.1zM619.5 301.3h1.1v1.1h-1.1zM617.9 253.6h1.1v1.1h-1.1zM621.8 310.1h1.1v1.1h-1.1zM618.1 278.2h1.1v1.1h-1.1zM619.1 246.1h1.1v1.1h-1.1zM616.4 224.0h1.1v1.1h-1.1zM615.8 286.9h1.1v1.1h-1.1zM620.3 257.1h1.1v1.1h-1.1zM616.2 302.6h1.1v1.1h-1.1zM614.8 297.6h1.1v1.1h-1.1zM621.0 281.3h1.1v1.1h-1.1zM613.3 285.7h1.1v1.1h-1.1zM616.3 298.4h1.1v1.1h-1.1zM621.0 278.6h1.1v1.1h-1.1zM612.3 302.0h1.1v1.1h-1.1zM616.8 283.1h1.1v1.1h-1.1zM614.1 304.6h1.1v1.1h-1.1zM617.6 274.6h1.1v1.1h-1.1zM616.9 256.5h1.1v1.1h-1.1zM617.9 227.6h1.1v1.1h-1.1zM617.4 307.8h1.1v1.1h-1.1zM617.5 270.5h1.1v1.1h-1.1zM618.5 223.2h1.1v1.1h-1.1zM616.5 295.5h1.1v1.1h-1.1zM621.8 275.7h1.1v1.1h-1.1zM615.0 292.2h1.1v1.1h-1.1zM620.0 290.5h1.1v1.1h-1.1zM616.9 276.2h1.1v1.1h-1.1zM613.3 291.7h1.1v1.1h-1.1zM620.2 257.6h1.1v1.1h-1.1zM618.4 283.7h1.1v1.1h-1.1zM612.3 290.9h1.1v1.1h-1.1zM617.2 289.8h1.1v1.1h-1.1zM618.4 258.0h1.1v1.1h-1.1zM612.8 272.7h1.1v1.1h-1.1zM616.8 289.1h1.1v1.1h-1.1zM616.6 313.0h1.1v1.1h-1.1zM617.9 294.0h1.1v1.1h-1.1zM614.8 238.6h1.1v1.1h-1.1zM613.1 296.9h1.1v1.1h-1.1zM619.4 304.9h1.1v1.1h-1.1zM615.4 291.3h1.1v1.1h-1.1zM614.4 290.5h1.1v1.1h-1.1zM616.7 273.4h1.1v1.1h-1.1zM614.7 303.6h1.1v1.1h-1.1zM614.4 302.3h1.1v1.1h-1.1zM614.2 301.7h1.1v1.1h-1.1zM621.7 310.8h1.1v1.1h-1.1zM620.9 298.5h1.1v1.1h-1.1zM621.5 305.3h1.1v1.1h-1.1zM620.3 257.0h1.1v1.1h-1.1zM616.5 242.0h1.1v1.1h-1.1zM617.1 243.1h1.1v1.1h-1.1zM615.5 235.4h1.1v1.1h-1.1zM621.5 281.5h1.1v1.1h-1.1zM616.5 284.8h1.1v1.1h-1.1zM615.1 260.5h1.1v1.1h-1.1zM619.6 283.7h1.1v1.1h-1.1zM615.6 273.9h1.1v1.1h-1.1zM616.8 302.7h1.1v1.1h-1.1zM617.0 299.5h1.1v1.1h-1.1zM612.6 282.0h1.1v1.1h-1.1zM613.7 270.6h1.1v1.1h-1.1zM619.0 303.6h1.1v1.1h-1.1zM618.2 252.0h1.1v1.1h-1.1zM619.5 301.6h1.1v1.1h-1.1zM615.2 311.1h1.1v1.1h-1.1zM620.5 276.4h1.1v1.1h-1.1zM621.4 279.7h1.1v1.1h-1.1zM616.6 300.3h1.1v1.1h-1.1zM622.0 280.3h1.1v1.1h-1.1zM619.5 280.2h1.1v1.1h-1.1zM615.8 290.5h1.1v1.1h-1.1zM616.0 281.2h1.1v1.1h-1.1zM615.4 265.7h1.1v1.1h-1.1zM621.1 302.1h1.1v1.1h-1.1zM614.6 282.5h1.1v1.1h-1.1zM614.7 248.7h1.1v1.1h-1.1zM619.5 292.7h1.1v1.1h-1.1zM612.7 299.0h1.1v1.1h-1.1zM616.3 303.3h1.1v1.1h-1.1zM620.3 289.6h1.1v1.1h-1.1zM612.6 309.0h1.1v1.1h-1.1zM614.3 290.8h1.1v1.1h-1.1zM614.1 293.2h1.1v1.1h-1.1zM618.8 285.6h1.1v1.1h-1.1zM613.7 270.5h1.1v1.1h-1.1zM616.1 301.1h1.1v1.1h-1.1zM616.6 298.9h1.1v1.1h-1.1zM615.6 293.8h1.1v1.1h-1.1zM613.6 293.3h1.1v1.1h-1.1zM613.8 299.4h1.1v1.1h-1.1zM612.3 293.3h1.1v1.1h-1.1zM618.4 285.6h1.1v1.1h-1.1zM615.6 238.0h1.1v1.1h-1.1zM615.0 308.2h1.1v1.1h-1.1zM616.6 285.0h1.1v1.1h-1.1zM616.2 290.2h1.1v1.1h-1.1zM616.4 241.1h1.1v1.1h-1.1zM616.8 292.1h1.1v1.1h-1.1zM620.6 281.3h1.1v1.1h-1.1zM615.5 296.5h1.1v1.1h-1.1zM612.8 256.0h1.1v1.1h-1.1zM621.6 253.8h1.1v1.1h-1.1zM617.6 294.7h1.1v1.1h-1.1zM615.8 300.4h1.1v1.1h-1.1zM621.2 306.3h1.1v1.1h-1.1zM619.1 297.1h1.1v1.1h-1.1zM613.8 297.5h1.1v1.1h-1.1zM621.1 279.3h1.1v1.1h-1.1zM617.5 260.0h1.1v1.1h-1.1zM618.0 295.2h1.1v1.1h-1.1zM613.5 293.9h1.1v1.1h-1.1zM616.3 296.7h1.1v1.1h-1.1zM618.8 295.2h1.1v1.1h-1.1zM615.8 264.2h1.1v1.1h-1.1zM619.1 305.6h1.1v1.1h-1.1zM620.9 296.3h1.1v1.1h-1.1zM616.8 295.6h1.1v1.1h-1.1zM615.2 284.1h1.1v1.1h-1.1zM616.0 243.4h1.1v1.1h-1.1zM618.2 299.0h1.1v1.1h-1.1zM612.9 282.2h1.1v1.1h-1.1zM619.2 283.5h1.1v1.1h-1.1zM617.7 283.4h1.1v1.1h-1.1zM621.8 259.3h1.1v1.1h-1.1zM621.4 297.1h1.1v1.1h-1.1zM616.0 245.7h1.1v1.1h-1.1zM616.4 291.8h1.1v1.1h-1.1zM620.0 283.9h1.1v1.1h-1.1zM612.3 260.1h1.1v1.1h-1.1zM616.1 305.9h1.1v1.1h-1.1zM619.6 288.9h1.1v1.1h-1.1zM621.0 285.9h1.1v1.1h-1.1zM614.6 290.4h1.1v1.1h-1.1zM613.9 272.0h1.1v1.1h-1.1zM618.8 267.5h1.1v1.1h-1.1zM620.3 290.6h1.1v1.1h-1.1zM618.1 294.3h1.1v1.1h-1.1zM618.7 301.9h1.1v1.1h-1.1zM618.3 288.6h1.1v1.1h-1.1zM612.5 257.8h1.1v1.1h-1.1zM612.3 286.4h1.1v1.1h-1.1zM621.5 298.4h1.1v1.1h-1.1zM617.1 308.7h1.1v1.1h-1.1zM616.4 263.5h1.1v1.1h-1.1zM618.8 289.5h1.1v1.1h-1.1zM622.0 270.3h1.1v1.1h-1.1zM620.0 242.0h1.1v1.1h-1.1zM614.4 308.2h1.1v1.1h-1.1zM615.4 303.8h1.1v1.1h-1.1zM614.5 290.8h1.1v1.1h-1.1zM615.9 280.7h1.1v1.1h-1.1zM620.8 307.1h1.1v1.1h-1.1zM618.0 288.0h1.1v1.1h-1.1zM614.9 297.3h1.1v1.1h-1.1zM621.8 294.0h1.1v1.1h-1.1zM619.6 288.9h1.1v1.1h-1.1zM614.9 305.9h1.1v1.1h-1.1zM622.0 273.7h1.1v1.1h-1.1zM622.0 295.1h1.1v1.1h-1.1zM616.0 306.0h1.1v1.1h-1.1zM612.6 277.1h1.1v1.1h-1.1zM612.4 261.2h1.1v1.1h-1.1zM619.8 296.8h1.1v1.1h-1.1zM615.9 288.2h1.1v1.1h-1.1zM619.6 293.0h1.1v1.1h-1.1zM614.9 289.5h1.1v1.1h-1.1zM621.4 281.6h1.1v1.1h-1.1zM619.0 304.6h1.1v1.1h-1.1zM617.2 295.0h1.1v1.1h-1.1zM620.0 250.9h1.1v1.1h-1.1zM619.0 289.9h1.1v1.1h-1.1zM617.6 228.0h1.1v1.1h-1.1zM612.9 307.2h1.1v1.1h-1.1zM618.1 268.6h1.1v1.1h-1.1zM619.0 310.1h1.1v1.1h-1.1zM621.9 296.4h1.1v1.1h-1.1zM616.5 294.2h1.1v1.1h-1.1zM621.4 287.6h1.1v1.1h-1.1zM618.6 223.6h1.1v1.1h-1.1zM615.1 276.3h1.1v1.1h-1.1zM621.9 258.5h1.1v1.1h-1.1zM616.7 287.5h1.1v1.1h-1.1zM619.2 285.5h1.1v1.1h-1.1zM618.8 289.6h1.1v1.1h-1.1zM615.0 275.6h1.1v1.1h-1.1zM614.3 306.3h1.1v1.1h-1.1zM616.1 289.6h1.1v1.1h-1.1zM614.5 297.9h1.1v1.1h-1.1zM614.3 281.2h1.1v1.1h-1.1zM618.8 284.2h1.1v1.1h-1.1zM615.4 284.8h1.1v1.1h-1.1zM618.6 279.8h1.1v1.1h-1.1zM621.1 294.8h1.1v1.1h-1.1zM615.6 302.8h1.1v1.1h-1.1zM619.6 309.1h1.1v1.1h-1.1zM617.7 287.5h1.1v1.1h-1.1zM616.7 305.0h1.1v1.1h-1.1zM616.2 291.1h1.1v1.1h-1.1zM619.3 286.0h1.1v1.1h-1.1zM620.5 298.4h1.1v1.1h-1.1zM617.2 294.9h1.1v1.1h-1.1zM620.9 298.7h1.1v1.1h-1.1zM614.7 284.9h1.1v1.1h-1.1zM619.9 295.4h1.1v1.1h-1.1zM617.5 299.0h1.1v1.1h-1.1zM613.1 267.0h1.1v1.1h-1.1zM612.9 304.8h1.1v1.1h-1.1zM616.0 253.6h1.1v1.1h-1.1zM617.0 256.1h1.1v1.1h-1.1zM618.2 272.6h1.1v1.1h-1.1zM615.3 294.4h1.1v1.1h-1.1zM616.8 296.3h1.1v1.1h-1.1zM614.9 295.6h1.1v1.1h-1.1zM616.0 253.5h1.1v1.1h-1.1zM614.4 277.6h1.1v1.1h-1.1zM620.3 277.3h1.1v1.1h-1.1zM619.2 283.4h1.1v1.1h-1.1zM619.6 264.4h1.1v1.1h-1.1zM616.2 280.5h1.1v1.1h-1.1zM618.0 302.8h1.1v1.1h-1.1zM621.5 306.5h1.1v1.1h-1.1zM614.2 293.6h1.1v1.1h-1.1zM617.9 308.5h1.1v1.1h-1.1zM614.2 289.5h1.1v1.1h-1.1zM616.4 312.4h1.1v1.1h-1.1zM617.3 281.8h1.1v1.1h-1.1zM616.7 304.6h1.1v1.1h-1.1zM618.2 262.6h1.1v1.1h-1.1zM614.1 292.3h1.1v1.1h-1.1zM614.0 263.0h1.1v1.1h-1.1zM613.9 300.3h1.1v1.1h-1.1zM614.5 303.8h1.1v1.1h-1.1zM612.3 272.7h1.1v1.1h-1.1zM613.5 280.4h1.1v1.1h-1.1zM612.5 286.0h1.1v1.1h-1.1zM621.0 293.5h1.1v1.1h-1.1zM616.3 299.5h1.1v1.1h-1.1zM614.4 306.2h1.1v1.1h-1.1zM621.7 279.4h1.1v1.1h-1.1zM615.0 291.2h1.1v1.1h-1.1zM615.7 281.7h1.1v1.1h-1.1zM613.8 263.6h1.1v1.1h-1.1zM616.5 294.7h1.1v1.1h-1.1zM620.8 299.2h1.1v1.1h-1.1zM617.7 279.8h1.1v1.1h-1.1zM618.5 300.7h1.1v1.1h-1.1zM620.5 298.5h1.1v1.1h-1.1zM619.8 285.5h1.1v1.1h-1.1zM617.3 280.0h1.1v1.1h-1.1zM621.7 288.1h1.1v1.1h-1.1zM621.5 286.6h1.1v1.1h-1.1zM612.4 307.2h1.1v1.1h-1.1zM620.2 292.2h1.1v1.1h-1.1zM621.5 285.5h1.1v1.1h-1.1zM614.4 296.2h1.1v1.1h-1.1zM621.3 295.9h1.1v1.1h-1.1zM615.9 272.0h1.1v1.1h-1.1zM616.0 294.8h1.1v1.1h-1.1zM618.0 297.5h1.1v1.1h-1.1zM618.1 302.2h1.1v1.1h-1.1zM615.5 239.8h1.1v1.1h-1.1zM620.8 284.5h1.1v1.1h-1.1zM619.5 270.8h1.1v1.1h-1.1zM617.3 263.2h1.1v1.1h-1.1zM617.6 274.3h1.1v1.1h-1.1zM617.5 307.0h1.1v1.1h-1.1zM614.6 276.0h1.1v1.1h-1.1zM615.6 296.7h1.1v1.1h-1.1zM620.3 224.5h1.1v1.1h-1.1zM617.8 281.9h1.1v1.1h-1.1zM618.5 280.0h1.1v1.1h-1.1zM614.5 282.2h1.1v1.1h-1.1zM616.4 292.7h1.1v1.1h-1.1zM620.2 293.9h1.1v1.1h-1.1zM622.0 280.0h1.1v1.1h-1.1zM621.9 297.0h1.1v1.1h-1.1zM612.5 307.2h1.1v1.1h-1.1zM614.6 304.6h1.1v1.1h-1.1zM614.6 286.0h1.1v1.1h-1.1zM615.2 298.9h1.1v1.1h-1.1zM616.4 281.7h1.1v1.1h-1.1zM621.6 276.0h1.1v1.1h-1.1zM619.8 279.6h1.1v1.1h-1.1zM616.5 297.9h1.1v1.1h-1.1zM615.7 296.3h1.1v1.1h-1.1zM616.7 269.8h1.1v1.1h-1.1zM620.8 292.0h1.1v1.1h-1.1zM621.1 271.8h1.1v1.1h-1.1zM614.7 283.3h1.1v1.1h-1.1zM620.2 300.8h1.1v1.1h-1.1zM621.6 275.7h1.1v1.1h-1.1zM612.9 258.3h1.1v1.1h-1.1zM618.6 290.0h1.1v1.1h-1.1zM618.5 251.3h1.1v1.1h-1.1zM617.9 283.9h1.1v1.1h-1.1zM620.5 307.0h1.1v1.1h-1.1zM614.2 309.1h1.1v1.1h-1.1zM618.2 240.0h1.1v1.1h-1.1zM613.8 297.9h1.1v1.1h-1.1zM620.3 296.9h1.1v1.1h-1.1zM618.2 302.0h1.1v1.1h-1.1zM621.0 294.0h1.1v1.1h-1.1zM621.1 276.2h1.1v1.1h-1.1zM621.3 305.5h1.1v1.1h-1.1zM615.6 297.2h1.1v1.1h-1.1zM615.3 281.6h1.1v1.1h-1.1zM614.3 292.0h1.1v1.1h-1.1zM619.6 282.4h1.1v1.1h-1.1zM616.1 285.9h1.1v1.1h-1.1zM619.5 255.7h1.1v1.1h-1.1zM618.4 259.5h1.1v1.1h-1.1zM616.4 236.2h1.1v1.1h-1.1zM616.3 299.1h1.1v1.1h-1.1zM612.5 304.5h1.1v1.1h-1.1zM619.9 285.4h1.1v1.1h-1.1zM612.4 276.8h1.1v1.1h-1.1zM615.8 297.7h1.1v1.1h-1.1zM618.8 254.2h1.1v1.1h-1.1zM618.9 289.2h1.1v1.1h-1.1zM618.7 234.6h1.1v1.1h-1.1zM620.1 273.7h1.1v1.1h-1.1zM616.7 291.1h1.1v1.1h-1.1zM616.2 295.1h1.1v1.1h-1.1zM612.5 282.5h1.1v1.1h-1.1zM618.4 293.8h1.1v1.1h-1.1zM616.7 299.8h1.1v1.1h-1.1zM614.9 306.1h1.1v1.1h-1.1zM615.6 278.3h1.1v1.1h-1.1zM612.4 294.4h1.1v1.1h-1.1zM617.8 301.4h1.1v1.1h-1.1zM614.1 304.6h1.1v1.1h-1.1zM613.7 261.3h1.1v1.1h-1.1zM617.1 274.7h1.1v1.1h-1.1zM620.8 256.8h1.1v1.1h-1.1zM620.6 271.8h1.1v1.1h-1.1zM613.7 293.8h1.1v1.1h-1.1zM614.6 286.7h1.1v1.1h-1.1zM615.7 279.7h1.1v1.1h-1.1zM618.9 266.8h1.1v1.1h-1.1zM615.4 280.3h1.1v1.1h-1.1zM616.6 306.5h1.1v1.1h-1.1zM616.1 310.6h1.1v1.1h-1.1zM617.5 228.8h1.1v1.1h-1.1zM616.7 287.0h1.1v1.1h-1.1zM618.6 288.1h1.1v1.1h-1.1zM617.4 299.7h1.1v1.1h-1.1zM619.1 293.9h1.1v1.1h-1.1zM616.2 272.0h1.1v1.1h-1.1zM620.1 300.0h1.1v1.1h-1.1zM614.7 287.5h1.1v1.1h-1.1zM617.1 295.9h1.1v1.1h-1.1zM619.0 239.8h1.1v1.1h-1.1zM613.7 261.8h1.1v1.1h-1.1zM617.4 293.5h1.1v1.1h-1.1zM621.7 286.7h1.1v1.1h-1.1zM613.5 270.7h1.1v1.1h-1.1zM615.3 303.0h1.1v1.1h-1.1zM615.2 290.4h1.1v1.1h-1.1zM622.0 307.3h1.1v1.1h-1.1zM617.9 293.2h1.1v1.1h-1.1zM613.6 287.9h1.1v1.1h-1.1zM616.6 293.1h1.1v1.1h-1.1zM616.3 292.9h1.1v1.1h-1.1zM616.0 303.2h1.1v1.1h-1.1zM619.3 256.3h1.1v1.1h-1.1zM613.6 296.9h1.1v1.1h-1.1zM621.6 306.1h1.1v1.1h-1.1zM621.5 298.4h1.1v1.1h-1.1zM621.4 298.5h1.1v1.1h-1.1zM618.4 293.2h1.1v1.1h-1.1zM612.7 287.6h1.1v1.1h-1.1zM621.0 303.3h1.1v1.1h-1.1zM612.4 309.9h1.1v1.1h-1.1zM613.1 281.4h1.1v1.1h-1.1zM613.9 285.6h1.1v1.1h-1.1zM619.6 306.0h1.1v1.1h-1.1zM617.1 287.8h1.1v1.1h-1.1zM613.0 290.3h1.1v1.1h-1.1zM614.4 307.6h1.1v1.1h-1.1zM615.7 256.7h1.1v1.1h-1.1zM620.1 288.0h1.1v1.1h-1.1zM615.8 293.7h1.1v1.1h-1.1zM616.2 302.4h1.1v1.1h-1.1zM612.8 303.4h1.1v1.1h-1.1zM612.8 291.9h1.1v1.1h-1.1zM613.9 290.3h1.1v1.1h-1.1zM621.9 285.8h1.1v1.1h-1.1zM615.5 304.7h1.1v1.1h-1.1zM618.2 295.8h1.1v1.1h-1.1zM618.9 301.3h1.1v1.1h-1.1zM614.2 277.0h1.1v1.1h-1.1zM620.8 270.2h1.1v1.1h-1.1zM621.7 302.8h1.1v1.1h-1.1zM615.7 270.5h1.1v1.1h-1.1zM614.3 286.5h1.1v1.1h-1.1zM612.9 304.8h1.1v1.1h-1.1zM618.3 295.0h1.1v1.1h-1.1zM612.9 266.7h1.1v1.1h-1.1zM619.0 277.8h1.1v1.1h-1.1zM613.1 254.8h1.1v1.1h-1.1zM617.2 310.5h1.1v1.1h-1.1zM615.0 296.8h1.1v1.1h-1.1zM616.3 292.0h1.1v1.1h-1.1zM619.0 268.7h1.1v1.1h-1.1zM616.7 266.3h1.1v1.1h-1.1zM620.5 288.9h1.1v1.1h-1.1zM620.0 293.9h1.1v1.1h-1.1zM619.9 293.9h1.1v1.1h-1.1zM616.6 305.7h1.1v1.1h-1.1zM618.1 257.0h1.1v1.1h-1.1zM612.6 303.7h1.1v1.1h-1.1zM613.1 267.7h1.1v1.1h-1.1zM617.7 270.1h1.1v1.1h-1.1zM613.0 307.9h1.1v1.1h-1.1zM615.6 264.1h1.1v1.1h-1.1zM620.9 308.1h1.1v1.1h-1.1zM614.1 268.1h1.1v1.1h-1.1zM619.1 285.8h1.1v1.1h-1.1zM617.5 298.5h1.1v1.1h-1.1zM616.7 307.9h1.1v1.1h-1.1zM614.8 251.8h1.1v1.1h-1.1zM621.2 256.2h1.1v1.1h-1.1zM615.6 293.1h1.1v1.1h-1.1zM619.1 290.7h1.1v1.1h-1.1zM617.6 292.2h1.1v1.1h-1.1zM615.8 286.2h1.1v1.1h-1.1zM619.6 296.2h1.1v1.1h-1.1zM620.8 267.9h1.1v1.1h-1.1zM620.2 281.2h1.1v1.1h-1.1zM616.6 242.6h1.1v1.1h-1.1zM615.2 285.7h1.1v1.1h-1.1zM620.7 296.3h1.1v1.1h-1.1zM618.6 296.7h1.1v1.1h-1.1zM618.0 303.7h1.1v1.1h-1.1zM620.7 308.4h1.1v1.1h-1.1zM622.0 270.7h1.1v1.1h-1.1zM613.0 289.8h1.1v1.1h-1.1zM619.5 271.3h1.1v1.1h-1.1zM613.5 308.2h1.1v1.1h-1.1zM614.9 283.1h1.1v1.1h-1.1zM619.1 280.8h1.1v1.1h-1.1zM613.7 250.7h1.1v1.1h-1.1zM614.8 291.8h1.1v1.1h-1.1zM621.1 288.9h1.1v1.1h-1.1zM618.3 284.5h1.1v1.1h-1.1zM620.1 286.4h1.1v1.1h-1.1zM619.4 291.0h1.1v1.1h-1.1zM616.5 266.4h1.1v1.1h-1.1zM619.5 283.2h1.1v1.1h-1.1zM618.7 287.7h1.1v1.1h-1.1zM612.4 290.3h1.1v1.1h-1.1zM620.3 268.4h1.1v1.1h-1.1zM614.9 311.9h1.1v1.1h-1.1zM615.3 281.8h1.1v1.1h-1.1zM616.7 253.8h1.1v1.1h-1.1zM612.7 267.4h1.1v1.1h-1.1zM617.2 299.5h1.1v1.1h-1.1zM617.5 237.5h1.1v1.1h-1.1zM616.5 276.4h1.1v1.1h-1.1zM621.5 273.3h1.1v1.1h-1.1zM619.6 254.5h1.1v1.1h-1.1zM613.8 293.7h1.1v1.1h-1.1zM616.7 302.0h1.1v1.1h-1.1zM619.2 301.2h1.1v1.1h-1.1zM613.7 307.0h1.1v1.1h-1.1zM617.0 310.3h1.1v1.1h-1.1zM619.6 269.1h1.1v1.1h-1.1zM613.6 299.0h1.1v1.1h-1.1zM619.8 299.5h1.1v1.1h-1.1zM620.6 300.3h1.1v1.1h-1.1zM612.5 277.8h1.1v1.1h-1.1zM619.1 271.3h1.1v1.1h-1.1zM615.7 282.4h1.1v1.1h-1.1zM620.3 286.3h1.1v1.1h-1.1zM615.6 302.0h1.1v1.1h-1.1zM620.2 277.5h1.1v1.1h-1.1zM619.5 305.9h1.1v1.1h-1.1zM620.5 277.6h1.1v1.1h-1.1zM615.0 248.5h1.1v1.1h-1.1zM619.7 305.9h1.1v1.1h-1.1zM617.0 295.8h1.1v1.1h-1.1zM621.0 303.2h1.1v1.1h-1.1zM617.6 263.2h1.1v1.1h-1.1zM613.2 291.4h1.1v1.1h-1.1zM619.2 266.0h1.1v1.1h-1.1zM615.1 276.3h1.1v1.1h-1.1zM620.6 301.8h1.1v1.1h-1.1zM614.7 281.7h1.1v1.1h-1.1zM613.7 297.9h1.1v1.1h-1.1zM617.2 256.8h1.1v1.1h-1.1zM613.6 295.3h1.1v1.1h-1.1zM617.6 298.7h1.1v1.1h-1.1zM620.0 271.4h1.1v1.1h-1.1zM616.7 302.5h1.1v1.1h-1.1zM615.5 308.3h1.1v1.1h-1.1zM615.6 281.6h1.1v1.1h-1.1zM613.6 287.4h1.1v1.1h-1.1zM614.2 294.0h1.1v1.1h-1.1zM621.6 288.7h1.1v1.1h-1.1zM615.6 289.3h1.1v1.1h-1.1zM620.1 288.0h1.1v1.1h-1.1zM614.1 305.2h1.1v1.1h-1.1zM613.9 254.6h1.1v1.1h-1.1zM619.8 271.2h1.1v1.1h-1.1zM619.4 282.8h1.1v1.1h-1.1zM619.9 264.1h1.1v1.1h-1.1zM618.2 287.8h1.1v1.1h-1.1zM613.0 281.6h1.1v1.1h-1.1zM619.4 297.0h1.1v1.1h-1.1zM615.2 297.4h1.1v1.1h-1.1zM620.6 293.3h1.1v1.1h-1.1zM621.8 291.9h1.1v1.1h-1.1zM615.0 307.2h1.1v1.1h-1.1zM618.2 307.4h1.1v1.1h-1.1zM617.8 279.7h1.1v1.1h-1.1zM618.5 307.4h1.1v1.1h-1.1zM617.8 294.2h1.1v1.1h-1.1zM613.6 267.1h1.1v1.1h-1.1zM620.3 299.8h1.1v1.1h-1.1zM620.6 306.8h1.1v1.1h-1.1zM621.4 265.5h1.1v1.1h-1.1zM616.9 296.8h1.1v1.1h-1.1zM621.6 300.9h1.1v1.1h-1.1zM619.7 287.6h1.1v1.1h-1.1zM622.0 309.9h1.1v1.1h-1.1zM618.1 286.2h1.1v1.1h-1.1zM612.7 299.3h1.1v1.1h-1.1zM618.0 309.1h1.1v1.1h-1.1zM616.7 287.0h1.1v1.1h-1.1zM613.8 292.7h1.1v1.1h-1.1zM617.8 285.5h1.1v1.1h-1.1zM621.8 289.4h1.1v1.1h-1.1zM619.7 285.3h1.1v1.1h-1.1zM620.4 287.2h1.1v1.1h-1.1zM615.3 285.8h1.1v1.1h-1.1zM615.5 290.5h1.1v1.1h-1.1zM620.3 290.4h1.1v1.1h-1.1zM612.4 273.9h1.1v1.1h-1.1zM614.6 290.1h1.1v1.1h-1.1zM620.5 273.1h1.1v1.1h-1.1zM615.8 291.3h1.1v1.1h-1.1zM621.7 252.9h1.1v1.1h-1.1zM615.2 287.1h1.1v1.1h-1.1zM615.2 274.2h1.1v1.1h-1.1zM617.3 310.6h1.1v1.1h-1.1zM613.2 287.6h1.1v1.1h-1.1zM618.3 301.4h1.1v1.1h-1.1zM616.4 285.8h1.1v1.1h-1.1zM613.0 282.0h1.1v1.1h-1.1zM616.7 272.0h1.1v1.1h-1.1zM614.2 257.6h1.1v1.1h-1.1zM618.5 263.5h1.1v1.1h-1.1zM614.9 245.0h1.1v1.1h-1.1zM618.9 279.0h1.1v1.1h-1.1zM617.1 284.0h1.1v1.1h-1.1zM617.6 297.9h1.1v1.1h-1.1zM616.5 295.2h1.1v1.1h-1.1zM613.6 263.7h1.1v1.1h-1.1zM618.1 264.3h1.1v1.1h-1.1zM619.3 310.3h1.1v1.1h-1.1zM618.8 286.8h1.1v1.1h-1.1zM621.9 276.5h1.1v1.1h-1.1zM616.1 297.0h1.1v1.1h-1.1zM616.3 281.5h1.1v1.1h-1.1zM613.3 285.5h1.1v1.1h-1.1zM614.3 294.7h1.1v1.1h-1.1zM620.8 250.4h1.1v1.1h-1.1zM617.1 287.8h1.1v1.1h-1.1zM621.3 291.1h1.1v1.1h-1.1zM613.1 278.5h1.1v1.1h-1.1zM621.4 278.9h1.1v1.1h-1.1zM622.0 276.9h1.1v1.1h-1.1zM621.8 282.6h1.1v1.1h-1.1zM614.2 295.8h1.1v1.1h-1.1zM614.0 301.3h1.1v1.1h-1.1zM614.8 299.3h1.1v1.1h-1.1zM619.5 296.1h1.1v1.1h-1.1zM618.7 293.0h1.1v1.1h-1.1zM613.9 265.9h1.1v1.1h-1.1zM616.2 277.2h1.1v1.1h-1.1zM616.4 304.8h1.1v1.1h-1.1zM618.4 304.0h1.1v1.1h-1.1zM620.2 262.8h1.1v1.1h-1.1zM615.3 278.0h1.1v1.1h-1.1zM613.0 297.2h1.1v1.1h-1.1zM616.2 260.2h1.1v1.1h-1.1zM614.6 265.9h1.1v1.1h-1.1zM613.0 292.1h1.1v1.1h-1.1zM620.8 276.8h1.1v1.1h-1.1zM617.9 272.2h1.1v1.1h-1.1zM616.8 302.1h1.1v1.1h-1.1zM616.9 236.6h1.1v1.1h-1.1zM618.9 281.9h1.1v1.1h-1.1zM620.1 262.8h1.1v1.1h-1.1zM617.3 291.7h1.1v1.1h-1.1zM614.2 268.2h1.1v1.1h-1.1zM616.7 284.6h1.1v1.1h-1.1zM618.7 264.6h1.1v1.1h-1.1zM616.3 297.0h1.1v1.1h-1.1zM613.8 290.7h1.1v1.1h-1.1zM616.0 290.1h1.1v1.1h-1.1zM619.3 263.1h1.1v1.1h-1.1zM618.0 310.0h1.1v1.1h-1.1zM617.2 279.4h1.1v1.1h-1.1zM614.7 301.5h1.1v1.1h-1.1zM619.0 280.9h1.1v1.1h-1.1zM616.6 299.2h1.1v1.1h-1.1zM615.3 281.5h1.1v1.1h-1.1zM621.9 296.6h1.1v1.1h-1.1zM617.0 281.8h1.1v1.1h-1.1zM618.9 287.3h1.1v1.1h-1.1zM618.8 259.5h1.1v1.1h-1.1zM617.6 293.3h1.1v1.1h-1.1zM617.9 289.8h1.1v1.1h-1.1zM617.5 295.3h1.1v1.1h-1.1zM618.8 292.6h1.1v1.1h-1.1zM614.3 278.2h1.1v1.1h-1.1zM614.5 304.1h1.1v1.1h-1.1zM612.8 306.3h1.1v1.1h-1.1zM614.9 234.4h1.1v1.1h-1.1zM615.9 277.2h1.1v1.1h-1.1zM618.0 230.1h1.1v1.1h-1.1zM614.0 290.5h1.1v1.1h-1.1zM621.0 308.6h1.1v1.1h-1.1zM615.4 283.8h1.1v1.1h-1.1zM617.5 278.9h1.1v1.1h-1.1zM620.4 278.9h1.1v1.1h-1.1zM619.5 252.0h1.1v1.1h-1.1zM612.9 301.1h1.1v1.1h-1.1zM614.3 287.7h1.1v1.1h-1.1zM616.4 287.1h1.1v1.1h-1.1zM613.7 280.2h1.1v1.1h-1.1zM616.7 279.7h1.1v1.1h-1.1zM620.0 289.9h1.1v1.1h-1.1zM614.9 299.6h1.1v1.1h-1.1zM619.2 298.8h1.1v1.1h-1.1zM621.2 285.6h1.1v1.1h-1.1zM616.4 273.7h1.1v1.1h-1.1zM614.8 299.9h1.1v1.1h-1.1zM621.4 306.4h1.1v1.1h-1.1zM615.4 248.7h1.1v1.1h-1.1zM615.5 277.9h1.1v1.1h-1.1zM619.9 286.7h1.1v1.1h-1.1zM615.9 235.7h1.1v1.1h-1.1zM612.5 278.2h1.1v1.1h-1.1zM612.8 306.3h1.1v1.1h-1.1zM615.4 237.8h1.1v1.1h-1.1zM621.1 291.3h1.1v1.1h-1.1zM614.5 276.2h1.1v1.1h-1.1zM619.6 306.0h1.1v1.1h-1.1zM617.5 261.4h1.1v1.1h-1.1zM620.6 268.2h1.1v1.1h-1.1zM620.5 272.3h1.1v1.1h-1.1zM612.3 303.5h1.1v1.1h-1.1zM619.4 309.7h1.1v1.1h-1.1zM619.8 305.8h1.1v1.1h-1.1zM613.8 274.9h1.1v1.1h-1.1zM612.6 265.4h1.1v1.1h-1.1zM621.4 297.9h1.1v1.1h-1.1zM612.5 288.3h1.1v1.1h-1.1zM618.1 273.3h1.1v1.1h-1.1zM621.0 307.5h1.1v1.1h-1.1zM614.7 297.5h1.1v1.1h-1.1zM619.3 305.1h1.1v1.1h-1.1zM615.7 302.6h1.1v1.1h-1.1zM616.8 309.9h1.1v1.1h-1.1zM616.0 289.8h1.1v1.1h-1.1zM620.6 283.5h1.1v1.1h-1.1zM615.7 296.2h1.1v1.1h-1.1zM616.6 284.2h1.1v1.1h-1.1zM616.2 310.3h1.1v1.1h-1.1zM621.5 286.7h1.1v1.1h-1.1zM621.0 292.9h1.1v1.1h-1.1zM615.3 289.7h1.1v1.1h-1.1zM613.4 298.2h1.1v1.1h-1.1zM613.6 299.3h1.1v1.1h-1.1zM618.3 241.6h1.1v1.1h-1.1zM619.0 304.0h1.1v1.1h-1.1zM616.7 303.8h1.1v1.1h-1.1zM619.5 259.7h1.1v1.1h-1.1zM619.7 279.4h1.1v1.1h-1.1zM621.0 252.6h1.1v1.1h-1.1zM617.5 295.1h1.1v1.1h-1.1zM622.0 280.7h1.1v1.1h-1.1zM619.0 271.7h1.1v1.1h-1.1zM613.5 291.7h1.1v1.1h-1.1zM618.2 267.8h1.1v1.1h-1.1zM618.9 265.6h1.1v1.1h-1.1zM619.3 237.2h1.1v1.1h-1.1zM613.2 299.1h1.1v1.1h-1.1zM616.1 301.1h1.1v1.1h-1.1zM618.1 303.7h1.1v1.1h-1.1zM618.9 302.3h1.1v1.1h-1.1zM619.9 261.1h1.1v1.1h-1.1zM620.1 259.0h1.1v1.1h-1.1zM621.8 293.4h1.1v1.1h-1.1zM619.0 270.6h1.1v1.1h-1.1zM613.9 288.6h1.1v1.1h-1.1zM620.6 284.7h1.1v1.1h-1.1zM618.8 275.7h1.1v1.1h-1.1zM619.1 292.0h1.1v1.1h-1.1zM621.7 309.0h1.1v1.1h-1.1zM618.0 284.1h1.1v1.1h-1.1zM612.6 279.7h1.1v1.1h-1.1zM615.4 276.5h1.1v1.1h-1.1zM621.8 304.2h1.1v1.1h-1.1zM613.0 277.0h1.1v1.1h-1.1zM617.2 291.1h1.1v1.1h-1.1zM612.9 291.0h1.1v1.1h-1.1zM619.9 299.1h1.1v1.1h-1.1zM618.9 244.7h1.1v1.1h-1.1zM622.0 275.0h1.1v1.1h-1.1zM614.4 292.3h1.1v1.1h-1.1zM617.0 290.9h1.1v1.1h-1.1zM616.4 261.0h1.1v1.1h-1.1zM621.9 286.5h1.1v1.1h-1.1zM618.9 290.2h1.1v1.1h-1.1zM613.3 297.0h1.1v1.1h-1.1zM618.1 297.0h1.1v1.1h-1.1zM620.5 307.5h1.1v1.1h-1.1zM616.8 282.5h1.1v1.1h-1.1zM612.5 287.0h1.1v1.1h-1.1zM614.2 254.7h1.1v1.1h-1.1zM622.0 276.9h1.1v1.1h-1.1zM612.5 262.1h1.1v1.1h-1.1zM616.8 255.5h1.1v1.1h-1.1zM614.3 285.2h1.1v1.1h-1.1zM615.7 281.7h1.1v1.1h-1.1zM620.4 276.5h1.1v1.1h-1.1zM620.3 257.3h1.1v1.1h-1.1zM615.0 296.4h1.1v1.1h-1.1zM616.3 301.9h1.1v1.1h-1.1zM618.1 265.9h1.1v1.1h-1.1zM617.4 286.9h1.1v1.1h-1.1zM616.3 299.3h1.1v1.1h-1.1zM613.5 290.0h1.1v1.1h-1.1zM618.2 238.6h1.1v1.1h-1.1zM615.9 280.7h1.1v1.1h-1.1zM615.1 296.1h1.1v1.1h-1.1zM619.5 262.1h1.1v1.1h-1.1zM616.3 278.9h1.1v1.1h-1.1zM617.0 261.1h1.1v1.1h-1.1zM620.9 290.7h1.1v1.1h-1.1zM615.0 268.1h1.1v1.1h-1.1zM615.5 283.8h1.1v1.1h-1.1zM614.8 258.9h1.1v1.1h-1.1zM618.4 263.2h1.1v1.1h-1.1zM616.6 235.7h1.1v1.1h-1.1zM615.4 283.4h1.1v1.1h-1.1zM616.5 277.9h1.1v1.1h-1.1zM613.8 265.0h1.1v1.1h-1.1zM621.9 275.0h1.1v1.1h-1.1zM617.3 290.0h1.1v1.1h-1.1zM619.9 289.0h1.1v1.1h-1.1zM615.5 293.8h1.1v1.1h-1.1zM618.9 256.7h1.1v1.1h-1.1zM616.9 268.3h1.1v1.1h-1.1zM621.7 285.9h1.1v1.1h-1.1zM617.3 277.7h1.1v1.1h-1.1zM614.2 298.4h1.1v1.1h-1.1zM619.1 310.1h1.1v1.1h-1.1zM620.7 308.9h1.1v1.1h-1.1z" fill="#E08C8C" stroke="#3A1818" stroke-width="0.32" stroke-opacity="0.78"/>
<line x1="617.7" x2="617.7" y1="240" y2="277.1" stroke="#111" stroke-width="0.6"/>
<line x1="617.7" x2="617.7" y1="298.9" y2="316.5" stroke="#111" stroke-width="0.6"/>
<rect x="609.1" y="277.1" width="17.4" height="21.8" fill="#F4A6A6" fill-opacity="0.72" stroke="#222" stroke-width="0.6"/>
<line x1="609.1" x2="626.5" y1="290.2" y2="290.2" stroke="#111" stroke-width="1.1"/>
</g>
<g id="panelE">
<text x="3.30" y="373.80" font-size="10.9" text-anchor="start" fill="#000" font-weight="bold" textLength="7.2" lengthAdjust="spacingAndGlyphs"  stroke="#000" stroke-width="0.35">e</text>
<path d="M46.1,374 V482.5 H117.6" fill="none" stroke="#777" stroke-width="0.7"/>
<line x1="41.4" x2="46.1" y1="482.4" y2="482.4" stroke="#777" stroke-width="0.7"/>
<text x="39.00" y="485.10" font-size="7.5" text-anchor="end" fill="#222" >0</text>
<line x1="41.4" x2="46.1" y1="460.8" y2="460.8" stroke="#777" stroke-width="0.7"/>
<text x="39.00" y="463.50" font-size="7.5" text-anchor="end" fill="#222" >300</text>
<line x1="41.4" x2="46.1" y1="439.2" y2="439.2" stroke="#777" stroke-width="0.7"/>
<text x="39.00" y="441.90" font-size="7.5" text-anchor="end" fill="#222" >600</text>
<line x1="41.4" x2="46.1" y1="417.6" y2="417.6" stroke="#777" stroke-width="0.7"/>
<text x="39.00" y="420.30" font-size="7.5" text-anchor="end" fill="#222" >900</text>
<line x1="41.4" x2="46.1" y1="396.0" y2="396.0" stroke="#777" stroke-width="0.7"/>
<text x="39.00" y="398.70" font-size="7.5" text-anchor="end" fill="#222" >1,200</text>
<line x1="41.4" x2="46.1" y1="374.4" y2="374.4" stroke="#777" stroke-width="0.7"/>
<text x="39.00" y="377.10" font-size="7.5" text-anchor="end" fill="#222" >1,500</text>
<text x="13.10" y="427.30" font-size="8.5" text-anchor="middle" fill="#222" transform="rotate(-90 13.10 427.30)" textLength="81.2" lengthAdjust="spacingAndGlyphs" >Number of peptides</text>
<rect x="51.6" y="419.2" width="10.9" height="36.8" fill="#fff" stroke="#333" stroke-width="0.6"/>
<rect x="51.6" y="456" width="10.9" height="26.4" fill="#178017" stroke="#333" stroke-width="0.6"/>
<line x1="57.0" x2="57.0" y1="482.5" y2="486.1" stroke="#777" stroke-width="0.7"/>
<text x="59.35" y="441.80" font-size="7.3" text-anchor="middle" fill="#222" transform="rotate(-90 59.35 441.80)" textLength="20.8" lengthAdjust="spacingAndGlyphs" >42.3%</text>
<rect x="68.5" y="419.2" width="10.5" height="49.4" fill="#fff" stroke="#333" stroke-width="0.6"/>
<rect x="68.5" y="468.6" width="10.5" height="13.8" fill="#178017" stroke="#333" stroke-width="0.6"/>
<line x1="73.8" x2="73.8" y1="482.5" y2="486.1" stroke="#777" stroke-width="0.7"/>
<text x="76.05" y="450.60" font-size="7.3" text-anchor="middle" fill="#222" transform="rotate(-90 76.05 450.60)" textLength="20.8" lengthAdjust="spacingAndGlyphs" >22.5%</text>
<rect x="84.5" y="379.7" width="11.2" height="70.4" fill="#B3E2FB" stroke="#333" stroke-width="0.6"/>
<rect x="84.5" y="450.1" width="11.2" height="32.3" fill="#1E80FF" stroke="#333" stroke-width="0.6"/>
<line x1="90.1" x2="90.1" y1="482.5" y2="486.1" stroke="#777" stroke-width="0.7"/>
<text x="92.40" y="433.00" font-size="7.3" text-anchor="middle" fill="#222" transform="rotate(-90 92.40 433.00)" textLength="20.8" lengthAdjust="spacingAndGlyphs" >31.8%</text>
<rect x="101.4" y="379.7" width="10.9" height="83.4" fill="#fff" stroke="#333" stroke-width="0.6"/>
<rect x="101.4" y="463.1" width="10.9" height="19.3" fill="#1E80FF" stroke="#333" stroke-width="0.6"/>
<line x1="106.8" x2="106.8" y1="482.5" y2="486.1" stroke="#777" stroke-width="0.7"/>
<text x="109.15" y="446.20" font-size="7.3" text-anchor="middle" fill="#222" transform="rotate(-90 109.15 446.20)" textLength="20.8" lengthAdjust="spacingAndGlyphs" >19.0%</text>
<text x="59.50" y="491.20" font-size="8.4" text-anchor="end" fill="#222" transform="rotate(-45 59.50 491.20)" textLength="78.8" lengthAdjust="spacingAndGlyphs" >Healthy versus MCI</text>
<text x="76.10" y="492.40" font-size="8.4" text-anchor="end" fill="#222" transform="rotate(-45 76.10 492.40)" textLength="58.5" lengthAdjust="spacingAndGlyphs" >MCI versus AD</text>
<text x="93.20" y="491.20" font-size="8.4" text-anchor="end" fill="#222" transform="rotate(-45 93.20 491.20)" textLength="78.8" lengthAdjust="spacingAndGlyphs" >Healthy versus MCI</text>
<text x="109.70" y="492.40" font-size="8.4" text-anchor="end" fill="#222" transform="rotate(-45 109.70 492.40)" textLength="58.5" lengthAdjust="spacingAndGlyphs" >MCI versus AD</text>
<rect x="118.4" y="394.4" width="7.6" height="7.5" fill="#178017"/>
<rect x="118.4" y="414.2" width="7.6" height="7.5" fill="#9BC57E"/>
<rect x="118.4" y="434" width="7.6" height="7.5" fill="#1E80FF"/>
<rect x="118.4" y="453.9" width="7.6" height="7.5" fill="#B3E2FB"/>
<text x="129.30" y="396.10" font-size="7.7" text-anchor="start" fill="#222" textLength="72.7" lengthAdjust="spacingAndGlyphs" >Significant difference</text>
<text x="129.30" y="403.70" font-size="7.7" text-anchor="start" fill="#222" textLength="49.5" lengthAdjust="spacingAndGlyphs" >in accessibility</text>
<text x="129.30" y="415.90" font-size="7.7" text-anchor="start" fill="#222" textLength="82.9" lengthAdjust="spacingAndGlyphs" >No significant difference</text>
<text x="129.30" y="423.40" font-size="7.7" text-anchor="start" fill="#222" textLength="49.5" lengthAdjust="spacingAndGlyphs" >in accessibility</text>
<text x="129.30" y="435.70" font-size="7.7" text-anchor="start" fill="#222" textLength="72.7" lengthAdjust="spacingAndGlyphs" >Significant difference</text>
<text x="129.30" y="443.40" font-size="7.7" text-anchor="start" fill="#222" textLength="36.5" lengthAdjust="spacingAndGlyphs" >in intensity</text>
<text x="129.30" y="455.70" font-size="7.7" text-anchor="start" fill="#222" textLength="82.9" lengthAdjust="spacingAndGlyphs" >No significant difference</text>
<text x="129.30" y="463.20" font-size="7.7" text-anchor="start" fill="#222" textLength="36.5" lengthAdjust="spacingAndGlyphs" >in intensity</text>
</g>
<g id="panelF">
<text x="222.00" y="373.00" font-size="10.9" text-anchor="start" fill="#000" font-weight="bold" textLength="4.9" lengthAdjust="spacingAndGlyphs"  stroke="#000" stroke-width="0.35">f</text>
<line x1="253.7" y1="493.2" x2="371.2" y2="376.4" stroke="#CBCBCB" stroke-width="1.0"/>
<g fill="#F6C443" fill-opacity="0.62" stroke="#7A6320" stroke-opacity="0.55" stroke-width="0.5">
<circle cx="281.9" cy="424.7" r="1.45"/>
<circle cx="302.7" cy="436.6" r="1.45"/>
<circle cx="306.2" cy="434.8" r="1.45"/>
<circle cx="316.4" cy="431.3" r="1.45"/>
<circle cx="321.5" cy="433.1" r="1.45"/>
<circle cx="326.2" cy="428.4" r="1.45"/>
<circle cx="350.0" cy="398.6" r="1.45"/>
<circle cx="350.6" cy="410.3" r="1.45"/>
<circle cx="348.2" cy="406.2" r="1.45"/>
<circle cx="358.8" cy="396.3" r="1.45"/>
<circle cx="361.0" cy="396.9" r="1.45"/>
<circle cx="362.8" cy="395.1" r="1.45"/>
<circle cx="363.1" cy="399.4" r="1.45"/>
<circle cx="345.3" cy="409.1" r="1.45"/>
<circle cx="340.6" cy="416.1" r="1.45"/>
<circle cx="319.7" cy="418.7" r="1.45"/>
<circle cx="321.9" cy="420.6" r="1.45"/>
<circle cx="330.2" cy="411.8" r="1.45"/>
<circle cx="328.7" cy="408.8" r="1.45"/>
<circle cx="330.0" cy="408.5" r="1.45"/>
<circle cx="335.3" cy="411.7" r="1.45"/>
<circle cx="313.8" cy="427.6" r="1.45"/>
<circle cx="332.5" cy="417.3" r="1.45"/>
<circle cx="320.5" cy="426.1" r="1.45"/>
<circle cx="334.9" cy="408.7" r="1.45"/>
<circle cx="335.9" cy="420.7" r="1.45"/>
<circle cx="331.4" cy="410.7" r="1.45"/>
<circle cx="313.3" cy="423.4" r="1.45"/>
<circle cx="329.4" cy="417.3" r="1.45"/>
<circle cx="340.9" cy="412.7" r="1.45"/>
<circle cx="325.7" cy="410.9" r="1.45"/>
<circle cx="337.5" cy="406.1" r="1.45"/>
<circle cx="328.1" cy="417.9" r="1.45"/>
<circle cx="331.5" cy="418.2" r="1.45"/>
<circle cx="332.9" cy="414.1" r="1.45"/>
<circle cx="335.5" cy="411.7" r="1.45"/>
<circle cx="325.9" cy="411.9" r="1.45"/>
<circle cx="326.9" cy="417.1" r="1.45"/>
<circle cx="339.7" cy="411.1" r="1.45"/>
<circle cx="342.3" cy="404.9" r="1.45"/>
<circle cx="329.3" cy="420.9" r="1.45"/>
<circle cx="324.4" cy="420.5" r="1.45"/>
<circle cx="334.0" cy="415.8" r="1.45"/>
<circle cx="334.7" cy="410.7" r="1.45"/>
<circle cx="340.9" cy="416.7" r="1.45"/>
<circle cx="325.7" cy="417.2" r="1.45"/>
<circle cx="326.2" cy="418.1" r="1.45"/>
<circle cx="325.5" cy="420.2" r="1.45"/>
<circle cx="325.9" cy="413.4" r="1.45"/>
<circle cx="338.0" cy="413.7" r="1.45"/>
<circle cx="326.1" cy="411.2" r="1.45"/>
<circle cx="322.3" cy="422.8" r="1.45"/>
<circle cx="319.0" cy="419.0" r="1.45"/>
<circle cx="327.6" cy="416.1" r="1.45"/>
<circle cx="325.6" cy="416.7" r="1.45"/>
<circle cx="331.1" cy="414.5" r="1.45"/>
<circle cx="327.7" cy="419.9" r="1.45"/>
<circle cx="335.7" cy="416.8" r="1.45"/>
<circle cx="334.6" cy="417.9" r="1.45"/>
<circle cx="340.5" cy="408.8" r="1.45"/>
<circle cx="336.1" cy="412.6" r="1.45"/>
<circle cx="333.7" cy="417.8" r="1.45"/>
<circle cx="336.0" cy="415.3" r="1.45"/>
<circle cx="330.3" cy="419.4" r="1.45"/>
<circle cx="324.1" cy="415.9" r="1.45"/>
<circle cx="323.1" cy="419.8" r="1.45"/>
<circle cx="331.0" cy="419.0" r="1.45"/>
<circle cx="336.8" cy="414.2" r="1.45"/>
<circle cx="315.1" cy="420.5" r="1.45"/>
<circle cx="322.8" cy="420.9" r="1.45"/>
<circle cx="323.2" cy="422.4" r="1.45"/>
<circle cx="334.0" cy="413.8" r="1.45"/>
<circle cx="326.9" cy="414.0" r="1.45"/>
<circle cx="322.6" cy="419.6" r="1.45"/>
<circle cx="322.8" cy="415.7" r="1.45"/>
<circle cx="326.6" cy="416.7" r="1.45"/>
<circle cx="332.6" cy="409.8" r="1.45"/>
<circle cx="326.9" cy="415.6" r="1.45"/>
<circle cx="330.5" cy="415.5" r="1.45"/>
<circle cx="330.8" cy="416.2" r="1.45"/>
<circle cx="329.3" cy="414.6" r="1.45"/>
<circle cx="327.8" cy="411.5" r="1.45"/>
<circle cx="344.8" cy="405.8" r="1.45"/>
<circle cx="321.8" cy="420.4" r="1.45"/>
<circle cx="315.6" cy="424.8" r="1.45"/>
<circle cx="333.2" cy="411.7" r="1.45"/>
<circle cx="333.2" cy="410.3" r="1.45"/>
<circle cx="331.3" cy="409.5" r="1.45"/>
<circle cx="311.1" cy="430.4" r="1.45"/>
<circle cx="337.8" cy="414.5" r="1.45"/>
<circle cx="335.7" cy="413.1" r="1.45"/>
<circle cx="325.4" cy="422.3" r="1.45"/>
<circle cx="326.3" cy="419.5" r="1.45"/>
<circle cx="335.2" cy="411.4" r="1.45"/>
<circle cx="328.9" cy="417.7" r="1.45"/>
<circle cx="330.7" cy="418.7" r="1.45"/>
<circle cx="325.3" cy="415.4" r="1.45"/>
<circle cx="326.0" cy="419.8" r="1.45"/>
<circle cx="322.2" cy="425.5" r="1.45"/>
<circle cx="322.4" cy="414.1" r="1.45"/>
<circle cx="334.0" cy="419.8" r="1.45"/>
<circle cx="320.9" cy="422.7" r="1.45"/>
<circle cx="336.9" cy="412.4" r="1.45"/>
<circle cx="347.1" cy="407.3" r="1.45"/>
<circle cx="346.7" cy="404.8" r="1.45"/>
<circle cx="332.5" cy="412.2" r="1.45"/>
<circle cx="331.4" cy="413.8" r="1.45"/>
<circle cx="320.0" cy="425.9" r="1.45"/>
<circle cx="322.0" cy="416.8" r="1.45"/>
<circle cx="325.1" cy="419.2" r="1.45"/>
<circle cx="339.0" cy="408.2" r="1.45"/>
<circle cx="312.9" cy="423.4" r="1.45"/>
<circle cx="328.3" cy="416.0" r="1.45"/>
<circle cx="337.9" cy="415.9" r="1.45"/>
<circle cx="335.1" cy="413.9" r="1.45"/>
<circle cx="332.3" cy="416.7" r="1.45"/>
<circle cx="335.8" cy="416.7" r="1.45"/>
<circle cx="328.6" cy="415.4" r="1.45"/>
<circle cx="319.7" cy="423.0" r="1.45"/>
<circle cx="314.6" cy="424.7" r="1.45"/>
<circle cx="331.1" cy="412.9" r="1.45"/>
<circle cx="332.5" cy="414.5" r="1.45"/>
<circle cx="334.1" cy="419.3" r="1.45"/>
<circle cx="328.9" cy="420.2" r="1.45"/>
<circle cx="325.2" cy="419.5" r="1.45"/>
<circle cx="339.5" cy="409.6" r="1.45"/>
<circle cx="334.6" cy="409.4" r="1.45"/>
<circle cx="331.0" cy="416.5" r="1.45"/>
<circle cx="328.2" cy="415.9" r="1.45"/>
<circle cx="335.8" cy="406.5" r="1.45"/>
<circle cx="324.0" cy="423.4" r="1.45"/>
<circle cx="322.5" cy="417.5" r="1.45"/>
<circle cx="324.7" cy="419.3" r="1.45"/>
<circle cx="329.7" cy="414.4" r="1.45"/>
<circle cx="326.6" cy="414.8" r="1.45"/>
<circle cx="326.2" cy="419.5" r="1.45"/>
<circle cx="326.5" cy="413.5" r="1.45"/>
<circle cx="326.8" cy="418.8" r="1.45"/>
<circle cx="320.6" cy="419.9" r="1.45"/>
<circle cx="332.5" cy="416.7" r="1.45"/>
<circle cx="334.4" cy="410.7" r="1.45"/>
<circle cx="330.0" cy="417.2" r="1.45"/>
<circle cx="326.3" cy="414.2" r="1.45"/>
<circle cx="328.2" cy="416.6" r="1.45"/>
<circle cx="337.3" cy="415.4" r="1.45"/>
<circle cx="329.5" cy="415.4" r="1.45"/>
<circle cx="328.2" cy="413.3" r="1.45"/>
<circle cx="324.0" cy="430.0" r="1.45"/>
<circle cx="338.1" cy="411.8" r="1.45"/>
<circle cx="330.7" cy="417.7" r="1.45"/>
<circle cx="328.8" cy="410.0" r="1.45"/>
<circle cx="319.3" cy="427.0" r="1.45"/>
<circle cx="331.9" cy="409.2" r="1.45"/>
<circle cx="334.9" cy="416.1" r="1.45"/>
<circle cx="343.1" cy="408.8" r="1.45"/>
<circle cx="333.0" cy="420.4" r="1.45"/>
<circle cx="323.1" cy="424.0" r="1.45"/>
<circle cx="330.8" cy="415.2" r="1.45"/>
<circle cx="336.7" cy="415.7" r="1.45"/>
<circle cx="321.7" cy="424.1" r="1.45"/>
<circle cx="333.4" cy="409.6" r="1.45"/>
<circle cx="341.6" cy="413.3" r="1.45"/>
<circle cx="326.5" cy="416.9" r="1.45"/>
<circle cx="325.6" cy="419.6" r="1.45"/>
<circle cx="342.7" cy="418.2" r="1.45"/>
<circle cx="321.5" cy="418.8" r="1.45"/>
<circle cx="337.2" cy="413.9" r="1.45"/>
<circle cx="320.5" cy="426.5" r="1.45"/>
<circle cx="315.8" cy="424.3" r="1.45"/>
<circle cx="338.9" cy="410.7" r="1.45"/>
<circle cx="333.0" cy="417.9" r="1.45"/>
<circle cx="327.9" cy="411.1" r="1.45"/>
<circle cx="328.7" cy="417.8" r="1.45"/>
<circle cx="342.0" cy="408.4" r="1.45"/>
<circle cx="339.0" cy="410.9" r="1.45"/>
<circle cx="316.7" cy="421.0" r="1.45"/>
<circle cx="336.9" cy="407.8" r="1.45"/>
<circle cx="320.3" cy="422.4" r="1.45"/>
<circle cx="325.7" cy="416.7" r="1.45"/>
<circle cx="327.6" cy="417.3" r="1.45"/>
<circle cx="323.2" cy="418.6" r="1.45"/>
<circle cx="314.8" cy="422.6" r="1.45"/>
<circle cx="331.9" cy="416.9" r="1.45"/>
<circle cx="324.0" cy="422.1" r="1.45"/>
<circle cx="329.5" cy="419.6" r="1.45"/>
</g>
<g fill="#6a665a" fill-opacity="0.22" stroke="#333638" stroke-opacity="0.5" stroke-width="0.5">
<circle cx="326.9" cy="416.5" r="1.45"/>
<circle cx="327.6" cy="417.9" r="1.45"/>
<circle cx="322.9" cy="421.0" r="1.45"/>
<circle cx="325.4" cy="420.7" r="1.45"/>
<circle cx="325.7" cy="417.8" r="1.45"/>
<circle cx="322.2" cy="419.3" r="1.45"/>
<circle cx="320.5" cy="421.7" r="1.45"/>
<circle cx="333.3" cy="410.8" r="1.45"/>
<circle cx="331.2" cy="415.8" r="1.45"/>
<circle cx="328.9" cy="415.2" r="1.45"/>
<circle cx="323.1" cy="420.7" r="1.45"/>
<circle cx="330.1" cy="418.5" r="1.45"/>
<circle cx="335.9" cy="411.6" r="1.45"/>
<circle cx="328.6" cy="413.5" r="1.45"/>
<circle cx="328.3" cy="417.9" r="1.45"/>
<circle cx="321.7" cy="419.0" r="1.45"/>
<circle cx="325.1" cy="419.6" r="1.45"/>
<circle cx="337.7" cy="413.2" r="1.45"/>
<circle cx="329.5" cy="415.5" r="1.45"/>
<circle cx="330.8" cy="417.5" r="1.45"/>
<circle cx="329.5" cy="417.0" r="1.45"/>
<circle cx="330.4" cy="414.9" r="1.45"/>
<circle cx="327.8" cy="421.4" r="1.45"/>
<circle cx="329.4" cy="416.5" r="1.45"/>
<circle cx="329.8" cy="418.2" r="1.45"/>
<circle cx="326.9" cy="419.6" r="1.45"/>
<circle cx="329.5" cy="415.0" r="1.45"/>
<circle cx="330.6" cy="413.7" r="1.45"/>
<circle cx="329.7" cy="416.0" r="1.45"/>
<circle cx="336.4" cy="415.1" r="1.45"/>
<circle cx="335.2" cy="412.7" r="1.45"/>
<circle cx="327.5" cy="417.5" r="1.45"/>
<circle cx="330.0" cy="416.7" r="1.45"/>
<circle cx="330.5" cy="415.4" r="1.45"/>
<circle cx="330.3" cy="415.8" r="1.45"/>
<circle cx="326.3" cy="419.9" r="1.45"/>
<circle cx="327.2" cy="418.7" r="1.45"/>
<circle cx="331.6" cy="416.0" r="1.45"/>
<circle cx="327.5" cy="418.4" r="1.45"/>
<circle cx="334.8" cy="413.8" r="1.45"/>
<circle cx="333.3" cy="414.3" r="1.45"/>
<circle cx="326.3" cy="419.9" r="1.45"/>
<circle cx="332.7" cy="417.5" r="1.45"/>
<circle cx="323.7" cy="419.7" r="1.45"/>
<circle cx="329.1" cy="418.5" r="1.45"/>
<circle cx="335.2" cy="411.9" r="1.45"/>
<circle cx="330.6" cy="419.3" r="1.45"/>
<circle cx="333.8" cy="413.1" r="1.45"/>
<circle cx="323.5" cy="418.1" r="1.45"/>
<circle cx="329.3" cy="418.8" r="1.45"/>
<circle cx="335.4" cy="413.5" r="1.45"/>
<circle cx="322.4" cy="423.8" r="1.45"/>
<circle cx="326.2" cy="419.6" r="1.45"/>
<circle cx="339.9" cy="411.9" r="1.45"/>
<circle cx="328.3" cy="417.9" r="1.45"/>
<circle cx="321.8" cy="423.0" r="1.45"/>
<circle cx="328.9" cy="417.4" r="1.45"/>
<circle cx="328.8" cy="417.6" r="1.45"/>
<circle cx="332.2" cy="418.6" r="1.45"/>
<circle cx="334.2" cy="413.1" r="1.45"/>
<circle cx="330.0" cy="418.5" r="1.45"/>
<circle cx="331.0" cy="418.1" r="1.45"/>
<circle cx="324.4" cy="418.6" r="1.45"/>
<circle cx="334.0" cy="409.1" r="1.45"/>
<circle cx="327.5" cy="416.6" r="1.45"/>
<circle cx="333.1" cy="411.1" r="1.45"/>
<circle cx="327.0" cy="418.4" r="1.45"/>
<circle cx="325.4" cy="421.3" r="1.45"/>
<circle cx="322.8" cy="421.8" r="1.45"/>
<circle cx="337.6" cy="411.9" r="1.45"/>
<circle cx="330.8" cy="416.4" r="1.45"/>
<circle cx="333.5" cy="413.7" r="1.45"/>
<circle cx="324.9" cy="419.5" r="1.45"/>
<circle cx="326.4" cy="416.9" r="1.45"/>
<circle cx="326.6" cy="420.2" r="1.45"/>
<circle cx="324.9" cy="418.5" r="1.45"/>
<circle cx="330.8" cy="417.4" r="1.45"/>
<circle cx="329.4" cy="417.0" r="1.45"/>
<circle cx="334.0" cy="411.2" r="1.45"/>
<circle cx="326.2" cy="421.4" r="1.45"/>
<circle cx="324.6" cy="418.6" r="1.45"/>
<circle cx="326.1" cy="420.0" r="1.45"/>
<circle cx="330.9" cy="418.1" r="1.45"/>
<circle cx="326.5" cy="417.0" r="1.45"/>
<circle cx="328.4" cy="414.2" r="1.45"/>
<circle cx="330.6" cy="416.8" r="1.45"/>
<circle cx="336.3" cy="413.4" r="1.45"/>
<circle cx="333.8" cy="414.9" r="1.45"/>
<circle cx="329.8" cy="417.2" r="1.45"/>
<circle cx="333.7" cy="412.1" r="1.45"/>
<circle cx="323.6" cy="418.1" r="1.45"/>
<circle cx="328.5" cy="417.0" r="1.45"/>
<circle cx="330.6" cy="415.0" r="1.45"/>
<circle cx="331.8" cy="415.9" r="1.45"/>
<circle cx="329.6" cy="418.7" r="1.45"/>
<circle cx="331.0" cy="418.8" r="1.45"/>
<circle cx="328.8" cy="417.5" r="1.45"/>
<circle cx="334.8" cy="412.5" r="1.45"/>
<circle cx="333.3" cy="413.0" r="1.45"/>
<circle cx="326.6" cy="419.2" r="1.45"/>
<circle cx="325.7" cy="417.1" r="1.45"/>
<circle cx="328.8" cy="414.8" r="1.45"/>
<circle cx="329.6" cy="417.2" r="1.45"/>
<circle cx="330.4" cy="415.7" r="1.45"/>
<circle cx="329.8" cy="416.1" r="1.45"/>
<circle cx="335.7" cy="412.4" r="1.45"/>
<circle cx="332.3" cy="419.1" r="1.45"/>
<circle cx="332.9" cy="415.5" r="1.45"/>
<circle cx="334.5" cy="413.9" r="1.45"/>
<circle cx="331.1" cy="416.1" r="1.45"/>
<circle cx="330.4" cy="416.2" r="1.45"/>
<circle cx="327.8" cy="417.0" r="1.45"/>
<circle cx="331.0" cy="413.8" r="1.45"/>
<circle cx="325.6" cy="418.7" r="1.45"/>
<circle cx="329.3" cy="416.4" r="1.45"/>
<circle cx="327.7" cy="418.7" r="1.45"/>
<circle cx="332.1" cy="413.3" r="1.45"/>
<circle cx="330.4" cy="417.8" r="1.45"/>
<circle cx="330.6" cy="417.9" r="1.45"/>
<circle cx="335.3" cy="413.7" r="1.45"/>
<circle cx="329.2" cy="416.7" r="1.45"/>
<circle cx="333.4" cy="411.7" r="1.45"/>
<circle cx="328.8" cy="414.5" r="1.45"/>
<circle cx="329.7" cy="417.0" r="1.45"/>
<circle cx="329.9" cy="417.5" r="1.45"/>
<circle cx="333.8" cy="414.0" r="1.45"/>
<circle cx="338.1" cy="412.7" r="1.45"/>
<circle cx="321.8" cy="419.8" r="1.45"/>
<circle cx="329.9" cy="415.3" r="1.45"/>
<circle cx="328.0" cy="417.6" r="1.45"/>
<circle cx="333.4" cy="415.7" r="1.45"/>
<circle cx="334.0" cy="414.2" r="1.45"/>
<circle cx="329.3" cy="416.0" r="1.45"/>
<circle cx="332.8" cy="413.7" r="1.45"/>
<circle cx="330.9" cy="416.1" r="1.45"/>
<circle cx="337.2" cy="409.3" r="1.45"/>
<circle cx="330.0" cy="416.1" r="1.45"/>
<circle cx="329.2" cy="415.6" r="1.45"/>
<circle cx="335.2" cy="411.2" r="1.45"/>
<circle cx="331.7" cy="413.1" r="1.45"/>
<circle cx="328.8" cy="417.0" r="1.45"/>
<circle cx="321.5" cy="419.4" r="1.45"/>
<circle cx="332.7" cy="416.7" r="1.45"/>
<circle cx="331.5" cy="416.8" r="1.45"/>
<circle cx="336.8" cy="413.2" r="1.45"/>
<circle cx="335.0" cy="413.7" r="1.45"/>
<circle cx="334.3" cy="414.1" r="1.45"/>
<circle cx="328.1" cy="416.2" r="1.45"/>
<circle cx="329.7" cy="416.2" r="1.45"/>
<circle cx="327.1" cy="420.8" r="1.45"/>
<circle cx="327.3" cy="417.9" r="1.45"/>
<circle cx="321.4" cy="422.0" r="1.45"/>
<circle cx="333.9" cy="412.8" r="1.45"/>
<circle cx="326.8" cy="418.9" r="1.45"/>
<circle cx="331.7" cy="415.2" r="1.45"/>
<circle cx="323.5" cy="419.8" r="1.45"/>
<circle cx="330.2" cy="416.9" r="1.45"/>
<circle cx="322.7" cy="418.1" r="1.45"/>
<circle cx="326.4" cy="421.3" r="1.45"/>
<circle cx="327.1" cy="419.5" r="1.45"/>
<circle cx="328.0" cy="416.7" r="1.45"/>
<circle cx="327.0" cy="417.6" r="1.45"/>
<circle cx="328.4" cy="416.6" r="1.45"/>
<circle cx="330.9" cy="417.2" r="1.45"/>
<circle cx="323.7" cy="420.4" r="1.45"/>
<circle cx="329.3" cy="416.6" r="1.45"/>
<circle cx="327.7" cy="417.6" r="1.45"/>
<circle cx="332.2" cy="419.1" r="1.45"/>
<circle cx="329.5" cy="416.0" r="1.45"/>
<circle cx="324.4" cy="417.0" r="1.45"/>
<circle cx="327.3" cy="419.6" r="1.45"/>
<circle cx="325.5" cy="420.5" r="1.45"/>
<circle cx="326.0" cy="418.1" r="1.45"/>
<circle cx="326.7" cy="417.6" r="1.45"/>
<circle cx="321.4" cy="418.3" r="1.45"/>
<circle cx="331.9" cy="417.1" r="1.45"/>
<circle cx="334.3" cy="412.6" r="1.45"/>
<circle cx="328.3" cy="417.8" r="1.45"/>
<circle cx="324.0" cy="420.7" r="1.45"/>
<circle cx="328.2" cy="420.6" r="1.45"/>
<circle cx="329.2" cy="415.1" r="1.45"/>
<circle cx="329.3" cy="415.9" r="1.45"/>
<circle cx="333.2" cy="415.6" r="1.45"/>
<circle cx="328.8" cy="416.8" r="1.45"/>
<circle cx="322.0" cy="420.4" r="1.45"/>
<circle cx="330.0" cy="415.3" r="1.45"/>
<circle cx="331.9" cy="416.9" r="1.45"/>
<circle cx="330.5" cy="415.4" r="1.45"/>
<circle cx="328.4" cy="416.9" r="1.45"/>
<circle cx="323.9" cy="419.4" r="1.45"/>
<circle cx="327.2" cy="417.7" r="1.45"/>
<circle cx="322.2" cy="422.3" r="1.45"/>
<circle cx="329.5" cy="417.1" r="1.45"/>
<circle cx="330.0" cy="414.0" r="1.45"/>
<circle cx="325.4" cy="419.0" r="1.45"/>
<circle cx="336.8" cy="410.1" r="1.45"/>
<circle cx="330.0" cy="413.9" r="1.45"/>
<circle cx="335.0" cy="414.1" r="1.45"/>
<circle cx="329.0" cy="414.8" r="1.45"/>
<circle cx="327.7" cy="418.7" r="1.45"/>
<circle cx="326.5" cy="419.9" r="1.45"/>
<circle cx="324.5" cy="419.8" r="1.45"/>
<circle cx="330.0" cy="416.6" r="1.45"/>
<circle cx="321.1" cy="422.9" r="1.45"/>
<circle cx="327.5" cy="418.4" r="1.45"/>
<circle cx="330.4" cy="417.1" r="1.45"/>
<circle cx="332.7" cy="416.0" r="1.45"/>
<circle cx="333.3" cy="413.5" r="1.45"/>
<circle cx="332.6" cy="415.1" r="1.45"/>
<circle cx="328.1" cy="417.7" r="1.45"/>
<circle cx="325.8" cy="419.0" r="1.45"/>
<circle cx="330.0" cy="417.0" r="1.45"/>
<circle cx="326.9" cy="418.4" r="1.45"/>
<circle cx="330.6" cy="416.2" r="1.45"/>
<circle cx="329.9" cy="416.8" r="1.45"/>
<circle cx="329.5" cy="417.4" r="1.45"/>
<circle cx="324.8" cy="421.2" r="1.45"/>
<circle cx="323.3" cy="419.8" r="1.45"/>
<circle cx="329.9" cy="413.3" r="1.45"/>
<circle cx="324.4" cy="420.1" r="1.45"/>
<circle cx="322.2" cy="420.1" r="1.45"/>
<circle cx="327.2" cy="417.2" r="1.45"/>
<circle cx="330.2" cy="415.3" r="1.45"/>
<circle cx="333.7" cy="415.4" r="1.45"/>
<circle cx="335.5" cy="414.4" r="1.45"/>
<circle cx="333.2" cy="414.9" r="1.45"/>
<circle cx="329.8" cy="416.7" r="1.45"/>
<circle cx="327.7" cy="419.7" r="1.45"/>
<circle cx="329.9" cy="419.2" r="1.45"/>
<circle cx="328.1" cy="419.3" r="1.45"/>
<circle cx="326.5" cy="418.3" r="1.45"/>
<circle cx="325.8" cy="418.5" r="1.45"/>
<circle cx="323.7" cy="419.6" r="1.45"/>
<circle cx="333.7" cy="413.6" r="1.45"/>
<circle cx="330.7" cy="417.2" r="1.45"/>
<circle cx="329.2" cy="416.2" r="1.45"/>
<circle cx="330.0" cy="416.8" r="1.45"/>
<circle cx="326.0" cy="416.3" r="1.45"/>
<circle cx="327.8" cy="418.8" r="1.45"/>
<circle cx="326.9" cy="416.6" r="1.45"/>
<circle cx="332.6" cy="414.2" r="1.45"/>
<circle cx="326.5" cy="418.5" r="1.45"/>
<circle cx="330.1" cy="417.3" r="1.45"/>
<circle cx="326.9" cy="419.1" r="1.45"/>
<circle cx="334.9" cy="414.6" r="1.45"/>
<circle cx="328.9" cy="418.9" r="1.45"/>
<circle cx="327.9" cy="417.7" r="1.45"/>
<circle cx="331.3" cy="415.1" r="1.45"/>
<circle cx="323.0" cy="420.2" r="1.45"/>
<circle cx="323.8" cy="420.8" r="1.45"/>
<circle cx="329.0" cy="415.4" r="1.45"/>
<circle cx="326.0" cy="420.6" r="1.45"/>
<circle cx="334.9" cy="415.5" r="1.45"/>
<circle cx="322.6" cy="420.0" r="1.45"/>
<circle cx="328.8" cy="416.8" r="1.45"/>
<circle cx="340.5" cy="410.0" r="1.45"/>
<circle cx="331.6" cy="415.3" r="1.45"/>
<circle cx="327.5" cy="417.7" r="1.45"/>
<circle cx="332.5" cy="415.1" r="1.45"/>
<circle cx="332.4" cy="417.1" r="1.45"/>
<circle cx="328.9" cy="417.7" r="1.45"/>
<circle cx="339.4" cy="414.1" r="1.45"/>
<circle cx="328.4" cy="418.8" r="1.45"/>
<circle cx="327.6" cy="416.3" r="1.45"/>
<circle cx="335.2" cy="415.1" r="1.45"/>
<circle cx="330.3" cy="414.9" r="1.45"/>
<circle cx="327.3" cy="417.1" r="1.45"/>
<circle cx="324.9" cy="419.0" r="1.45"/>
<circle cx="338.2" cy="409.1" r="1.45"/>
<circle cx="328.2" cy="419.2" r="1.45"/>
<circle cx="329.4" cy="420.6" r="1.45"/>
<circle cx="330.8" cy="416.6" r="1.45"/>
<circle cx="329.9" cy="416.0" r="1.45"/>
<circle cx="333.6" cy="415.7" r="1.45"/>
<circle cx="327.6" cy="418.0" r="1.45"/>
<circle cx="332.2" cy="415.2" r="1.45"/>
<circle cx="328.6" cy="417.2" r="1.45"/>
<circle cx="331.7" cy="417.4" r="1.45"/>
<circle cx="329.7" cy="417.4" r="1.45"/>
<circle cx="325.8" cy="420.1" r="1.45"/>
<circle cx="324.6" cy="420.1" r="1.45"/>
<circle cx="327.9" cy="415.7" r="1.45"/>
<circle cx="334.8" cy="413.0" r="1.45"/>
<circle cx="328.8" cy="416.5" r="1.45"/>
<circle cx="334.9" cy="411.9" r="1.45"/>
<circle cx="336.4" cy="411.6" r="1.45"/>
<circle cx="327.4" cy="420.0" r="1.45"/>
<circle cx="329.8" cy="416.1" r="1.45"/>
<circle cx="332.8" cy="415.3" r="1.45"/>
<circle cx="325.6" cy="417.4" r="1.45"/>
<circle cx="328.6" cy="416.4" r="1.45"/>
<circle cx="332.2" cy="416.5" r="1.45"/>
<circle cx="331.7" cy="414.2" r="1.45"/>
<circle cx="334.2" cy="412.9" r="1.45"/>
<circle cx="326.8" cy="418.0" r="1.45"/>
<circle cx="328.0" cy="415.4" r="1.45"/>
<circle cx="333.8" cy="415.4" r="1.45"/>
<circle cx="331.2" cy="415.1" r="1.45"/>
<circle cx="330.7" cy="413.8" r="1.45"/>
<circle cx="325.6" cy="420.5" r="1.45"/>
<circle cx="325.2" cy="418.3" r="1.45"/>
<circle cx="329.4" cy="415.1" r="1.45"/>
<circle cx="331.3" cy="415.4" r="1.45"/>
<circle cx="331.1" cy="415.7" r="1.45"/>
<circle cx="327.5" cy="415.9" r="1.45"/>
<circle cx="335.4" cy="411.9" r="1.45"/>
<circle cx="329.6" cy="416.6" r="1.45"/>
<circle cx="327.9" cy="418.0" r="1.45"/>
<circle cx="325.6" cy="421.5" r="1.45"/>
<circle cx="332.6" cy="417.4" r="1.45"/>
<circle cx="327.4" cy="417.9" r="1.45"/>
<circle cx="327.9" cy="417.7" r="1.45"/>
<circle cx="326.7" cy="419.5" r="1.45"/>
<circle cx="327.5" cy="416.4" r="1.45"/>
<circle cx="328.9" cy="414.5" r="1.45"/>
<circle cx="330.3" cy="413.5" r="1.45"/>
<circle cx="326.5" cy="417.5" r="1.45"/>
<circle cx="325.2" cy="415.8" r="1.45"/>
<circle cx="334.0" cy="413.2" r="1.45"/>
<circle cx="330.4" cy="417.4" r="1.45"/>
<circle cx="331.7" cy="413.1" r="1.45"/>
<circle cx="326.0" cy="418.9" r="1.45"/>
<circle cx="330.7" cy="416.9" r="1.45"/>
<circle cx="325.7" cy="419.3" r="1.45"/>
<circle cx="323.0" cy="421.8" r="1.45"/>
<circle cx="321.4" cy="420.3" r="1.45"/>
<circle cx="332.1" cy="414.8" r="1.45"/>
<circle cx="326.3" cy="419.6" r="1.45"/>
<circle cx="329.8" cy="417.6" r="1.45"/>
<circle cx="329.5" cy="419.0" r="1.45"/>
<circle cx="328.2" cy="418.1" r="1.45"/>
<circle cx="328.4" cy="417.0" r="1.45"/>
<circle cx="321.0" cy="421.2" r="1.45"/>
<circle cx="330.8" cy="417.3" r="1.45"/>
<circle cx="332.1" cy="416.3" r="1.45"/>
<circle cx="330.2" cy="414.3" r="1.45"/>
<circle cx="327.4" cy="416.8" r="1.45"/>
<circle cx="332.4" cy="416.2" r="1.45"/>
<circle cx="327.3" cy="419.7" r="1.45"/>
<circle cx="329.4" cy="416.0" r="1.45"/>
<circle cx="325.1" cy="418.2" r="1.45"/>
<circle cx="334.0" cy="416.3" r="1.45"/>
<circle cx="329.0" cy="414.6" r="1.45"/>
<circle cx="330.9" cy="415.4" r="1.45"/>
<circle cx="323.0" cy="420.4" r="1.45"/>
<circle cx="333.5" cy="416.8" r="1.45"/>
<circle cx="324.7" cy="419.6" r="1.45"/>
<circle cx="328.0" cy="417.2" r="1.45"/>
<circle cx="334.5" cy="419.4" r="1.45"/>
<circle cx="327.9" cy="416.8" r="1.45"/>
<circle cx="332.7" cy="414.8" r="1.45"/>
<circle cx="327.7" cy="420.1" r="1.45"/>
<circle cx="331.7" cy="413.9" r="1.45"/>
<circle cx="330.9" cy="415.3" r="1.45"/>
<circle cx="324.9" cy="417.4" r="1.45"/>
<circle cx="328.0" cy="417.0" r="1.45"/>
<circle cx="325.6" cy="417.9" r="1.45"/>
<circle cx="332.2" cy="413.6" r="1.45"/>
<circle cx="329.9" cy="413.9" r="1.45"/>
<circle cx="327.2" cy="416.5" r="1.45"/>
<circle cx="327.9" cy="416.3" r="1.45"/>
<circle cx="332.8" cy="414.7" r="1.45"/>
<circle cx="330.6" cy="418.5" r="1.45"/>
<circle cx="325.1" cy="418.7" r="1.45"/>
<circle cx="328.4" cy="415.6" r="1.45"/>
<circle cx="334.1" cy="413.3" r="1.45"/>
<circle cx="328.2" cy="418.7" r="1.45"/>
<circle cx="329.7" cy="420.2" r="1.45"/>
<circle cx="334.6" cy="415.2" r="1.45"/>
<circle cx="325.8" cy="420.9" r="1.45"/>
<circle cx="331.4" cy="414.3" r="1.45"/>
<circle cx="327.3" cy="417.6" r="1.45"/>
<circle cx="326.7" cy="418.3" r="1.45"/>
<circle cx="324.2" cy="420.9" r="1.45"/>
<circle cx="332.7" cy="412.9" r="1.45"/>
<circle cx="332.7" cy="415.4" r="1.45"/>
<circle cx="327.8" cy="414.9" r="1.45"/>
<circle cx="326.7" cy="420.3" r="1.45"/>
<circle cx="325.8" cy="417.2" r="1.45"/>
<circle cx="329.5" cy="418.9" r="1.45"/>
<circle cx="324.2" cy="418.6" r="1.45"/>
<circle cx="326.6" cy="417.4" r="1.45"/>
<circle cx="329.3" cy="417.1" r="1.45"/>
<circle cx="328.6" cy="417.8" r="1.45"/>
<circle cx="329.2" cy="417.0" r="1.45"/>
<circle cx="332.5" cy="414.4" r="1.45"/>
<circle cx="333.6" cy="413.3" r="1.45"/>
<circle cx="327.8" cy="418.2" r="1.45"/>
<circle cx="333.4" cy="416.0" r="1.45"/>
<circle cx="327.9" cy="417.6" r="1.45"/>
<circle cx="330.8" cy="415.5" r="1.45"/>
<circle cx="327.5" cy="415.1" r="1.45"/>
<circle cx="330.9" cy="414.0" r="1.45"/>
<circle cx="332.6" cy="418.7" r="1.45"/>
<circle cx="332.3" cy="418.1" r="1.45"/>
<circle cx="323.9" cy="419.9" r="1.45"/>
<circle cx="330.6" cy="415.5" r="1.45"/>
<circle cx="323.5" cy="417.7" r="1.45"/>
<circle cx="337.8" cy="414.6" r="1.45"/>
<circle cx="337.1" cy="411.9" r="1.45"/>
<circle cx="329.3" cy="415.1" r="1.45"/>
<circle cx="332.9" cy="413.3" r="1.45"/>
<circle cx="333.0" cy="415.0" r="1.45"/>
<circle cx="324.7" cy="419.7" r="1.45"/>
<circle cx="337.9" cy="412.3" r="1.45"/>
<circle cx="324.4" cy="419.2" r="1.45"/>
<circle cx="327.2" cy="416.7" r="1.45"/>
<circle cx="330.0" cy="417.2" r="1.45"/>
<circle cx="325.9" cy="418.6" r="1.45"/>
<circle cx="331.5" cy="417.4" r="1.45"/>
<circle cx="331.8" cy="416.8" r="1.45"/>
<circle cx="323.0" cy="423.5" r="1.45"/>
<circle cx="336.1" cy="409.4" r="1.45"/>
<circle cx="328.7" cy="417.1" r="1.45"/>
<circle cx="325.0" cy="421.2" r="1.45"/>
<circle cx="331.8" cy="414.1" r="1.45"/>
<circle cx="334.9" cy="414.0" r="1.45"/>
<circle cx="329.0" cy="417.9" r="1.45"/>
<circle cx="323.0" cy="418.0" r="1.45"/>
<circle cx="327.7" cy="415.3" r="1.45"/>
</g>
<line x1="253.7" y1="457.4" x2="371.2" y2="394.4" stroke="#4787DE" stroke-width="1.0" stroke-dasharray="2.5 2.5"/>
<rect x="253.7" y="376.4" width="117.5" height="116.8" fill="none" stroke="#777" stroke-width="0.8"/>
<line x1="250.1" x2="253.7" y1="493.2" y2="493.2" stroke="#777" stroke-width="0.7"/>
<text x="247.20" y="495.80" font-size="7.7" text-anchor="end" fill="#222" >0</text>
<line x1="253.7" x2="253.7" y1="493.2" y2="496.8" stroke="#777" stroke-width="0.7"/>
<text x="253.90" y="507.30" font-size="7.7" text-anchor="middle" fill="#222" >0</text>
<line x1="250.1" x2="253.7" y1="454.3" y2="454.3" stroke="#777" stroke-width="0.7"/>
<text x="247.20" y="456.87" font-size="7.7" text-anchor="end" fill="#222" textLength="10.6" lengthAdjust="spacingAndGlyphs" >0.5</text>
<line x1="292.9" x2="292.9" y1="493.2" y2="496.8" stroke="#777" stroke-width="0.7"/>
<text x="293.07" y="507.30" font-size="7.7" text-anchor="middle" fill="#222" textLength="10.6" lengthAdjust="spacingAndGlyphs" >0.5</text>
<line x1="250.1" x2="253.7" y1="415.3" y2="415.3" stroke="#777" stroke-width="0.7"/>
<text x="247.20" y="417.93" font-size="7.7" text-anchor="end" fill="#222" textLength="10.2" lengthAdjust="spacingAndGlyphs" >1.0</text>
<line x1="332.0" x2="332.0" y1="493.2" y2="496.8" stroke="#777" stroke-width="0.7"/>
<text x="332.23" y="507.30" font-size="7.7" text-anchor="middle" fill="#222" textLength="10.2" lengthAdjust="spacingAndGlyphs" >1.0</text>
<line x1="250.1" x2="253.7" y1="376.4" y2="376.4" stroke="#777" stroke-width="0.7"/>
<text x="247.20" y="379.00" font-size="7.7" text-anchor="end" fill="#222" textLength="9.6" lengthAdjust="spacingAndGlyphs" >1.5</text>
<line x1="371.2" x2="371.2" y1="493.2" y2="496.8" stroke="#777" stroke-width="0.7"/>
<text x="371.40" y="507.30" font-size="7.7" text-anchor="middle" fill="#222" textLength="9.6" lengthAdjust="spacingAndGlyphs" >1.5</text>
<text x="257.1" y="385.5" font-size="7.4" fill="#222" textLength="67" lengthAdjust="spacingAndGlyphs"><tspan font-style="italic">Y</tspan> = 0.5396×<tspan font-style="italic">X</tspan> + 0.46</text>
<text x="257.1" y="394.2" font-size="7.4" fill="#222" textLength="35.1" lengthAdjust="spacingAndGlyphs"><tspan font-style="italic">R</tspan> = 0.8327</text>
<text x="229.60" y="431.30" font-size="8.4" text-anchor="middle" fill="#222" transform="rotate(-90 229.60 431.30)" textLength="101.2" lengthAdjust="spacingAndGlyphs" >Fold change (MCI/healthy)</text>
<text x="314.05" y="521.60" font-size="8.4" text-anchor="middle" fill="#222" textLength="102.3" lengthAdjust="spacingAndGlyphs" >Fold change (AD/healthy)</text>
<line x1="408.6" y1="493" x2="526.3" y2="376.5" stroke="#CBCBCB" stroke-width="1.0"/>
<g fill="#F6C443" fill-opacity="0.62" stroke="#7A6320" stroke-opacity="0.55" stroke-width="0.5">
<circle cx="436.5" cy="461.9" r="1.45"/>
<circle cx="457.2" cy="427.0" r="1.45"/>
<circle cx="461.2" cy="424.7" r="1.45"/>
<circle cx="466.7" cy="427.0" r="1.45"/>
<circle cx="468.2" cy="429.3" r="1.45"/>
<circle cx="473.7" cy="428.5" r="1.45"/>
<circle cx="476.1" cy="406.8" r="1.45"/>
<circle cx="480.8" cy="407.6" r="1.45"/>
<circle cx="494.9" cy="406.0" r="1.45"/>
<circle cx="505.1" cy="403.7" r="1.45"/>
<circle cx="503.5" cy="413.8" r="1.45"/>
<circle cx="513.0" cy="409.1" r="1.45"/>
<circle cx="515.3" cy="408.3" r="1.45"/>
<circle cx="517.3" cy="407.6" r="1.45"/>
<circle cx="518.5" cy="402.9" r="1.45"/>
<circle cx="502.0" cy="409.9" r="1.45"/>
<circle cx="491.9" cy="413.9" r="1.45"/>
<circle cx="477.6" cy="421.0" r="1.45"/>
<circle cx="485.0" cy="415.5" r="1.45"/>
<circle cx="478.4" cy="417.1" r="1.45"/>
<circle cx="485.2" cy="419.1" r="1.45"/>
<circle cx="487.3" cy="415.5" r="1.45"/>
<circle cx="483.5" cy="417.7" r="1.45"/>
<circle cx="484.9" cy="414.6" r="1.45"/>
<circle cx="493.7" cy="412.9" r="1.45"/>
<circle cx="472.5" cy="424.3" r="1.45"/>
<circle cx="490.2" cy="414.8" r="1.45"/>
<circle cx="487.7" cy="417.1" r="1.45"/>
<circle cx="481.0" cy="424.1" r="1.45"/>
<circle cx="477.7" cy="416.4" r="1.45"/>
<circle cx="484.0" cy="418.2" r="1.45"/>
<circle cx="484.6" cy="418.6" r="1.45"/>
<circle cx="483.2" cy="414.8" r="1.45"/>
<circle cx="481.1" cy="410.5" r="1.45"/>
<circle cx="473.0" cy="419.3" r="1.45"/>
<circle cx="487.4" cy="413.3" r="1.45"/>
<circle cx="491.4" cy="413.0" r="1.45"/>
<circle cx="491.6" cy="414.4" r="1.45"/>
<circle cx="483.6" cy="418.9" r="1.45"/>
<circle cx="488.5" cy="413.8" r="1.45"/>
<circle cx="493.6" cy="413.7" r="1.45"/>
<circle cx="494.1" cy="414.4" r="1.45"/>
<circle cx="484.0" cy="414.6" r="1.45"/>
<circle cx="481.7" cy="419.0" r="1.45"/>
<circle cx="476.6" cy="419.9" r="1.45"/>
<circle cx="484.1" cy="408.0" r="1.45"/>
<circle cx="497.6" cy="407.7" r="1.45"/>
<circle cx="500.3" cy="407.0" r="1.45"/>
<circle cx="481.3" cy="417.0" r="1.45"/>
<circle cx="477.3" cy="423.5" r="1.45"/>
<circle cx="478.6" cy="417.0" r="1.45"/>
<circle cx="481.8" cy="420.0" r="1.45"/>
<circle cx="480.6" cy="413.7" r="1.45"/>
<circle cx="472.9" cy="420.3" r="1.45"/>
<circle cx="474.8" cy="419.3" r="1.45"/>
<circle cx="479.9" cy="419.4" r="1.45"/>
<circle cx="479.0" cy="416.0" r="1.45"/>
<circle cx="474.7" cy="420.3" r="1.45"/>
<circle cx="479.9" cy="423.2" r="1.45"/>
<circle cx="484.8" cy="409.8" r="1.45"/>
<circle cx="489.4" cy="415.8" r="1.45"/>
<circle cx="490.2" cy="416.0" r="1.45"/>
<circle cx="484.0" cy="415.6" r="1.45"/>
<circle cx="480.6" cy="422.9" r="1.45"/>
<circle cx="480.8" cy="421.2" r="1.45"/>
<circle cx="484.7" cy="416.3" r="1.45"/>
<circle cx="477.6" cy="423.0" r="1.45"/>
<circle cx="495.2" cy="413.2" r="1.45"/>
<circle cx="467.7" cy="427.1" r="1.45"/>
<circle cx="499.0" cy="409.0" r="1.45"/>
<circle cx="477.3" cy="420.2" r="1.45"/>
<circle cx="480.0" cy="420.7" r="1.45"/>
<circle cx="471.4" cy="422.8" r="1.45"/>
<circle cx="479.3" cy="425.7" r="1.45"/>
<circle cx="480.3" cy="418.4" r="1.45"/>
<circle cx="473.9" cy="421.1" r="1.45"/>
<circle cx="481.0" cy="414.0" r="1.45"/>
<circle cx="481.5" cy="420.7" r="1.45"/>
<circle cx="494.2" cy="412.0" r="1.45"/>
<circle cx="478.5" cy="410.2" r="1.45"/>
<circle cx="494.1" cy="411.6" r="1.45"/>
<circle cx="473.1" cy="425.4" r="1.45"/>
<circle cx="491.4" cy="418.8" r="1.45"/>
<circle cx="483.0" cy="422.0" r="1.45"/>
<circle cx="483.3" cy="422.4" r="1.45"/>
<circle cx="478.3" cy="419.1" r="1.45"/>
<circle cx="487.3" cy="412.3" r="1.45"/>
<circle cx="471.0" cy="423.8" r="1.45"/>
<circle cx="485.2" cy="409.4" r="1.45"/>
<circle cx="485.4" cy="419.1" r="1.45"/>
<circle cx="476.2" cy="428.4" r="1.45"/>
<circle cx="492.2" cy="416.5" r="1.45"/>
<circle cx="481.1" cy="415.4" r="1.45"/>
<circle cx="480.4" cy="416.8" r="1.45"/>
<circle cx="472.9" cy="420.2" r="1.45"/>
<circle cx="483.8" cy="419.5" r="1.45"/>
<circle cx="479.8" cy="422.4" r="1.45"/>
<circle cx="488.1" cy="413.5" r="1.45"/>
<circle cx="484.2" cy="415.3" r="1.45"/>
<circle cx="480.9" cy="422.5" r="1.45"/>
<circle cx="474.6" cy="415.5" r="1.45"/>
<circle cx="480.9" cy="417.0" r="1.45"/>
<circle cx="478.5" cy="417.9" r="1.45"/>
<circle cx="486.9" cy="412.7" r="1.45"/>
<circle cx="481.7" cy="422.2" r="1.45"/>
<circle cx="492.0" cy="410.3" r="1.45"/>
<circle cx="482.0" cy="418.5" r="1.45"/>
<circle cx="482.2" cy="412.6" r="1.45"/>
<circle cx="487.1" cy="420.8" r="1.45"/>
<circle cx="477.7" cy="413.9" r="1.45"/>
<circle cx="475.4" cy="421.9" r="1.45"/>
<circle cx="482.9" cy="414.5" r="1.45"/>
<circle cx="486.4" cy="414.3" r="1.45"/>
<circle cx="483.6" cy="418.3" r="1.45"/>
<circle cx="480.8" cy="421.1" r="1.45"/>
<circle cx="481.4" cy="414.7" r="1.45"/>
<circle cx="489.4" cy="417.8" r="1.45"/>
<circle cx="476.6" cy="418.6" r="1.45"/>
<circle cx="482.9" cy="417.7" r="1.45"/>
<circle cx="486.3" cy="409.0" r="1.45"/>
<circle cx="487.8" cy="419.6" r="1.45"/>
<circle cx="493.7" cy="413.4" r="1.45"/>
<circle cx="476.8" cy="425.5" r="1.45"/>
<circle cx="487.5" cy="412.0" r="1.45"/>
<circle cx="484.8" cy="418.4" r="1.45"/>
<circle cx="482.9" cy="418.3" r="1.45"/>
<circle cx="489.5" cy="412.9" r="1.45"/>
<circle cx="481.5" cy="423.5" r="1.45"/>
<circle cx="475.5" cy="419.2" r="1.45"/>
<circle cx="480.0" cy="416.8" r="1.45"/>
<circle cx="486.8" cy="412.4" r="1.45"/>
<circle cx="492.5" cy="414.3" r="1.45"/>
<circle cx="476.7" cy="418.8" r="1.45"/>
<circle cx="476.3" cy="423.7" r="1.45"/>
<circle cx="476.5" cy="420.7" r="1.45"/>
<circle cx="481.5" cy="412.8" r="1.45"/>
<circle cx="491.7" cy="415.3" r="1.45"/>
<circle cx="489.2" cy="412.5" r="1.45"/>
<circle cx="482.1" cy="419.4" r="1.45"/>
<circle cx="486.7" cy="416.7" r="1.45"/>
<circle cx="493.1" cy="415.3" r="1.45"/>
<circle cx="477.2" cy="422.0" r="1.45"/>
<circle cx="490.1" cy="416.2" r="1.45"/>
<circle cx="499.7" cy="414.3" r="1.45"/>
<circle cx="494.8" cy="406.9" r="1.45"/>
<circle cx="472.2" cy="423.0" r="1.45"/>
<circle cx="491.3" cy="408.5" r="1.45"/>
<circle cx="474.6" cy="420.7" r="1.45"/>
<circle cx="482.1" cy="416.7" r="1.45"/>
<circle cx="471.5" cy="425.7" r="1.45"/>
<circle cx="480.4" cy="416.3" r="1.45"/>
<circle cx="482.8" cy="420.8" r="1.45"/>
<circle cx="490.6" cy="413.3" r="1.45"/>
<circle cx="487.9" cy="408.8" r="1.45"/>
<circle cx="480.8" cy="422.5" r="1.45"/>
<circle cx="479.4" cy="418.4" r="1.45"/>
<circle cx="474.5" cy="418.8" r="1.45"/>
<circle cx="479.3" cy="414.7" r="1.45"/>
<circle cx="485.0" cy="413.5" r="1.45"/>
<circle cx="489.4" cy="414.5" r="1.45"/>
<circle cx="482.1" cy="413.9" r="1.45"/>
<circle cx="488.2" cy="422.1" r="1.45"/>
<circle cx="482.4" cy="408.5" r="1.45"/>
<circle cx="480.2" cy="418.5" r="1.45"/>
<circle cx="487.8" cy="414.4" r="1.45"/>
<circle cx="480.8" cy="415.7" r="1.45"/>
<circle cx="475.8" cy="425.0" r="1.45"/>
<circle cx="501.7" cy="410.0" r="1.45"/>
<circle cx="482.5" cy="422.0" r="1.45"/>
<circle cx="488.8" cy="421.5" r="1.45"/>
<circle cx="481.0" cy="414.5" r="1.45"/>
<circle cx="492.9" cy="409.9" r="1.45"/>
<circle cx="499.7" cy="411.0" r="1.45"/>
<circle cx="476.1" cy="421.2" r="1.45"/>
<circle cx="485.9" cy="418.2" r="1.45"/>
<circle cx="488.6" cy="416.6" r="1.45"/>
<circle cx="487.3" cy="418.3" r="1.45"/>
<circle cx="473.1" cy="426.2" r="1.45"/>
<circle cx="493.5" cy="409.6" r="1.45"/>
<circle cx="484.7" cy="412.0" r="1.45"/>
<circle cx="480.7" cy="414.9" r="1.45"/>
<circle cx="490.6" cy="409.8" r="1.45"/>
<circle cx="485.5" cy="418.3" r="1.45"/>
<circle cx="473.8" cy="426.9" r="1.45"/>
<circle cx="479.8" cy="417.8" r="1.45"/>
<circle cx="490.3" cy="411.9" r="1.45"/>
</g>
<g fill="#6a665a" fill-opacity="0.22" stroke="#333638" stroke-opacity="0.5" stroke-width="0.5">
<circle cx="491.4" cy="415.7" r="1.45"/>
<circle cx="479.8" cy="417.3" r="1.45"/>
<circle cx="487.3" cy="414.9" r="1.45"/>
<circle cx="487.8" cy="418.1" r="1.45"/>
<circle cx="482.7" cy="418.5" r="1.45"/>
<circle cx="482.1" cy="417.3" r="1.45"/>
<circle cx="488.6" cy="413.9" r="1.45"/>
<circle cx="483.4" cy="418.8" r="1.45"/>
<circle cx="489.6" cy="412.0" r="1.45"/>
<circle cx="486.6" cy="416.9" r="1.45"/>
<circle cx="487.3" cy="414.7" r="1.45"/>
<circle cx="482.7" cy="417.4" r="1.45"/>
<circle cx="484.4" cy="416.7" r="1.45"/>
<circle cx="489.6" cy="414.9" r="1.45"/>
<circle cx="490.8" cy="411.4" r="1.45"/>
<circle cx="482.6" cy="416.4" r="1.45"/>
<circle cx="485.7" cy="416.1" r="1.45"/>
<circle cx="481.0" cy="418.8" r="1.45"/>
<circle cx="480.3" cy="417.9" r="1.45"/>
<circle cx="482.8" cy="415.9" r="1.45"/>
<circle cx="484.9" cy="417.4" r="1.45"/>
<circle cx="485.6" cy="417.7" r="1.45"/>
<circle cx="489.2" cy="416.7" r="1.45"/>
<circle cx="487.6" cy="412.9" r="1.45"/>
<circle cx="487.9" cy="412.8" r="1.45"/>
<circle cx="480.3" cy="420.6" r="1.45"/>
<circle cx="486.4" cy="415.6" r="1.45"/>
<circle cx="485.0" cy="417.0" r="1.45"/>
<circle cx="482.7" cy="417.6" r="1.45"/>
<circle cx="490.6" cy="410.2" r="1.45"/>
<circle cx="480.8" cy="419.4" r="1.45"/>
<circle cx="484.5" cy="417.5" r="1.45"/>
<circle cx="485.0" cy="414.0" r="1.45"/>
<circle cx="488.1" cy="415.9" r="1.45"/>
<circle cx="486.1" cy="415.9" r="1.45"/>
<circle cx="480.8" cy="419.7" r="1.45"/>
<circle cx="478.0" cy="420.0" r="1.45"/>
<circle cx="474.3" cy="421.4" r="1.45"/>
<circle cx="484.6" cy="416.4" r="1.45"/>
<circle cx="486.8" cy="413.9" r="1.45"/>
<circle cx="482.8" cy="417.9" r="1.45"/>
<circle cx="482.2" cy="418.4" r="1.45"/>
<circle cx="487.6" cy="413.4" r="1.45"/>
<circle cx="481.1" cy="419.4" r="1.45"/>
<circle cx="484.9" cy="415.3" r="1.45"/>
<circle cx="483.7" cy="420.2" r="1.45"/>
<circle cx="478.2" cy="422.8" r="1.45"/>
<circle cx="487.9" cy="412.9" r="1.45"/>
<circle cx="486.1" cy="416.9" r="1.45"/>
<circle cx="486.7" cy="415.3" r="1.45"/>
<circle cx="483.7" cy="417.0" r="1.45"/>
<circle cx="491.5" cy="413.7" r="1.45"/>
<circle cx="483.2" cy="414.0" r="1.45"/>
<circle cx="481.2" cy="418.1" r="1.45"/>
<circle cx="481.3" cy="417.6" r="1.45"/>
<circle cx="479.6" cy="418.4" r="1.45"/>
<circle cx="483.4" cy="416.9" r="1.45"/>
<circle cx="489.1" cy="409.9" r="1.45"/>
<circle cx="480.6" cy="418.9" r="1.45"/>
<circle cx="485.4" cy="415.2" r="1.45"/>
<circle cx="488.6" cy="415.8" r="1.45"/>
<circle cx="482.9" cy="417.4" r="1.45"/>
<circle cx="481.2" cy="417.8" r="1.45"/>
<circle cx="483.9" cy="416.5" r="1.45"/>
<circle cx="482.9" cy="417.4" r="1.45"/>
<circle cx="480.4" cy="417.2" r="1.45"/>
<circle cx="480.3" cy="418.5" r="1.45"/>
<circle cx="489.1" cy="413.2" r="1.45"/>
<circle cx="487.4" cy="414.7" r="1.45"/>
<circle cx="484.6" cy="416.0" r="1.45"/>
<circle cx="488.3" cy="413.9" r="1.45"/>
<circle cx="485.3" cy="414.3" r="1.45"/>
<circle cx="479.8" cy="420.1" r="1.45"/>
<circle cx="483.8" cy="416.0" r="1.45"/>
<circle cx="486.4" cy="414.3" r="1.45"/>
<circle cx="484.4" cy="414.3" r="1.45"/>
<circle cx="490.6" cy="411.9" r="1.45"/>
<circle cx="484.9" cy="415.1" r="1.45"/>
<circle cx="490.7" cy="412.8" r="1.45"/>
<circle cx="488.2" cy="414.4" r="1.45"/>
<circle cx="485.7" cy="414.1" r="1.45"/>
<circle cx="482.2" cy="420.3" r="1.45"/>
<circle cx="481.9" cy="416.0" r="1.45"/>
<circle cx="489.8" cy="412.3" r="1.45"/>
<circle cx="481.1" cy="416.4" r="1.45"/>
<circle cx="489.6" cy="412.4" r="1.45"/>
<circle cx="494.0" cy="412.8" r="1.45"/>
<circle cx="484.5" cy="415.8" r="1.45"/>
<circle cx="481.9" cy="418.1" r="1.45"/>
<circle cx="485.6" cy="415.6" r="1.45"/>
<circle cx="491.1" cy="418.4" r="1.45"/>
<circle cx="484.8" cy="416.6" r="1.45"/>
<circle cx="483.2" cy="419.0" r="1.45"/>
<circle cx="485.9" cy="415.2" r="1.45"/>
<circle cx="480.7" cy="417.1" r="1.45"/>
<circle cx="487.6" cy="416.1" r="1.45"/>
<circle cx="487.6" cy="414.4" r="1.45"/>
<circle cx="484.4" cy="416.4" r="1.45"/>
<circle cx="486.4" cy="416.1" r="1.45"/>
<circle cx="485.3" cy="414.4" r="1.45"/>
<circle cx="484.2" cy="418.2" r="1.45"/>
<circle cx="490.2" cy="414.9" r="1.45"/>
<circle cx="485.7" cy="414.0" r="1.45"/>
<circle cx="482.7" cy="417.9" r="1.45"/>
<circle cx="483.7" cy="419.6" r="1.45"/>
<circle cx="487.2" cy="416.0" r="1.45"/>
<circle cx="483.8" cy="413.3" r="1.45"/>
<circle cx="485.5" cy="414.1" r="1.45"/>
<circle cx="483.5" cy="416.5" r="1.45"/>
<circle cx="480.0" cy="418.5" r="1.45"/>
<circle cx="485.1" cy="418.3" r="1.45"/>
<circle cx="488.6" cy="414.8" r="1.45"/>
<circle cx="484.4" cy="417.2" r="1.45"/>
<circle cx="486.4" cy="412.9" r="1.45"/>
<circle cx="484.1" cy="416.9" r="1.45"/>
<circle cx="488.3" cy="414.1" r="1.45"/>
<circle cx="485.8" cy="416.2" r="1.45"/>
<circle cx="484.4" cy="420.1" r="1.45"/>
<circle cx="480.4" cy="418.3" r="1.45"/>
<circle cx="488.8" cy="413.4" r="1.45"/>
<circle cx="485.7" cy="417.0" r="1.45"/>
<circle cx="484.2" cy="417.1" r="1.45"/>
<circle cx="485.9" cy="416.0" r="1.45"/>
<circle cx="486.9" cy="414.0" r="1.45"/>
<circle cx="479.4" cy="418.1" r="1.45"/>
<circle cx="482.8" cy="415.3" r="1.45"/>
<circle cx="480.7" cy="414.9" r="1.45"/>
<circle cx="485.6" cy="418.4" r="1.45"/>
<circle cx="485.3" cy="415.4" r="1.45"/>
<circle cx="484.7" cy="419.4" r="1.45"/>
<circle cx="486.5" cy="414.6" r="1.45"/>
<circle cx="482.7" cy="419.2" r="1.45"/>
<circle cx="482.9" cy="420.2" r="1.45"/>
<circle cx="479.5" cy="416.9" r="1.45"/>
<circle cx="488.0" cy="416.1" r="1.45"/>
<circle cx="481.0" cy="417.2" r="1.45"/>
<circle cx="480.3" cy="422.6" r="1.45"/>
<circle cx="483.4" cy="415.2" r="1.45"/>
<circle cx="484.8" cy="417.7" r="1.45"/>
<circle cx="485.1" cy="413.8" r="1.45"/>
<circle cx="484.3" cy="417.3" r="1.45"/>
<circle cx="490.9" cy="415.4" r="1.45"/>
<circle cx="479.2" cy="417.4" r="1.45"/>
<circle cx="482.7" cy="414.9" r="1.45"/>
<circle cx="484.5" cy="416.7" r="1.45"/>
<circle cx="485.0" cy="418.1" r="1.45"/>
<circle cx="485.2" cy="417.0" r="1.45"/>
<circle cx="480.4" cy="418.5" r="1.45"/>
<circle cx="482.0" cy="416.2" r="1.45"/>
<circle cx="490.8" cy="412.1" r="1.45"/>
<circle cx="481.5" cy="419.9" r="1.45"/>
<circle cx="479.9" cy="417.1" r="1.45"/>
<circle cx="482.6" cy="421.6" r="1.45"/>
<circle cx="481.1" cy="416.5" r="1.45"/>
<circle cx="484.9" cy="418.1" r="1.45"/>
<circle cx="478.8" cy="419.8" r="1.45"/>
<circle cx="488.1" cy="416.2" r="1.45"/>
<circle cx="485.8" cy="416.5" r="1.45"/>
<circle cx="486.2" cy="416.3" r="1.45"/>
<circle cx="481.7" cy="420.6" r="1.45"/>
<circle cx="482.3" cy="417.6" r="1.45"/>
<circle cx="485.4" cy="417.6" r="1.45"/>
<circle cx="480.0" cy="417.8" r="1.45"/>
<circle cx="489.9" cy="415.5" r="1.45"/>
<circle cx="481.5" cy="419.2" r="1.45"/>
<circle cx="482.2" cy="417.4" r="1.45"/>
<circle cx="486.6" cy="415.7" r="1.45"/>
<circle cx="485.4" cy="415.4" r="1.45"/>
<circle cx="488.4" cy="412.0" r="1.45"/>
<circle cx="484.2" cy="416.3" r="1.45"/>
<circle cx="479.5" cy="423.6" r="1.45"/>
<circle cx="488.5" cy="414.1" r="1.45"/>
<circle cx="485.5" cy="418.2" r="1.45"/>
<circle cx="485.3" cy="416.8" r="1.45"/>
<circle cx="486.8" cy="415.9" r="1.45"/>
<circle cx="485.7" cy="414.8" r="1.45"/>
<circle cx="490.4" cy="412.2" r="1.45"/>
<circle cx="483.6" cy="416.7" r="1.45"/>
<circle cx="485.0" cy="414.8" r="1.45"/>
<circle cx="487.9" cy="416.0" r="1.45"/>
<circle cx="478.8" cy="419.8" r="1.45"/>
<circle cx="482.4" cy="418.0" r="1.45"/>
<circle cx="488.2" cy="416.7" r="1.45"/>
<circle cx="485.3" cy="415.6" r="1.45"/>
<circle cx="475.8" cy="419.5" r="1.45"/>
<circle cx="480.7" cy="418.6" r="1.45"/>
<circle cx="483.3" cy="416.9" r="1.45"/>
<circle cx="474.4" cy="419.8" r="1.45"/>
<circle cx="484.8" cy="415.7" r="1.45"/>
<circle cx="483.2" cy="420.5" r="1.45"/>
<circle cx="488.2" cy="414.0" r="1.45"/>
<circle cx="489.8" cy="413.9" r="1.45"/>
<circle cx="484.6" cy="418.5" r="1.45"/>
<circle cx="481.7" cy="415.3" r="1.45"/>
<circle cx="480.2" cy="417.8" r="1.45"/>
<circle cx="485.8" cy="418.5" r="1.45"/>
<circle cx="483.7" cy="416.6" r="1.45"/>
<circle cx="486.4" cy="417.9" r="1.45"/>
<circle cx="483.6" cy="413.6" r="1.45"/>
<circle cx="488.2" cy="414.1" r="1.45"/>
<circle cx="483.6" cy="417.1" r="1.45"/>
<circle cx="485.8" cy="418.3" r="1.45"/>
<circle cx="484.4" cy="420.9" r="1.45"/>
<circle cx="488.9" cy="414.6" r="1.45"/>
<circle cx="481.5" cy="416.1" r="1.45"/>
<circle cx="482.7" cy="417.0" r="1.45"/>
<circle cx="480.3" cy="418.0" r="1.45"/>
<circle cx="486.3" cy="417.4" r="1.45"/>
<circle cx="487.4" cy="414.1" r="1.45"/>
<circle cx="488.1" cy="414.7" r="1.45"/>
<circle cx="485.6" cy="415.4" r="1.45"/>
<circle cx="486.8" cy="415.6" r="1.45"/>
<circle cx="484.0" cy="421.0" r="1.45"/>
<circle cx="482.3" cy="416.5" r="1.45"/>
<circle cx="485.6" cy="414.5" r="1.45"/>
<circle cx="490.4" cy="415.8" r="1.45"/>
<circle cx="489.0" cy="414.7" r="1.45"/>
<circle cx="487.1" cy="416.7" r="1.45"/>
<circle cx="482.3" cy="418.6" r="1.45"/>
<circle cx="482.3" cy="415.2" r="1.45"/>
<circle cx="483.6" cy="415.3" r="1.45"/>
<circle cx="483.5" cy="415.5" r="1.45"/>
<circle cx="485.1" cy="414.0" r="1.45"/>
<circle cx="484.6" cy="417.9" r="1.45"/>
<circle cx="479.8" cy="418.5" r="1.45"/>
<circle cx="485.0" cy="418.7" r="1.45"/>
<circle cx="482.0" cy="414.4" r="1.45"/>
<circle cx="489.3" cy="412.9" r="1.45"/>
<circle cx="487.7" cy="418.4" r="1.45"/>
<circle cx="481.9" cy="418.8" r="1.45"/>
<circle cx="484.8" cy="417.6" r="1.45"/>
<circle cx="480.0" cy="420.1" r="1.45"/>
<circle cx="486.1" cy="414.0" r="1.45"/>
<circle cx="481.8" cy="419.4" r="1.45"/>
<circle cx="493.6" cy="412.0" r="1.45"/>
<circle cx="484.2" cy="413.4" r="1.45"/>
<circle cx="481.4" cy="417.5" r="1.45"/>
<circle cx="490.2" cy="412.8" r="1.45"/>
<circle cx="492.6" cy="412.4" r="1.45"/>
<circle cx="487.9" cy="417.5" r="1.45"/>
<circle cx="484.2" cy="416.8" r="1.45"/>
<circle cx="481.0" cy="421.2" r="1.45"/>
<circle cx="478.9" cy="417.5" r="1.45"/>
<circle cx="482.5" cy="420.4" r="1.45"/>
<circle cx="487.2" cy="414.7" r="1.45"/>
<circle cx="492.1" cy="412.0" r="1.45"/>
<circle cx="483.0" cy="413.9" r="1.45"/>
<circle cx="491.5" cy="414.4" r="1.45"/>
<circle cx="485.3" cy="418.1" r="1.45"/>
<circle cx="493.1" cy="414.4" r="1.45"/>
<circle cx="484.4" cy="417.1" r="1.45"/>
<circle cx="487.3" cy="415.4" r="1.45"/>
<circle cx="485.2" cy="413.1" r="1.45"/>
<circle cx="477.0" cy="418.7" r="1.45"/>
<circle cx="487.8" cy="410.9" r="1.45"/>
<circle cx="483.2" cy="419.1" r="1.45"/>
<circle cx="484.4" cy="415.7" r="1.45"/>
<circle cx="486.7" cy="418.3" r="1.45"/>
<circle cx="478.5" cy="419.1" r="1.45"/>
<circle cx="483.6" cy="417.3" r="1.45"/>
<circle cx="487.9" cy="413.6" r="1.45"/>
<circle cx="483.8" cy="416.8" r="1.45"/>
<circle cx="484.7" cy="418.0" r="1.45"/>
<circle cx="487.5" cy="414.0" r="1.45"/>
<circle cx="481.7" cy="418.4" r="1.45"/>
<circle cx="484.4" cy="418.7" r="1.45"/>
<circle cx="488.9" cy="415.1" r="1.45"/>
<circle cx="488.3" cy="413.1" r="1.45"/>
<circle cx="487.3" cy="416.0" r="1.45"/>
<circle cx="487.6" cy="411.4" r="1.45"/>
<circle cx="485.2" cy="415.8" r="1.45"/>
<circle cx="481.2" cy="415.1" r="1.45"/>
<circle cx="480.4" cy="414.9" r="1.45"/>
<circle cx="488.2" cy="412.9" r="1.45"/>
<circle cx="489.1" cy="413.6" r="1.45"/>
<circle cx="471.9" cy="421.2" r="1.45"/>
<circle cx="479.8" cy="419.9" r="1.45"/>
<circle cx="484.5" cy="415.1" r="1.45"/>
<circle cx="484.6" cy="416.8" r="1.45"/>
<circle cx="480.3" cy="419.9" r="1.45"/>
<circle cx="483.6" cy="420.7" r="1.45"/>
<circle cx="484.6" cy="416.1" r="1.45"/>
<circle cx="480.9" cy="417.3" r="1.45"/>
<circle cx="484.6" cy="419.1" r="1.45"/>
<circle cx="483.3" cy="417.3" r="1.45"/>
<circle cx="481.9" cy="416.1" r="1.45"/>
<circle cx="483.0" cy="418.9" r="1.45"/>
<circle cx="484.7" cy="415.0" r="1.45"/>
<circle cx="489.5" cy="413.2" r="1.45"/>
<circle cx="485.8" cy="417.6" r="1.45"/>
<circle cx="483.5" cy="417.2" r="1.45"/>
<circle cx="481.3" cy="417.4" r="1.45"/>
<circle cx="478.8" cy="420.4" r="1.45"/>
<circle cx="486.3" cy="414.8" r="1.45"/>
<circle cx="483.9" cy="415.2" r="1.45"/>
<circle cx="489.7" cy="411.7" r="1.45"/>
<circle cx="482.0" cy="413.1" r="1.45"/>
<circle cx="486.7" cy="416.6" r="1.45"/>
<circle cx="484.2" cy="416.4" r="1.45"/>
<circle cx="482.3" cy="418.5" r="1.45"/>
<circle cx="481.6" cy="416.1" r="1.45"/>
<circle cx="483.3" cy="418.6" r="1.45"/>
<circle cx="477.1" cy="419.2" r="1.45"/>
<circle cx="482.7" cy="416.5" r="1.45"/>
<circle cx="478.4" cy="418.7" r="1.45"/>
<circle cx="482.7" cy="418.5" r="1.45"/>
<circle cx="483.0" cy="417.3" r="1.45"/>
<circle cx="485.3" cy="414.0" r="1.45"/>
<circle cx="476.5" cy="422.5" r="1.45"/>
<circle cx="485.4" cy="416.8" r="1.45"/>
<circle cx="482.0" cy="418.2" r="1.45"/>
<circle cx="481.0" cy="415.8" r="1.45"/>
<circle cx="482.1" cy="417.8" r="1.45"/>
<circle cx="482.1" cy="419.7" r="1.45"/>
<circle cx="489.8" cy="412.9" r="1.45"/>
<circle cx="486.6" cy="414.7" r="1.45"/>
<circle cx="485.8" cy="417.5" r="1.45"/>
<circle cx="486.3" cy="416.6" r="1.45"/>
<circle cx="482.7" cy="417.1" r="1.45"/>
<circle cx="485.7" cy="415.1" r="1.45"/>
<circle cx="485.5" cy="415.7" r="1.45"/>
<circle cx="485.9" cy="417.6" r="1.45"/>
<circle cx="491.5" cy="415.2" r="1.45"/>
<circle cx="482.0" cy="418.3" r="1.45"/>
<circle cx="485.5" cy="415.7" r="1.45"/>
<circle cx="485.7" cy="417.1" r="1.45"/>
<circle cx="484.4" cy="417.9" r="1.45"/>
<circle cx="482.3" cy="418.0" r="1.45"/>
<circle cx="484.0" cy="414.3" r="1.45"/>
<circle cx="484.4" cy="416.5" r="1.45"/>
<circle cx="478.4" cy="422.1" r="1.45"/>
<circle cx="480.0" cy="413.4" r="1.45"/>
<circle cx="490.8" cy="415.5" r="1.45"/>
<circle cx="491.7" cy="412.3" r="1.45"/>
<circle cx="480.8" cy="421.7" r="1.45"/>
<circle cx="487.1" cy="414.2" r="1.45"/>
<circle cx="478.2" cy="418.1" r="1.45"/>
<circle cx="487.9" cy="415.2" r="1.45"/>
<circle cx="488.0" cy="411.6" r="1.45"/>
<circle cx="486.1" cy="415.0" r="1.45"/>
<circle cx="478.9" cy="417.1" r="1.45"/>
<circle cx="483.9" cy="415.6" r="1.45"/>
<circle cx="481.0" cy="418.9" r="1.45"/>
<circle cx="485.8" cy="416.5" r="1.45"/>
<circle cx="490.9" cy="414.9" r="1.45"/>
<circle cx="480.9" cy="418.3" r="1.45"/>
<circle cx="484.0" cy="417.8" r="1.45"/>
<circle cx="488.7" cy="415.5" r="1.45"/>
<circle cx="485.4" cy="418.8" r="1.45"/>
<circle cx="485.1" cy="413.4" r="1.45"/>
<circle cx="482.5" cy="420.2" r="1.45"/>
<circle cx="480.1" cy="419.2" r="1.45"/>
<circle cx="484.6" cy="416.5" r="1.45"/>
<circle cx="481.4" cy="421.6" r="1.45"/>
<circle cx="491.2" cy="411.4" r="1.45"/>
<circle cx="484.5" cy="414.7" r="1.45"/>
<circle cx="486.9" cy="416.3" r="1.45"/>
<circle cx="488.3" cy="414.4" r="1.45"/>
<circle cx="479.4" cy="418.8" r="1.45"/>
<circle cx="484.2" cy="416.9" r="1.45"/>
<circle cx="485.4" cy="416.1" r="1.45"/>
<circle cx="481.3" cy="416.9" r="1.45"/>
<circle cx="487.4" cy="414.2" r="1.45"/>
<circle cx="483.5" cy="416.3" r="1.45"/>
<circle cx="481.3" cy="416.1" r="1.45"/>
<circle cx="482.1" cy="420.0" r="1.45"/>
<circle cx="487.2" cy="416.0" r="1.45"/>
<circle cx="486.3" cy="414.3" r="1.45"/>
<circle cx="480.3" cy="419.4" r="1.45"/>
<circle cx="488.3" cy="415.6" r="1.45"/>
<circle cx="477.7" cy="418.7" r="1.45"/>
<circle cx="482.1" cy="418.2" r="1.45"/>
<circle cx="489.3" cy="413.6" r="1.45"/>
<circle cx="481.4" cy="416.4" r="1.45"/>
<circle cx="478.7" cy="420.5" r="1.45"/>
<circle cx="487.1" cy="415.8" r="1.45"/>
<circle cx="488.5" cy="414.1" r="1.45"/>
<circle cx="480.2" cy="417.6" r="1.45"/>
<circle cx="488.4" cy="415.8" r="1.45"/>
<circle cx="483.6" cy="416.9" r="1.45"/>
<circle cx="485.0" cy="414.7" r="1.45"/>
<circle cx="488.3" cy="417.1" r="1.45"/>
<circle cx="481.1" cy="420.9" r="1.45"/>
<circle cx="480.5" cy="419.1" r="1.45"/>
<circle cx="483.4" cy="416.2" r="1.45"/>
<circle cx="488.0" cy="415.5" r="1.45"/>
<circle cx="486.6" cy="413.9" r="1.45"/>
<circle cx="488.2" cy="416.6" r="1.45"/>
<circle cx="490.6" cy="413.9" r="1.45"/>
<circle cx="474.9" cy="420.1" r="1.45"/>
<circle cx="478.4" cy="418.6" r="1.45"/>
<circle cx="482.1" cy="421.6" r="1.45"/>
<circle cx="482.5" cy="418.3" r="1.45"/>
<circle cx="483.9" cy="418.1" r="1.45"/>
<circle cx="487.6" cy="416.8" r="1.45"/>
<circle cx="491.8" cy="410.4" r="1.45"/>
<circle cx="482.7" cy="415.7" r="1.45"/>
<circle cx="485.3" cy="413.9" r="1.45"/>
<circle cx="483.3" cy="414.5" r="1.45"/>
<circle cx="484.5" cy="417.0" r="1.45"/>
<circle cx="483.5" cy="419.0" r="1.45"/>
<circle cx="482.2" cy="415.5" r="1.45"/>
<circle cx="483.4" cy="417.3" r="1.45"/>
<circle cx="484.3" cy="417.4" r="1.45"/>
<circle cx="482.3" cy="419.9" r="1.45"/>
<circle cx="481.0" cy="418.4" r="1.45"/>
<circle cx="486.0" cy="415.3" r="1.45"/>
<circle cx="484.6" cy="416.1" r="1.45"/>
<circle cx="486.8" cy="415.6" r="1.45"/>
<circle cx="487.2" cy="417.5" r="1.45"/>
<circle cx="483.5" cy="415.1" r="1.45"/>
<circle cx="490.1" cy="413.1" r="1.45"/>
<circle cx="483.2" cy="418.0" r="1.45"/>
<circle cx="478.0" cy="415.1" r="1.45"/>
<circle cx="484.1" cy="417.6" r="1.45"/>
<circle cx="483.5" cy="419.4" r="1.45"/>
<circle cx="485.9" cy="416.4" r="1.45"/>
<circle cx="478.8" cy="421.2" r="1.45"/>
<circle cx="486.2" cy="415.9" r="1.45"/>
<circle cx="483.5" cy="418.6" r="1.45"/>
</g>
<line x1="408.6" y1="452.2" x2="526.3" y2="396.9" stroke="#4787DE" stroke-width="1.0" stroke-dasharray="2.5 2.5"/>
<rect x="408.6" y="376.5" width="117.7" height="116.5" fill="none" stroke="#777" stroke-width="0.8"/>
<line x1="405.0" x2="408.6" y1="493.0" y2="493.0" stroke="#777" stroke-width="0.7"/>
<text x="402.10" y="495.60" font-size="7.7" text-anchor="end" fill="#222" >0</text>
<line x1="408.6" x2="408.6" y1="493" y2="496.6" stroke="#777" stroke-width="0.7"/>
<text x="408.80" y="507.30" font-size="7.7" text-anchor="middle" fill="#222" >0</text>
<line x1="405.0" x2="408.6" y1="454.2" y2="454.2" stroke="#777" stroke-width="0.7"/>
<text x="402.10" y="456.77" font-size="7.7" text-anchor="end" fill="#222" textLength="10.6" lengthAdjust="spacingAndGlyphs" >0.5</text>
<line x1="447.8" x2="447.8" y1="493" y2="496.6" stroke="#777" stroke-width="0.7"/>
<text x="448.03" y="507.30" font-size="7.7" text-anchor="middle" fill="#222" textLength="10.6" lengthAdjust="spacingAndGlyphs" >0.5</text>
<line x1="405.0" x2="408.6" y1="415.3" y2="415.3" stroke="#777" stroke-width="0.7"/>
<text x="402.10" y="417.93" font-size="7.7" text-anchor="end" fill="#222" textLength="10.2" lengthAdjust="spacingAndGlyphs" >1.0</text>
<line x1="487.1" x2="487.1" y1="493" y2="496.6" stroke="#777" stroke-width="0.7"/>
<text x="487.27" y="507.30" font-size="7.7" text-anchor="middle" fill="#222" textLength="10.2" lengthAdjust="spacingAndGlyphs" >1.0</text>
<line x1="405.0" x2="408.6" y1="376.5" y2="376.5" stroke="#777" stroke-width="0.7"/>
<text x="402.10" y="379.10" font-size="7.7" text-anchor="end" fill="#222" textLength="9.6" lengthAdjust="spacingAndGlyphs" >1.5</text>
<line x1="526.3" x2="526.3" y1="493" y2="496.6" stroke="#777" stroke-width="0.7"/>
<text x="526.50" y="507.30" font-size="7.7" text-anchor="middle" fill="#222" textLength="9.6" lengthAdjust="spacingAndGlyphs" >1.5</text>
<text x="412.0" y="385.5" font-size="7.4" fill="#222" textLength="70.4" lengthAdjust="spacingAndGlyphs"><tspan font-style="italic">Y</tspan> = 0.4752×<tspan font-style="italic">X</tspan> + 0.525</text>
<text x="412.0" y="394.2" font-size="7.4" fill="#222" textLength="35.1" lengthAdjust="spacingAndGlyphs"><tspan font-style="italic">R</tspan> = 0.7100</text>
<text x="385.80" y="431.90" font-size="8.4" text-anchor="middle" fill="#222" transform="rotate(-90 385.80 431.90)" textLength="83.4" lengthAdjust="spacingAndGlyphs" >Fold change (AD/MCI)</text>
<text x="467.55" y="521.60" font-size="8.4" text-anchor="middle" fill="#222" textLength="102.9" lengthAdjust="spacingAndGlyphs" >Fold change (AD/healthy)</text>
<line x1="563.4" y1="493" x2="680.9" y2="376.5" stroke="#CBCBCB" stroke-width="1.0"/>
<g fill="#F6C443" fill-opacity="0.62" stroke="#7A6320" stroke-opacity="0.55" stroke-width="0.5">
<circle cx="633.0" cy="461.9" r="1.45"/>
<circle cx="620.6" cy="426.2" r="1.45"/>
<circle cx="622.9" cy="424.7" r="1.45"/>
<circle cx="626.1" cy="415.3" r="1.45"/>
<circle cx="623.7" cy="406.8" r="1.45"/>
<circle cx="628.4" cy="407.6" r="1.45"/>
<circle cx="632.3" cy="428.5" r="1.45"/>
<circle cx="636.2" cy="430.1" r="1.45"/>
<circle cx="641.7" cy="429.3" r="1.45"/>
<circle cx="646.4" cy="403.7" r="1.45"/>
<circle cx="657.4" cy="403.7" r="1.45"/>
<circle cx="659.0" cy="414.6" r="1.45"/>
<circle cx="660.5" cy="408.3" r="1.45"/>
<circle cx="662.1" cy="407.6" r="1.45"/>
<circle cx="649.6" cy="407.6" r="1.45"/>
<circle cx="633.9" cy="405.2" r="1.45"/>
<circle cx="640.9" cy="406.0" r="1.45"/>
<circle cx="654.3" cy="409.8" r="1.45"/>
<circle cx="646.2" cy="400.5" r="1.45"/>
<circle cx="644.2" cy="416.3" r="1.45"/>
<circle cx="634.7" cy="418.3" r="1.45"/>
<circle cx="632.0" cy="414.2" r="1.45"/>
<circle cx="642.1" cy="418.9" r="1.45"/>
<circle cx="632.1" cy="420.5" r="1.45"/>
<circle cx="637.8" cy="418.2" r="1.45"/>
<circle cx="635.2" cy="414.2" r="1.45"/>
<circle cx="649.2" cy="417.7" r="1.45"/>
<circle cx="638.1" cy="420.2" r="1.45"/>
<circle cx="643.8" cy="416.5" r="1.45"/>
<circle cx="638.5" cy="414.4" r="1.45"/>
<circle cx="631.9" cy="423.0" r="1.45"/>
<circle cx="637.1" cy="425.5" r="1.45"/>
<circle cx="637.8" cy="423.4" r="1.45"/>
<circle cx="640.0" cy="404.6" r="1.45"/>
<circle cx="649.1" cy="414.2" r="1.45"/>
<circle cx="651.5" cy="413.2" r="1.45"/>
<circle cx="646.8" cy="419.9" r="1.45"/>
<circle cx="643.3" cy="422.0" r="1.45"/>
<circle cx="647.4" cy="407.8" r="1.45"/>
<circle cx="635.4" cy="412.3" r="1.45"/>
<circle cx="645.3" cy="418.0" r="1.45"/>
<circle cx="639.3" cy="410.7" r="1.45"/>
<circle cx="647.6" cy="420.5" r="1.45"/>
<circle cx="652.1" cy="413.3" r="1.45"/>
<circle cx="642.3" cy="420.7" r="1.45"/>
<circle cx="645.4" cy="404.9" r="1.45"/>
<circle cx="653.1" cy="409.9" r="1.45"/>
<circle cx="637.6" cy="419.6" r="1.45"/>
<circle cx="644.6" cy="408.6" r="1.45"/>
<circle cx="645.4" cy="412.6" r="1.45"/>
<circle cx="642.5" cy="414.1" r="1.45"/>
<circle cx="640.1" cy="409.5" r="1.45"/>
<circle cx="650.8" cy="411.7" r="1.45"/>
<circle cx="637.3" cy="419.7" r="1.45"/>
<circle cx="639.7" cy="418.0" r="1.45"/>
<circle cx="640.0" cy="410.8" r="1.45"/>
<circle cx="645.2" cy="420.4" r="1.45"/>
<circle cx="653.6" cy="409.6" r="1.45"/>
<circle cx="642.2" cy="413.3" r="1.45"/>
<circle cx="638.3" cy="417.6" r="1.45"/>
<circle cx="637.0" cy="415.5" r="1.45"/>
<circle cx="635.3" cy="416.3" r="1.45"/>
<circle cx="635.8" cy="415.5" r="1.45"/>
<circle cx="632.2" cy="417.7" r="1.45"/>
<circle cx="634.3" cy="415.2" r="1.45"/>
<circle cx="638.6" cy="412.2" r="1.45"/>
<circle cx="645.5" cy="412.3" r="1.45"/>
<circle cx="636.9" cy="417.3" r="1.45"/>
<circle cx="637.3" cy="411.7" r="1.45"/>
<circle cx="632.5" cy="417.9" r="1.45"/>
<circle cx="639.8" cy="407.8" r="1.45"/>
<circle cx="647.5" cy="405.8" r="1.45"/>
<circle cx="637.8" cy="413.8" r="1.45"/>
<circle cx="633.3" cy="408.5" r="1.45"/>
<circle cx="635.6" cy="428.0" r="1.45"/>
<circle cx="646.3" cy="414.8" r="1.45"/>
<circle cx="640.7" cy="417.4" r="1.45"/>
<circle cx="641.8" cy="419.1" r="1.45"/>
<circle cx="636.0" cy="411.4" r="1.45"/>
<circle cx="633.2" cy="418.6" r="1.45"/>
<circle cx="637.8" cy="412.7" r="1.45"/>
<circle cx="641.3" cy="416.5" r="1.45"/>
<circle cx="648.0" cy="413.2" r="1.45"/>
<circle cx="643.8" cy="413.5" r="1.45"/>
<circle cx="640.0" cy="415.3" r="1.45"/>
<circle cx="628.8" cy="411.5" r="1.45"/>
<circle cx="641.2" cy="417.0" r="1.45"/>
<circle cx="652.0" cy="413.6" r="1.45"/>
<circle cx="642.3" cy="417.9" r="1.45"/>
<circle cx="638.8" cy="414.1" r="1.45"/>
<circle cx="639.5" cy="423.9" r="1.45"/>
<circle cx="637.9" cy="405.3" r="1.45"/>
<circle cx="638.9" cy="423.9" r="1.45"/>
<circle cx="630.6" cy="414.7" r="1.45"/>
<circle cx="631.1" cy="421.3" r="1.45"/>
<circle cx="642.0" cy="416.7" r="1.45"/>
<circle cx="644.0" cy="414.2" r="1.45"/>
<circle cx="644.5" cy="417.0" r="1.45"/>
<circle cx="635.2" cy="413.6" r="1.45"/>
<circle cx="634.4" cy="419.4" r="1.45"/>
<circle cx="642.7" cy="420.3" r="1.45"/>
<circle cx="640.5" cy="418.7" r="1.45"/>
<circle cx="640.2" cy="421.5" r="1.45"/>
<circle cx="637.2" cy="417.2" r="1.45"/>
<circle cx="642.2" cy="417.6" r="1.45"/>
<circle cx="640.7" cy="421.7" r="1.45"/>
<circle cx="653.9" cy="411.6" r="1.45"/>
<circle cx="640.1" cy="418.4" r="1.45"/>
<circle cx="645.8" cy="404.9" r="1.45"/>
<circle cx="633.3" cy="416.5" r="1.45"/>
<circle cx="639.7" cy="416.2" r="1.45"/>
<circle cx="644.0" cy="413.5" r="1.45"/>
<circle cx="644.1" cy="411.8" r="1.45"/>
<circle cx="632.9" cy="413.3" r="1.45"/>
<circle cx="648.2" cy="412.7" r="1.45"/>
<circle cx="640.2" cy="409.7" r="1.45"/>
<circle cx="639.0" cy="415.1" r="1.45"/>
<circle cx="639.8" cy="418.1" r="1.45"/>
<circle cx="642.1" cy="419.5" r="1.45"/>
<circle cx="645.7" cy="410.6" r="1.45"/>
<circle cx="632.5" cy="430.8" r="1.45"/>
<circle cx="640.7" cy="414.1" r="1.45"/>
<circle cx="644.0" cy="416.9" r="1.45"/>
<circle cx="635.1" cy="421.9" r="1.45"/>
<circle cx="647.5" cy="414.9" r="1.45"/>
<circle cx="641.5" cy="418.7" r="1.45"/>
<circle cx="641.9" cy="420.9" r="1.45"/>
<circle cx="640.8" cy="422.7" r="1.45"/>
<circle cx="643.8" cy="411.6" r="1.45"/>
<circle cx="637.5" cy="419.0" r="1.45"/>
<circle cx="638.1" cy="413.4" r="1.45"/>
<circle cx="629.3" cy="417.0" r="1.45"/>
<circle cx="647.5" cy="416.6" r="1.45"/>
<circle cx="634.3" cy="427.7" r="1.45"/>
<circle cx="644.8" cy="419.6" r="1.45"/>
<circle cx="645.1" cy="413.9" r="1.45"/>
<circle cx="639.2" cy="410.2" r="1.45"/>
<circle cx="637.9" cy="415.5" r="1.45"/>
<circle cx="636.9" cy="421.2" r="1.45"/>
<circle cx="629.0" cy="418.0" r="1.45"/>
<circle cx="641.3" cy="418.2" r="1.45"/>
<circle cx="631.8" cy="419.0" r="1.45"/>
<circle cx="641.5" cy="411.9" r="1.45"/>
<circle cx="643.7" cy="426.4" r="1.45"/>
<circle cx="638.6" cy="421.4" r="1.45"/>
<circle cx="634.7" cy="426.6" r="1.45"/>
<circle cx="641.9" cy="414.8" r="1.45"/>
<circle cx="629.9" cy="426.0" r="1.45"/>
<circle cx="643.6" cy="416.8" r="1.45"/>
<circle cx="634.7" cy="411.5" r="1.45"/>
<circle cx="637.4" cy="415.5" r="1.45"/>
<circle cx="632.9" cy="417.6" r="1.45"/>
<circle cx="638.2" cy="409.5" r="1.45"/>
<circle cx="634.7" cy="420.2" r="1.45"/>
<circle cx="638.0" cy="404.7" r="1.45"/>
<circle cx="644.6" cy="413.5" r="1.45"/>
<circle cx="635.7" cy="414.0" r="1.45"/>
<circle cx="639.5" cy="406.4" r="1.45"/>
<circle cx="638.6" cy="408.4" r="1.45"/>
<circle cx="631.9" cy="421.4" r="1.45"/>
<circle cx="643.7" cy="419.3" r="1.45"/>
<circle cx="645.7" cy="413.6" r="1.45"/>
<circle cx="641.0" cy="416.0" r="1.45"/>
<circle cx="642.6" cy="414.5" r="1.45"/>
<circle cx="646.9" cy="419.6" r="1.45"/>
<circle cx="640.2" cy="414.4" r="1.45"/>
<circle cx="645.9" cy="413.7" r="1.45"/>
<circle cx="628.9" cy="416.3" r="1.45"/>
<circle cx="634.8" cy="413.9" r="1.45"/>
<circle cx="637.1" cy="419.0" r="1.45"/>
<circle cx="640.3" cy="413.0" r="1.45"/>
<circle cx="635.5" cy="412.4" r="1.45"/>
<circle cx="630.5" cy="414.5" r="1.45"/>
<circle cx="637.2" cy="419.2" r="1.45"/>
<circle cx="634.2" cy="409.4" r="1.45"/>
<circle cx="645.6" cy="414.2" r="1.45"/>
<circle cx="636.9" cy="416.6" r="1.45"/>
<circle cx="641.8" cy="427.1" r="1.45"/>
<circle cx="638.5" cy="412.5" r="1.45"/>
<circle cx="639.8" cy="409.1" r="1.45"/>
<circle cx="646.3" cy="414.4" r="1.45"/>
<circle cx="647.4" cy="410.4" r="1.45"/>
<circle cx="634.3" cy="421.1" r="1.45"/>
<circle cx="639.0" cy="419.1" r="1.45"/>
<circle cx="650.1" cy="417.8" r="1.45"/>
<circle cx="639.5" cy="410.4" r="1.45"/>
<circle cx="628.4" cy="421.8" r="1.45"/>
</g>
<g fill="#6a665a" fill-opacity="0.22" stroke="#333638" stroke-opacity="0.5" stroke-width="0.5">
<circle cx="638.1" cy="419.0" r="1.45"/>
<circle cx="641.0" cy="414.0" r="1.45"/>
<circle cx="640.0" cy="416.3" r="1.45"/>
<circle cx="638.7" cy="414.8" r="1.45"/>
<circle cx="638.1" cy="420.0" r="1.45"/>
<circle cx="642.0" cy="414.6" r="1.45"/>
<circle cx="640.6" cy="416.9" r="1.45"/>
<circle cx="639.4" cy="415.6" r="1.45"/>
<circle cx="639.3" cy="409.7" r="1.45"/>
<circle cx="635.0" cy="415.9" r="1.45"/>
<circle cx="643.4" cy="413.8" r="1.45"/>
<circle cx="638.3" cy="417.2" r="1.45"/>
<circle cx="640.3" cy="417.7" r="1.45"/>
<circle cx="637.7" cy="419.8" r="1.45"/>
<circle cx="643.1" cy="413.7" r="1.45"/>
<circle cx="639.0" cy="411.0" r="1.45"/>
<circle cx="642.1" cy="416.7" r="1.45"/>
<circle cx="642.4" cy="416.9" r="1.45"/>
<circle cx="637.0" cy="416.2" r="1.45"/>
<circle cx="639.0" cy="419.9" r="1.45"/>
<circle cx="642.3" cy="416.2" r="1.45"/>
<circle cx="640.9" cy="417.0" r="1.45"/>
<circle cx="639.0" cy="416.4" r="1.45"/>
<circle cx="642.6" cy="410.0" r="1.45"/>
<circle cx="641.8" cy="410.6" r="1.45"/>
<circle cx="638.8" cy="419.0" r="1.45"/>
<circle cx="636.9" cy="417.4" r="1.45"/>
<circle cx="639.4" cy="414.3" r="1.45"/>
<circle cx="638.8" cy="420.1" r="1.45"/>
<circle cx="641.7" cy="414.1" r="1.45"/>
<circle cx="635.2" cy="418.5" r="1.45"/>
<circle cx="643.9" cy="412.2" r="1.45"/>
<circle cx="639.7" cy="419.6" r="1.45"/>
<circle cx="641.8" cy="414.8" r="1.45"/>
<circle cx="640.8" cy="419.7" r="1.45"/>
<circle cx="642.1" cy="413.0" r="1.45"/>
<circle cx="637.3" cy="413.6" r="1.45"/>
<circle cx="642.1" cy="414.8" r="1.45"/>
<circle cx="641.7" cy="412.3" r="1.45"/>
<circle cx="643.2" cy="421.3" r="1.45"/>
<circle cx="637.2" cy="416.0" r="1.45"/>
<circle cx="645.8" cy="417.4" r="1.45"/>
<circle cx="638.9" cy="417.8" r="1.45"/>
<circle cx="636.6" cy="418.0" r="1.45"/>
<circle cx="640.7" cy="417.6" r="1.45"/>
<circle cx="639.6" cy="420.3" r="1.45"/>
<circle cx="639.9" cy="414.5" r="1.45"/>
<circle cx="642.6" cy="415.8" r="1.45"/>
<circle cx="638.3" cy="416.6" r="1.45"/>
<circle cx="643.3" cy="415.4" r="1.45"/>
<circle cx="639.3" cy="418.4" r="1.45"/>
<circle cx="636.9" cy="414.0" r="1.45"/>
<circle cx="637.9" cy="415.7" r="1.45"/>
<circle cx="639.2" cy="413.4" r="1.45"/>
<circle cx="642.1" cy="415.8" r="1.45"/>
<circle cx="638.3" cy="416.4" r="1.45"/>
<circle cx="641.5" cy="414.0" r="1.45"/>
<circle cx="636.8" cy="417.6" r="1.45"/>
<circle cx="637.0" cy="419.4" r="1.45"/>
<circle cx="641.0" cy="414.8" r="1.45"/>
<circle cx="640.4" cy="415.0" r="1.45"/>
<circle cx="640.6" cy="414.8" r="1.45"/>
<circle cx="641.3" cy="418.7" r="1.45"/>
<circle cx="641.3" cy="420.2" r="1.45"/>
<circle cx="633.7" cy="418.8" r="1.45"/>
<circle cx="637.9" cy="417.1" r="1.45"/>
<circle cx="641.0" cy="418.1" r="1.45"/>
<circle cx="636.8" cy="415.5" r="1.45"/>
<circle cx="638.7" cy="417.3" r="1.45"/>
<circle cx="641.3" cy="409.7" r="1.45"/>
<circle cx="637.0" cy="422.0" r="1.45"/>
<circle cx="641.2" cy="415.8" r="1.45"/>
<circle cx="638.5" cy="420.8" r="1.45"/>
<circle cx="640.9" cy="417.7" r="1.45"/>
<circle cx="641.4" cy="416.8" r="1.45"/>
<circle cx="639.6" cy="413.5" r="1.45"/>
<circle cx="637.7" cy="415.5" r="1.45"/>
<circle cx="640.8" cy="413.7" r="1.45"/>
<circle cx="635.7" cy="424.1" r="1.45"/>
<circle cx="639.9" cy="413.1" r="1.45"/>
<circle cx="644.0" cy="413.2" r="1.45"/>
<circle cx="640.7" cy="418.6" r="1.45"/>
<circle cx="641.9" cy="417.1" r="1.45"/>
<circle cx="637.5" cy="414.3" r="1.45"/>
<circle cx="642.6" cy="417.1" r="1.45"/>
<circle cx="645.7" cy="410.6" r="1.45"/>
<circle cx="640.1" cy="413.8" r="1.45"/>
<circle cx="638.7" cy="418.5" r="1.45"/>
<circle cx="639.4" cy="418.5" r="1.45"/>
<circle cx="640.1" cy="413.6" r="1.45"/>
<circle cx="640.8" cy="415.5" r="1.45"/>
<circle cx="639.7" cy="418.2" r="1.45"/>
<circle cx="639.3" cy="418.9" r="1.45"/>
<circle cx="640.3" cy="414.4" r="1.45"/>
<circle cx="634.2" cy="415.0" r="1.45"/>
<circle cx="639.7" cy="418.0" r="1.45"/>
<circle cx="637.3" cy="419.5" r="1.45"/>
<circle cx="642.1" cy="412.2" r="1.45"/>
<circle cx="633.7" cy="414.7" r="1.45"/>
<circle cx="639.8" cy="418.1" r="1.45"/>
<circle cx="643.8" cy="412.7" r="1.45"/>
<circle cx="637.8" cy="418.0" r="1.45"/>
<circle cx="647.7" cy="408.9" r="1.45"/>
<circle cx="641.8" cy="416.1" r="1.45"/>
<circle cx="638.3" cy="418.3" r="1.45"/>
<circle cx="641.7" cy="419.2" r="1.45"/>
<circle cx="642.8" cy="419.4" r="1.45"/>
<circle cx="643.5" cy="416.2" r="1.45"/>
<circle cx="637.4" cy="415.2" r="1.45"/>
<circle cx="641.5" cy="415.6" r="1.45"/>
<circle cx="641.8" cy="414.0" r="1.45"/>
<circle cx="644.8" cy="413.5" r="1.45"/>
<circle cx="639.8" cy="415.8" r="1.45"/>
<circle cx="642.4" cy="411.3" r="1.45"/>
<circle cx="639.9" cy="413.2" r="1.45"/>
<circle cx="639.1" cy="417.5" r="1.45"/>
<circle cx="636.7" cy="414.6" r="1.45"/>
<circle cx="642.4" cy="414.3" r="1.45"/>
<circle cx="638.8" cy="419.9" r="1.45"/>
<circle cx="639.8" cy="419.0" r="1.45"/>
<circle cx="633.1" cy="416.1" r="1.45"/>
<circle cx="635.4" cy="417.5" r="1.45"/>
<circle cx="642.5" cy="419.2" r="1.45"/>
<circle cx="637.5" cy="415.8" r="1.45"/>
<circle cx="640.2" cy="418.2" r="1.45"/>
<circle cx="637.6" cy="418.7" r="1.45"/>
<circle cx="635.7" cy="421.2" r="1.45"/>
<circle cx="637.3" cy="420.7" r="1.45"/>
<circle cx="641.4" cy="417.1" r="1.45"/>
<circle cx="643.1" cy="414.2" r="1.45"/>
<circle cx="642.4" cy="418.6" r="1.45"/>
<circle cx="642.5" cy="418.3" r="1.45"/>
<circle cx="640.1" cy="417.2" r="1.45"/>
<circle cx="640.2" cy="417.1" r="1.45"/>
<circle cx="643.1" cy="414.6" r="1.45"/>
<circle cx="646.8" cy="415.4" r="1.45"/>
<circle cx="647.5" cy="412.8" r="1.45"/>
<circle cx="640.3" cy="415.7" r="1.45"/>
<circle cx="644.7" cy="407.7" r="1.45"/>
<circle cx="641.9" cy="410.1" r="1.45"/>
<circle cx="641.3" cy="418.4" r="1.45"/>
<circle cx="640.2" cy="414.3" r="1.45"/>
<circle cx="642.6" cy="416.2" r="1.45"/>
<circle cx="639.6" cy="418.0" r="1.45"/>
<circle cx="642.9" cy="414.5" r="1.45"/>
<circle cx="638.2" cy="416.9" r="1.45"/>
<circle cx="639.0" cy="416.3" r="1.45"/>
<circle cx="641.8" cy="418.0" r="1.45"/>
<circle cx="640.5" cy="411.9" r="1.45"/>
<circle cx="633.5" cy="420.8" r="1.45"/>
<circle cx="638.5" cy="423.7" r="1.45"/>
<circle cx="640.4" cy="415.1" r="1.45"/>
<circle cx="638.8" cy="418.7" r="1.45"/>
<circle cx="641.8" cy="414.7" r="1.45"/>
<circle cx="642.2" cy="414.5" r="1.45"/>
<circle cx="639.4" cy="418.7" r="1.45"/>
<circle cx="643.5" cy="408.9" r="1.45"/>
<circle cx="635.6" cy="418.2" r="1.45"/>
<circle cx="637.5" cy="416.1" r="1.45"/>
<circle cx="640.6" cy="413.8" r="1.45"/>
<circle cx="643.3" cy="416.2" r="1.45"/>
<circle cx="642.9" cy="412.7" r="1.45"/>
<circle cx="640.5" cy="417.9" r="1.45"/>
<circle cx="642.7" cy="412.2" r="1.45"/>
<circle cx="638.2" cy="412.1" r="1.45"/>
<circle cx="641.0" cy="417.7" r="1.45"/>
<circle cx="643.1" cy="414.7" r="1.45"/>
<circle cx="643.1" cy="413.8" r="1.45"/>
<circle cx="639.7" cy="418.9" r="1.45"/>
<circle cx="639.4" cy="415.4" r="1.45"/>
<circle cx="644.5" cy="417.5" r="1.45"/>
<circle cx="639.5" cy="419.9" r="1.45"/>
<circle cx="640.6" cy="416.6" r="1.45"/>
<circle cx="641.8" cy="412.7" r="1.45"/>
<circle cx="640.1" cy="414.7" r="1.45"/>
<circle cx="639.0" cy="413.7" r="1.45"/>
<circle cx="638.5" cy="421.3" r="1.45"/>
<circle cx="646.3" cy="418.8" r="1.45"/>
<circle cx="640.1" cy="416.9" r="1.45"/>
<circle cx="640.8" cy="421.6" r="1.45"/>
<circle cx="643.3" cy="411.1" r="1.45"/>
<circle cx="642.0" cy="417.8" r="1.45"/>
<circle cx="643.0" cy="414.9" r="1.45"/>
<circle cx="638.8" cy="416.2" r="1.45"/>
<circle cx="644.3" cy="417.4" r="1.45"/>
<circle cx="638.9" cy="419.0" r="1.45"/>
<circle cx="640.6" cy="418.0" r="1.45"/>
<circle cx="639.5" cy="416.5" r="1.45"/>
<circle cx="640.9" cy="417.9" r="1.45"/>
<circle cx="637.7" cy="412.7" r="1.45"/>
<circle cx="640.1" cy="419.4" r="1.45"/>
<circle cx="640.4" cy="413.1" r="1.45"/>
<circle cx="641.8" cy="410.7" r="1.45"/>
<circle cx="639.5" cy="411.4" r="1.45"/>
<circle cx="638.1" cy="415.6" r="1.45"/>
<circle cx="639.6" cy="417.8" r="1.45"/>
<circle cx="639.6" cy="414.5" r="1.45"/>
<circle cx="642.9" cy="415.7" r="1.45"/>
<circle cx="644.0" cy="414.2" r="1.45"/>
<circle cx="641.9" cy="415.7" r="1.45"/>
<circle cx="642.1" cy="420.2" r="1.45"/>
<circle cx="639.0" cy="418.4" r="1.45"/>
<circle cx="641.9" cy="415.3" r="1.45"/>
<circle cx="641.1" cy="415.3" r="1.45"/>
<circle cx="638.2" cy="419.7" r="1.45"/>
<circle cx="641.7" cy="414.5" r="1.45"/>
<circle cx="637.0" cy="420.5" r="1.45"/>
<circle cx="639.4" cy="415.3" r="1.45"/>
<circle cx="642.9" cy="412.6" r="1.45"/>
<circle cx="639.3" cy="422.2" r="1.45"/>
<circle cx="642.0" cy="418.1" r="1.45"/>
<circle cx="642.3" cy="413.8" r="1.45"/>
<circle cx="644.7" cy="420.4" r="1.45"/>
<circle cx="638.3" cy="415.8" r="1.45"/>
<circle cx="643.5" cy="416.2" r="1.45"/>
<circle cx="644.6" cy="413.6" r="1.45"/>
<circle cx="643.3" cy="412.0" r="1.45"/>
<circle cx="639.6" cy="421.7" r="1.45"/>
<circle cx="638.9" cy="416.9" r="1.45"/>
<circle cx="640.7" cy="416.1" r="1.45"/>
<circle cx="637.4" cy="414.6" r="1.45"/>
<circle cx="638.6" cy="417.0" r="1.45"/>
<circle cx="640.7" cy="416.7" r="1.45"/>
<circle cx="635.5" cy="416.5" r="1.45"/>
<circle cx="638.2" cy="416.4" r="1.45"/>
<circle cx="636.9" cy="416.0" r="1.45"/>
<circle cx="637.1" cy="417.5" r="1.45"/>
<circle cx="637.5" cy="415.0" r="1.45"/>
<circle cx="637.3" cy="420.2" r="1.45"/>
<circle cx="640.6" cy="413.0" r="1.45"/>
<circle cx="639.1" cy="415.1" r="1.45"/>
<circle cx="640.6" cy="416.0" r="1.45"/>
<circle cx="644.8" cy="411.8" r="1.45"/>
<circle cx="643.5" cy="416.2" r="1.45"/>
<circle cx="637.3" cy="416.8" r="1.45"/>
<circle cx="639.0" cy="418.4" r="1.45"/>
<circle cx="640.5" cy="417.5" r="1.45"/>
<circle cx="638.9" cy="419.2" r="1.45"/>
<circle cx="639.4" cy="417.7" r="1.45"/>
<circle cx="638.7" cy="416.1" r="1.45"/>
<circle cx="637.4" cy="418.6" r="1.45"/>
<circle cx="642.9" cy="417.7" r="1.45"/>
<circle cx="641.5" cy="415.6" r="1.45"/>
<circle cx="637.6" cy="420.8" r="1.45"/>
<circle cx="636.6" cy="417.2" r="1.45"/>
<circle cx="640.1" cy="414.1" r="1.45"/>
<circle cx="640.0" cy="417.1" r="1.45"/>
<circle cx="638.8" cy="414.8" r="1.45"/>
<circle cx="638.7" cy="419.3" r="1.45"/>
<circle cx="643.4" cy="417.3" r="1.45"/>
<circle cx="644.6" cy="412.4" r="1.45"/>
<circle cx="637.9" cy="415.0" r="1.45"/>
<circle cx="645.4" cy="413.7" r="1.45"/>
<circle cx="638.2" cy="419.7" r="1.45"/>
<circle cx="642.4" cy="413.6" r="1.45"/>
<circle cx="638.3" cy="411.8" r="1.45"/>
<circle cx="641.4" cy="416.9" r="1.45"/>
<circle cx="635.2" cy="414.5" r="1.45"/>
<circle cx="640.8" cy="416.9" r="1.45"/>
<circle cx="641.3" cy="418.3" r="1.45"/>
<circle cx="639.5" cy="416.9" r="1.45"/>
<circle cx="645.3" cy="415.5" r="1.45"/>
<circle cx="642.2" cy="414.0" r="1.45"/>
<circle cx="639.9" cy="419.1" r="1.45"/>
<circle cx="643.8" cy="417.6" r="1.45"/>
<circle cx="637.8" cy="411.5" r="1.45"/>
<circle cx="635.5" cy="415.6" r="1.45"/>
<circle cx="645.0" cy="419.1" r="1.45"/>
<circle cx="645.7" cy="415.4" r="1.45"/>
<circle cx="640.7" cy="410.9" r="1.45"/>
<circle cx="635.3" cy="418.8" r="1.45"/>
<circle cx="636.8" cy="413.6" r="1.45"/>
<circle cx="640.5" cy="420.0" r="1.45"/>
<circle cx="636.2" cy="421.9" r="1.45"/>
<circle cx="642.1" cy="414.5" r="1.45"/>
<circle cx="643.1" cy="414.5" r="1.45"/>
<circle cx="640.7" cy="412.9" r="1.45"/>
<circle cx="643.3" cy="416.6" r="1.45"/>
<circle cx="637.1" cy="417.6" r="1.45"/>
<circle cx="644.9" cy="418.8" r="1.45"/>
<circle cx="638.5" cy="413.3" r="1.45"/>
<circle cx="640.4" cy="414.6" r="1.45"/>
<circle cx="637.5" cy="410.8" r="1.45"/>
<circle cx="641.8" cy="415.9" r="1.45"/>
<circle cx="639.7" cy="419.7" r="1.45"/>
<circle cx="641.1" cy="415.7" r="1.45"/>
<circle cx="640.7" cy="413.1" r="1.45"/>
<circle cx="640.7" cy="417.7" r="1.45"/>
<circle cx="639.9" cy="414.8" r="1.45"/>
<circle cx="643.9" cy="414.0" r="1.45"/>
<circle cx="641.9" cy="419.2" r="1.45"/>
<circle cx="642.5" cy="415.6" r="1.45"/>
<circle cx="643.5" cy="410.7" r="1.45"/>
<circle cx="638.4" cy="419.2" r="1.45"/>
<circle cx="641.0" cy="419.0" r="1.45"/>
<circle cx="639.3" cy="417.9" r="1.45"/>
<circle cx="635.5" cy="419.5" r="1.45"/>
<circle cx="638.2" cy="416.4" r="1.45"/>
<circle cx="643.1" cy="418.4" r="1.45"/>
<circle cx="639.4" cy="416.6" r="1.45"/>
<circle cx="636.9" cy="418.6" r="1.45"/>
<circle cx="637.5" cy="418.6" r="1.45"/>
<circle cx="637.5" cy="416.3" r="1.45"/>
<circle cx="641.0" cy="414.8" r="1.45"/>
<circle cx="639.9" cy="416.5" r="1.45"/>
<circle cx="643.7" cy="414.3" r="1.45"/>
<circle cx="643.3" cy="414.9" r="1.45"/>
<circle cx="641.5" cy="418.5" r="1.45"/>
<circle cx="646.4" cy="412.8" r="1.45"/>
<circle cx="642.1" cy="416.6" r="1.45"/>
<circle cx="635.7" cy="416.9" r="1.45"/>
<circle cx="639.2" cy="417.5" r="1.45"/>
<circle cx="639.6" cy="417.2" r="1.45"/>
<circle cx="640.5" cy="419.4" r="1.45"/>
<circle cx="638.1" cy="415.7" r="1.45"/>
<circle cx="642.4" cy="415.5" r="1.45"/>
<circle cx="640.3" cy="412.4" r="1.45"/>
<circle cx="639.6" cy="416.0" r="1.45"/>
<circle cx="644.4" cy="419.6" r="1.45"/>
<circle cx="640.9" cy="416.1" r="1.45"/>
<circle cx="641.6" cy="413.1" r="1.45"/>
<circle cx="641.1" cy="415.1" r="1.45"/>
<circle cx="638.7" cy="417.1" r="1.45"/>
<circle cx="640.6" cy="416.4" r="1.45"/>
<circle cx="636.9" cy="414.5" r="1.45"/>
<circle cx="638.5" cy="419.0" r="1.45"/>
<circle cx="640.8" cy="415.3" r="1.45"/>
<circle cx="642.7" cy="414.0" r="1.45"/>
<circle cx="639.8" cy="416.8" r="1.45"/>
<circle cx="644.4" cy="415.4" r="1.45"/>
<circle cx="642.0" cy="419.8" r="1.45"/>
<circle cx="641.2" cy="415.7" r="1.45"/>
<circle cx="642.9" cy="414.8" r="1.45"/>
<circle cx="641.2" cy="414.0" r="1.45"/>
<circle cx="637.7" cy="418.8" r="1.45"/>
<circle cx="640.0" cy="417.5" r="1.45"/>
<circle cx="641.6" cy="419.4" r="1.45"/>
<circle cx="639.0" cy="416.3" r="1.45"/>
<circle cx="640.0" cy="419.5" r="1.45"/>
<circle cx="634.6" cy="419.0" r="1.45"/>
<circle cx="636.7" cy="417.9" r="1.45"/>
<circle cx="639.1" cy="418.0" r="1.45"/>
<circle cx="640.4" cy="414.8" r="1.45"/>
<circle cx="636.1" cy="416.5" r="1.45"/>
<circle cx="639.0" cy="415.4" r="1.45"/>
<circle cx="640.9" cy="420.1" r="1.45"/>
<circle cx="640.1" cy="418.0" r="1.45"/>
<circle cx="643.7" cy="414.1" r="1.45"/>
<circle cx="642.8" cy="417.3" r="1.45"/>
<circle cx="639.5" cy="416.2" r="1.45"/>
<circle cx="645.3" cy="416.0" r="1.45"/>
<circle cx="640.7" cy="415.4" r="1.45"/>
<circle cx="640.8" cy="415.8" r="1.45"/>
<circle cx="640.3" cy="418.3" r="1.45"/>
<circle cx="641.6" cy="413.4" r="1.45"/>
<circle cx="639.5" cy="416.5" r="1.45"/>
<circle cx="639.6" cy="416.4" r="1.45"/>
<circle cx="641.1" cy="414.4" r="1.45"/>
<circle cx="643.6" cy="411.2" r="1.45"/>
<circle cx="636.8" cy="420.3" r="1.45"/>
<circle cx="639.7" cy="420.5" r="1.45"/>
<circle cx="636.6" cy="420.9" r="1.45"/>
<circle cx="641.1" cy="417.9" r="1.45"/>
<circle cx="638.8" cy="412.9" r="1.45"/>
<circle cx="641.3" cy="417.3" r="1.45"/>
<circle cx="635.6" cy="419.9" r="1.45"/>
<circle cx="642.7" cy="417.1" r="1.45"/>
<circle cx="640.8" cy="413.6" r="1.45"/>
<circle cx="642.5" cy="414.7" r="1.45"/>
<circle cx="640.6" cy="415.0" r="1.45"/>
<circle cx="639.7" cy="418.2" r="1.45"/>
<circle cx="642.6" cy="419.5" r="1.45"/>
<circle cx="639.6" cy="415.8" r="1.45"/>
<circle cx="639.9" cy="416.3" r="1.45"/>
<circle cx="639.0" cy="417.4" r="1.45"/>
<circle cx="638.1" cy="418.5" r="1.45"/>
<circle cx="640.6" cy="416.6" r="1.45"/>
<circle cx="641.4" cy="414.8" r="1.45"/>
<circle cx="640.1" cy="418.4" r="1.45"/>
<circle cx="636.1" cy="416.7" r="1.45"/>
<circle cx="638.3" cy="413.9" r="1.45"/>
<circle cx="640.1" cy="418.7" r="1.45"/>
<circle cx="638.8" cy="417.1" r="1.45"/>
<circle cx="644.7" cy="418.8" r="1.45"/>
<circle cx="642.2" cy="420.3" r="1.45"/>
<circle cx="640.7" cy="414.3" r="1.45"/>
<circle cx="638.7" cy="416.6" r="1.45"/>
<circle cx="643.9" cy="413.0" r="1.45"/>
<circle cx="634.7" cy="420.0" r="1.45"/>
<circle cx="640.2" cy="417.3" r="1.45"/>
<circle cx="636.5" cy="419.3" r="1.45"/>
<circle cx="638.2" cy="415.4" r="1.45"/>
<circle cx="642.9" cy="414.0" r="1.45"/>
<circle cx="642.6" cy="413.3" r="1.45"/>
<circle cx="643.4" cy="416.4" r="1.45"/>
<circle cx="640.2" cy="419.2" r="1.45"/>
<circle cx="638.0" cy="420.4" r="1.45"/>
<circle cx="640.8" cy="411.6" r="1.45"/>
<circle cx="643.2" cy="415.4" r="1.45"/>
<circle cx="640.7" cy="415.8" r="1.45"/>
<circle cx="637.0" cy="412.6" r="1.45"/>
<circle cx="640.3" cy="415.7" r="1.45"/>
<circle cx="639.6" cy="415.3" r="1.45"/>
<circle cx="639.0" cy="416.7" r="1.45"/>
<circle cx="643.3" cy="410.6" r="1.45"/>
<circle cx="642.5" cy="410.7" r="1.45"/>
<circle cx="641.5" cy="418.9" r="1.45"/>
<circle cx="641.3" cy="414.8" r="1.45"/>
<circle cx="640.3" cy="411.5" r="1.45"/>
<circle cx="642.1" cy="413.6" r="1.45"/>
<circle cx="638.1" cy="415.6" r="1.45"/>
<circle cx="643.0" cy="420.1" r="1.45"/>
<circle cx="645.5" cy="417.0" r="1.45"/>
<circle cx="637.2" cy="413.3" r="1.45"/>
<circle cx="643.7" cy="419.6" r="1.45"/>
<circle cx="637.2" cy="416.1" r="1.45"/>
<circle cx="640.3" cy="417.5" r="1.45"/>
<circle cx="639.7" cy="414.7" r="1.45"/>
<circle cx="642.9" cy="415.1" r="1.45"/>
<circle cx="636.8" cy="416.7" r="1.45"/>
</g>
<line x1="563.4" y1="438.0" x2="680.9" y2="404.8" stroke="#4787DE" stroke-width="1.0" stroke-dasharray="2.5 2.5"/>
<rect x="563.4" y="376.5" width="117.5" height="116.5" fill="none" stroke="#777" stroke-width="0.8"/>
<line x1="559.8" x2="563.4" y1="493.0" y2="493.0" stroke="#777" stroke-width="0.7"/>
<text x="556.90" y="495.60" font-size="7.7" text-anchor="end" fill="#222" >0</text>
<line x1="563.4" x2="563.4" y1="493" y2="496.6" stroke="#777" stroke-width="0.7"/>
<text x="563.60" y="507.30" font-size="7.7" text-anchor="middle" fill="#222" >0</text>
<line x1="559.8" x2="563.4" y1="454.2" y2="454.2" stroke="#777" stroke-width="0.7"/>
<text x="556.90" y="456.77" font-size="7.7" text-anchor="end" fill="#222" textLength="10.6" lengthAdjust="spacingAndGlyphs" >0.5</text>
<line x1="602.6" x2="602.6" y1="493" y2="496.6" stroke="#777" stroke-width="0.7"/>
<text x="602.77" y="507.30" font-size="7.7" text-anchor="middle" fill="#222" textLength="10.6" lengthAdjust="spacingAndGlyphs" >0.5</text>
<line x1="559.8" x2="563.4" y1="415.3" y2="415.3" stroke="#777" stroke-width="0.7"/>
<text x="556.90" y="417.93" font-size="7.7" text-anchor="end" fill="#222" textLength="10.2" lengthAdjust="spacingAndGlyphs" >1.0</text>
<line x1="641.7" x2="641.7" y1="493" y2="496.6" stroke="#777" stroke-width="0.7"/>
<text x="641.93" y="507.30" font-size="7.7" text-anchor="middle" fill="#222" textLength="10.2" lengthAdjust="spacingAndGlyphs" >1.0</text>
<line x1="559.8" x2="563.4" y1="376.5" y2="376.5" stroke="#777" stroke-width="0.7"/>
<text x="556.90" y="379.10" font-size="7.7" text-anchor="end" fill="#222" textLength="9.6" lengthAdjust="spacingAndGlyphs" >1.5</text>
<line x1="680.9" x2="680.9" y1="493" y2="496.6" stroke="#777" stroke-width="0.7"/>
<text x="681.10" y="507.30" font-size="7.7" text-anchor="middle" fill="#222" textLength="9.6" lengthAdjust="spacingAndGlyphs" >1.5</text>
<text x="566.8" y="385.5" font-size="7.4" fill="#222" textLength="74" lengthAdjust="spacingAndGlyphs"><tspan font-style="italic">Y</tspan> = 0.2851×<tspan font-style="italic">X</tspan> + 0.7085</text>
<text x="566.8" y="394.2" font-size="7.4" fill="#222" textLength="35.1" lengthAdjust="spacingAndGlyphs"><tspan font-style="italic">R</tspan> = 0.2212</text>
<text x="540.40" y="431.90" font-size="8.4" text-anchor="middle" fill="#222" transform="rotate(-90 540.40 431.90)" textLength="83.4" lengthAdjust="spacingAndGlyphs" >Fold change (AD/MCI)</text>
<text x="622.30" y="521.60" font-size="8.4" text-anchor="middle" fill="#222" textLength="107.2" lengthAdjust="spacingAndGlyphs" >Fold change (MCI/healthy)</text>
</g>
</svg>
</body></html>
